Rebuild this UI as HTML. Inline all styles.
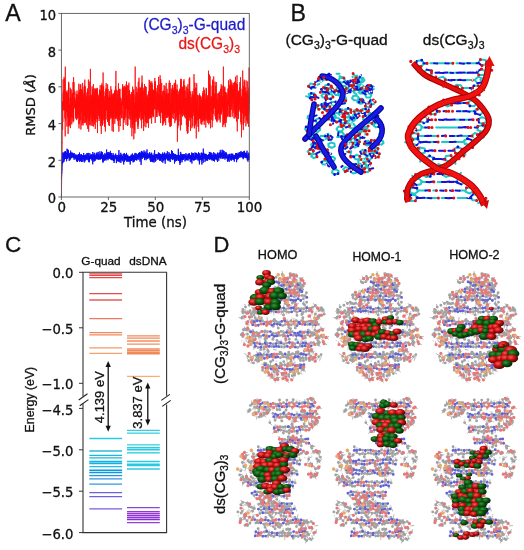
<!DOCTYPE html>
<html><head><meta charset="utf-8"><title>Figure</title>
<style>
html,body{margin:0;padding:0;background:#fff;}
body{width:524px;height:550px;overflow:hidden;position:relative;}
svg{position:absolute;left:0;top:0;display:block;filter:blur(0.3px);}
text[fill="#111"]{stroke:#111;stroke-width:0.3px;}
text[fill="#1c1cc8"]{stroke:#1c1cc8;stroke-width:0.25px;}
text[fill="#e61818"]{stroke:#e61818;stroke-width:0.25px;}
</style></head><body>
<svg width="524" height="550" viewBox="0 0 524 550">
<rect width="524" height="550" fill="#fff"/>
<text x="290.4" y="20.6" font-family="'Liberation Sans', Arial, Helvetica, sans-serif" font-size="23.2" fill="#111">B</text>
<text x="336.6" y="45" text-anchor="middle" font-family="'Liberation Sans', Arial, Helvetica, sans-serif" font-size="15.5" fill="#111">(CG<tspan font-size="10.5" dy="3.5">3</tspan><tspan dy="-3.5">)</tspan><tspan font-size="10.5" dy="3.5">3</tspan><tspan dy="-3.5">-G-quad</tspan></text>
<text x="453.7" y="45" text-anchor="middle" font-family="'Liberation Sans', Arial, Helvetica, sans-serif" font-size="15.5" fill="#111">ds(CG<tspan font-size="10.5" dy="3.5">3</tspan><tspan dy="-3.5">)</tspan><tspan font-size="10.5" dy="3.5">3</tspan></text>
<path fill="none" stroke="#1ec8c8" stroke-width="2.00" stroke-linecap="round" d="M424.4 63.6L421.0 66.5M421.0 66.5L416.2 65.0M416.7 61.1L421.7 60.2M421.7 60.2L424.4 63.6M486.6 63.7L482.0 65.6M478.3 62.9L480.4 59.4M480.4 59.4L485.6 59.9M485.6 59.9L486.6 63.7M430.3 63.3L434.1 63.3M437.2 63.3L441.1 63.3M441.1 63.3L445.3 63.3M448.6 63.3L452.9 63.3M456.5 63.3L459.8 63.3M464.0 63.3L467.3 63.3M469.9 63.3L473.8 63.3M473.8 63.3L476.6 63.3M431.6 74.7L426.6 75.9M426.6 75.9L423.6 72.7M423.6 72.7L426.7 69.6M431.6 70.8L431.6 74.7M484.0 75.1L478.8 75.0M478.8 75.0L477.3 71.3M481.5 69.1L485.6 71.4M485.6 71.4L484.0 75.1M447.1 72.7L450.5 72.7M453.0 72.7L457.0 72.7M464.6 72.7L467.6 72.7M477.4 72.7L477.9 72.7M445.1 82.3L440.9 83.4M440.9 83.4L437.7 81.2M437.7 81.2L438.6 77.9M438.6 77.9L442.8 76.9M442.8 76.9L446.0 79.1M446.0 79.1L445.1 82.3M477.4 83.2L474.6 79.9M474.6 79.9L477.9 76.9M477.9 76.9L482.7 78.4M482.7 78.4L482.4 82.2M454.7 80.1L458.2 80.1M465.2 80.1L468.6 80.1M468.6 80.1L472.5 80.1M462.5 88.3L459.8 90.9M459.8 90.9L455.4 90.5M455.4 90.5L453.8 87.4M453.8 87.4L456.4 84.8M456.4 84.8L460.8 85.3M460.8 85.3L462.5 88.3M480.4 88.7L478.2 91.6M478.2 91.6L473.8 91.5M473.8 91.5L471.6 88.6M471.6 88.6L473.9 85.8M473.9 85.8L478.3 85.8M478.3 85.8L480.4 88.7M461.6 87.9L465.6 87.9M465.6 87.9L469.8 87.9M451.6 104.9L447.6 106.4M447.6 106.4L443.9 104.6M443.9 104.6L444.1 101.3M444.1 101.3L448.1 99.8M448.1 99.8L451.8 101.6M451.8 101.6L451.6 104.9M476.7 103.3L474.3 106.1M474.3 106.1L469.9 106.0M469.9 106.0L467.9 103.0M467.9 103.0L470.2 100.3M470.2 100.3L474.6 100.4M474.6 100.4L476.7 103.3M460.5 103.1L463.3 103.1M437.6 111.6L435.1 114.3M435.1 114.3L430.7 114.1M430.7 114.1L428.8 111.1M428.8 111.1L431.4 108.4M431.4 108.4L435.7 108.6M483.2 111.9L480.0 114.9M475.1 113.4L475.5 109.6M475.5 109.6L480.5 108.6M480.5 108.6L483.2 111.9M460.1 111.3L463.3 111.3M469.6 111.3L474.1 111.3M427.6 121.4L423.8 122.9M423.8 122.9L420.0 121.2M420.1 117.9L424.0 116.4M424.0 116.4L427.8 118.1M427.8 118.1L427.6 121.4M486.5 121.6L483.1 123.7M483.1 123.7L479.0 122.6M478.3 119.3L481.7 117.2M481.7 117.2L485.8 118.4M485.8 118.4L486.5 121.6M454.7 119.7L457.5 119.7M457.5 119.7L460.1 119.7M464.3 119.7L468.8 119.7M420.7 129.9L416.4 130.5M413.5 128.0L415.0 124.9M415.0 124.9L419.3 124.3M419.3 124.3L422.1 126.8M422.1 126.8L420.7 129.9M485.6 128.6L482.3 131.6M482.3 131.6L477.5 130.2M477.5 130.2L477.8 126.3M477.8 126.3L482.7 125.3M482.7 125.3L485.6 128.6M421.3 127.4L425.1 127.4M436.2 127.4L440.5 127.4M440.5 127.4L443.9 127.4M443.9 127.4L448.1 127.4M448.1 127.4L452.2 127.4M452.2 127.4L455.2 127.4M455.2 127.4L458.9 127.4M418.0 137.9L413.1 139.0M413.1 139.0L410.1 135.8M410.1 135.8L413.2 132.7M413.2 132.7L418.1 134.0M479.2 138.3L474.2 139.2M474.2 139.2L471.4 136.0M471.4 136.0L474.7 133.0M474.7 133.0L479.5 134.4M479.5 134.4L479.2 138.3M418.0 135.9L422.5 135.9M422.5 135.9L425.1 135.9M431.1 135.9L434.3 135.9M434.3 135.9L437.9 135.9M454.0 135.9L457.6 135.9M461.7 135.9L465.4 135.9M465.4 135.9L468.9 135.9M416.5 145.2L411.9 143.4M411.9 143.4L412.8 139.6M412.8 139.6L417.9 139.0M417.9 139.0L420.2 142.5M472.2 143.2L468.8 145.2M468.8 145.2L464.7 144.0M464.7 144.0L464.0 140.7M464.0 140.7L467.5 138.7M471.6 139.9L472.2 143.2M429.9 141.9L434.0 141.9M441.9 141.9L446.2 141.9M446.2 141.9L449.8 141.9M455.7 141.9L458.7 141.9M458.7 141.9L463.1 141.9M463.1 141.9L464.6 141.9M425.0 152.5L420.2 153.9M420.2 153.9L417.0 150.8M417.0 150.8L419.8 147.6M419.8 147.6L424.8 148.6M424.8 148.6L425.0 152.5M460.6 152.9L455.4 153.0M455.4 153.0L453.7 149.3M453.7 149.3L457.9 147.0M457.9 147.0L462.1 149.2M462.1 149.2L460.6 152.9M432.3 161.8L427.1 161.8M427.1 161.8L425.4 158.2M425.4 158.2L429.6 155.8M429.6 155.8L433.8 158.1M433.8 158.1L432.3 161.8M453.2 159.1L449.3 161.7M449.3 161.7L444.8 159.8M444.8 159.8L445.9 156.0M445.9 156.0L451.0 155.6M451.0 155.6L453.2 159.1M441.4 167.3L439.0 168.6M439.0 168.6L436.3 167.6M436.3 167.6L436.0 165.4M436.0 165.4L438.5 164.1M438.5 164.1L441.2 165.1M441.2 165.1L441.4 167.3M430.3 176.4L426.0 177.1M426.0 177.1L423.1 174.7M423.1 174.7L424.4 171.5M428.7 170.9L431.7 173.3M431.7 173.3L430.3 176.4M450.1 175.8L445.9 176.9M445.9 176.9L442.6 174.7M447.6 170.4L450.9 172.5M450.9 172.5L450.1 175.8M420.8 184.2L416.5 185.1M413.4 182.8L414.4 179.6M414.4 179.6L418.7 178.7M418.7 178.7L421.8 181.0M421.8 181.0L420.8 184.2M465.1 181.8L461.4 184.4M456.8 182.5L457.8 178.7M457.8 178.7L463.0 178.3M463.0 178.3L465.1 181.8M421.1 181.9L424.0 181.9M424.0 181.9L426.6 181.9M437.7 181.9L441.9 181.9M418.0 191.4L415.0 193.7M415.0 193.7L410.7 192.9M410.7 192.9L409.5 189.7M409.5 189.7L412.6 187.4M416.9 188.2L418.0 191.4M473.6 190.9L469.8 193.5M469.8 193.5L465.3 191.6M465.3 191.6L466.4 187.8M466.4 187.8L471.5 187.4M471.5 187.4L473.6 190.9M417.3 190.6L421.0 190.6M421.0 190.6L425.4 190.6M433.2 190.6L436.4 190.6M443.4 190.6L446.0 190.6M459.7 190.6L462.2 190.6M462.2 190.6L465.8 190.6M415.4 200.7L411.0 200.9M411.0 200.9L408.6 198.1M410.6 195.1L415.0 194.9M415.0 194.9L417.4 197.7M417.4 197.7L415.4 200.7M479.2 197.7L476.7 200.4M476.7 200.4L472.3 200.1M472.3 200.1L470.5 197.1M473.0 194.4L477.4 194.7M477.4 194.7L479.2 197.7M424.5 197.9L427.9 197.9M431.4 197.9L434.1 197.9M434.1 197.9L438.4 197.9M441.6 197.9L445.4 197.9M457.7 197.9L460.4 197.9M460.4 197.9L464.0 197.9M464.0 197.9L467.5 197.9M418.3 68.3L421.6 69.2M435.7 79.8L431.8 79.9M453.0 87.4L459.1 89.5M471.0 98.5L468.4 96.6M481.2 106.8L478.1 109.2M487.0 117.9L487.0 115.0M489.1 127.1L489.8 124.4M483.8 137.5L480.2 138.1M467.6 145.7L466.7 143.6M463.3 152.5L465.5 154.5M454.2 159.4L455.5 163.9M440.5 165.6L437.3 165.7M427.7 172.9L430.9 173.8M415.2 177.7L412.2 175.8M412.9 185.3L414.9 183.9M404.8 193.1L410.8 195.1M408.5 200.7L408.3 197.0M488.4 67.4L486.1 67.8M482.1 81.2L480.4 79.7M476.6 93.7L472.0 90.9M458.7 97.1L460.4 98.9M447.9 104.3L447.4 102.3M433.3 110.7L431.1 108.5M418.2 116.0L421.3 118.7M413.3 126.3L416.6 125.0M411.2 135.0L406.2 136.0M411.0 141.5L405.1 142.2M413.7 149.0L419.6 149.6M422.3 157.3L420.1 161.6M435.9 164.2L430.6 164.0M444.7 172.3L441.9 172.9M458.2 176.6L460.9 172.9M466.2 180.2L462.2 180.0M477.9 192.5L477.0 190.4M481.9 202.3L478.1 203.0"/>
<path fill="none" stroke="#1212d8" stroke-width="2.00" stroke-linecap="round" d="M416.2 65.0L416.7 61.1M482.0 65.6L478.3 62.9M423.5 63.3L427.1 63.6M434.1 63.3L437.2 63.6M445.3 63.3L448.6 63.5M459.8 63.3L464.0 63.7M467.3 63.3L469.9 63.3M476.6 63.3L479.1 63.2M426.7 69.6L431.6 70.8M477.3 71.3L481.5 69.1M435.5 72.7L439.5 72.6M439.5 72.7L443.6 73.1M443.6 72.7L447.1 72.4M450.5 72.7L453.0 73.0M457.0 72.7L461.0 72.6M461.0 72.7L464.6 72.4M467.6 72.7L470.5 72.6M470.5 72.7L473.1 72.4M473.1 72.7L477.4 72.8M482.4 82.2L477.4 83.2M448.2 80.1L451.5 80.6M451.5 80.1L454.7 79.9M458.2 80.1L460.8 79.7M460.8 80.1L465.2 80.3M469.8 87.9L472.5 87.9M451.4 103.1L454.3 103.3M454.3 103.1L457.9 103.6M457.9 103.1L460.5 103.3M463.3 103.1L466.9 103.1M435.7 108.6L437.6 111.6M480.0 114.9L475.1 113.4M436.7 111.3L439.4 111.2M443.5 111.3L446.2 111.1M456.8 111.3L460.1 111.3M463.3 111.3L466.8 111.1M466.8 111.3L469.6 111.7M474.1 111.3L475.4 111.6M420.0 121.2L420.1 117.9M479.0 122.6L478.3 119.3M427.4 119.7L431.8 120.1M438.9 119.7L443.3 120.1M443.3 119.7L446.6 119.2M446.6 119.7L450.7 119.7M450.7 119.7L454.7 119.5M460.1 119.7L464.3 119.7M468.8 119.7L473.1 119.4M416.4 130.5L413.5 128.0M425.1 127.4L429.0 127.4M458.9 127.4L461.8 127.5M461.8 127.4L465.0 127.1M465.0 127.4L468.0 127.1M474.7 127.4L477.7 127.5M418.1 134.0L418.0 137.9M425.1 135.9L428.4 135.8M428.4 135.9L431.1 135.8M441.9 135.9L445.7 135.5M449.8 135.9L454.0 136.0M457.6 135.9L461.7 135.5M468.9 135.9L472.0 135.9M420.2 142.5L416.5 145.2M467.5 138.7L471.6 139.9M419.3 141.9L422.8 142.2M422.8 141.9L427.0 141.7M427.0 141.9L429.9 142.2M434.0 141.9L438.1 142.1M449.8 141.9L452.7 141.9M452.7 141.9L455.7 141.7M424.9 150.7L428.3 151.2M428.3 150.7L432.0 150.3M432.0 150.7L435.0 150.6M439.0 150.7L442.1 150.8M442.1 150.7L444.9 150.9M448.4 150.7L452.8 150.7M452.8 150.7L454.4 150.5M433.2 159.1L436.6 158.9M436.6 159.1L440.8 159.1M440.8 159.1L444.0 159.6M444.0 159.1L445.3 159.2M424.4 171.5L428.7 170.9M442.6 174.7L443.4 171.5M443.4 171.5L447.6 170.4M430.9 174.0L433.9 174.0M437.3 174.0L440.4 173.7M440.4 174.0L443.3 173.6M416.5 185.1L413.4 182.8M461.4 184.4L456.8 182.5M426.6 181.9L430.3 182.2M430.3 181.9L433.9 181.5M441.9 181.9L445.7 182.1M445.7 181.9L449.5 181.6M449.5 181.9L453.7 181.8M453.7 181.9L457.3 181.7M412.6 187.4L416.9 188.2M425.4 190.6L429.6 190.3M440.2 190.6L443.4 190.8M450.0 190.6L452.6 191.0M455.4 190.6L459.7 190.8M408.6 198.1L410.6 195.1M470.5 197.1L473.0 194.4M416.5 197.9L420.4 198.1M420.4 197.9L424.5 197.8M427.9 197.9L431.4 198.2M445.4 197.9L449.6 198.3M449.6 197.9L453.8 197.9M467.5 197.9L471.4 198.2"/>

<path fill="none" stroke="#1010d0" stroke-width="2.80" stroke-linecap="round" d="M421.7 60.2h0M471.6 88.6h0M473.9 85.8h0M469.9 106.0h0M475.1 113.4h0M427.6 121.4h0M423.8 122.9h0M478.3 119.3h0M413.5 128.0h0M482.7 125.3h0M479.5 134.4h0M417.9 139.0h0M467.5 138.7h0M420.2 153.9h0M417.0 150.8h0M457.9 147.0h0M425.4 158.2h0M429.6 155.8h0M433.8 158.1h0M453.2 159.1h0M430.3 176.4h0M465.1 181.8h0M416.9 188.2h0M410.6 195.1h0M417.4 197.7h0"/>
<path fill="none" stroke="#e01010" stroke-width="3.00" stroke-linecap="round" d="M421.0 66.5h0M486.6 63.7h0M482.0 65.6h0M480.4 59.4h0M427.1 63.3h0M452.9 63.3h0M431.6 70.8h0M478.8 75.0h0M481.5 69.1h0M431.5 72.7h0M440.9 83.4h0M445.3 80.1h0M472.5 80.1h0M462.5 88.3h0M480.4 88.7h0M478.2 91.6h0M478.3 85.8h0M472.5 87.9h0M451.6 104.9h0M443.9 104.6h0M448.1 99.8h0M467.9 103.0h0M474.6 100.4h0M466.9 103.1h0M435.1 114.3h0M430.7 114.1h0M428.8 111.1h0M439.4 111.3h0M446.2 111.3h0M448.7 111.3h0M452.5 111.3h0M420.0 121.2h0M424.0 116.4h0M427.8 118.1h0M483.1 123.7h0M431.8 119.7h0M435.6 119.7h0M473.1 119.7h0M477.3 119.7h0M415.0 124.9h0M477.8 126.3h0M429.0 127.4h0M432.0 127.4h0M468.0 127.4h0M470.7 127.4h0M413.2 132.7h0M418.1 134.0h0M437.9 135.9h0M445.7 135.9h0M472.0 135.9h0M412.8 139.6h0M438.1 141.9h0M455.4 153.0h0M453.7 149.3h0M462.1 149.2h0M435.0 150.7h0M444.9 150.7h0M444.8 159.8h0M451.0 155.6h0M441.4 167.3h0M423.1 174.7h0M443.4 171.5h0M450.9 172.5h0M433.9 174.0h0M433.9 181.9h0M466.4 187.8h0M429.6 190.6h0M436.4 190.6h0M446.0 190.6h0M452.6 190.6h0M415.4 200.7h0M476.7 200.4h0M438.4 197.9h0M453.8 197.9h0M418.8 71.2h0M418.6 67.4h0M436.9 80.3h0M435.9 77.1h0M456.3 86.7h0M457.5 86.8h0M469.0 94.5h0M472.8 99.2h0M477.3 109.2h0M478.8 106.8h0M486.0 115.7h0M486.7 118.9h0M485.3 125.6h0M490.0 124.9h0M480.5 133.0h0M477.3 134.8h0M473.6 142.9h0M472.6 147.5h0M463.8 156.0h0M463.7 150.5h0M454.2 161.2h0M450.9 162.2h0M438.2 168.3h0M441.3 166.6h0M430.3 170.9h0M427.5 174.9h0M419.4 176.8h0M415.6 174.5h0M411.8 181.2h0M413.3 185.2h0M407.9 192.3h0M404.3 191.1h0M410.9 198.2h0M405.6 198.7h0M486.6 67.4h0M491.8 70.3h0M484.5 79.4h0M486.4 79.6h0M477.6 94.0h0M479.3 94.9h0M460.0 96.0h0M461.3 100.1h0M443.6 99.9h0M443.2 102.7h0M431.9 107.6h0M428.9 107.1h0M420.0 120.4h0M418.3 118.8h0M415.5 128.8h0M408.9 126.8h0M410.9 132.0h0M407.3 133.7h0M411.6 140.6h0M411.4 142.7h0M417.9 153.2h0M418.3 147.9h0M425.0 160.2h0M425.0 160.0h0M429.9 165.6h0M435.1 166.1h0M444.9 168.9h0M441.5 170.0h0M459.4 177.7h0M453.0 174.1h0M467.9 183.5h0M466.0 182.1h0M478.2 193.4h0M473.7 192.5h0M485.2 200.4h0M485.9 198.3h0"/>
<path fill="none" stroke="#f4f4f4" stroke-width="1.80" stroke-linecap="round" d="M414.2 65.9h0M414.8 59.9h0M445.3 61.0h0M448.6 65.6h0M456.5 61.0h0M476.6 65.6h0M425.7 77.9h0M443.6 75.0h0M464.6 70.4h0M473.1 75.0h0M477.4 70.4h0M484.3 83.4h0M472.4 79.8h0M445.3 82.4h0M454.7 82.4h0M472.5 77.8h0M461.6 90.2h0M472.5 90.2h0M469.0 98.5h0M466.9 100.8h0M473.6 108.4h0M439.4 109.0h0M456.8 113.6h0M460.1 113.6h0M427.4 117.4h0M468.8 117.4h0M473.1 117.4h0M477.3 117.4h0M487.8 128.6h0M483.1 133.6h0M432.0 125.1h0M436.2 125.1h0M461.8 125.1h0M407.9 135.8h0M428.4 138.2h0M449.8 138.2h0M465.4 133.6h0M472.0 138.2h0M409.8 144.1h0M474.3 143.8h0M461.9 140.1h0M473.5 138.8h0M419.3 144.2h0M427.0 144.2h0M446.2 139.6h0M462.2 154.5h0M432.0 153.0h0M452.8 148.4h0M449.7 163.9h0M433.2 161.4h0M444.0 161.4h0M438.3 161.9h0M443.2 164.1h0M429.6 168.8h0M454.8 183.3h0M456.1 177.3h0M430.3 184.2h0M433.9 184.2h0M437.7 179.6h0M407.4 189.3h0M475.8 191.3h0M450.0 188.3h0M452.6 188.3h0M468.3 197.0h0M431.4 195.6h0M438.4 195.6h0M457.7 200.2h0M441.1 83.9h0M450.1 92.4h0M485.4 105.4h0M488.9 119.9h0M436.6 163.7h0M414.8 181.0h0M406.7 196.7h0M479.0 92.6h0M459.8 94.7h0M442.9 105.6h0M436.6 108.3h0M424.4 121.4h0M414.9 129.3h0M408.0 138.6h0M435.8 169.9h0M442.4 168.1h0M457.4 174.3h0M478.4 199.1h0"/>
<path d="M413.0 63.0 C415.0 65.0 419.5 71.3 425.0 75.0 C430.5 78.7 439.7 82.0 446.0 85.0 C452.3 88.0 458.0 90.3 463.0 93.0 C468.0 95.7 472.2 97.7 476.0 101.0 C479.8 104.3 483.8 109.7 486.0 113.0 C488.2 116.3 489.0 118.0 489.0 121.0 C489.0 124.0 488.2 127.7 486.0 131.0 C483.8 134.3 479.5 137.8 476.0 141.0 C472.5 144.2 468.2 147.3 465.0 150.0 C461.8 152.7 460.0 154.5 457.0 157.0 C454.0 159.5 450.8 162.8 447.0 165.0 C443.2 167.2 438.3 168.5 434.0 170.0 C429.7 171.5 424.5 172.3 421.0 174.0 C417.5 175.7 415.2 177.7 413.0 180.0 C410.8 182.3 409.0 185.0 408.0 188.0 C407.0 191.0 407.0 195.7 407.0 198.0 C407.0 200.3 407.8 201.3 408.0 202.0" fill="none" stroke="#a00000" stroke-width="5.8" stroke-linecap="butt" stroke-linejoin="round"/>
<path d="M413.0 63.0 C415.0 65.0 419.5 71.3 425.0 75.0 C430.5 78.7 439.7 82.0 446.0 85.0 C452.3 88.0 458.0 90.3 463.0 93.0 C468.0 95.7 472.2 97.7 476.0 101.0 C479.8 104.3 483.8 109.7 486.0 113.0 C488.2 116.3 489.0 118.0 489.0 121.0 C489.0 124.0 488.2 127.7 486.0 131.0 C483.8 134.3 479.5 137.8 476.0 141.0 C472.5 144.2 468.2 147.3 465.0 150.0 C461.8 152.7 460.0 154.5 457.0 157.0 C454.0 159.5 450.8 162.8 447.0 165.0 C443.2 167.2 438.3 168.5 434.0 170.0 C429.7 171.5 424.5 172.3 421.0 174.0 C417.5 175.7 415.2 177.7 413.0 180.0 C410.8 182.3 409.0 185.0 408.0 188.0 C407.0 191.0 407.0 195.7 407.0 198.0 C407.0 200.3 407.8 201.3 408.0 202.0" fill="none" stroke="#e80c0c" stroke-width="3.8" stroke-linecap="butt" stroke-linejoin="round"/>
<path d="M489.0 61.0 C488.7 63.3 488.2 70.5 487.0 75.0 C485.8 79.5 484.8 84.5 482.0 88.0 C479.2 91.5 474.8 94.0 470.0 96.0 C465.2 98.0 458.3 98.5 453.0 100.0 C447.7 101.5 442.7 102.8 438.0 105.0 C433.3 107.2 428.8 110.2 425.0 113.0 C421.2 115.8 417.5 119.2 415.0 122.0 C412.5 124.8 411.2 127.5 410.0 130.0 C408.8 132.5 407.8 134.3 408.0 137.0 C408.2 139.7 409.2 143.0 411.0 146.0 C412.8 149.0 416.0 152.2 419.0 155.0 C422.0 157.8 425.8 160.7 429.0 163.0 C432.2 165.3 434.3 167.3 438.0 169.0 C441.7 170.7 447.2 171.5 451.0 173.0 C454.8 174.5 457.5 175.8 461.0 178.0 C464.5 180.2 468.8 183.0 472.0 186.0 C475.2 189.0 478.0 192.8 480.0 196.0 C482.0 199.2 483.3 203.5 484.0 205.0" fill="none" stroke="#a80000" stroke-width="6.6" stroke-linecap="butt" stroke-linejoin="round"/>
<path d="M489.0 61.0 C488.7 63.3 488.2 70.5 487.0 75.0 C485.8 79.5 484.8 84.5 482.0 88.0 C479.2 91.5 474.8 94.0 470.0 96.0 C465.2 98.0 458.3 98.5 453.0 100.0 C447.7 101.5 442.7 102.8 438.0 105.0 C433.3 107.2 428.8 110.2 425.0 113.0 C421.2 115.8 417.5 119.2 415.0 122.0 C412.5 124.8 411.2 127.5 410.0 130.0 C408.8 132.5 407.8 134.3 408.0 137.0 C408.2 139.7 409.2 143.0 411.0 146.0 C412.8 149.0 416.0 152.2 419.0 155.0 C422.0 157.8 425.8 160.7 429.0 163.0 C432.2 165.3 434.3 167.3 438.0 169.0 C441.7 170.7 447.2 171.5 451.0 173.0 C454.8 174.5 457.5 175.8 461.0 178.0 C464.5 180.2 468.8 183.0 472.0 186.0 C475.2 189.0 478.0 192.8 480.0 196.0 C482.0 199.2 483.3 203.5 484.0 205.0" fill="none" stroke="#f21212" stroke-width="4.6" stroke-linecap="butt" stroke-linejoin="round"/>
<path d="M489.5 56 L494.5 66 L484.5 66 Z" fill="#e80c0c"/>
<path d="M481 202 L489 200 L487 209 Z" fill="#d00a0a"/>
<path fill="none" stroke="#e01010" stroke-width="3.20" stroke-linecap="round" d="M410.8 61.4h0M443.4 86.1h0M477.9 102.0h0M488.8 120.1h0M475.2 141.9h0M458.9 158.7h0M434.3 171.6h0M411.1 179.6h0M408.3 198.9h0M489.1 60.2h0M483.6 89.7h0M453.1 101.6h0M425.5 112.3h0M409.3 129.1h0M409.4 147.1h0M431.6 163.8h0M450.0 174.7h0M475.0 187.7h0M483.6 203.2h0"/>
<path fill="none" stroke="#1ec8c8" stroke-width="2.00" stroke-linecap="round" d="M366.5 120.2L363.1 119.3M363.1 119.3L363.1 116.6M363.1 116.6L366.6 115.8M366.6 115.8L368.6 118.0M375.8 127.3L373.7 125.7M373.7 125.7L374.5 123.6M374.5 123.6L377.4 123.0M377.4 123.0L379.5 124.6M379.5 124.6L378.7 126.8M378.7 126.8L375.8 127.3M370.3 159.4L367.4 159.2M367.4 159.2L366.1 157.2M366.1 157.2L367.8 155.4M367.8 155.4L370.8 155.6M372.0 157.6L370.3 159.4M326.6 79.4L322.6 79.5M322.6 79.5L321.2 76.7M321.2 76.7L324.3 74.8M324.3 74.8L327.7 76.4M327.7 76.4L326.6 79.4M350.2 139.1L346.1 139.7M346.1 139.7L344.1 137.0M347.0 134.7L350.7 136.1M350.7 136.1L350.2 139.1M317.1 148.0L316.5 145.9M316.5 145.9L318.7 144.4M321.5 145.1L322.1 147.3M322.1 147.3L319.8 148.7M319.8 148.7L317.1 148.0M362.6 82.2L359.3 82.0M358.0 79.8L359.9 77.8M359.9 77.8L363.1 78.0M363.1 78.0L364.5 80.2M364.5 80.2L362.6 82.2M343.4 129.2L341.4 131.4M341.4 131.4L337.9 131.1M337.9 131.1L336.5 128.8M336.5 128.8L338.5 126.6M338.5 126.6L342.0 126.9M342.0 126.9L343.4 129.2M367.8 122.7L367.1 119.6M367.1 119.6L370.9 118.1M370.9 118.1L373.8 120.4M373.8 120.4L371.9 123.2M371.9 123.2L367.8 122.7M365.7 91.9L361.8 91.8M361.8 91.8L360.6 89.0M360.6 89.0L363.8 87.3M363.8 87.3L367.0 89.1M325.4 79.1L322.0 79.1M322.0 79.1L320.3 76.8M320.3 76.8L322.1 74.7M322.1 74.7L325.5 74.7M325.5 74.7L327.2 76.9M327.2 76.9L325.4 79.1M369.4 165.4L366.2 165.6M366.2 165.6L364.4 163.6M364.4 163.6L365.8 161.5M365.8 161.5L369.0 161.3M369.0 161.3L370.7 163.3M370.7 163.3L369.4 165.4M324.0 79.9L321.0 81.6M321.0 81.6L318.0 79.9M322.8 77.2L324.0 79.9M345.3 111.9L345.4 109.6M345.4 109.6L348.1 108.4M348.1 108.4L350.8 109.7M350.8 109.7L350.7 112.1M350.7 112.1L347.9 113.2M347.9 113.2L345.3 111.9M343.5 125.4L345.2 122.9M345.2 122.9L348.9 123.3M348.9 123.3L349.5 126.1M346.1 127.4L343.5 125.4M362.2 169.8L359.0 168.7M359.0 168.7L359.5 166.1M359.5 166.1L362.9 165.6M362.9 165.6L364.6 167.9M364.6 167.9L362.2 169.8M327.5 163.1L325.5 164.8M325.5 164.8L322.6 164.3M322.6 164.3L321.7 162.2M321.7 162.2L323.7 160.5M323.7 160.5L326.6 161.0M326.6 161.0L327.5 163.1M375.4 117.7L372.2 117.1M372.2 117.1L371.2 114.7M371.2 114.7L373.5 112.8M373.5 112.8L376.7 113.4M376.7 113.4L377.7 115.8M377.7 115.8L375.4 117.7M338.0 173.7L334.6 174.5M334.6 174.5L332.0 172.7M332.0 172.7L332.7 170.1M332.7 170.1L336.1 169.3M336.1 169.3L338.7 171.1M338.7 171.1L338.0 173.7M353.3 82.7L352.8 80.3M352.8 80.3L355.4 78.7M355.4 78.7L358.5 79.7M358.5 79.7L358.9 82.1M358.9 82.1L356.3 83.6M356.3 83.6L353.3 82.7M357.7 168.1L354.5 168.8M354.5 168.8L352.1 167.0M352.1 167.0L352.9 164.6M356.1 163.9L358.5 165.7M358.5 165.7L357.7 168.1M358.6 163.6L358.1 160.7M358.1 160.7L361.5 159.5M361.5 159.5L364.1 161.6M364.1 161.6L362.3 164.1M362.3 164.1L358.6 163.6M375.4 116.6L372.2 117.9M372.2 117.9L369.6 116.0M369.6 116.0L371.2 113.5M371.2 113.5L374.8 113.9M374.8 113.9L375.4 116.6M325.9 138.7L322.7 140.5M319.4 138.7L320.6 135.9M320.6 135.9L324.7 135.9M324.7 135.9L325.9 138.7M327.8 90.3L325.7 92.1M322.5 91.7L321.4 89.4M321.4 89.4L323.5 87.6M323.5 87.6L326.7 88.0M316.1 146.2L317.3 143.9M317.3 143.9L320.5 143.4M320.5 143.4L322.6 145.3M322.6 145.3L321.5 147.6M321.5 147.6L318.2 148.1M318.2 148.1L316.1 146.2M364.4 130.9L361.1 131.2M361.1 131.2L359.7 128.9M359.7 128.9L362.2 127.2M362.2 127.2L365.2 128.4M365.2 128.4L364.4 130.9M338.4 81.0L339.7 78.0M339.7 78.0L343.9 78.0M343.9 78.0L345.2 81.0M345.2 81.0L341.8 82.8M341.8 82.8L338.4 81.0M333.0 97.0L330.6 99.0M330.6 99.0L327.2 98.4M326.2 95.8L328.6 93.9M328.6 93.9L332.0 94.5M332.0 94.5L333.0 97.0M340.7 93.0L338.8 95.1M338.8 95.1L335.5 94.9M335.5 94.9L334.1 92.6M336.0 90.5L339.3 90.8M339.3 90.8L340.7 93.0M308.5 86.3L310.5 83.5M310.5 83.5L314.6 84.2M314.6 84.2L315.1 87.3M315.1 87.3L311.3 88.6M325.9 120.0L323.1 118.4M323.1 118.4L324.2 116.0M324.2 116.0L327.7 116.0M327.7 116.0L328.7 118.5M328.7 118.5L325.9 120.0M322.7 97.5L321.4 95.6M321.4 95.6L323.0 93.7M323.0 93.7L325.9 93.8M325.9 93.8L327.2 95.8M327.2 95.8L325.6 97.6M325.6 97.6L322.7 97.5M356.9 89.1L354.2 89.9M354.2 89.9L351.9 88.6M351.9 88.6L352.3 86.5M352.3 86.5L355.0 85.6M344.7 91.2L345.4 88.8M345.4 88.8L348.5 88.1M348.5 88.1L350.9 89.7M350.9 89.7L350.2 92.1M350.2 92.1L347.1 92.8M371.1 104.2L369.2 102.4M370.3 100.3L373.4 100.0M375.2 101.8L374.1 103.9M374.1 103.9L371.1 104.2M343.7 95.9L339.6 96.1M339.6 96.1L338.1 93.2M338.1 93.2L341.3 91.2M341.3 91.2L344.8 92.9M344.8 92.9L343.7 95.9M381.5 144.6L378.4 144.2M378.4 144.2L377.5 141.9M377.5 141.9L379.6 140.2M379.6 140.2L382.6 140.7M382.6 140.7L383.6 142.9M383.6 142.9L381.5 144.6M368.4 87.9L370.5 85.8M370.5 85.8L373.8 86.7M373.8 86.7L373.7 89.3M373.7 89.3L370.3 90.1M312.4 138.0L311.8 135.9M311.8 135.9L313.9 134.4M313.9 134.4L316.7 135.1M316.7 135.1L317.3 137.2M364.9 115.4L364.8 113.0M364.8 113.0L367.5 111.8M367.5 111.8L370.2 112.9M370.2 112.9L370.3 115.2M370.3 115.2L367.7 116.5M369.9 169.9L368.1 172.0M368.1 172.0L364.7 171.9M364.7 171.9L363.2 169.7M363.2 169.7L365.0 167.6M365.0 167.6L368.3 167.7M368.3 167.7L369.9 169.9M307.5 118.0L308.0 115.9M308.0 115.9L310.8 115.2M310.8 115.2L312.9 116.6M312.9 116.6L312.4 118.8M309.6 119.5L307.5 118.0M308.9 138.6L309.7 136.0M309.7 136.0L313.3 135.7M313.3 135.7L314.7 138.2M314.7 138.2L312.0 140.0M334.1 120.7L334.4 118.5M334.4 118.5L337.2 117.5M337.2 117.5L339.7 118.9M339.7 118.9L339.4 121.1M344.2 100.9L341.5 100.3M341.5 100.3L341.0 98.2M341.0 98.2L343.1 96.8M343.1 96.8L345.8 97.5M345.8 97.5L346.3 99.6M346.3 99.6L344.2 100.9M317.0 156.8L313.9 158.1M313.9 158.1L311.2 156.3M311.2 156.3L312.7 153.9M312.7 153.9L316.3 154.1M322.0 149.7L317.9 149.1M317.9 149.1L317.4 146.0M317.4 146.0L321.1 144.6M321.1 144.6L324.0 146.9M324.0 146.9L322.0 149.7M341.6 136.6L338.0 135.5M338.4 132.6L342.2 132.0M342.2 132.0L344.2 134.5M344.2 134.5L341.6 136.6M312.9 153.2L309.3 153.7M309.3 153.7L307.6 151.4M307.6 151.4L310.0 149.4M310.0 149.4L313.3 150.5M313.3 150.5L312.9 153.2M356.0 116.1L353.4 114.4M353.4 114.4L354.1 111.9M354.1 111.9L357.4 111.1M357.4 111.1L360.0 112.8M360.0 112.8L359.3 115.4M341.4 103.9L339.0 102.1M340.0 99.6L343.3 99.0M343.3 99.0L345.7 100.8M345.7 100.8L344.8 103.3M330.9 109.5L327.5 111.0M327.5 111.0L324.5 109.0M324.5 109.0L326.2 106.3M326.2 106.3L330.1 106.6M330.1 106.6L330.9 109.5M332.2 92.3L328.1 91.6M328.1 91.6L327.7 88.4M327.7 88.4L331.6 87.2M331.6 87.2L334.3 89.6M334.3 89.6L332.2 92.3M315.5 148.0L313.0 146.5M313.6 144.2L316.5 143.3M316.5 143.3L319.0 144.9M319.0 144.9L318.4 147.2M318.4 147.2L315.5 148.0M331.0 88.7L327.7 89.9M327.7 89.9L324.8 88.3M324.8 88.3L325.1 85.6M325.1 85.6L328.4 84.5M328.4 84.5L331.3 86.0M331.3 86.0L331.0 88.7M355.7 145.1L353.2 143.4M353.2 143.4L353.8 141.0M353.8 141.0L357.0 140.2M357.0 140.2L359.5 141.8M359.5 141.8L358.8 144.3M348.9 89.6L349.6 86.5M349.6 86.5L353.7 86.1M353.7 86.1L355.5 88.9M355.5 88.9L352.5 91.0M352.5 91.0L348.9 89.6M367.6 129.1L366.0 130.9M366.0 130.9L363.1 130.8M363.1 130.8L361.8 128.9M361.8 128.9L363.4 127.0M363.4 127.0L366.3 127.1M366.3 127.1L367.6 129.1M342.3 148.2L341.6 146.0M341.6 146.0L343.8 144.4M343.8 144.4L346.7 145.0M346.7 145.0L347.4 147.2M345.2 148.8L342.3 148.2M360.3 151.7L362.3 150.0M362.3 150.0L365.3 150.4M365.3 150.4L366.4 152.6M366.4 152.6L364.4 154.3M364.4 154.3L361.3 153.9M362.2 90.5L362.0 88.0M362.0 88.0L365.0 87.1M365.0 87.1L367.2 89.0M367.2 89.0L365.4 91.2M365.4 91.2L362.2 90.5M356.7 94.2L353.8 92.6M353.8 92.6L355.0 90.1M355.0 90.1L358.6 90.1M358.6 90.1L359.6 92.7M359.6 92.7L356.7 94.2M341.6 90.0L339.0 91.7M336.1 90.4L336.8 87.8M336.8 87.8L340.3 87.6M340.3 87.6L341.6 90.0M359.2 159.0L355.4 159.3M355.4 159.3L353.8 156.8M353.8 156.8L356.5 154.8M356.5 154.8L359.9 156.2M359.9 156.2L359.2 159.0M316.6 122.7L315.7 119.7M315.7 119.7L319.3 118.1M322.4 120.1L320.7 123.0M320.7 123.0L316.6 122.7M352.0 90.7L348.4 90.4M348.4 90.4L347.7 87.7M347.7 87.7L350.9 86.3M350.9 86.3L353.6 88.2M353.6 88.2L352.0 90.7M329.0 116.8L329.7 113.8M329.7 113.8L333.7 113.4M333.7 113.4L335.6 116.1M335.6 116.1L332.6 118.3M332.6 118.3L329.0 116.8M345.6 143.1L345.0 140.2M345.0 140.2L348.5 138.9M348.5 138.9L351.2 141.0M351.2 141.0L349.4 143.5M349.4 143.5L345.6 143.1M362.0 112.9L360.6 110.7M360.6 110.7L362.4 108.7M362.4 108.7L365.6 108.9M365.6 108.9L367.0 111.0M367.0 111.0L365.2 113.0M353.1 173.5L350.8 171.9M354.6 168.8L356.9 170.5M356.9 170.5L356.2 172.8M356.2 172.8L353.1 173.5M369.5 117.9L368.0 115.7M368.0 115.7L369.9 113.6M369.9 113.6L373.2 113.7M373.2 113.7L374.7 116.0M372.8 118.1L369.5 117.9M323.8 109.0L324.1 106.5M327.2 105.4L330.0 106.9M330.0 106.9L329.7 109.4M326.6 110.5L323.8 109.0M337.3 113.3L334.5 112.2M334.5 112.2L334.4 109.8M334.4 109.8L337.1 108.5M337.1 108.5L340.0 109.6M340.0 109.6L340.1 112.0M340.1 112.0L337.3 113.3M328.6 139.9L326.6 138.2M326.6 138.2L327.6 136.1M327.6 136.1L330.5 135.7M332.5 137.4L331.5 139.5M374.4 151.9L371.7 150.3M371.7 150.3L372.2 147.8M372.2 147.8L375.3 146.8M375.3 146.8L378.0 148.4M378.0 148.4L377.6 150.9M377.6 150.9L374.4 151.9M310.8 97.1L309.6 95.1M309.6 95.1L311.3 93.3M311.3 93.3L314.2 93.6M314.2 93.6L315.4 95.6M315.4 95.6L313.7 97.3M310.2 98.2L307.8 96.4M307.8 96.4L308.6 94.0M308.6 94.0L311.9 93.2M311.9 93.2L314.3 95.0M314.3 95.0L313.5 97.5M313.5 97.5L310.2 98.2M372.0 152.4L369.0 151.0M369.0 151.0L369.1 148.3M369.1 148.3L372.2 147.1M372.2 147.1L375.2 148.5M375.2 148.5L375.1 151.1M375.1 151.1L372.0 152.4M350.4 117.4L352.7 115.5M352.7 115.5L355.8 116.6M355.8 116.6L355.4 119.1M355.4 119.1L352.0 119.6M358.5 88.0L357.8 85.5M357.8 85.5L360.8 84.2M360.8 84.2L363.4 86.0M363.4 86.0L362.0 88.3M362.0 88.3L358.5 88.0M354.8 120.3L352.0 121.9M352.0 121.9L349.1 120.4M349.1 120.4L350.1 117.9M350.1 117.9L353.6 117.8M353.6 117.8L354.8 120.3M367.9 107.2L365.4 106.1M365.4 106.1L365.5 103.9M365.5 103.9L368.0 102.9M368.0 102.9L370.4 104.0M370.4 104.0L370.4 106.2M370.4 106.2L367.9 107.2M354.1 100.3L352.0 98.3M352.0 98.3L353.2 95.9M353.2 95.9L356.7 95.5M356.7 95.5L358.8 97.6M358.8 97.6L357.5 100.0M357.5 100.0L354.1 100.3M345.2 171.5L343.1 169.3M343.1 169.3L345.3 167.1M345.3 167.1L348.6 168.0M348.6 168.0L348.6 170.6M359.1 102.2L358.2 99.6M358.2 99.6L361.2 98.1M361.2 98.1L364.0 99.8M364.0 99.8L362.7 102.3M362.7 102.3L359.1 102.2M347.3 84.2L347.5 81.7M347.5 81.7L350.5 80.5M353.3 81.9L353.1 84.5M353.1 84.5L350.1 85.6M310.1 130.5L307.1 130.9M307.1 130.9L305.1 129.2M305.1 129.2L306.1 127.0M306.1 127.0L309.1 126.6M309.1 126.6L311.1 128.3M311.1 128.3L310.1 130.5M355.0 80.2L356.2 77.7M356.2 77.7L359.7 77.1M359.7 77.1L362.1 79.2M362.1 79.2L360.9 81.7M360.9 81.7L357.4 82.2M357.4 82.2L355.0 80.2M352.9 128.7L349.3 127.4M349.3 127.4L349.9 124.4M349.9 124.4L353.8 124.0M353.8 124.0L355.7 126.6M355.7 126.6L352.9 128.7M364.3 143.8L365.1 141.4M365.1 141.4L368.3 140.7M368.3 140.7L370.6 142.5M370.6 142.5L369.8 144.9M369.8 144.9L366.6 145.5M366.6 145.5L364.3 143.8M318.8 109.3L316.8 107.6M316.8 107.6L317.8 105.5M317.8 105.5L320.8 105.1M320.8 105.1L322.8 106.8M322.8 106.8L321.8 108.9M321.8 108.9L318.8 109.3M375.4 142.9L372.6 144.2M372.6 144.2L370.0 142.6M370.0 142.6L371.3 140.3M371.3 140.3L374.6 140.5M374.6 140.5L375.4 142.9M347.8 117.4L344.7 117.4M344.7 117.4L343.1 115.4M347.7 113.3L349.3 115.3M349.3 115.3L347.8 117.4M366.5 87.6L368.0 85.5M368.0 85.5L371.1 85.4M372.7 87.4L371.3 89.5M371.3 89.5L368.2 89.6M353.3 134.6L353.9 132.5M353.9 132.5L356.6 131.8M356.6 131.8L358.8 133.2M358.8 133.2L358.3 135.4M358.3 135.4L355.5 136.1M355.5 136.1L353.3 134.6M330.4 104.4L331.8 101.7M331.8 101.7L335.7 101.9M335.7 101.9L336.7 104.7M336.7 104.7L333.4 106.2M333.4 106.2L330.4 104.4M364.7 168.4L361.6 167.0M362.3 164.4L365.9 164.1M365.9 164.1L367.4 166.6M367.4 166.6L364.7 168.4M370.2 89.5L367.0 89.5M367.0 89.5L365.6 87.4M365.6 87.4L367.2 85.4M367.2 85.4L370.3 85.5M370.3 85.5L371.8 87.5M371.8 87.5L370.2 89.5M360.1 139.1L356.8 140.1M356.8 140.1L354.4 138.1M354.4 138.1L356.3 135.7M356.3 135.7L359.8 136.3M359.8 136.3L360.1 139.1M321.4 104.1L325.1 102.6M328.1 104.7L326.3 107.5M326.3 107.5L322.2 107.1M312.0 146.8L311.1 144.4M311.1 144.4L313.4 142.6M313.4 142.6L316.6 143.2M316.6 143.2L317.6 145.6M315.3 147.4L312.0 146.8M363.7 130.4L360.7 132.5M360.7 132.5L357.1 130.9M357.1 130.9L357.9 127.9M357.9 127.9L362.1 127.6M362.1 127.6L363.7 130.4M358.6 114.2L355.3 114.7M355.3 114.7L353.0 112.8M353.0 112.8L354.1 110.4M354.1 110.4L357.5 109.9M357.5 109.9L359.7 111.8M359.7 111.8L358.6 114.2M346.1 113.0L342.1 113.9M342.1 113.9L339.8 111.4M339.8 111.4L342.3 108.9M342.3 108.9L346.2 110.0M346.2 110.0L346.1 113.0M314.1 131.6L313.0 129.1M313.0 129.1L315.4 127.0M315.4 127.0L318.9 127.6M318.9 127.6L320.1 130.1M320.1 130.1L317.7 132.1M317.7 132.1L314.1 131.6M322.2 153.3L321.5 150.7M321.5 150.7L324.2 149.0M324.2 149.0L327.5 149.8M327.5 149.8L328.2 152.4M325.6 154.2L322.2 153.3M355.1 88.9L352.7 86.9M352.7 86.9L353.8 84.4M353.8 84.4L357.3 83.8M357.3 83.8L359.7 85.7M359.7 85.7L358.6 88.3M358.6 88.3L355.1 88.9M340.7 120.3L343.9 119.5M343.9 119.5L345.9 121.5M345.9 121.5L344.0 123.6M344.0 123.6L340.7 122.9M360.1 93.5L358.9 90.9M358.9 90.9L361.9 89.3M361.9 89.3L364.8 90.8M364.8 90.8L363.7 93.4M363.7 93.4L360.1 93.5M334.8 146.3L331.9 147.8M331.9 147.8L328.7 146.7M328.7 146.7L328.3 144.1M328.3 144.1L331.2 142.5M331.2 142.5L334.4 143.6M334.4 143.6L334.8 146.3M357.3 102.4L358.1 99.9M358.1 99.9L361.4 99.8M362.7 102.1L360.1 103.7M360.1 103.7L357.3 102.4M368.1 118.0L367.2 115.9M367.2 115.9L369.3 114.3M369.3 114.3L372.1 114.8M372.1 114.8L373.0 116.9M373.0 116.9L370.9 118.5M370.9 118.5L368.1 118.0M340.7 88.1L342.2 85.8M342.2 85.8L345.6 86.1M345.6 86.1L346.2 88.6M346.2 88.6L343.2 89.9M378.4 156.9L375.2 157.4M373.0 155.7L374.0 153.3M374.0 153.3L377.1 152.8M377.1 152.8L379.3 154.6M379.3 154.6L378.4 156.9M331.0 161.0L329.1 159.2M329.1 159.2L330.2 157.1M330.2 157.1L333.2 156.8M333.2 156.8L335.1 158.5M335.1 158.5L334.0 160.7M334.0 160.7L331.0 161.0M370.1 97.6L366.3 97.5M366.3 97.5L365.2 94.7M365.2 94.7L368.4 93.1M368.4 93.1L371.4 94.9M371.4 94.9L370.1 97.6M340.8 115.8L338.7 114.1M338.7 114.1L339.5 111.9M342.4 111.3L344.6 113.0M344.6 113.0L343.8 115.2M343.8 115.2L340.8 115.8M358.3 146.1L354.8 147.7M354.8 147.7L351.6 145.7M353.2 142.8L357.3 143.0M358.4 102.0L359.9 99.6M363.4 99.9L364.1 102.5M364.1 102.5L361.0 103.8M361.0 103.8L358.4 102.0M363.6 159.4L367.6 156.8M320.2 128.5L317.3 127.1M309.4 131.8L311.7 130.8M376.0 116.0L373.3 115.8M328.8 133.7L324.9 135.3M371.0 123.7L374.3 125.6M332.0 121.2L329.7 119.5M358.6 87.2L355.9 87.4M336.6 73.8L339.5 73.7M349.2 151.9L346.7 151.7M350.6 154.0L351.2 151.1M354.6 78.3L357.1 75.6M307.6 96.4L306.0 96.2M312.1 125.0L314.1 127.8M340.2 131.2L342.9 133.1M351.3 139.1L355.1 137.4M365.3 134.5L365.6 133.4M343.2 77.5L339.4 76.3M317.3 84.8L319.4 84.0M321.0 80.0L319.8 77.6M352.5 76.6L352.7 76.9M320.7 122.7L321.4 125.3M370.8 102.4L370.8 99.7M344.6 122.4L348.5 120.7M353.7 74.5L356.0 76.9M337.1 136.9L340.7 136.9M379.2 133.7L383.1 131.3"/>
<path fill="none" stroke="#1212d8" stroke-width="2.00" stroke-linecap="round" d="M368.6 118.0L366.5 120.2M370.8 155.6L372.0 157.6M367.0 155.8L364.2 153.8M326.4 75.7L329.1 73.6M344.1 137.0L347.0 134.7M318.7 144.4L321.5 145.1M317.4 144.9L314.8 142.7M359.3 82.0L358.0 79.8M359.0 81.5L356.0 83.4M367.0 89.1L365.7 91.9M318.0 79.9L319.1 77.3M319.1 77.3L322.8 77.2M318.5 80.4L315.2 82.0M349.5 126.1L346.1 127.4M326.5 164.4L329.1 166.5M352.9 164.6L356.1 163.9M352.6 167.3L349.0 168.6M322.7 140.5L319.4 138.7M324.8 136.4L327.7 134.5M325.7 92.1L322.5 91.7M326.7 88.0L327.8 90.3M326.5 91.5L329.1 93.7M343.8 81.8L346.6 83.8M327.2 98.4L326.2 95.8M334.1 92.6L336.0 90.5M334.8 91.7L331.3 90.4M311.3 88.6L308.5 86.3M328.8 117.1L332.6 116.1M325.0 97.8L325.9 100.5M355.0 85.6L357.3 86.9M357.3 86.9L356.9 89.1M347.1 92.8L344.7 91.2M369.2 102.4L370.3 100.3M373.4 100.0L375.2 101.8M371.5 104.3L370.6 107.0M377.6 143.0L373.7 143.6M370.3 90.1L368.4 87.9M371.6 90.1L372.0 92.9M315.2 138.7L312.4 138.0M317.3 137.2L315.2 138.7M367.7 116.5L364.9 115.4M368.1 112.0L368.8 109.2M369.4 169.1L373.2 168.2M312.4 118.8L309.6 119.5M313.0 116.5L316.7 115.4M312.0 140.0L308.9 138.6M312.5 139.8L313.4 142.5M336.6 122.1L334.1 120.7M339.4 121.1L336.6 122.1M342.7 101.0L341.4 103.6M316.3 154.1L317.0 156.8M338.0 135.5L338.4 132.6M341.4 136.4L342.1 139.2M359.3 115.4L356.0 116.1M344.8 103.3L341.4 103.9M339.0 102.1L340.0 99.6M326.3 106.6L324.2 104.2M313.0 146.5L313.6 144.2M327.4 89.3L326.5 92.1M358.8 144.3L355.7 145.1M354.9 89.0L358.8 89.7M347.4 147.2L345.2 148.8M344.0 144.4L343.3 141.7M361.3 153.9L360.3 151.7M366.6 90.6L369.6 92.5M339.0 91.7L336.1 90.4M354.1 156.7L350.2 156.0M319.3 118.1L322.4 120.1M315.9 120.7L311.9 120.8M349.1 90.6L347.2 93.0M332.0 117.9L331.9 120.7M365.2 113.0L362.0 112.9M350.8 171.9L351.5 169.5M351.5 169.5L354.6 168.8M374.7 116.0L372.8 118.1M374.4 115.9L378.4 115.9M324.1 106.5L327.2 105.4M329.7 109.4L326.6 110.5M331.5 139.5L328.6 139.9M330.5 135.7L332.5 137.4M313.7 97.3L310.8 97.1M315.1 96.5L318.5 97.9M352.0 119.6L350.4 117.4M365.6 103.7L362.5 101.9M348.6 170.6L345.2 171.5M350.5 80.5L353.3 81.9M350.1 85.6L347.3 84.2M359.6 77.6L361.0 75.0M369.9 142.8L366.1 143.6M343.1 115.4L344.5 113.4M344.5 113.4L347.7 113.3M368.2 89.6L366.5 87.6M371.1 85.4L372.7 87.4M369.9 89.7L370.2 92.5M355.5 136.1L354.7 138.8M361.6 167.0L362.3 164.4M360.5 137.8L364.5 137.7M322.2 107.1L321.4 104.1M325.1 102.6L328.1 104.7M327.3 104.2L330.8 102.9M317.6 145.6L315.3 147.4M312.7 146.8L310.5 149.2M328.2 152.4L325.6 154.2M327.6 152.5L331.2 153.8M340.7 122.9L340.7 120.3M361.4 99.8L362.7 102.1M343.2 89.9L340.7 88.1M375.2 157.4L373.0 155.7M373.3 154.6L369.4 154.0M365.8 94.3L362.5 92.7M339.5 111.9L342.4 111.3M351.6 145.7L353.2 142.8M357.3 143.0L358.3 146.1M353.0 146.6L350.2 148.6M359.9 99.6L363.4 99.9M333.2 123.2L333.0 123.8M315.6 87.5L312.1 86.8M342.7 165.9L341.3 166.9M319.8 151.8L316.4 153.3M369.9 143.5L367.2 143.3M357.1 118.2L358.4 116.6M373.5 120.6L375.1 122.4M341.9 154.8L345.4 154.0M328.3 74.0L330.9 74.8M350.1 82.3L346.5 84.0M362.8 138.1L362.6 136.9"/>

<path fill="none" stroke="#1010d0" stroke-width="2.80" stroke-linecap="round" d="M378.7 126.8h0M321.2 76.7h0M318.7 144.4h0M321.5 145.1h0M322.1 147.3h0M358.0 79.8h0M360.6 89.0h0M322.0 79.1h0M369.4 165.4h0M369.0 161.3h0M348.1 108.4h0M345.2 122.9h0M359.0 168.7h0M321.7 162.2h0M372.2 117.1h0M338.0 173.7h0M334.6 174.5h0M357.7 168.1h0M325.7 92.1h0M321.4 89.4h0M318.2 148.1h0M359.7 128.9h0M330.6 99.0h0M339.3 90.8h0M327.7 116.0h0M350.9 89.7h0M350.2 92.1h0M370.5 85.8h0M364.9 115.4h0M312.9 116.6h0M334.1 120.7h0M341.0 98.2h0M317.4 146.0h0M341.6 136.6h0M324.5 109.0h0M315.5 148.0h0M313.0 146.5h0M324.8 88.3h0M328.4 84.5h0M357.0 140.2h0M349.6 86.5h0M355.5 88.9h0M361.8 128.9h0M342.3 148.2h0M365.3 150.4h0M339.0 91.7h0M353.8 156.8h0M333.7 113.4h0M332.6 118.3h0M365.6 108.9h0M373.2 113.7h0M340.0 109.6h0M327.6 136.1h0M311.3 93.3h0M310.2 98.2h0M314.3 95.0h0M372.2 147.1h0M353.6 117.8h0M359.1 102.2h0M347.5 81.7h0M306.1 127.0h0M357.4 82.2h0M365.1 141.4h0M370.6 142.5h0M371.3 89.5h0M353.9 132.5h0M358.3 135.4h0M335.7 101.9h0M367.2 85.4h0M313.4 142.6h0M358.6 114.2h0M355.3 114.7h0M318.9 127.6h0M325.6 154.2h0M340.7 120.3h0M364.8 90.8h0M368.1 118.0h0M373.0 155.7h0M377.1 152.8h0M329.1 159.2h0M330.2 157.1h0M344.6 113.0h0"/>
<path fill="none" stroke="#e01010" stroke-width="3.00" stroke-linecap="round" d="M368.6 118.0h0M363.1 116.6h0M379.5 124.6h0M367.4 159.2h0M326.6 79.4h0M350.2 139.1h0M347.0 134.7h0M350.7 136.1h0M317.1 148.0h0M319.8 148.7h0M371.9 123.2h0M367.0 89.1h0M370.7 163.3h0M319.1 77.3h0M345.3 111.9h0M350.8 109.7h0M343.5 125.4h0M349.5 126.1h0M362.2 169.8h0M376.7 113.4h0M352.8 80.3h0M354.5 168.8h0M358.5 165.7h0M361.5 159.5h0M323.5 87.6h0M317.3 143.9h0M320.5 143.4h0M364.4 130.9h0M343.9 78.0h0M333.0 97.0h0M327.2 98.4h0M326.2 95.8h0M308.5 86.3h0M314.6 84.2h0M323.1 118.4h0M324.2 116.0h0M325.6 97.6h0M352.3 86.5h0M373.4 100.0h0M375.2 101.8h0M378.4 144.2h0M317.3 137.2h0M367.5 111.8h0M369.9 169.9h0M364.7 171.9h0M336.6 122.1h0M343.1 96.8h0M317.0 156.8h0M309.3 153.7h0M310.0 149.4h0M313.3 150.5h0M354.1 111.9h0M359.3 115.4h0M343.3 99.0h0M345.7 100.8h0M330.9 109.5h0M330.1 106.6h0M327.7 88.4h0M331.6 87.2h0M334.3 89.6h0M327.7 89.9h0M331.3 86.0h0M359.5 141.8h0M366.0 130.9h0M343.8 144.4h0M362.0 88.0h0M367.2 89.0h0M341.6 90.0h0M336.1 90.4h0M340.3 87.6h0M359.9 156.2h0M329.0 116.8h0M345.0 140.2h0M360.6 110.7h0M351.5 169.5h0M324.1 106.5h0M326.6 110.5h0M337.1 108.5h0M371.7 150.3h0M378.0 148.4h0M315.4 95.6h0M369.0 151.0h0M369.1 148.3h0M375.1 151.1h0M365.4 106.1h0M368.0 102.9h0M370.4 106.2h0M345.2 171.5h0M307.1 130.9h0M355.0 80.2h0M356.2 77.7h0M364.3 143.8h0M318.8 109.3h0M317.8 105.5h0M372.6 144.2h0M371.3 140.3h0M374.6 140.5h0M344.7 117.4h0M347.7 113.3h0M356.6 131.8h0M355.5 136.1h0M364.7 168.4h0M365.6 87.4h0M356.3 135.7h0M317.6 145.6h0M357.9 127.9h0M362.1 127.6h0M357.5 109.9h0M315.4 127.0h0M327.5 149.8h0M353.8 84.4h0M345.9 121.5h0M361.4 99.8h0M370.9 118.5h0M343.2 89.9h0M340.7 88.1h0M346.2 88.6h0M378.4 156.9h0M375.2 157.4h0M342.4 111.3h0M351.6 145.7h0M353.1 73.6h0M368.1 126.0h0M344.9 116.0h0M374.9 156.2h0M343.1 115.1h0M354.2 89.2h0M318.5 78.8h0M359.7 133.9h0M327.1 110.9h0M350.8 157.1h0M364.0 152.4h0M320.4 92.3h0M328.4 119.0h0M365.2 130.6h0M367.2 134.3h0M344.7 119.3h0M328.8 137.7h0M362.0 110.7h0M352.4 143.0h0M342.2 116.6h0M315.1 99.0h0M351.4 112.6h0M345.3 146.0h0M363.5 163.2h0M330.4 124.8h0M369.1 130.7h0M345.7 91.4h0M355.4 137.5h0M313.4 150.9h0M356.8 109.6h0"/>
<path fill="none" stroke="#f4f4f4" stroke-width="1.80" stroke-linecap="round" d="M375.0 129.4h0M374.2 157.7h0M321.2 81.2h0M329.8 75.8h0M336.4 132.7h0M367.2 93.5h0M362.2 163.7h0M315.8 80.5h0M343.4 108.6h0M352.7 113.0h0M329.7 163.5h0M330.9 168.9h0M377.5 117.4h0M367.4 116.2h0M326.2 134.3h0M329.9 90.6h0M328.3 86.6h0M334.8 88.6h0M319.2 95.5h0M346.5 95.0h0M367.0 102.6h0M375.7 105.4h0M346.9 92.3h0M369.4 92.0h0M318.5 133.8h0M367.8 118.7h0M362.8 112.2h0M372.4 116.1h0M363.8 165.8h0M369.8 166.0h0M347.6 96.3h0M311.3 152.1h0M321.7 142.5h0M336.9 102.5h0M332.9 89.8h0M351.0 144.0h0M348.5 143.7h0M335.2 86.4h0M319.5 115.9h0M337.7 116.4h0M353.3 140.7h0M350.6 145.4h0M360.6 114.5h0M355.2 166.7h0M358.0 174.1h0M321.7 109.7h0M332.0 106.2h0M331.6 110.4h0M324.4 138.5h0M370.3 146.7h0M379.5 152.0h0M307.4 94.9h0M315.8 92.0h0M371.9 154.6h0M350.9 121.4h0M357.8 115.7h0M357.2 120.4h0M355.7 84.8h0M357.0 120.8h0M352.1 124.1h0M357.7 93.6h0M361.0 97.3h0M344.4 165.1h0M361.4 95.9h0M364.1 104.0h0M350.7 78.4h0M355.4 81.2h0M349.9 87.8h0M360.6 75.1h0M377.5 143.5h0M340.9 115.5h0M343.2 111.7h0M351.5 115.3h0M364.3 87.6h0M366.6 83.8h0M333.2 108.4h0M371.4 91.3h0M374.0 87.6h0M319.3 103.3h0M330.3 104.4h0M341.5 106.9h0M320.4 154.6h0M323.6 146.8h0M330.4 153.0h0M350.6 87.3h0M361.8 85.4h0M358.6 95.1h0M356.5 98.5h0M340.9 84.0h0M364.7 99.0h0M365.1 98.5h0M330.0 133.3h0M335.5 110.3h0M351.2 169.9h0M326.3 165.0h0M316.1 86.7h0M365.0 77.2h0M349.2 170.7h0M352.5 89.6h0M360.8 108.1h0M332.4 111.9h0M379.1 121.4h0M315.3 133.0h0M363.0 160.0h0M372.7 146.1h0M374.3 100.7h0M343.2 145.3h0M364.7 139.8h0"/>
<path d="M322 76 C332 77 342 85 343 94 C343 104 326 117 305 139" fill="none" stroke="#06069a" stroke-width="5.6" stroke-linecap="round"/>
<path d="M322 76 C332 77 342 85 343 94 C343 104 326 117 305 139" fill="none" stroke="#1a1ae6" stroke-width="3.4" stroke-linecap="round"/>
<path d="M314 104 C312 115 310 125 309 135" fill="none" stroke="#06069a" stroke-width="5.6" stroke-linecap="round"/>
<path d="M314 104 C312 115 310 125 309 135" fill="none" stroke="#1a1ae6" stroke-width="3.4" stroke-linecap="round"/>
<path d="M381 108 C370 120 352 130 342 145 C337 155 349 165 361 172" fill="none" stroke="#06069a" stroke-width="5.6" stroke-linecap="round"/>
<path d="M381 108 C370 120 352 130 342 145 C337 155 349 165 361 172" fill="none" stroke="#1a1ae6" stroke-width="3.4" stroke-linecap="round"/>
<path d="M377 119 C385 127 384 138 372 147" fill="none" stroke="#06069a" stroke-width="5.6" stroke-linecap="round"/>
<path d="M377 119 C385 127 384 138 372 147" fill="none" stroke="#1a1ae6" stroke-width="3.4" stroke-linecap="round"/>
<path d="M316 136 C321 146 327 156 334 167" fill="none" stroke="#06069a" stroke-width="5.6" stroke-linecap="round"/>
<path d="M316 136 C321 146 327 156 334 167" fill="none" stroke="#1a1ae6" stroke-width="3.4" stroke-linecap="round"/>
<path fill="none" stroke="#e01010" stroke-width="3.00" stroke-linecap="round" d="M355.5 81.6h0M369.1 85.2h0M322.5 112.5h0M323.7 77.4h0M311.8 99.7h0M348.9 151.7h0M313.2 141.0h0M346.9 170.5h0M341.5 126.5h0M340.9 124.5h0M368.4 111.0h0M345.8 144.2h0M379.4 153.8h0M351.0 85.5h0M324.9 158.9h0"/>
<text x="213.5" y="252" font-family="'Liberation Sans', Arial, Helvetica, sans-serif" font-size="22" fill="#111">D</text>
<text x="277.6" y="258.9" text-anchor="middle" font-family="'Liberation Sans', Arial, Helvetica, sans-serif" font-size="12.7" fill="#111">HOMO</text>
<text x="376.9" y="260.6" text-anchor="middle" font-family="'Liberation Sans', Arial, Helvetica, sans-serif" font-size="12.2" fill="#111">HOMO-1</text>
<text x="474.4" y="258.9" text-anchor="middle" font-family="'Liberation Sans', Arial, Helvetica, sans-serif" font-size="12.6" fill="#111">HOMO-2</text>
<text transform="translate(224.6,333.9) rotate(-90)" text-anchor="middle" font-family="'Liberation Sans', Arial, Helvetica, sans-serif" font-size="15.3" fill="#111">(CG<tspan font-size="10" dy="3.3">3</tspan><tspan dy="-3.3">)</tspan><tspan font-size="10" dy="3.3">3</tspan><tspan dy="-3.3">-G-quad</tspan></text>
<text transform="translate(225,484.3) rotate(-90)" text-anchor="middle" font-family="'Liberation Sans', Arial, Helvetica, sans-serif" font-size="15" fill="#111">ds(CG<tspan font-size="10" dy="3.3">3</tspan><tspan dy="-3.3">)</tspan><tspan font-size="10" dy="3.3">3</tspan></text>
<g transform="translate(240.6,0)"><path fill="none" stroke="#aaaaaa" stroke-width="0.90" stroke-linecap="round" d="M35.8 281.9L38.3 282.8M38.3 282.8L41.4 282.2M41.4 282.2L43.8 282.1M43.8 282.1L46.7 282.7M46.7 282.7L49.2 282.5M49.2 282.5L51.9 281.9M51.9 281.9L51.9 279.5M51.9 281.9L54.3 281.8M54.3 281.8L56.6 283.3M56.6 283.3L59.5 283.2M59.5 283.2L59.5 281.2M38.5 284.8L40.8 285.6M40.8 285.6L43.7 285.0M43.7 285.0L46.3 285.3M46.3 285.3L49.4 286.3M49.4 286.3L52.3 285.4M52.3 285.4L52.3 283.1M52.3 285.4L54.9 286.4M54.9 286.4L57.6 285.1M57.6 285.1L60.2 285.6M60.2 285.6L60.2 283.2M57.1 288.3L55.5 284.0M58.9 288.9L58.6 284.0M44.1 279.2L45.6 284.0M54.7 279.0L55.6 284.0M29.8 290.2L32.8 289.0M32.8 289.0L35.3 288.7M35.3 288.7L38.0 290.3M38.0 290.3L40.4 289.8M40.4 289.8L43.2 288.8M43.2 288.8L45.7 289.1M45.7 289.1L48.7 289.7M48.7 289.7L51.2 289.9M51.2 289.9L53.8 289.7M53.8 289.7L53.8 287.7M53.8 289.7L56.6 288.7M56.6 288.7L59.3 289.9M59.3 289.9L62.0 289.6M32.3 291.8L35.1 292.4M35.1 292.4L37.8 292.8M37.8 292.8L40.7 293.2M40.7 293.2L43.2 291.9M43.2 291.9L43.2 294.9M43.2 291.9L45.8 293.0M45.8 293.0L48.2 293.3M48.2 293.3L50.7 293.6M50.7 293.6L53.5 292.9M53.5 292.9L56.2 292.6M56.2 292.6L56.2 294.7M56.2 292.6L58.5 292.2M58.5 292.2L58.5 294.6M58.5 292.2L61.3 291.7M55.7 285.8L56.8 291.0M37.8 287.3L36.9 291.0M42.4 285.9L41.8 291.0M62.6 286.0L61.1 291.0M34.7 287.4L34.2 291.0M23.7 296.6L26.1 297.2M26.1 297.2L28.8 296.9M28.8 296.9L28.8 294.6M28.8 296.9L31.7 297.4M31.7 297.4L34.6 297.2M34.6 297.2L37.0 295.7M37.0 295.7L39.5 296.6M39.5 296.6L39.5 294.4M39.5 296.6L42.1 296.0M42.1 296.0L45.0 295.7M45.0 295.7L48.0 297.0M48.0 297.0L50.6 295.9M50.6 295.9L50.6 292.9M50.6 295.9L53.5 296.8M53.5 296.8L55.9 295.5M55.9 295.5L58.4 295.6M58.4 295.6L58.4 292.6M58.4 295.6L61.5 295.5M61.5 295.5L63.9 295.7M63.9 295.7L66.3 297.4M24.7 299.8L27.1 299.6M27.1 299.6L29.5 300.4M29.5 300.4L29.5 303.3M29.5 300.4L32.5 299.9M32.5 299.9L35.2 299.7M35.2 299.7L37.9 299.4M37.9 299.4L40.3 300.1M40.3 300.1L42.7 298.7M42.7 298.7L42.7 296.3M42.7 298.7L45.5 300.4M45.5 300.4L47.9 299.0M47.9 299.0L50.3 300.0M50.3 300.0L52.7 300.5M52.7 300.5L55.2 300.3M55.2 300.3L55.2 303.4M55.2 300.3L57.6 298.7M57.6 298.7L60.1 300.5M60.1 300.5L62.8 298.8M44.9 303.0L43.9 298.0M53.9 294.0L55.6 298.0M33.2 302.7L32.5 298.0M50.2 293.6L48.3 298.0M55.2 292.9L53.3 298.0M44.8 302.4L44.0 298.0M65.8 292.7L64.7 298.0M14.2 308.1L17.0 307.6M17.0 307.6L17.0 309.8M17.0 307.6L19.9 307.4M19.9 307.4L22.3 309.4M22.3 309.4L22.3 312.4M22.3 309.4L24.8 308.9M24.8 308.9L27.2 308.0M27.2 308.0L27.2 310.5M27.2 308.0L29.7 307.9M29.7 307.9L32.2 307.6M32.2 307.6L35.1 308.2M35.1 308.2L37.9 309.4M37.9 309.4L40.5 308.4M40.5 308.4L43.1 308.1M43.1 308.1L43.1 305.3M43.1 308.1L45.5 309.0M45.5 309.0L48.1 308.2M48.1 308.2L50.4 308.3M50.4 308.3L50.4 305.3M50.4 308.3L52.9 307.7M52.9 307.7L55.4 308.8M55.4 308.8L55.4 306.4M55.4 308.8L57.9 308.4M57.9 308.4L60.9 308.6M60.9 308.6L63.4 308.8M63.4 308.8L66.2 307.8M66.2 307.8L68.9 308.4M68.9 308.4L68.9 311.0M68.9 308.4L71.9 307.4M14.4 312.5L17.4 311.3M17.4 311.3L20.2 311.2M20.2 311.2L22.8 310.9M22.8 310.9L22.8 308.3M22.8 310.9L25.5 311.8M25.5 311.8L28.1 311.0M28.1 311.0L30.5 310.8M30.5 310.8L30.5 313.2M30.5 310.8L32.9 311.2M32.9 311.2L35.5 311.9M35.5 311.9L38.0 311.9M38.0 311.9L41.0 311.7M41.0 311.7L41.0 314.3M41.0 311.7L43.6 310.8M43.6 310.8L45.9 311.6M45.9 311.6L45.9 313.8M45.9 311.6L48.2 312.2M48.2 312.2L51.0 311.9M51.0 311.9L53.9 310.7M53.9 310.7L53.9 307.8M53.9 310.7L56.5 312.1M56.5 312.1L59.4 310.7M59.4 310.7L62.5 312.4M62.5 312.4L65.5 311.2M65.5 311.2L68.4 310.7M68.4 310.7L68.4 307.8M68.4 310.7L71.4 311.6M71.4 311.6L71.4 314.4M61.2 314.6L60.9 310.0M54.6 305.5L52.9 310.0M56.4 315.4L54.4 310.0M24.3 305.1L25.9 310.0M66.6 306.2L65.8 310.0M33.3 314.3L32.8 310.0M24.0 305.4L24.9 310.0M42.9 315.0L43.1 310.0M55.4 305.5L55.8 310.0M61.7 313.9L62.5 310.0M11.0 321.1L13.3 321.7M13.3 321.7L16.4 320.9M16.4 320.9L19.5 320.8M19.5 320.8L21.8 320.8M21.8 320.8L24.5 322.3M24.5 322.3L27.6 322.1M27.6 322.1L30.1 321.6M30.1 321.6L30.1 324.5M30.1 321.6L32.8 320.8M32.8 320.8L35.5 321.5M35.5 321.5L38.4 322.3M38.4 322.3L41.1 321.4M41.1 321.4L44.1 320.5M44.1 320.5L44.1 317.4M44.1 320.5L47.1 322.4M47.1 322.4L47.1 319.7M47.1 322.4L50.2 320.9M50.2 320.9L53.3 321.9M53.3 321.9L53.3 318.8M53.3 321.9L55.8 320.8M55.8 320.8L58.3 322.2M58.3 322.2L60.9 320.6M60.9 320.6L63.2 322.2M63.2 322.2L65.8 321.9M65.8 321.9L68.4 321.3M68.4 321.3L71.3 321.4M71.3 321.4L73.8 321.1M73.8 321.1L76.2 322.3M12.1 324.8L15.2 325.4M15.2 325.4L17.7 325.3M17.7 325.3L20.7 323.8M20.7 323.8L23.0 324.0M23.0 324.0L26.0 325.3M26.0 325.3L26.0 322.7M26.0 325.3L28.6 323.6M28.6 323.6L31.1 325.1M31.1 325.1L31.1 322.3M31.1 325.1L33.6 323.9M33.6 323.9L33.6 326.6M33.6 323.9L36.7 324.1M36.7 324.1L39.6 324.7M39.6 324.7L39.6 322.3M39.6 324.7L42.0 325.6M42.0 325.6L44.5 324.6M44.5 324.6L47.6 324.5M47.6 324.5L50.5 325.0M50.5 325.0L53.6 324.0M53.6 324.0L56.4 325.6M56.4 325.6L59.4 323.8M59.4 323.8L59.4 321.6M59.4 323.8L61.7 324.1M61.7 324.1L64.3 324.5M64.3 324.5L67.0 324.6M67.0 324.6L69.3 324.2M69.3 324.2L72.1 324.9M72.1 324.9L72.1 327.8M72.1 324.9L74.8 324.7M20.8 317.9L19.3 323.0M51.3 318.3L50.4 323.0M61.7 317.8L61.8 323.0M54.7 327.9L53.8 323.0M48.1 327.5L49.2 323.0M74.3 328.4L75.3 323.0M62.3 317.7L63.9 323.0M14.6 317.7L14.7 323.0M37.7 328.1L36.4 323.0M33.8 319.4L33.9 323.0M26.6 317.6L26.6 323.0M10.1 332.1L13.0 332.6M13.0 332.6L15.9 332.5M15.9 332.5L18.7 333.1M18.7 333.1L18.7 336.0M18.7 333.1L21.2 331.4M21.2 331.4L24.1 331.9M24.1 331.9L24.1 334.9M24.1 331.9L26.9 331.8M26.9 331.8L29.8 331.6M29.8 331.6L32.4 333.2M32.4 333.2L35.4 333.4M35.4 333.4L38.0 332.6M38.0 332.6L40.6 331.4M40.6 331.4L43.5 332.8M43.5 332.8L46.0 332.4M46.0 332.4L46.0 329.9M46.0 332.4L49.0 332.8M49.0 332.8L49.0 330.7M49.0 332.8L51.6 331.8M51.6 331.8L54.1 333.2M54.1 333.2L57.1 333.1M57.1 333.1L59.4 332.0M59.4 332.0L59.4 334.7M59.4 332.0L62.2 332.3M62.2 332.3L64.6 331.9M64.6 331.9L67.2 332.4M67.2 332.4L69.9 332.3M69.9 332.3L72.7 333.3M72.7 333.3L75.7 331.4M11.9 335.2L15.0 336.0M15.0 336.0L17.7 336.1M17.7 336.1L20.4 336.1M20.4 336.1L20.4 338.7M20.4 336.1L22.9 335.2M22.9 335.2L25.9 336.0M25.9 336.0L25.9 333.9M25.9 336.0L28.6 336.4M28.6 336.4L31.3 334.7M31.3 334.7L33.7 336.3M33.7 336.3L36.3 335.9M36.3 335.9L39.0 335.4M39.0 335.4L42.0 334.9M42.0 334.9L42.0 337.3M42.0 334.9L44.4 335.8M44.4 335.8L47.2 336.1M47.2 336.1L47.2 333.1M47.2 336.1L50.2 334.9M50.2 334.9L52.8 335.4M52.8 335.4L55.8 335.6M55.8 335.6L58.7 335.3M58.7 335.3L61.1 336.2M61.1 336.2L61.1 333.8M61.1 336.2L64.1 336.0M64.1 336.0L67.1 334.7M67.1 334.7L69.5 336.1M69.5 336.1L72.2 335.3M72.2 335.3L75.2 334.8M45.1 338.5L43.5 334.0M67.6 330.2L69.5 334.0M55.3 339.4L56.7 334.0M14.7 338.9L15.6 334.0M48.7 339.2L46.7 334.0M50.0 328.7L49.8 334.0M24.3 338.9L24.3 334.0M32.2 339.2L32.6 334.0M32.4 339.3L33.3 334.0M69.5 330.4L69.8 334.0M48.1 330.1L49.9 334.0M11.4 342.4L11.4 344.9M11.4 342.4L13.9 343.2M13.9 343.2L16.6 342.9M16.6 342.9L19.2 343.9M19.2 343.9L19.2 340.8M19.2 343.9L21.7 344.3M21.7 344.3L24.5 343.3M24.5 343.3L26.9 343.3M26.9 343.3L29.8 343.4M29.8 343.4L32.6 343.9M32.6 343.9L35.4 343.6M35.4 343.6L38.0 342.9M38.0 342.9L40.5 342.8M40.5 342.8L40.5 340.4M40.5 342.8L43.2 343.9M43.2 343.9L46.2 343.2M46.2 343.2L48.9 342.5M48.9 342.5L51.7 342.8M51.7 342.8L51.7 345.4M51.7 342.8L54.2 343.8M54.2 343.8L57.2 342.6M57.2 342.6L57.2 340.0M57.2 342.6L59.5 344.1M59.5 344.1L62.4 343.0M62.4 343.0L65.3 343.1M65.3 343.1L65.3 340.4M65.3 343.1L67.9 344.2M67.9 344.2L67.9 346.6M67.9 344.2L70.3 342.6M70.3 342.6L73.0 342.6M14.8 346.0L17.4 347.5M17.4 347.5L20.1 347.3M20.1 347.3L23.2 347.4M23.2 347.4L23.2 350.1M23.2 347.4L26.0 345.6M26.0 345.6L26.0 343.5M26.0 345.6L28.6 346.4M28.6 346.4L31.0 346.5M31.0 346.5L33.4 346.6M33.4 346.6L35.7 346.4M35.7 346.4L35.7 344.0M35.7 346.4L38.2 346.6M38.2 346.6L41.0 347.0M41.0 347.0L41.0 344.6M41.0 347.0L44.1 346.8M44.1 346.8L46.7 346.4M46.7 346.4L49.6 347.4M49.6 347.4L52.2 346.3M52.2 346.3L54.7 347.0M54.7 347.0L57.0 347.5M57.0 347.5L59.4 346.2M59.4 346.2L61.7 346.3M61.7 346.3L64.6 345.9M64.6 345.9L67.5 347.0M67.5 347.0L67.5 349.5M67.5 347.0L70.5 345.9M36.4 340.4L35.2 345.0M20.3 349.6L21.0 345.0M27.1 350.2L26.0 345.0M64.0 340.3L63.9 345.0M43.5 348.5L44.6 345.0M24.9 341.3L24.9 345.0M12.5 341.0L11.4 345.0M59.9 340.6L60.8 345.0M23.6 349.0L23.6 345.0M61.1 340.1L62.4 345.0M17.3 354.7L20.3 354.6M20.3 354.6L23.3 354.5M23.3 354.5L26.3 354.9M26.3 354.9L26.3 352.2M26.3 354.9L28.7 355.0M28.7 355.0L31.1 354.5M31.1 354.5L33.5 354.1M33.5 354.1L33.5 356.6M33.5 354.1L36.3 354.3M36.3 354.3L38.9 353.7M38.9 353.7L38.9 351.3M38.9 353.7L41.9 355.1M41.9 355.1L44.5 353.9M44.5 353.9L44.5 356.5M44.5 353.9L47.1 355.0M47.1 355.0L49.6 354.7M49.6 354.7L51.9 353.8M51.9 353.8L54.6 354.5M54.6 354.5L57.7 353.4M57.7 353.4L60.3 354.0M60.3 354.0L62.9 354.3M62.9 354.3L65.5 355.0M65.5 355.0L68.3 353.7M68.3 353.7L68.3 355.7M21.0 357.3L23.8 358.4M23.8 358.4L26.4 357.1M26.4 357.1L26.4 359.2M26.4 357.1L28.7 356.9M28.7 356.9L31.8 356.8M31.8 356.8L34.8 357.4M34.8 357.4L34.8 354.6M34.8 357.4L37.1 356.9M37.1 356.9L39.8 357.8M39.8 357.8L42.6 356.7M42.6 356.7L45.2 356.9M45.2 356.9L47.6 358.2M47.6 358.2L50.1 358.5M50.1 358.5L50.1 355.5M50.1 358.5L52.6 358.0M52.6 358.0L54.9 356.8M54.9 356.8L57.3 356.8M57.3 356.8L57.3 353.8M57.3 356.8L59.8 358.3M59.8 358.3L59.8 355.9M59.8 358.3L62.2 357.9M62.2 357.9L65.2 357.9M65.2 357.9L65.2 355.2M57.4 351.8L58.3 356.0M27.8 351.5L27.1 356.0M62.8 360.8L62.0 356.0M48.1 352.2L46.9 356.0M53.2 360.0L53.6 356.0M23.2 351.7L22.4 356.0M59.9 360.5L61.9 356.0M46.4 360.7L45.3 356.0M24.6 364.9L27.3 365.3M27.3 365.3L29.7 366.1M29.7 366.1L32.4 366.4M32.4 366.4L35.4 364.7M35.4 364.7L38.5 366.1M38.5 366.1L41.2 364.7M41.2 364.7L44.1 365.0M44.1 365.0L46.7 366.2M46.7 366.2L49.6 365.4M49.6 365.4L52.3 364.7M52.3 364.7L52.3 362.4M52.3 364.7L54.9 365.7M54.9 365.7L57.3 365.6M57.3 365.6L60.3 365.0M60.3 365.0L63.3 364.6M25.2 368.3L25.2 370.5M25.2 368.3L27.9 368.0M27.9 368.0L27.9 365.3M27.9 368.0L30.6 369.0M30.6 369.0L30.6 366.8M30.6 369.0L33.1 368.2M33.1 368.2L35.8 369.5M35.8 369.5L38.8 367.9M38.8 367.9L41.6 368.6M41.6 368.6L44.1 369.5M44.1 369.5L46.6 369.1M46.6 369.1L49.3 369.5M49.3 369.5L51.9 369.4M51.9 369.4L54.3 369.5M54.3 369.5L57.2 369.2M57.2 369.2L59.5 367.8M59.5 367.8L59.5 365.2M59.5 367.8L62.0 369.0M34.7 372.4L35.3 367.0M30.0 361.8L29.7 367.0M60.4 371.8L61.1 367.0M33.5 372.0L32.6 367.0M63.0 370.6L64.1 367.0M25.2 363.4L23.3 367.0M60.6 288.6L59.0 286.3M51.4 284.2L49.3 282.4M38.6 289.4L37.5 292.0M50.4 283.6L47.9 282.3M31.2 276.5L33.5 278.0M28.7 278.8L27.2 276.4M46.4 279.2L47.3 276.6M53.6 278.4L50.9 279.2M50.7 283.3L47.9 283.3M50.3 284.5L53.0 283.7M41.7 274.4L41.8 271.6M62.1 285.6L59.6 287.1M53.5 280.2L55.8 281.7M48.9 285.7L51.7 286.0M28.3 278.6L26.0 280.2M35.5 277.2L32.8 277.7M60.0 278.6L62.5 277.4M53.1 276.0L55.7 277.1M30.6 281.8L32.5 279.7M41.8 290.8L39.2 289.8M53.0 274.8L55.6 273.8M28.7 278.4L30.4 280.6M53.7 290.5L51.2 289.2M46.8 278.5L46.5 281.3M52.4 275.5L51.2 273.0M55.9 275.7L57.5 278.0M42.1 284.8L44.5 286.2M37.6 291.0L38.9 288.5M46.5 278.3L47.7 280.8M39.4 280.1L41.5 278.3M60.7 286.1L63.5 286.3M43.7 279.9L41.0 279.4M26.1 282.1L24.8 279.6M27.5 282.8L30.3 282.2M46.9 277.7L49.5 276.7M49.8 292.2L50.1 289.4M59.4 280.7L62.1 281.0M49.4 277.6L50.2 274.9M62.2 280.6L59.6 279.9M48.6 287.1L45.8 287.5M37.6 282.5L35.4 280.6M46.8 282.6L44.5 284.3M43.9 278.3L41.1 278.0M50.3 286.3L48.3 288.3M41.1 291.9L43.9 291.7M21.9 296.1L23.7 294.0M44.6 298.4L44.5 295.6M24.6 293.8L23.7 296.4M24.7 297.0L26.5 294.9M22.2 296.3L24.5 294.8M40.7 299.9L39.0 297.7M20.6 294.8L18.2 296.1M33.7 296.2L33.4 293.5M21.1 298.5L23.0 296.5M28.2 291.9L29.8 294.2M20.2 299.3L17.4 299.0M23.1 293.0L23.9 290.3M17.7 297.5L17.6 294.7M43.5 297.5L40.8 296.6M34.1 291.2L34.9 293.8M35.8 297.5L33.6 295.8M24.1 294.2L21.3 294.0M23.6 295.1L20.8 294.7M26.4 291.3L27.6 288.7M43.4 296.3L42.5 293.6M10.6 313.8L13.3 313.1M16.6 320.3L19.4 320.6M13.3 309.8L12.3 307.1M4.9 307.1L4.3 304.4M9.4 310.7L9.0 313.5M17.6 318.8L18.7 316.2M15.0 308.4L14.8 311.2M14.1 322.4L12.7 324.9M2.3 312.7L3.0 310.0M4.8 312.2L4.3 309.4M11.1 316.7L10.2 314.1M3.9 318.8L1.1 318.7M6.2 323.6L8.6 325.2M18.5 317.8L17.8 315.1M7.2 322.0L8.6 319.6M17.0 313.0L14.2 313.1M18.8 318.1L16.1 318.4M14.3 309.1L17.0 309.7M15.7 320.5L14.9 317.9M1.2 318.1L-1.6 317.6M8.9 317.0L9.0 319.8M7.1 313.1L9.8 312.4M7.6 312.5L6.2 310.1M7.3 321.6L4.5 322.0M1.8 317.3L3.0 314.8M11.3 320.6L14.0 319.9M2.3 309.5L0.5 311.6M13.1 308.9L10.8 307.3M75.8 318.9L73.5 320.5M83.5 314.1L83.5 311.3M74.4 306.1L73.0 303.6M68.9 315.8L70.3 318.2M80.6 309.1L80.4 306.3M74.1 318.2L76.8 317.7M75.2 319.1L77.0 317.0M80.7 308.3L80.5 311.1M74.8 314.0L73.6 316.6M72.5 322.5L69.9 323.5M78.3 317.0L78.0 319.8M76.9 307.9L74.5 306.5M70.8 321.2L70.2 323.9M78.2 310.5L81.0 311.1M80.9 309.8L82.1 312.3M81.9 315.4L84.5 314.4M77.5 317.0L79.4 319.1M68.4 316.2L70.8 314.8M77.4 316.3L80.2 316.0M77.9 324.4L75.4 325.8M70.0 310.8L72.6 309.6M75.7 319.6L75.6 316.8M82.6 310.2L80.3 308.6M82.3 309.8L81.7 307.1M6.6 329.7L9.3 329.1M14.2 339.7L11.4 339.2M7.2 328.5L7.3 325.7M3.4 329.7L4.0 327.0M5.1 329.2L6.5 326.7M10.9 338.8L13.7 338.1M6.3 331.6L4.0 330.1M13.1 342.1L14.6 344.5M12.8 333.4L12.4 330.7M0.6 334.7L2.1 332.4M2.0 333.6L4.6 334.8M1.5 333.7L2.8 336.2M5.2 339.8L6.7 342.1M2.7 329.6L2.4 332.4M7.2 337.9L4.4 338.2M2.6 335.0L5.1 333.8M3.8 344.6L3.3 341.8M10.0 343.4L11.4 345.8M11.1 340.5L10.6 337.7M8.7 342.0L8.5 339.2M10.5 340.0L13.1 340.9M9.4 338.5L9.0 335.7M9.5 344.6L7.8 346.9M85.4 337.6L87.8 339.0M72.9 333.9L72.0 331.2M77.0 343.1L78.4 340.6M75.5 344.8L78.2 344.1M79.5 330.0L80.9 327.6M76.5 334.6L73.8 334.0M82.0 336.9L79.7 335.4M82.0 330.0L83.9 328.0M82.8 335.4L80.1 336.2M83.4 343.6L86.1 344.5M81.3 329.1L79.9 326.7M77.9 331.0L76.1 333.2M76.3 344.4L73.8 343.1M77.3 340.5L78.5 343.0M71.9 342.6L71.4 345.4M78.7 337.8L78.2 335.1M85.3 337.4L88.0 336.5M76.0 334.5L77.8 332.3M82.2 336.6L82.3 339.4M75.9 333.1L77.4 335.5M78.2 338.6L80.1 336.5M76.6 337.9L78.3 335.7M82.7 341.7L81.1 339.4M78.4 332.1L76.2 330.4M71.5 334.4L73.7 332.6M77.8 344.8L79.7 346.9M20.5 355.9L18.9 358.2M16.8 354.9L14.1 355.5M18.0 356.8L20.8 357.0M18.3 361.0L16.6 363.3M15.1 359.9L15.6 357.1M8.3 360.8L6.9 358.4M6.4 355.3L4.1 353.7M19.3 353.2L19.0 355.9M11.1 359.6L11.2 362.4M11.6 357.7L13.0 355.2M11.0 357.6L9.8 355.1M16.8 357.4L18.5 359.6M11.5 357.5L13.0 355.1M8.7 356.3L9.6 359.0M15.3 355.5L12.6 356.0M16.9 360.9L14.1 360.6M16.1 352.0L18.5 353.5M12.9 362.9L10.1 363.0M79.9 357.7L79.1 360.4M74.3 357.4L75.3 354.8M70.4 356.5L68.9 354.1M72.5 358.2L74.9 356.8M68.6 358.5L68.2 361.3M65.4 359.4L67.6 357.6M70.7 349.6L68.7 351.6M71.5 351.4L72.2 348.7M71.7 359.6L68.9 359.5M63.7 350.9L63.3 353.7M65.9 350.2L67.9 352.2M72.5 353.8L73.5 351.2M70.3 354.7L68.3 356.6M80.5 354.6L80.4 357.4M73.3 357.3L76.1 357.4M75.3 361.3L74.4 358.6M75.5 360.0L77.8 358.4M69.0 360.5L69.7 357.8M69.3 358.1L68.8 355.4M68.8 351.1L68.6 353.9M54.7 367.6L57.3 368.7M26.6 367.5L28.1 369.9M50.0 363.2L50.1 360.4M56.7 365.3L56.1 368.0M43.9 373.2L46.2 374.7M40.3 366.7L39.1 364.2M27.6 372.3L26.5 369.7M24.0 363.3L23.2 366.0M23.9 364.6L21.1 364.1M63.1 365.8L60.6 367.2M53.0 365.6L51.6 363.1M34.6 369.7L34.0 372.4M47.2 363.8L49.1 365.8M53.6 372.3L51.8 370.2M54.0 364.5L54.4 361.7M50.5 361.2L48.0 362.3M55.0 368.2L52.3 367.4M30.8 375.0L31.2 372.2M34.5 373.9L37.2 373.1M29.2 375.2L26.5 376.1M62.2 365.5L59.9 367.1M60.8 366.4L58.0 366.7M36.0 366.0L33.3 365.1M31.9 369.0L33.4 371.3M41.8 375.0L44.6 375.0M61.6 369.2L63.2 366.8M31.9 371.6L32.6 368.9M52.4 372.3L54.0 374.6M34.2 366.3L35.7 368.6M31.1 375.2L30.7 377.9M46.3 366.8L45.5 364.1M62.8 369.9L65.0 371.7M59.5 366.1L59.0 363.3M48.1 374.5L45.4 375.3M59.1 372.6L61.5 374.0M28.3 366.9L26.2 365.1M37.4 370.9L39.8 372.3M63.2 367.1L60.4 366.9M48.1 376.2L49.6 378.6M45.1 377.8L44.5 380.5M32.7 375.1L30.6 373.2M51.6 375.8L53.0 378.3M36.9 374.3L35.0 372.3M34.4 374.4L34.1 377.2M54.0 375.2L55.1 372.6M34.5 379.5L34.7 382.3M41.6 373.4L44.4 373.5M31.9 377.5L29.2 378.0M42.3 378.6L44.1 376.4M36.8 377.9L39.6 377.2M46.6 380.0L47.9 382.4M16.2 303.4L14.1 305.2M27.1 306.0L25.5 308.3M48.0 305.1L48.3 307.9M44.5 303.4L46.2 305.7M24.4 305.5L21.8 304.5M24.5 302.7L21.9 303.8M35.4 306.9L32.9 305.7M25.9 301.8L25.9 304.6M18.4 303.9L20.7 302.3M31.4 304.9L32.3 307.6M62.8 303.6L63.4 300.9M26.1 304.1L28.9 303.7M15.0 302.4L17.8 302.4M28.3 306.6L30.7 305.1M55.1 304.6L57.8 303.6M41.3 300.1L39.1 301.7M64.0 304.9L65.2 307.5M12.2 303.5L10.3 301.5M46.7 302.4L46.8 299.6M54.2 301.9L54.9 299.1M54.0 324.5L51.5 323.2M26.8 357.5L24.0 357.2M52.5 354.4L49.8 355.1M35.5 350.1L32.8 349.3M64.6 349.6L67.3 350.3M58.4 358.2L60.2 356.0M32.5 326.2L33.7 323.7M29.4 355.3L31.3 353.3M17.6 334.5L19.3 332.3M32.6 356.8L33.6 354.2M40.1 345.2L38.8 347.7M23.1 353.3L24.9 351.2M51.1 357.5L48.3 358.0M24.6 331.0L21.8 330.8M25.2 337.6L27.4 335.8M45.3 339.6L44.5 342.2M13.9 347.2L16.5 346.2M68.2 346.9L70.8 348.0M55.8 352.2L57.8 354.2M47.0 330.6L49.8 330.5M48.9 343.5L46.4 342.3M41.3 354.0L38.5 353.8M39.0 343.0L37.5 345.4M60.8 353.4L58.4 354.8M40.4 331.2L43.2 330.7M18.6 336.5L18.4 339.3M62.4 338.3L65.2 338.0M26.2 338.3L24.3 340.4M51.7 345.2L49.0 344.8M47.5 356.2L49.1 353.9M63.1 332.5L61.5 334.8M44.8 321.8L42.3 320.5M60.7 332.2L58.2 333.5M43.1 361.6L44.4 364.1M43.7 318.6L46.0 320.3M64.9 343.4L67.2 344.9"/>
<path fill="none" stroke="#dcdcdc" stroke-width="1.80" stroke-linecap="round" d="M52.8 279.5h0M58.6 281.2h0M53.2 283.1h0M59.9 283.2h0M54.7 279.0h0M53.4 287.7h0M43.5 294.9h0M56.5 294.7h0M57.8 294.6h0M29.6 294.6h0M38.6 294.4h0M51.5 292.9h0M57.7 292.6h0M29.0 303.3h0M43.6 296.3h0M54.6 303.4h0M44.9 303.0h0M44.8 302.4h0M17.8 309.8h0M23.1 312.4h0M26.4 310.5h0M43.3 305.3h0M49.5 305.3h0M56.3 306.4h0M69.4 311.0h0M22.6 308.3h0M30.0 313.2h0M40.3 314.3h0M45.9 313.8h0M54.7 307.8h0M68.6 307.8h0M70.7 314.4h0M66.6 306.2h0M33.3 314.3h0M29.4 324.5h0M44.2 317.4h0M46.5 319.7h0M54.3 318.8h0M26.6 322.7h0M30.4 322.3h0M33.1 326.6h0M39.4 322.3h0M58.5 321.6h0M71.6 327.8h0M51.3 318.3h0M61.7 317.8h0M74.3 328.4h0M26.6 317.6h0M18.7 336.0h0M24.8 334.9h0M46.3 329.9h0M48.3 330.7h0M60.2 334.7h0M19.7 338.7h0M26.8 333.9h0M42.0 337.3h0M46.7 333.1h0M61.0 333.8h0M69.5 330.4h0M48.1 330.1h0M11.8 344.9h0M19.5 340.8h0M40.1 340.4h0M51.1 345.4h0M57.5 340.0h0M65.5 340.4h0M68.7 346.6h0M22.5 350.1h0M25.8 343.5h0M36.1 344.0h0M41.2 344.6h0M67.9 349.5h0M64.0 340.3h0M43.5 348.5h0M59.9 340.6h0M61.1 340.1h0M25.5 352.2h0M33.0 356.6h0M38.5 351.3h0M45.3 356.5h0M68.2 355.7h0M25.9 359.2h0M35.7 354.6h0M50.2 355.5h0M57.2 353.8h0M59.2 355.9h0M64.9 355.2h0M53.2 360.0h0M23.2 351.7h0M46.4 360.7h0M51.8 362.4h0M24.8 370.5h0M27.2 365.3h0M30.6 366.8h0M58.9 365.2h0M34.7 372.4h0M60.4 371.8h0M63.0 370.6h0M62.1 285.6h0M50.8 281.8h0M52.4 275.5h0M46.9 277.7h0M43.1 284.5h0M59.4 280.7h0M25.8 296.4h0M21.3 292.0h0M29.6 289.3h0M23.1 293.0h0M34.1 291.2h0M43.4 296.3h0M17.6 318.8h0M15.0 308.4h0M3.9 318.8h0M5.6 322.8h0M9.9 316.5h0M9.8 318.8h0M71.9 314.4h0M75.5 311.4h0M79.9 315.9h0M81.9 315.4h0M1.1 340.6h0M6.3 331.6h0M13.1 342.1h0M5.2 339.8h0M75.5 344.8h0M76.5 334.6h0M76.3 344.4h0M71.9 342.6h0M75.9 333.1h0M78.2 338.6h0M75.2 338.2h0M78.4 332.1h0M71.5 334.4h0M20.5 355.9h0M19.2 350.4h0M6.4 355.3h0M11.5 357.5h0M8.7 356.3h0M12.7 349.2h0M16.1 352.0h0M79.9 357.7h0M72.5 353.8h0M70.3 354.7h0M75.3 361.3h0M75.5 360.0h0M52.8 375.4h0M46.5 361.2h0M53.0 365.6h0M54.0 364.5h0M34.5 373.9h0M31.9 371.6h0M36.0 361.2h0M46.3 366.8h0M59.5 366.1h0M59.1 372.6h0M29.5 378.7h0M35.7 378.1h0M32.7 375.1h0M34.4 374.4h0M27.1 306.0h0M41.9 299.5h0M41.3 300.1h0M52.5 354.4h0M35.5 350.1h0M60.9 330.3h0M40.1 345.2h0M23.1 353.3h0M62.8 342.7h0M48.9 343.5h0M40.4 331.2h0"/>
<path fill="none" stroke="#a2a2a2" stroke-width="2.90" stroke-linecap="round" d="M41.4 282.2h0M51.9 281.9h0M54.3 281.8h0M59.5 283.2h0M38.5 284.8h0M46.3 285.3h0M52.3 285.4h0M60.2 285.6h0M57.1 288.3h0M58.9 288.9h0M44.1 279.2h0M35.3 288.7h0M43.2 288.8h0M51.2 289.9h0M56.6 288.7h0M62.0 289.6h0M43.2 291.9h0M45.8 293.0h0M48.2 293.3h0M58.5 292.2h0M55.7 285.8h0M37.8 287.3h0M42.4 285.9h0M62.6 286.0h0M34.7 287.4h0M26.1 297.2h0M31.7 297.4h0M34.6 297.2h0M39.5 296.6h0M42.1 296.0h0M48.0 297.0h0M53.5 296.8h0M55.9 295.5h0M61.5 295.5h0M63.9 295.7h0M24.7 299.8h0M27.1 299.6h0M29.5 300.4h0M37.9 299.4h0M42.7 298.7h0M47.9 299.0h0M62.8 298.8h0M53.9 294.0h0M33.2 302.7h0M50.2 293.6h0M55.2 292.9h0M65.8 292.7h0M14.2 308.1h0M19.9 307.4h0M22.3 309.4h0M27.2 308.0h0M29.7 307.9h0M40.5 308.4h0M45.5 309.0h0M48.1 308.2h0M57.9 308.4h0M60.9 308.6h0M63.4 308.8h0M68.9 308.4h0M71.9 307.4h0M14.4 312.5h0M20.2 311.2h0M32.9 311.2h0M41.0 311.7h0M43.6 310.8h0M45.9 311.6h0M48.2 312.2h0M53.9 310.7h0M56.5 312.1h0M62.5 312.4h0M65.5 311.2h0M68.4 310.7h0M61.2 314.6h0M54.6 305.5h0M56.4 315.4h0M24.3 305.1h0M24.0 305.4h0M42.9 315.0h0M55.4 305.5h0M61.7 313.9h0M11.0 321.1h0M21.8 320.8h0M24.5 322.3h0M27.6 322.1h0M32.8 320.8h0M35.5 321.5h0M38.4 322.3h0M50.2 320.9h0M55.8 320.8h0M60.9 320.6h0M65.8 321.9h0M68.4 321.3h0M71.3 321.4h0M73.8 321.1h0M76.2 322.3h0M42.0 325.6h0M44.5 324.6h0M50.5 325.0h0M53.6 324.0h0M67.0 324.6h0M72.1 324.9h0M20.8 317.9h0M54.7 327.9h0M48.1 327.5h0M62.3 317.7h0M14.6 317.7h0M37.7 328.1h0M33.8 319.4h0M15.9 332.5h0M18.7 333.1h0M24.1 331.9h0M26.9 331.8h0M32.4 333.2h0M35.4 333.4h0M40.6 331.4h0M43.5 332.8h0M51.6 331.8h0M62.2 332.3h0M64.6 331.9h0M69.9 332.3h0M72.7 333.3h0M75.7 331.4h0M11.9 335.2h0M15.0 336.0h0M17.7 336.1h0M20.4 336.1h0M39.0 335.4h0M42.0 334.9h0M52.8 335.4h0M64.1 336.0h0M67.1 334.7h0M72.2 335.3h0M45.1 338.5h0M67.6 330.2h0M55.3 339.4h0M14.7 338.9h0M48.7 339.2h0M50.0 328.7h0M24.3 338.9h0M32.2 339.2h0M32.4 339.3h0M11.4 342.4h0M21.7 344.3h0M26.9 343.3h0M32.6 343.9h0M38.0 342.9h0M43.2 343.9h0M46.2 343.2h0M54.2 343.8h0M59.5 344.1h0M70.3 342.6h0M73.0 342.6h0M17.4 347.5h0M23.2 347.4h0M31.0 346.5h0M41.0 347.0h0M44.1 346.8h0M57.0 347.5h0M59.4 346.2h0M36.4 340.4h0M20.3 349.6h0M27.1 350.2h0M24.9 341.3h0M12.5 341.0h0M23.6 349.0h0M23.3 354.5h0M28.7 355.0h0M38.9 353.7h0M41.9 355.1h0M47.1 355.0h0M49.6 354.7h0M51.9 353.8h0M54.6 354.5h0M57.7 353.4h0M68.3 353.7h0M21.0 357.3h0M39.8 357.8h0M42.6 356.7h0M45.2 356.9h0M47.6 358.2h0M59.8 358.3h0M62.2 357.9h0M65.2 357.9h0M57.4 351.8h0M27.8 351.5h0M62.8 360.8h0M48.1 352.2h0M59.9 360.5h0M27.3 365.3h0M29.7 366.1h0M32.4 366.4h0M38.5 366.1h0M41.2 364.7h0M44.1 365.0h0M49.6 365.4h0M27.9 368.0h0M54.3 369.5h0M57.2 369.2h0M62.0 369.0h0M30.0 361.8h0M33.5 372.0h0M25.2 363.4h0M60.6 288.6h0M51.4 284.2h0M38.7 280.3h0M31.2 276.5h0M28.7 278.8h0M46.4 279.2h0M49.5 273.6h0M53.0 291.4h0M41.7 274.4h0M60.7 288.1h0M48.9 285.7h0M35.5 277.2h0M60.0 278.6h0M53.1 276.0h0M30.6 281.8h0M41.8 290.8h0M53.0 274.8h0M28.7 278.4h0M46.8 278.5h0M42.1 284.8h0M37.6 291.0h0M46.1 289.9h0M60.7 286.1h0M26.1 282.1h0M27.5 282.8h0M47.0 283.8h0M55.6 280.2h0M49.4 277.6h0M48.6 287.1h0M37.6 282.5h0M60.4 280.0h0M46.8 282.6h0M62.0 285.3h0M53.1 274.4h0M50.3 286.3h0M41.1 291.9h0M17.1 295.1h0M44.6 298.4h0M24.6 293.8h0M24.7 297.0h0M32.7 297.7h0M22.2 296.3h0M40.7 299.9h0M20.6 294.8h0M33.7 296.2h0M21.1 298.5h0M17.7 294.8h0M42.6 290.8h0M43.3 299.1h0M20.2 299.3h0M17.7 297.5h0M43.5 297.5h0M35.8 297.5h0M23.6 295.1h0M26.4 291.3h0M10.6 313.8h0M16.6 320.3h0M13.3 309.8h0M4.9 307.1h0M9.4 310.7h0M5.8 313.3h0M14.1 322.4h0M2.3 312.7h0M4.8 312.2h0M11.1 316.7h0M8.6 305.2h0M18.5 317.8h0M2.5 311.5h0M15.2 312.0h0M12.3 311.7h0M15.7 320.5h0M1.2 318.1h0M11.4 321.1h0M13.4 315.0h0M7.6 312.5h0M7.3 321.6h0M1.8 317.3h0M11.3 320.6h0M2.3 309.5h0M13.1 308.9h0M71.3 322.2h0M83.5 314.1h0M74.4 306.1h0M74.9 305.5h0M80.6 309.1h0M75.2 319.1h0M80.7 308.3h0M74.8 314.0h0M72.5 322.5h0M78.3 317.0h0M68.5 310.5h0M78.2 310.5h0M80.9 309.8h0M77.5 317.0h0M77.4 316.3h0M77.4 308.8h0M77.9 324.4h0M70.0 310.8h0M75.7 319.6h0M82.6 310.2h0M82.3 309.8h0M9.0 341.2h0M6.6 329.7h0M6.9 334.3h0M3.4 329.7h0M2.2 336.5h0M5.1 329.2h0M9.2 331.1h0M12.4 336.4h0M0.6 334.7h0M2.0 333.6h0M1.5 333.7h0M2.7 329.6h0M12.1 330.6h0M11.1 340.5h0M10.5 340.0h0M9.4 338.5h0M9.5 344.6h0M10.3 338.8h0M85.4 337.6h0M72.9 333.9h0M77.0 343.1h0M79.5 330.0h0M82.0 336.9h0M81.3 329.1h0M77.3 335.9h0M77.3 340.5h0M70.8 333.3h0M78.7 337.8h0M78.8 342.5h0M74.2 330.3h0M82.2 336.6h0M76.6 337.9h0M77.8 344.8h0M16.8 354.9h0M18.0 356.8h0M18.3 361.0h0M15.1 359.9h0M22.4 355.6h0M8.3 360.8h0M11.5 357.9h0M19.3 353.2h0M17.8 359.2h0M11.0 357.6h0M16.8 357.4h0M15.3 355.5h0M7.3 356.4h0M16.9 360.9h0M12.9 362.9h0M70.4 356.5h0M65.4 359.4h0M71.5 351.4h0M71.7 359.6h0M63.7 350.9h0M78.1 356.6h0M80.5 354.6h0M73.3 357.3h0M69.3 359.3h0M69.0 360.5h0M69.6 351.1h0M69.3 358.1h0M68.8 351.1h0M54.7 367.6h0M36.5 372.4h0M40.0 363.2h0M37.2 371.5h0M24.0 363.3h0M23.9 364.6h0M50.0 364.2h0M63.1 365.8h0M34.6 369.7h0M47.2 363.8h0M53.6 372.3h0M50.5 361.2h0M28.5 374.2h0M30.8 375.0h0M58.0 373.5h0M62.2 365.5h0M36.2 366.4h0M53.9 373.1h0M53.7 374.8h0M60.8 366.4h0M36.0 366.0h0M31.9 369.0h0M41.8 375.0h0M61.6 369.2h0M50.3 371.1h0M22.0 370.3h0M62.8 369.9h0M59.9 365.5h0M48.1 374.5h0M49.5 371.7h0M32.3 360.2h0M28.3 366.9h0M37.4 370.9h0M48.1 376.2h0M42.7 375.3h0M51.6 375.8h0M54.0 375.2h0M34.2 379.6h0M31.9 377.5h0M36.8 377.9h0M16.2 303.4h0M44.5 303.4h0M35.4 306.9h0M25.9 301.8h0M48.2 299.8h0M18.4 303.9h0M14.8 302.3h0M62.8 303.6h0M26.1 304.1h0M66.1 302.3h0M15.0 302.4h0M64.0 304.9h0M12.2 303.5h0M51.8 303.0h0M20.3 303.3h0M46.7 305.5h0M54.2 301.9h0M54.0 324.5h0M37.0 335.3h0M58.4 358.2h0M32.5 326.2h0M57.8 323.3h0M29.4 355.3h0M64.8 337.7h0M58.1 356.9h0M24.6 331.0h0M42.4 335.7h0M25.2 337.6h0M13.9 347.2h0M55.8 352.2h0M60.8 334.9h0M47.0 330.6h0M41.3 354.0h0M39.0 343.0h0M60.8 353.4h0M18.6 336.5h0M26.2 338.3h0M39.9 352.1h0M51.7 345.2h0M47.5 356.2h0M38.4 342.2h0M44.8 321.8h0M60.7 332.2h0M43.1 361.6h0M64.9 343.4h0"/>
<path fill="none" stroke="#6464d6" stroke-width="2.90" stroke-linecap="round" d="M35.8 281.9h0M38.3 282.8h0M46.7 282.7h0M56.6 283.3h0M40.8 285.6h0M43.7 285.0h0M49.4 286.3h0M57.6 285.1h0M32.8 289.0h0M38.0 290.3h0M40.4 289.8h0M45.7 289.1h0M59.3 289.9h0M32.3 291.8h0M61.3 291.7h0M23.7 296.6h0M28.8 296.9h0M45.0 295.7h0M50.6 295.9h0M66.3 297.4h0M32.5 299.9h0M40.3 300.1h0M45.5 300.4h0M50.3 300.0h0M52.7 300.5h0M55.2 300.3h0M57.6 298.7h0M60.1 300.5h0M17.0 307.6h0M24.8 308.9h0M32.2 307.6h0M35.1 308.2h0M37.9 309.4h0M43.1 308.1h0M50.4 308.3h0M52.9 307.7h0M66.2 307.8h0M17.4 311.3h0M22.8 310.9h0M25.5 311.8h0M28.1 311.0h0M30.5 310.8h0M35.5 311.9h0M51.0 311.9h0M59.4 310.7h0M13.3 321.7h0M16.4 320.9h0M19.5 320.8h0M41.1 321.4h0M44.1 320.5h0M58.3 322.2h0M12.1 324.8h0M17.7 325.3h0M23.0 324.0h0M31.1 325.1h0M33.6 323.9h0M36.7 324.1h0M39.6 324.7h0M56.4 325.6h0M59.4 323.8h0M64.3 324.5h0M69.3 324.2h0M74.8 324.7h0M10.1 332.1h0M13.0 332.6h0M29.8 331.6h0M46.0 332.4h0M54.1 333.2h0M57.1 333.1h0M59.4 332.0h0M67.2 332.4h0M22.9 335.2h0M28.6 336.4h0M31.3 334.7h0M33.7 336.3h0M36.3 335.9h0M47.2 336.1h0M50.2 334.9h0M55.8 335.6h0M58.7 335.3h0M61.1 336.2h0M75.2 334.8h0M13.9 343.2h0M19.2 343.9h0M24.5 343.3h0M29.8 343.4h0M35.4 343.6h0M40.5 342.8h0M48.9 342.5h0M57.2 342.6h0M62.4 343.0h0M65.3 343.1h0M14.8 346.0h0M20.1 347.3h0M26.0 345.6h0M28.6 346.4h0M33.4 346.6h0M35.7 346.4h0M38.2 346.6h0M46.7 346.4h0M54.7 347.0h0M61.7 346.3h0M64.6 345.9h0M70.5 345.9h0M17.3 354.7h0M20.3 354.6h0M26.3 354.9h0M31.1 354.5h0M44.5 353.9h0M60.3 354.0h0M62.9 354.3h0M65.5 355.0h0M23.8 358.4h0M28.7 356.9h0M31.8 356.8h0M34.8 357.4h0M37.1 356.9h0M52.6 358.0h0M54.9 356.8h0M57.3 356.8h0M24.6 364.9h0M35.4 364.7h0M54.9 365.7h0M57.3 365.6h0M60.3 365.0h0M63.3 364.6h0M25.2 368.3h0M30.6 369.0h0M38.8 367.9h0M41.6 368.6h0M46.6 369.1h0M49.3 369.5h0M51.9 369.4h0M59.5 367.8h0"/>
<path fill="none" stroke="#e67a7a" stroke-width="3.30" stroke-linecap="round" d="M43.8 282.1h0M49.2 282.5h0M54.9 286.4h0M29.8 290.2h0M48.7 289.7h0M53.8 289.7h0M35.1 292.4h0M37.8 292.8h0M40.7 293.2h0M50.7 293.6h0M53.5 292.9h0M56.2 292.6h0M37.0 295.7h0M58.4 295.6h0M35.2 299.7h0M55.4 308.8h0M38.0 311.9h0M71.4 311.6h0M30.1 321.6h0M47.1 322.4h0M53.3 321.9h0M63.2 322.2h0M15.2 325.4h0M20.7 323.8h0M26.0 325.3h0M28.6 323.6h0M47.6 324.5h0M61.7 324.1h0M21.2 331.4h0M38.0 332.6h0M49.0 332.8h0M25.9 336.0h0M44.4 335.8h0M69.5 336.1h0M16.6 342.9h0M51.7 342.8h0M67.9 344.2h0M49.6 347.4h0M52.2 346.3h0M67.5 347.0h0M33.5 354.1h0M36.3 354.3h0M26.4 357.1h0M50.1 358.5h0M46.7 366.2h0M52.3 364.7h0M33.1 368.2h0M35.8 369.5h0M44.1 369.5h0M42.4 292.2h0M38.6 289.4h0M50.4 283.6h0M61.3 279.6h0M32.2 279.0h0M53.6 278.4h0M43.1 279.5h0M50.7 283.3h0M49.9 275.1h0M50.3 284.5h0M53.5 280.2h0M28.3 278.6h0M51.7 275.2h0M46.8 279.0h0M53.7 290.5h0M55.9 275.7h0M46.5 278.3h0M43.7 279.9h0M39.1 278.6h0M49.8 292.2h0M63.7 283.4h0M62.2 280.6h0M43.9 278.3h0M21.9 296.1h0M20.1 292.3h0M36.0 297.4h0M24.1 294.2h0M6.2 323.6h0M11.1 322.5h0M7.2 322.0h0M17.0 313.0h0M14.3 309.1h0M4.4 316.6h0M8.9 317.0h0M7.1 313.1h0M75.8 318.9h0M75.3 323.4h0M68.9 315.8h0M77.5 308.1h0M69.9 308.9h0M76.9 307.9h0M70.8 321.2h0M68.4 316.2h0M79.0 315.3h0M80.9 315.1h0M13.2 333.5h0M14.2 339.7h0M7.2 328.5h0M12.8 333.4h0M2.6 335.0h0M9.4 337.5h0M3.8 344.6h0M8.7 342.0h0M7.3 346.0h0M82.0 330.0h0M83.4 343.6h0M77.9 331.0h0M85.3 337.4h0M75.6 337.9h0M74.1 344.4h0M81.1 335.4h0M82.7 341.7h0M11.1 359.6h0M8.6 353.4h0M67.3 349.9h0M74.5 361.2h0M74.3 357.4h0M72.5 358.2h0M68.6 358.5h0M70.7 349.6h0M65.9 350.2h0M75.3 354.3h0M26.6 367.5h0M56.7 365.3h0M43.9 373.2h0M40.3 366.7h0M27.6 372.3h0M22.1 367.5h0M45.3 372.9h0M29.2 375.2h0M31.1 375.2h0M63.2 367.1h0M45.1 377.8h0M45.2 377.0h0M51.1 379.8h0M36.9 374.3h0M37.2 379.6h0M34.5 379.5h0M41.6 373.4h0M42.3 378.6h0M46.6 380.0h0M48.0 305.1h0M24.4 305.5h0M24.5 302.7h0M25.1 300.7h0M31.4 304.9h0M28.3 306.6h0M44.3 300.9h0M55.1 304.6h0M45.4 300.7h0M26.8 357.5h0M27.7 323.2h0M17.6 334.5h0M32.6 356.8h0M45.3 339.6h0M68.2 346.9h0M26.4 322.2h0M25.7 346.5h0M62.4 338.3h0M63.1 332.5h0M43.7 318.6h0"/>
<path fill="none" stroke="#e8aa6a" stroke-width="3.60" stroke-linecap="round" d="M37.6 274.7h0M42.6 275.7h0M45.8 284.4h0M55.5 282.0h0M39.4 280.1h0M28.2 291.9h0M18.8 318.1h0M74.1 318.2h0M10.9 338.8h0M7.2 337.9h0M10.0 343.4h0M82.8 335.4h0M76.0 334.5h0M11.6 357.7h0M20.6 359.4h0M50.0 363.2h0M26.2 370.3h0M24.6 372.1h0M55.0 368.2h0M52.4 372.3h0M34.2 366.3h0M56.8 371.2h0M46.7 302.4h0M64.6 349.6h0M51.1 357.5h0M54.7 324.0h0"/></g>
<g transform="translate(335.3,0)"><path fill="none" stroke="#aaaaaa" stroke-width="0.90" stroke-linecap="round" d="M35.8 281.9L38.3 282.8M38.3 282.8L41.4 282.2M41.4 282.2L43.8 282.1M43.8 282.1L46.7 282.7M46.7 282.7L49.2 282.5M49.2 282.5L51.9 281.9M51.9 281.9L51.9 279.5M51.9 281.9L54.3 281.8M54.3 281.8L56.6 283.3M56.6 283.3L59.5 283.2M59.5 283.2L59.5 281.2M38.5 284.8L40.8 285.6M40.8 285.6L43.7 285.0M43.7 285.0L46.3 285.3M46.3 285.3L49.4 286.3M49.4 286.3L52.3 285.4M52.3 285.4L52.3 283.1M52.3 285.4L54.9 286.4M54.9 286.4L57.6 285.1M57.6 285.1L60.2 285.6M60.2 285.6L60.2 283.2M57.1 288.3L55.5 284.0M58.9 288.9L58.6 284.0M44.1 279.2L45.6 284.0M54.7 279.0L55.6 284.0M29.8 290.2L32.8 289.0M32.8 289.0L35.3 288.7M35.3 288.7L38.0 290.3M38.0 290.3L40.4 289.8M40.4 289.8L43.2 288.8M43.2 288.8L45.7 289.1M45.7 289.1L48.7 289.7M48.7 289.7L51.2 289.9M51.2 289.9L53.8 289.7M53.8 289.7L53.8 287.7M53.8 289.7L56.6 288.7M56.6 288.7L59.3 289.9M59.3 289.9L62.0 289.6M32.3 291.8L35.1 292.4M35.1 292.4L37.8 292.8M37.8 292.8L40.7 293.2M40.7 293.2L43.2 291.9M43.2 291.9L43.2 294.9M43.2 291.9L45.8 293.0M45.8 293.0L48.2 293.3M48.2 293.3L50.7 293.6M50.7 293.6L53.5 292.9M53.5 292.9L56.2 292.6M56.2 292.6L56.2 294.7M56.2 292.6L58.5 292.2M58.5 292.2L58.5 294.6M58.5 292.2L61.3 291.7M55.7 285.8L56.8 291.0M37.8 287.3L36.9 291.0M42.4 285.9L41.8 291.0M62.6 286.0L61.1 291.0M34.7 287.4L34.2 291.0M23.7 296.6L26.1 297.2M26.1 297.2L28.8 296.9M28.8 296.9L28.8 294.6M28.8 296.9L31.7 297.4M31.7 297.4L34.6 297.2M34.6 297.2L37.0 295.7M37.0 295.7L39.5 296.6M39.5 296.6L39.5 294.4M39.5 296.6L42.1 296.0M42.1 296.0L45.0 295.7M45.0 295.7L48.0 297.0M48.0 297.0L50.6 295.9M50.6 295.9L50.6 292.9M50.6 295.9L53.5 296.8M53.5 296.8L55.9 295.5M55.9 295.5L58.4 295.6M58.4 295.6L58.4 292.6M58.4 295.6L61.5 295.5M61.5 295.5L63.9 295.7M63.9 295.7L66.3 297.4M24.7 299.8L27.1 299.6M27.1 299.6L29.5 300.4M29.5 300.4L29.5 303.3M29.5 300.4L32.5 299.9M32.5 299.9L35.2 299.7M35.2 299.7L37.9 299.4M37.9 299.4L40.3 300.1M40.3 300.1L42.7 298.7M42.7 298.7L42.7 296.3M42.7 298.7L45.5 300.4M45.5 300.4L47.9 299.0M47.9 299.0L50.3 300.0M50.3 300.0L52.7 300.5M52.7 300.5L55.2 300.3M55.2 300.3L55.2 303.4M55.2 300.3L57.6 298.7M57.6 298.7L60.1 300.5M60.1 300.5L62.8 298.8M44.9 303.0L43.9 298.0M53.9 294.0L55.6 298.0M33.2 302.7L32.5 298.0M50.2 293.6L48.3 298.0M55.2 292.9L53.3 298.0M44.8 302.4L44.0 298.0M65.8 292.7L64.7 298.0M14.2 308.1L17.0 307.6M17.0 307.6L17.0 309.8M17.0 307.6L19.9 307.4M19.9 307.4L22.3 309.4M22.3 309.4L22.3 312.4M22.3 309.4L24.8 308.9M24.8 308.9L27.2 308.0M27.2 308.0L27.2 310.5M27.2 308.0L29.7 307.9M29.7 307.9L32.2 307.6M32.2 307.6L35.1 308.2M35.1 308.2L37.9 309.4M37.9 309.4L40.5 308.4M40.5 308.4L43.1 308.1M43.1 308.1L43.1 305.3M43.1 308.1L45.5 309.0M45.5 309.0L48.1 308.2M48.1 308.2L50.4 308.3M50.4 308.3L50.4 305.3M50.4 308.3L52.9 307.7M52.9 307.7L55.4 308.8M55.4 308.8L55.4 306.4M55.4 308.8L57.9 308.4M57.9 308.4L60.9 308.6M60.9 308.6L63.4 308.8M63.4 308.8L66.2 307.8M66.2 307.8L68.9 308.4M68.9 308.4L68.9 311.0M68.9 308.4L71.9 307.4M14.4 312.5L17.4 311.3M17.4 311.3L20.2 311.2M20.2 311.2L22.8 310.9M22.8 310.9L22.8 308.3M22.8 310.9L25.5 311.8M25.5 311.8L28.1 311.0M28.1 311.0L30.5 310.8M30.5 310.8L30.5 313.2M30.5 310.8L32.9 311.2M32.9 311.2L35.5 311.9M35.5 311.9L38.0 311.9M38.0 311.9L41.0 311.7M41.0 311.7L41.0 314.3M41.0 311.7L43.6 310.8M43.6 310.8L45.9 311.6M45.9 311.6L45.9 313.8M45.9 311.6L48.2 312.2M48.2 312.2L51.0 311.9M51.0 311.9L53.9 310.7M53.9 310.7L53.9 307.8M53.9 310.7L56.5 312.1M56.5 312.1L59.4 310.7M59.4 310.7L62.5 312.4M62.5 312.4L65.5 311.2M65.5 311.2L68.4 310.7M68.4 310.7L68.4 307.8M68.4 310.7L71.4 311.6M71.4 311.6L71.4 314.4M61.2 314.6L60.9 310.0M54.6 305.5L52.9 310.0M56.4 315.4L54.4 310.0M24.3 305.1L25.9 310.0M66.6 306.2L65.8 310.0M33.3 314.3L32.8 310.0M24.0 305.4L24.9 310.0M42.9 315.0L43.1 310.0M55.4 305.5L55.8 310.0M61.7 313.9L62.5 310.0M11.0 321.1L13.3 321.7M13.3 321.7L16.4 320.9M16.4 320.9L19.5 320.8M19.5 320.8L21.8 320.8M21.8 320.8L24.5 322.3M24.5 322.3L27.6 322.1M27.6 322.1L30.1 321.6M30.1 321.6L30.1 324.5M30.1 321.6L32.8 320.8M32.8 320.8L35.5 321.5M35.5 321.5L38.4 322.3M38.4 322.3L41.1 321.4M41.1 321.4L44.1 320.5M44.1 320.5L44.1 317.4M44.1 320.5L47.1 322.4M47.1 322.4L47.1 319.7M47.1 322.4L50.2 320.9M50.2 320.9L53.3 321.9M53.3 321.9L53.3 318.8M53.3 321.9L55.8 320.8M55.8 320.8L58.3 322.2M58.3 322.2L60.9 320.6M60.9 320.6L63.2 322.2M63.2 322.2L65.8 321.9M65.8 321.9L68.4 321.3M68.4 321.3L71.3 321.4M71.3 321.4L73.8 321.1M73.8 321.1L76.2 322.3M12.1 324.8L15.2 325.4M15.2 325.4L17.7 325.3M17.7 325.3L20.7 323.8M20.7 323.8L23.0 324.0M23.0 324.0L26.0 325.3M26.0 325.3L26.0 322.7M26.0 325.3L28.6 323.6M28.6 323.6L31.1 325.1M31.1 325.1L31.1 322.3M31.1 325.1L33.6 323.9M33.6 323.9L33.6 326.6M33.6 323.9L36.7 324.1M36.7 324.1L39.6 324.7M39.6 324.7L39.6 322.3M39.6 324.7L42.0 325.6M42.0 325.6L44.5 324.6M44.5 324.6L47.6 324.5M47.6 324.5L50.5 325.0M50.5 325.0L53.6 324.0M53.6 324.0L56.4 325.6M56.4 325.6L59.4 323.8M59.4 323.8L59.4 321.6M59.4 323.8L61.7 324.1M61.7 324.1L64.3 324.5M64.3 324.5L67.0 324.6M67.0 324.6L69.3 324.2M69.3 324.2L72.1 324.9M72.1 324.9L72.1 327.8M72.1 324.9L74.8 324.7M20.8 317.9L19.3 323.0M51.3 318.3L50.4 323.0M61.7 317.8L61.8 323.0M54.7 327.9L53.8 323.0M48.1 327.5L49.2 323.0M74.3 328.4L75.3 323.0M62.3 317.7L63.9 323.0M14.6 317.7L14.7 323.0M37.7 328.1L36.4 323.0M33.8 319.4L33.9 323.0M26.6 317.6L26.6 323.0M10.1 332.1L13.0 332.6M13.0 332.6L15.9 332.5M15.9 332.5L18.7 333.1M18.7 333.1L18.7 336.0M18.7 333.1L21.2 331.4M21.2 331.4L24.1 331.9M24.1 331.9L24.1 334.9M24.1 331.9L26.9 331.8M26.9 331.8L29.8 331.6M29.8 331.6L32.4 333.2M32.4 333.2L35.4 333.4M35.4 333.4L38.0 332.6M38.0 332.6L40.6 331.4M40.6 331.4L43.5 332.8M43.5 332.8L46.0 332.4M46.0 332.4L46.0 329.9M46.0 332.4L49.0 332.8M49.0 332.8L49.0 330.7M49.0 332.8L51.6 331.8M51.6 331.8L54.1 333.2M54.1 333.2L57.1 333.1M57.1 333.1L59.4 332.0M59.4 332.0L59.4 334.7M59.4 332.0L62.2 332.3M62.2 332.3L64.6 331.9M64.6 331.9L67.2 332.4M67.2 332.4L69.9 332.3M69.9 332.3L72.7 333.3M72.7 333.3L75.7 331.4M11.9 335.2L15.0 336.0M15.0 336.0L17.7 336.1M17.7 336.1L20.4 336.1M20.4 336.1L20.4 338.7M20.4 336.1L22.9 335.2M22.9 335.2L25.9 336.0M25.9 336.0L25.9 333.9M25.9 336.0L28.6 336.4M28.6 336.4L31.3 334.7M31.3 334.7L33.7 336.3M33.7 336.3L36.3 335.9M36.3 335.9L39.0 335.4M39.0 335.4L42.0 334.9M42.0 334.9L42.0 337.3M42.0 334.9L44.4 335.8M44.4 335.8L47.2 336.1M47.2 336.1L47.2 333.1M47.2 336.1L50.2 334.9M50.2 334.9L52.8 335.4M52.8 335.4L55.8 335.6M55.8 335.6L58.7 335.3M58.7 335.3L61.1 336.2M61.1 336.2L61.1 333.8M61.1 336.2L64.1 336.0M64.1 336.0L67.1 334.7M67.1 334.7L69.5 336.1M69.5 336.1L72.2 335.3M72.2 335.3L75.2 334.8M45.1 338.5L43.5 334.0M67.6 330.2L69.5 334.0M55.3 339.4L56.7 334.0M14.7 338.9L15.6 334.0M48.7 339.2L46.7 334.0M50.0 328.7L49.8 334.0M24.3 338.9L24.3 334.0M32.2 339.2L32.6 334.0M32.4 339.3L33.3 334.0M69.5 330.4L69.8 334.0M48.1 330.1L49.9 334.0M11.4 342.4L11.4 344.9M11.4 342.4L13.9 343.2M13.9 343.2L16.6 342.9M16.6 342.9L19.2 343.9M19.2 343.9L19.2 340.8M19.2 343.9L21.7 344.3M21.7 344.3L24.5 343.3M24.5 343.3L26.9 343.3M26.9 343.3L29.8 343.4M29.8 343.4L32.6 343.9M32.6 343.9L35.4 343.6M35.4 343.6L38.0 342.9M38.0 342.9L40.5 342.8M40.5 342.8L40.5 340.4M40.5 342.8L43.2 343.9M43.2 343.9L46.2 343.2M46.2 343.2L48.9 342.5M48.9 342.5L51.7 342.8M51.7 342.8L51.7 345.4M51.7 342.8L54.2 343.8M54.2 343.8L57.2 342.6M57.2 342.6L57.2 340.0M57.2 342.6L59.5 344.1M59.5 344.1L62.4 343.0M62.4 343.0L65.3 343.1M65.3 343.1L65.3 340.4M65.3 343.1L67.9 344.2M67.9 344.2L67.9 346.6M67.9 344.2L70.3 342.6M70.3 342.6L73.0 342.6M14.8 346.0L17.4 347.5M17.4 347.5L20.1 347.3M20.1 347.3L23.2 347.4M23.2 347.4L23.2 350.1M23.2 347.4L26.0 345.6M26.0 345.6L26.0 343.5M26.0 345.6L28.6 346.4M28.6 346.4L31.0 346.5M31.0 346.5L33.4 346.6M33.4 346.6L35.7 346.4M35.7 346.4L35.7 344.0M35.7 346.4L38.2 346.6M38.2 346.6L41.0 347.0M41.0 347.0L41.0 344.6M41.0 347.0L44.1 346.8M44.1 346.8L46.7 346.4M46.7 346.4L49.6 347.4M49.6 347.4L52.2 346.3M52.2 346.3L54.7 347.0M54.7 347.0L57.0 347.5M57.0 347.5L59.4 346.2M59.4 346.2L61.7 346.3M61.7 346.3L64.6 345.9M64.6 345.9L67.5 347.0M67.5 347.0L67.5 349.5M67.5 347.0L70.5 345.9M36.4 340.4L35.2 345.0M20.3 349.6L21.0 345.0M27.1 350.2L26.0 345.0M64.0 340.3L63.9 345.0M43.5 348.5L44.6 345.0M24.9 341.3L24.9 345.0M12.5 341.0L11.4 345.0M59.9 340.6L60.8 345.0M23.6 349.0L23.6 345.0M61.1 340.1L62.4 345.0M17.3 354.7L20.3 354.6M20.3 354.6L23.3 354.5M23.3 354.5L26.3 354.9M26.3 354.9L26.3 352.2M26.3 354.9L28.7 355.0M28.7 355.0L31.1 354.5M31.1 354.5L33.5 354.1M33.5 354.1L33.5 356.6M33.5 354.1L36.3 354.3M36.3 354.3L38.9 353.7M38.9 353.7L38.9 351.3M38.9 353.7L41.9 355.1M41.9 355.1L44.5 353.9M44.5 353.9L44.5 356.5M44.5 353.9L47.1 355.0M47.1 355.0L49.6 354.7M49.6 354.7L51.9 353.8M51.9 353.8L54.6 354.5M54.6 354.5L57.7 353.4M57.7 353.4L60.3 354.0M60.3 354.0L62.9 354.3M62.9 354.3L65.5 355.0M65.5 355.0L68.3 353.7M68.3 353.7L68.3 355.7M21.0 357.3L23.8 358.4M23.8 358.4L26.4 357.1M26.4 357.1L26.4 359.2M26.4 357.1L28.7 356.9M28.7 356.9L31.8 356.8M31.8 356.8L34.8 357.4M34.8 357.4L34.8 354.6M34.8 357.4L37.1 356.9M37.1 356.9L39.8 357.8M39.8 357.8L42.6 356.7M42.6 356.7L45.2 356.9M45.2 356.9L47.6 358.2M47.6 358.2L50.1 358.5M50.1 358.5L50.1 355.5M50.1 358.5L52.6 358.0M52.6 358.0L54.9 356.8M54.9 356.8L57.3 356.8M57.3 356.8L57.3 353.8M57.3 356.8L59.8 358.3M59.8 358.3L59.8 355.9M59.8 358.3L62.2 357.9M62.2 357.9L65.2 357.9M65.2 357.9L65.2 355.2M57.4 351.8L58.3 356.0M27.8 351.5L27.1 356.0M62.8 360.8L62.0 356.0M48.1 352.2L46.9 356.0M53.2 360.0L53.6 356.0M23.2 351.7L22.4 356.0M59.9 360.5L61.9 356.0M46.4 360.7L45.3 356.0M24.6 364.9L27.3 365.3M27.3 365.3L29.7 366.1M29.7 366.1L32.4 366.4M32.4 366.4L35.4 364.7M35.4 364.7L38.5 366.1M38.5 366.1L41.2 364.7M41.2 364.7L44.1 365.0M44.1 365.0L46.7 366.2M46.7 366.2L49.6 365.4M49.6 365.4L52.3 364.7M52.3 364.7L52.3 362.4M52.3 364.7L54.9 365.7M54.9 365.7L57.3 365.6M57.3 365.6L60.3 365.0M60.3 365.0L63.3 364.6M25.2 368.3L25.2 370.5M25.2 368.3L27.9 368.0M27.9 368.0L27.9 365.3M27.9 368.0L30.6 369.0M30.6 369.0L30.6 366.8M30.6 369.0L33.1 368.2M33.1 368.2L35.8 369.5M35.8 369.5L38.8 367.9M38.8 367.9L41.6 368.6M41.6 368.6L44.1 369.5M44.1 369.5L46.6 369.1M46.6 369.1L49.3 369.5M49.3 369.5L51.9 369.4M51.9 369.4L54.3 369.5M54.3 369.5L57.2 369.2M57.2 369.2L59.5 367.8M59.5 367.8L59.5 365.2M59.5 367.8L62.0 369.0M34.7 372.4L35.3 367.0M30.0 361.8L29.7 367.0M60.4 371.8L61.1 367.0M33.5 372.0L32.6 367.0M63.0 370.6L64.1 367.0M25.2 363.4L23.3 367.0M60.6 288.6L59.0 286.3M51.4 284.2L49.3 282.4M38.6 289.4L37.5 292.0M50.4 283.6L47.9 282.3M31.2 276.5L33.5 278.0M28.7 278.8L27.2 276.4M46.4 279.2L47.3 276.6M53.6 278.4L50.9 279.2M50.7 283.3L47.9 283.3M50.3 284.5L53.0 283.7M41.7 274.4L41.8 271.6M62.1 285.6L59.6 287.1M53.5 280.2L55.8 281.7M48.9 285.7L51.7 286.0M28.3 278.6L26.0 280.2M35.5 277.2L32.8 277.7M60.0 278.6L62.5 277.4M53.1 276.0L55.7 277.1M30.6 281.8L32.5 279.7M41.8 290.8L39.2 289.8M53.0 274.8L55.6 273.8M28.7 278.4L30.4 280.6M53.7 290.5L51.2 289.2M46.8 278.5L46.5 281.3M52.4 275.5L51.2 273.0M55.9 275.7L57.5 278.0M42.1 284.8L44.5 286.2M37.6 291.0L38.9 288.5M46.5 278.3L47.7 280.8M39.4 280.1L41.5 278.3M60.7 286.1L63.5 286.3M43.7 279.9L41.0 279.4M26.1 282.1L24.8 279.6M27.5 282.8L30.3 282.2M46.9 277.7L49.5 276.7M49.8 292.2L50.1 289.4M59.4 280.7L62.1 281.0M49.4 277.6L50.2 274.9M62.2 280.6L59.6 279.9M48.6 287.1L45.8 287.5M37.6 282.5L35.4 280.6M46.8 282.6L44.5 284.3M43.9 278.3L41.1 278.0M50.3 286.3L48.3 288.3M41.1 291.9L43.9 291.7M21.9 296.1L23.7 294.0M44.6 298.4L44.5 295.6M24.6 293.8L23.7 296.4M24.7 297.0L26.5 294.9M22.2 296.3L24.5 294.8M40.7 299.9L39.0 297.7M20.6 294.8L18.2 296.1M33.7 296.2L33.4 293.5M21.1 298.5L23.0 296.5M28.2 291.9L29.8 294.2M20.2 299.3L17.4 299.0M23.1 293.0L23.9 290.3M17.7 297.5L17.6 294.7M43.5 297.5L40.8 296.6M34.1 291.2L34.9 293.8M35.8 297.5L33.6 295.8M24.1 294.2L21.3 294.0M23.6 295.1L20.8 294.7M26.4 291.3L27.6 288.7M43.4 296.3L42.5 293.6M10.6 313.8L13.3 313.1M16.6 320.3L19.4 320.6M13.3 309.8L12.3 307.1M4.9 307.1L4.3 304.4M9.4 310.7L9.0 313.5M17.6 318.8L18.7 316.2M15.0 308.4L14.8 311.2M14.1 322.4L12.7 324.9M2.3 312.7L3.0 310.0M4.8 312.2L4.3 309.4M11.1 316.7L10.2 314.1M3.9 318.8L1.1 318.7M6.2 323.6L8.6 325.2M18.5 317.8L17.8 315.1M7.2 322.0L8.6 319.6M17.0 313.0L14.2 313.1M18.8 318.1L16.1 318.4M14.3 309.1L17.0 309.7M15.7 320.5L14.9 317.9M1.2 318.1L-1.6 317.6M8.9 317.0L9.0 319.8M7.1 313.1L9.8 312.4M7.6 312.5L6.2 310.1M7.3 321.6L4.5 322.0M1.8 317.3L3.0 314.8M11.3 320.6L14.0 319.9M2.3 309.5L0.5 311.6M13.1 308.9L10.8 307.3M75.8 318.9L73.5 320.5M83.5 314.1L83.5 311.3M74.4 306.1L73.0 303.6M68.9 315.8L70.3 318.2M80.6 309.1L80.4 306.3M74.1 318.2L76.8 317.7M75.2 319.1L77.0 317.0M80.7 308.3L80.5 311.1M74.8 314.0L73.6 316.6M72.5 322.5L69.9 323.5M78.3 317.0L78.0 319.8M76.9 307.9L74.5 306.5M70.8 321.2L70.2 323.9M78.2 310.5L81.0 311.1M80.9 309.8L82.1 312.3M81.9 315.4L84.5 314.4M77.5 317.0L79.4 319.1M68.4 316.2L70.8 314.8M77.4 316.3L80.2 316.0M77.9 324.4L75.4 325.8M70.0 310.8L72.6 309.6M75.7 319.6L75.6 316.8M82.6 310.2L80.3 308.6M82.3 309.8L81.7 307.1M6.6 329.7L9.3 329.1M14.2 339.7L11.4 339.2M7.2 328.5L7.3 325.7M3.4 329.7L4.0 327.0M5.1 329.2L6.5 326.7M10.9 338.8L13.7 338.1M6.3 331.6L4.0 330.1M13.1 342.1L14.6 344.5M12.8 333.4L12.4 330.7M0.6 334.7L2.1 332.4M2.0 333.6L4.6 334.8M1.5 333.7L2.8 336.2M5.2 339.8L6.7 342.1M2.7 329.6L2.4 332.4M7.2 337.9L4.4 338.2M2.6 335.0L5.1 333.8M3.8 344.6L3.3 341.8M10.0 343.4L11.4 345.8M11.1 340.5L10.6 337.7M8.7 342.0L8.5 339.2M10.5 340.0L13.1 340.9M9.4 338.5L9.0 335.7M9.5 344.6L7.8 346.9M85.4 337.6L87.8 339.0M72.9 333.9L72.0 331.2M77.0 343.1L78.4 340.6M75.5 344.8L78.2 344.1M79.5 330.0L80.9 327.6M76.5 334.6L73.8 334.0M82.0 336.9L79.7 335.4M82.0 330.0L83.9 328.0M82.8 335.4L80.1 336.2M83.4 343.6L86.1 344.5M81.3 329.1L79.9 326.7M77.9 331.0L76.1 333.2M76.3 344.4L73.8 343.1M77.3 340.5L78.5 343.0M71.9 342.6L71.4 345.4M78.7 337.8L78.2 335.1M85.3 337.4L88.0 336.5M76.0 334.5L77.8 332.3M82.2 336.6L82.3 339.4M75.9 333.1L77.4 335.5M78.2 338.6L80.1 336.5M76.6 337.9L78.3 335.7M82.7 341.7L81.1 339.4M78.4 332.1L76.2 330.4M71.5 334.4L73.7 332.6M77.8 344.8L79.7 346.9M20.5 355.9L18.9 358.2M16.8 354.9L14.1 355.5M18.0 356.8L20.8 357.0M18.3 361.0L16.6 363.3M15.1 359.9L15.6 357.1M8.3 360.8L6.9 358.4M6.4 355.3L4.1 353.7M19.3 353.2L19.0 355.9M11.1 359.6L11.2 362.4M11.6 357.7L13.0 355.2M11.0 357.6L9.8 355.1M16.8 357.4L18.5 359.6M11.5 357.5L13.0 355.1M8.7 356.3L9.6 359.0M15.3 355.5L12.6 356.0M16.9 360.9L14.1 360.6M16.1 352.0L18.5 353.5M12.9 362.9L10.1 363.0M79.9 357.7L79.1 360.4M74.3 357.4L75.3 354.8M70.4 356.5L68.9 354.1M72.5 358.2L74.9 356.8M68.6 358.5L68.2 361.3M65.4 359.4L67.6 357.6M70.7 349.6L68.7 351.6M71.5 351.4L72.2 348.7M71.7 359.6L68.9 359.5M63.7 350.9L63.3 353.7M65.9 350.2L67.9 352.2M72.5 353.8L73.5 351.2M70.3 354.7L68.3 356.6M80.5 354.6L80.4 357.4M73.3 357.3L76.1 357.4M75.3 361.3L74.4 358.6M75.5 360.0L77.8 358.4M69.0 360.5L69.7 357.8M69.3 358.1L68.8 355.4M68.8 351.1L68.6 353.9M54.7 367.6L57.3 368.7M26.6 367.5L28.1 369.9M50.0 363.2L50.1 360.4M56.7 365.3L56.1 368.0M43.9 373.2L46.2 374.7M40.3 366.7L39.1 364.2M27.6 372.3L26.5 369.7M24.0 363.3L23.2 366.0M23.9 364.6L21.1 364.1M63.1 365.8L60.6 367.2M53.0 365.6L51.6 363.1M34.6 369.7L34.0 372.4M47.2 363.8L49.1 365.8M53.6 372.3L51.8 370.2M54.0 364.5L54.4 361.7M50.5 361.2L48.0 362.3M55.0 368.2L52.3 367.4M30.8 375.0L31.2 372.2M34.5 373.9L37.2 373.1M29.2 375.2L26.5 376.1M62.2 365.5L59.9 367.1M60.8 366.4L58.0 366.7M36.0 366.0L33.3 365.1M31.9 369.0L33.4 371.3M41.8 375.0L44.6 375.0M61.6 369.2L63.2 366.8M31.9 371.6L32.6 368.9M52.4 372.3L54.0 374.6M34.2 366.3L35.7 368.6M31.1 375.2L30.7 377.9M46.3 366.8L45.5 364.1M62.8 369.9L65.0 371.7M59.5 366.1L59.0 363.3M48.1 374.5L45.4 375.3M59.1 372.6L61.5 374.0M28.3 366.9L26.2 365.1M37.4 370.9L39.8 372.3M63.2 367.1L60.4 366.9M48.1 376.2L49.6 378.6M45.1 377.8L44.5 380.5M32.7 375.1L30.6 373.2M51.6 375.8L53.0 378.3M36.9 374.3L35.0 372.3M34.4 374.4L34.1 377.2M54.0 375.2L55.1 372.6M34.5 379.5L34.7 382.3M41.6 373.4L44.4 373.5M31.9 377.5L29.2 378.0M42.3 378.6L44.1 376.4M36.8 377.9L39.6 377.2M46.6 380.0L47.9 382.4M16.2 303.4L14.1 305.2M27.1 306.0L25.5 308.3M48.0 305.1L48.3 307.9M44.5 303.4L46.2 305.7M24.4 305.5L21.8 304.5M24.5 302.7L21.9 303.8M35.4 306.9L32.9 305.7M25.9 301.8L25.9 304.6M18.4 303.9L20.7 302.3M31.4 304.9L32.3 307.6M62.8 303.6L63.4 300.9M26.1 304.1L28.9 303.7M15.0 302.4L17.8 302.4M28.3 306.6L30.7 305.1M55.1 304.6L57.8 303.6M41.3 300.1L39.1 301.7M64.0 304.9L65.2 307.5M12.2 303.5L10.3 301.5M46.7 302.4L46.8 299.6M54.2 301.9L54.9 299.1M54.0 324.5L51.5 323.2M26.8 357.5L24.0 357.2M52.5 354.4L49.8 355.1M35.5 350.1L32.8 349.3M64.6 349.6L67.3 350.3M58.4 358.2L60.2 356.0M32.5 326.2L33.7 323.7M29.4 355.3L31.3 353.3M17.6 334.5L19.3 332.3M32.6 356.8L33.6 354.2M40.1 345.2L38.8 347.7M23.1 353.3L24.9 351.2M51.1 357.5L48.3 358.0M24.6 331.0L21.8 330.8M25.2 337.6L27.4 335.8M45.3 339.6L44.5 342.2M13.9 347.2L16.5 346.2M68.2 346.9L70.8 348.0M55.8 352.2L57.8 354.2M47.0 330.6L49.8 330.5M48.9 343.5L46.4 342.3M41.3 354.0L38.5 353.8M39.0 343.0L37.5 345.4M60.8 353.4L58.4 354.8M40.4 331.2L43.2 330.7M18.6 336.5L18.4 339.3M62.4 338.3L65.2 338.0M26.2 338.3L24.3 340.4M51.7 345.2L49.0 344.8M47.5 356.2L49.1 353.9M63.1 332.5L61.5 334.8M44.8 321.8L42.3 320.5M60.7 332.2L58.2 333.5M43.1 361.6L44.4 364.1M43.7 318.6L46.0 320.3M64.9 343.4L67.2 344.9"/>
<path fill="none" stroke="#dcdcdc" stroke-width="1.80" stroke-linecap="round" d="M52.8 279.5h0M58.6 281.2h0M53.2 283.1h0M59.9 283.2h0M54.7 279.0h0M53.4 287.7h0M43.5 294.9h0M56.5 294.7h0M57.8 294.6h0M29.6 294.6h0M38.6 294.4h0M51.5 292.9h0M57.7 292.6h0M29.0 303.3h0M43.6 296.3h0M54.6 303.4h0M44.9 303.0h0M44.8 302.4h0M17.8 309.8h0M23.1 312.4h0M26.4 310.5h0M43.3 305.3h0M49.5 305.3h0M56.3 306.4h0M69.4 311.0h0M22.6 308.3h0M30.0 313.2h0M40.3 314.3h0M45.9 313.8h0M54.7 307.8h0M68.6 307.8h0M70.7 314.4h0M66.6 306.2h0M33.3 314.3h0M29.4 324.5h0M44.2 317.4h0M46.5 319.7h0M54.3 318.8h0M26.6 322.7h0M30.4 322.3h0M33.1 326.6h0M39.4 322.3h0M58.5 321.6h0M71.6 327.8h0M51.3 318.3h0M61.7 317.8h0M74.3 328.4h0M26.6 317.6h0M18.7 336.0h0M24.8 334.9h0M46.3 329.9h0M48.3 330.7h0M60.2 334.7h0M19.7 338.7h0M26.8 333.9h0M42.0 337.3h0M46.7 333.1h0M61.0 333.8h0M69.5 330.4h0M48.1 330.1h0M11.8 344.9h0M19.5 340.8h0M40.1 340.4h0M51.1 345.4h0M57.5 340.0h0M65.5 340.4h0M68.7 346.6h0M22.5 350.1h0M25.8 343.5h0M36.1 344.0h0M41.2 344.6h0M67.9 349.5h0M64.0 340.3h0M43.5 348.5h0M59.9 340.6h0M61.1 340.1h0M25.5 352.2h0M33.0 356.6h0M38.5 351.3h0M45.3 356.5h0M68.2 355.7h0M25.9 359.2h0M35.7 354.6h0M50.2 355.5h0M57.2 353.8h0M59.2 355.9h0M64.9 355.2h0M53.2 360.0h0M23.2 351.7h0M46.4 360.7h0M51.8 362.4h0M24.8 370.5h0M27.2 365.3h0M30.6 366.8h0M58.9 365.2h0M34.7 372.4h0M60.4 371.8h0M63.0 370.6h0M62.1 285.6h0M50.8 281.8h0M52.4 275.5h0M46.9 277.7h0M43.1 284.5h0M59.4 280.7h0M25.8 296.4h0M21.3 292.0h0M29.6 289.3h0M23.1 293.0h0M34.1 291.2h0M43.4 296.3h0M17.6 318.8h0M15.0 308.4h0M3.9 318.8h0M5.6 322.8h0M9.9 316.5h0M9.8 318.8h0M71.9 314.4h0M75.5 311.4h0M79.9 315.9h0M81.9 315.4h0M1.1 340.6h0M6.3 331.6h0M13.1 342.1h0M5.2 339.8h0M75.5 344.8h0M76.5 334.6h0M76.3 344.4h0M71.9 342.6h0M75.9 333.1h0M78.2 338.6h0M75.2 338.2h0M78.4 332.1h0M71.5 334.4h0M20.5 355.9h0M19.2 350.4h0M6.4 355.3h0M11.5 357.5h0M8.7 356.3h0M12.7 349.2h0M16.1 352.0h0M79.9 357.7h0M72.5 353.8h0M70.3 354.7h0M75.3 361.3h0M75.5 360.0h0M52.8 375.4h0M46.5 361.2h0M53.0 365.6h0M54.0 364.5h0M34.5 373.9h0M31.9 371.6h0M36.0 361.2h0M46.3 366.8h0M59.5 366.1h0M59.1 372.6h0M29.5 378.7h0M35.7 378.1h0M32.7 375.1h0M34.4 374.4h0M27.1 306.0h0M41.9 299.5h0M41.3 300.1h0M52.5 354.4h0M35.5 350.1h0M60.9 330.3h0M40.1 345.2h0M23.1 353.3h0M62.8 342.7h0M48.9 343.5h0M40.4 331.2h0"/>
<path fill="none" stroke="#a2a2a2" stroke-width="2.90" stroke-linecap="round" d="M41.4 282.2h0M51.9 281.9h0M54.3 281.8h0M59.5 283.2h0M38.5 284.8h0M46.3 285.3h0M52.3 285.4h0M60.2 285.6h0M57.1 288.3h0M58.9 288.9h0M44.1 279.2h0M35.3 288.7h0M43.2 288.8h0M51.2 289.9h0M56.6 288.7h0M62.0 289.6h0M43.2 291.9h0M45.8 293.0h0M48.2 293.3h0M58.5 292.2h0M55.7 285.8h0M37.8 287.3h0M42.4 285.9h0M62.6 286.0h0M34.7 287.4h0M26.1 297.2h0M31.7 297.4h0M34.6 297.2h0M39.5 296.6h0M42.1 296.0h0M48.0 297.0h0M53.5 296.8h0M55.9 295.5h0M61.5 295.5h0M63.9 295.7h0M24.7 299.8h0M27.1 299.6h0M29.5 300.4h0M37.9 299.4h0M42.7 298.7h0M47.9 299.0h0M62.8 298.8h0M53.9 294.0h0M33.2 302.7h0M50.2 293.6h0M55.2 292.9h0M65.8 292.7h0M14.2 308.1h0M19.9 307.4h0M22.3 309.4h0M27.2 308.0h0M29.7 307.9h0M40.5 308.4h0M45.5 309.0h0M48.1 308.2h0M57.9 308.4h0M60.9 308.6h0M63.4 308.8h0M68.9 308.4h0M71.9 307.4h0M14.4 312.5h0M20.2 311.2h0M32.9 311.2h0M41.0 311.7h0M43.6 310.8h0M45.9 311.6h0M48.2 312.2h0M53.9 310.7h0M56.5 312.1h0M62.5 312.4h0M65.5 311.2h0M68.4 310.7h0M61.2 314.6h0M54.6 305.5h0M56.4 315.4h0M24.3 305.1h0M24.0 305.4h0M42.9 315.0h0M55.4 305.5h0M61.7 313.9h0M11.0 321.1h0M21.8 320.8h0M24.5 322.3h0M27.6 322.1h0M32.8 320.8h0M35.5 321.5h0M38.4 322.3h0M50.2 320.9h0M55.8 320.8h0M60.9 320.6h0M65.8 321.9h0M68.4 321.3h0M71.3 321.4h0M73.8 321.1h0M76.2 322.3h0M42.0 325.6h0M44.5 324.6h0M50.5 325.0h0M53.6 324.0h0M67.0 324.6h0M72.1 324.9h0M20.8 317.9h0M54.7 327.9h0M48.1 327.5h0M62.3 317.7h0M14.6 317.7h0M37.7 328.1h0M33.8 319.4h0M15.9 332.5h0M18.7 333.1h0M24.1 331.9h0M26.9 331.8h0M32.4 333.2h0M35.4 333.4h0M40.6 331.4h0M43.5 332.8h0M51.6 331.8h0M62.2 332.3h0M64.6 331.9h0M69.9 332.3h0M72.7 333.3h0M75.7 331.4h0M11.9 335.2h0M15.0 336.0h0M17.7 336.1h0M20.4 336.1h0M39.0 335.4h0M42.0 334.9h0M52.8 335.4h0M64.1 336.0h0M67.1 334.7h0M72.2 335.3h0M45.1 338.5h0M67.6 330.2h0M55.3 339.4h0M14.7 338.9h0M48.7 339.2h0M50.0 328.7h0M24.3 338.9h0M32.2 339.2h0M32.4 339.3h0M11.4 342.4h0M21.7 344.3h0M26.9 343.3h0M32.6 343.9h0M38.0 342.9h0M43.2 343.9h0M46.2 343.2h0M54.2 343.8h0M59.5 344.1h0M70.3 342.6h0M73.0 342.6h0M17.4 347.5h0M23.2 347.4h0M31.0 346.5h0M41.0 347.0h0M44.1 346.8h0M57.0 347.5h0M59.4 346.2h0M36.4 340.4h0M20.3 349.6h0M27.1 350.2h0M24.9 341.3h0M12.5 341.0h0M23.6 349.0h0M23.3 354.5h0M28.7 355.0h0M38.9 353.7h0M41.9 355.1h0M47.1 355.0h0M49.6 354.7h0M51.9 353.8h0M54.6 354.5h0M57.7 353.4h0M68.3 353.7h0M21.0 357.3h0M39.8 357.8h0M42.6 356.7h0M45.2 356.9h0M47.6 358.2h0M59.8 358.3h0M62.2 357.9h0M65.2 357.9h0M57.4 351.8h0M27.8 351.5h0M62.8 360.8h0M48.1 352.2h0M59.9 360.5h0M27.3 365.3h0M29.7 366.1h0M32.4 366.4h0M38.5 366.1h0M41.2 364.7h0M44.1 365.0h0M49.6 365.4h0M27.9 368.0h0M54.3 369.5h0M57.2 369.2h0M62.0 369.0h0M30.0 361.8h0M33.5 372.0h0M25.2 363.4h0M60.6 288.6h0M51.4 284.2h0M38.7 280.3h0M31.2 276.5h0M28.7 278.8h0M46.4 279.2h0M49.5 273.6h0M53.0 291.4h0M41.7 274.4h0M60.7 288.1h0M48.9 285.7h0M35.5 277.2h0M60.0 278.6h0M53.1 276.0h0M30.6 281.8h0M41.8 290.8h0M53.0 274.8h0M28.7 278.4h0M46.8 278.5h0M42.1 284.8h0M37.6 291.0h0M46.1 289.9h0M60.7 286.1h0M26.1 282.1h0M27.5 282.8h0M47.0 283.8h0M55.6 280.2h0M49.4 277.6h0M48.6 287.1h0M37.6 282.5h0M60.4 280.0h0M46.8 282.6h0M62.0 285.3h0M53.1 274.4h0M50.3 286.3h0M41.1 291.9h0M17.1 295.1h0M44.6 298.4h0M24.6 293.8h0M24.7 297.0h0M32.7 297.7h0M22.2 296.3h0M40.7 299.9h0M20.6 294.8h0M33.7 296.2h0M21.1 298.5h0M17.7 294.8h0M42.6 290.8h0M43.3 299.1h0M20.2 299.3h0M17.7 297.5h0M43.5 297.5h0M35.8 297.5h0M23.6 295.1h0M26.4 291.3h0M10.6 313.8h0M16.6 320.3h0M13.3 309.8h0M4.9 307.1h0M9.4 310.7h0M5.8 313.3h0M14.1 322.4h0M2.3 312.7h0M4.8 312.2h0M11.1 316.7h0M8.6 305.2h0M18.5 317.8h0M2.5 311.5h0M15.2 312.0h0M12.3 311.7h0M15.7 320.5h0M1.2 318.1h0M11.4 321.1h0M13.4 315.0h0M7.6 312.5h0M7.3 321.6h0M1.8 317.3h0M11.3 320.6h0M2.3 309.5h0M13.1 308.9h0M71.3 322.2h0M83.5 314.1h0M74.4 306.1h0M74.9 305.5h0M80.6 309.1h0M75.2 319.1h0M80.7 308.3h0M74.8 314.0h0M72.5 322.5h0M78.3 317.0h0M68.5 310.5h0M78.2 310.5h0M80.9 309.8h0M77.5 317.0h0M77.4 316.3h0M77.4 308.8h0M77.9 324.4h0M70.0 310.8h0M75.7 319.6h0M82.6 310.2h0M82.3 309.8h0M9.0 341.2h0M6.6 329.7h0M6.9 334.3h0M3.4 329.7h0M2.2 336.5h0M5.1 329.2h0M9.2 331.1h0M12.4 336.4h0M0.6 334.7h0M2.0 333.6h0M1.5 333.7h0M2.7 329.6h0M12.1 330.6h0M11.1 340.5h0M10.5 340.0h0M9.4 338.5h0M9.5 344.6h0M10.3 338.8h0M85.4 337.6h0M72.9 333.9h0M77.0 343.1h0M79.5 330.0h0M82.0 336.9h0M81.3 329.1h0M77.3 335.9h0M77.3 340.5h0M70.8 333.3h0M78.7 337.8h0M78.8 342.5h0M74.2 330.3h0M82.2 336.6h0M76.6 337.9h0M77.8 344.8h0M16.8 354.9h0M18.0 356.8h0M18.3 361.0h0M15.1 359.9h0M22.4 355.6h0M8.3 360.8h0M11.5 357.9h0M19.3 353.2h0M17.8 359.2h0M11.0 357.6h0M16.8 357.4h0M15.3 355.5h0M7.3 356.4h0M16.9 360.9h0M12.9 362.9h0M70.4 356.5h0M65.4 359.4h0M71.5 351.4h0M71.7 359.6h0M63.7 350.9h0M78.1 356.6h0M80.5 354.6h0M73.3 357.3h0M69.3 359.3h0M69.0 360.5h0M69.6 351.1h0M69.3 358.1h0M68.8 351.1h0M54.7 367.6h0M36.5 372.4h0M40.0 363.2h0M37.2 371.5h0M24.0 363.3h0M23.9 364.6h0M50.0 364.2h0M63.1 365.8h0M34.6 369.7h0M47.2 363.8h0M53.6 372.3h0M50.5 361.2h0M28.5 374.2h0M30.8 375.0h0M58.0 373.5h0M62.2 365.5h0M36.2 366.4h0M53.9 373.1h0M53.7 374.8h0M60.8 366.4h0M36.0 366.0h0M31.9 369.0h0M41.8 375.0h0M61.6 369.2h0M50.3 371.1h0M22.0 370.3h0M62.8 369.9h0M59.9 365.5h0M48.1 374.5h0M49.5 371.7h0M32.3 360.2h0M28.3 366.9h0M37.4 370.9h0M48.1 376.2h0M42.7 375.3h0M51.6 375.8h0M54.0 375.2h0M34.2 379.6h0M31.9 377.5h0M36.8 377.9h0M16.2 303.4h0M44.5 303.4h0M35.4 306.9h0M25.9 301.8h0M48.2 299.8h0M18.4 303.9h0M14.8 302.3h0M62.8 303.6h0M26.1 304.1h0M66.1 302.3h0M15.0 302.4h0M64.0 304.9h0M12.2 303.5h0M51.8 303.0h0M20.3 303.3h0M46.7 305.5h0M54.2 301.9h0M54.0 324.5h0M37.0 335.3h0M58.4 358.2h0M32.5 326.2h0M57.8 323.3h0M29.4 355.3h0M64.8 337.7h0M58.1 356.9h0M24.6 331.0h0M42.4 335.7h0M25.2 337.6h0M13.9 347.2h0M55.8 352.2h0M60.8 334.9h0M47.0 330.6h0M41.3 354.0h0M39.0 343.0h0M60.8 353.4h0M18.6 336.5h0M26.2 338.3h0M39.9 352.1h0M51.7 345.2h0M47.5 356.2h0M38.4 342.2h0M44.8 321.8h0M60.7 332.2h0M43.1 361.6h0M64.9 343.4h0"/>
<path fill="none" stroke="#6464d6" stroke-width="2.90" stroke-linecap="round" d="M35.8 281.9h0M38.3 282.8h0M46.7 282.7h0M56.6 283.3h0M40.8 285.6h0M43.7 285.0h0M49.4 286.3h0M57.6 285.1h0M32.8 289.0h0M38.0 290.3h0M40.4 289.8h0M45.7 289.1h0M59.3 289.9h0M32.3 291.8h0M61.3 291.7h0M23.7 296.6h0M28.8 296.9h0M45.0 295.7h0M50.6 295.9h0M66.3 297.4h0M32.5 299.9h0M40.3 300.1h0M45.5 300.4h0M50.3 300.0h0M52.7 300.5h0M55.2 300.3h0M57.6 298.7h0M60.1 300.5h0M17.0 307.6h0M24.8 308.9h0M32.2 307.6h0M35.1 308.2h0M37.9 309.4h0M43.1 308.1h0M50.4 308.3h0M52.9 307.7h0M66.2 307.8h0M17.4 311.3h0M22.8 310.9h0M25.5 311.8h0M28.1 311.0h0M30.5 310.8h0M35.5 311.9h0M51.0 311.9h0M59.4 310.7h0M13.3 321.7h0M16.4 320.9h0M19.5 320.8h0M41.1 321.4h0M44.1 320.5h0M58.3 322.2h0M12.1 324.8h0M17.7 325.3h0M23.0 324.0h0M31.1 325.1h0M33.6 323.9h0M36.7 324.1h0M39.6 324.7h0M56.4 325.6h0M59.4 323.8h0M64.3 324.5h0M69.3 324.2h0M74.8 324.7h0M10.1 332.1h0M13.0 332.6h0M29.8 331.6h0M46.0 332.4h0M54.1 333.2h0M57.1 333.1h0M59.4 332.0h0M67.2 332.4h0M22.9 335.2h0M28.6 336.4h0M31.3 334.7h0M33.7 336.3h0M36.3 335.9h0M47.2 336.1h0M50.2 334.9h0M55.8 335.6h0M58.7 335.3h0M61.1 336.2h0M75.2 334.8h0M13.9 343.2h0M19.2 343.9h0M24.5 343.3h0M29.8 343.4h0M35.4 343.6h0M40.5 342.8h0M48.9 342.5h0M57.2 342.6h0M62.4 343.0h0M65.3 343.1h0M14.8 346.0h0M20.1 347.3h0M26.0 345.6h0M28.6 346.4h0M33.4 346.6h0M35.7 346.4h0M38.2 346.6h0M46.7 346.4h0M54.7 347.0h0M61.7 346.3h0M64.6 345.9h0M70.5 345.9h0M17.3 354.7h0M20.3 354.6h0M26.3 354.9h0M31.1 354.5h0M44.5 353.9h0M60.3 354.0h0M62.9 354.3h0M65.5 355.0h0M23.8 358.4h0M28.7 356.9h0M31.8 356.8h0M34.8 357.4h0M37.1 356.9h0M52.6 358.0h0M54.9 356.8h0M57.3 356.8h0M24.6 364.9h0M35.4 364.7h0M54.9 365.7h0M57.3 365.6h0M60.3 365.0h0M63.3 364.6h0M25.2 368.3h0M30.6 369.0h0M38.8 367.9h0M41.6 368.6h0M46.6 369.1h0M49.3 369.5h0M51.9 369.4h0M59.5 367.8h0"/>
<path fill="none" stroke="#e67a7a" stroke-width="3.30" stroke-linecap="round" d="M43.8 282.1h0M49.2 282.5h0M54.9 286.4h0M29.8 290.2h0M48.7 289.7h0M53.8 289.7h0M35.1 292.4h0M37.8 292.8h0M40.7 293.2h0M50.7 293.6h0M53.5 292.9h0M56.2 292.6h0M37.0 295.7h0M58.4 295.6h0M35.2 299.7h0M55.4 308.8h0M38.0 311.9h0M71.4 311.6h0M30.1 321.6h0M47.1 322.4h0M53.3 321.9h0M63.2 322.2h0M15.2 325.4h0M20.7 323.8h0M26.0 325.3h0M28.6 323.6h0M47.6 324.5h0M61.7 324.1h0M21.2 331.4h0M38.0 332.6h0M49.0 332.8h0M25.9 336.0h0M44.4 335.8h0M69.5 336.1h0M16.6 342.9h0M51.7 342.8h0M67.9 344.2h0M49.6 347.4h0M52.2 346.3h0M67.5 347.0h0M33.5 354.1h0M36.3 354.3h0M26.4 357.1h0M50.1 358.5h0M46.7 366.2h0M52.3 364.7h0M33.1 368.2h0M35.8 369.5h0M44.1 369.5h0M42.4 292.2h0M38.6 289.4h0M50.4 283.6h0M61.3 279.6h0M32.2 279.0h0M53.6 278.4h0M43.1 279.5h0M50.7 283.3h0M49.9 275.1h0M50.3 284.5h0M53.5 280.2h0M28.3 278.6h0M51.7 275.2h0M46.8 279.0h0M53.7 290.5h0M55.9 275.7h0M46.5 278.3h0M43.7 279.9h0M39.1 278.6h0M49.8 292.2h0M63.7 283.4h0M62.2 280.6h0M43.9 278.3h0M21.9 296.1h0M20.1 292.3h0M36.0 297.4h0M24.1 294.2h0M6.2 323.6h0M11.1 322.5h0M7.2 322.0h0M17.0 313.0h0M14.3 309.1h0M4.4 316.6h0M8.9 317.0h0M7.1 313.1h0M75.8 318.9h0M75.3 323.4h0M68.9 315.8h0M77.5 308.1h0M69.9 308.9h0M76.9 307.9h0M70.8 321.2h0M68.4 316.2h0M79.0 315.3h0M80.9 315.1h0M13.2 333.5h0M14.2 339.7h0M7.2 328.5h0M12.8 333.4h0M2.6 335.0h0M9.4 337.5h0M3.8 344.6h0M8.7 342.0h0M7.3 346.0h0M82.0 330.0h0M83.4 343.6h0M77.9 331.0h0M85.3 337.4h0M75.6 337.9h0M74.1 344.4h0M81.1 335.4h0M82.7 341.7h0M11.1 359.6h0M8.6 353.4h0M67.3 349.9h0M74.5 361.2h0M74.3 357.4h0M72.5 358.2h0M68.6 358.5h0M70.7 349.6h0M65.9 350.2h0M75.3 354.3h0M26.6 367.5h0M56.7 365.3h0M43.9 373.2h0M40.3 366.7h0M27.6 372.3h0M22.1 367.5h0M45.3 372.9h0M29.2 375.2h0M31.1 375.2h0M63.2 367.1h0M45.1 377.8h0M45.2 377.0h0M51.1 379.8h0M36.9 374.3h0M37.2 379.6h0M34.5 379.5h0M41.6 373.4h0M42.3 378.6h0M46.6 380.0h0M48.0 305.1h0M24.4 305.5h0M24.5 302.7h0M25.1 300.7h0M31.4 304.9h0M28.3 306.6h0M44.3 300.9h0M55.1 304.6h0M45.4 300.7h0M26.8 357.5h0M27.7 323.2h0M17.6 334.5h0M32.6 356.8h0M45.3 339.6h0M68.2 346.9h0M26.4 322.2h0M25.7 346.5h0M62.4 338.3h0M63.1 332.5h0M43.7 318.6h0"/>
<path fill="none" stroke="#e8aa6a" stroke-width="3.60" stroke-linecap="round" d="M37.6 274.7h0M42.6 275.7h0M45.8 284.4h0M55.5 282.0h0M39.4 280.1h0M28.2 291.9h0M18.8 318.1h0M74.1 318.2h0M10.9 338.8h0M7.2 337.9h0M10.0 343.4h0M82.8 335.4h0M76.0 334.5h0M11.6 357.7h0M20.6 359.4h0M50.0 363.2h0M26.2 370.3h0M24.6 372.1h0M55.0 368.2h0M52.4 372.3h0M34.2 366.3h0M56.8 371.2h0M46.7 302.4h0M64.6 349.6h0M51.1 357.5h0M54.7 324.0h0"/></g>
<g transform="translate(432.3,0)"><path fill="none" stroke="#aaaaaa" stroke-width="0.90" stroke-linecap="round" d="M35.8 281.9L38.3 282.8M38.3 282.8L41.4 282.2M41.4 282.2L43.8 282.1M43.8 282.1L46.7 282.7M46.7 282.7L49.2 282.5M49.2 282.5L51.9 281.9M51.9 281.9L51.9 279.5M51.9 281.9L54.3 281.8M54.3 281.8L56.6 283.3M56.6 283.3L59.5 283.2M59.5 283.2L59.5 281.2M38.5 284.8L40.8 285.6M40.8 285.6L43.7 285.0M43.7 285.0L46.3 285.3M46.3 285.3L49.4 286.3M49.4 286.3L52.3 285.4M52.3 285.4L52.3 283.1M52.3 285.4L54.9 286.4M54.9 286.4L57.6 285.1M57.6 285.1L60.2 285.6M60.2 285.6L60.2 283.2M57.1 288.3L55.5 284.0M58.9 288.9L58.6 284.0M44.1 279.2L45.6 284.0M54.7 279.0L55.6 284.0M29.8 290.2L32.8 289.0M32.8 289.0L35.3 288.7M35.3 288.7L38.0 290.3M38.0 290.3L40.4 289.8M40.4 289.8L43.2 288.8M43.2 288.8L45.7 289.1M45.7 289.1L48.7 289.7M48.7 289.7L51.2 289.9M51.2 289.9L53.8 289.7M53.8 289.7L53.8 287.7M53.8 289.7L56.6 288.7M56.6 288.7L59.3 289.9M59.3 289.9L62.0 289.6M32.3 291.8L35.1 292.4M35.1 292.4L37.8 292.8M37.8 292.8L40.7 293.2M40.7 293.2L43.2 291.9M43.2 291.9L43.2 294.9M43.2 291.9L45.8 293.0M45.8 293.0L48.2 293.3M48.2 293.3L50.7 293.6M50.7 293.6L53.5 292.9M53.5 292.9L56.2 292.6M56.2 292.6L56.2 294.7M56.2 292.6L58.5 292.2M58.5 292.2L58.5 294.6M58.5 292.2L61.3 291.7M55.7 285.8L56.8 291.0M37.8 287.3L36.9 291.0M42.4 285.9L41.8 291.0M62.6 286.0L61.1 291.0M34.7 287.4L34.2 291.0M23.7 296.6L26.1 297.2M26.1 297.2L28.8 296.9M28.8 296.9L28.8 294.6M28.8 296.9L31.7 297.4M31.7 297.4L34.6 297.2M34.6 297.2L37.0 295.7M37.0 295.7L39.5 296.6M39.5 296.6L39.5 294.4M39.5 296.6L42.1 296.0M42.1 296.0L45.0 295.7M45.0 295.7L48.0 297.0M48.0 297.0L50.6 295.9M50.6 295.9L50.6 292.9M50.6 295.9L53.5 296.8M53.5 296.8L55.9 295.5M55.9 295.5L58.4 295.6M58.4 295.6L58.4 292.6M58.4 295.6L61.5 295.5M61.5 295.5L63.9 295.7M63.9 295.7L66.3 297.4M24.7 299.8L27.1 299.6M27.1 299.6L29.5 300.4M29.5 300.4L29.5 303.3M29.5 300.4L32.5 299.9M32.5 299.9L35.2 299.7M35.2 299.7L37.9 299.4M37.9 299.4L40.3 300.1M40.3 300.1L42.7 298.7M42.7 298.7L42.7 296.3M42.7 298.7L45.5 300.4M45.5 300.4L47.9 299.0M47.9 299.0L50.3 300.0M50.3 300.0L52.7 300.5M52.7 300.5L55.2 300.3M55.2 300.3L55.2 303.4M55.2 300.3L57.6 298.7M57.6 298.7L60.1 300.5M60.1 300.5L62.8 298.8M44.9 303.0L43.9 298.0M53.9 294.0L55.6 298.0M33.2 302.7L32.5 298.0M50.2 293.6L48.3 298.0M55.2 292.9L53.3 298.0M44.8 302.4L44.0 298.0M65.8 292.7L64.7 298.0M14.2 308.1L17.0 307.6M17.0 307.6L17.0 309.8M17.0 307.6L19.9 307.4M19.9 307.4L22.3 309.4M22.3 309.4L22.3 312.4M22.3 309.4L24.8 308.9M24.8 308.9L27.2 308.0M27.2 308.0L27.2 310.5M27.2 308.0L29.7 307.9M29.7 307.9L32.2 307.6M32.2 307.6L35.1 308.2M35.1 308.2L37.9 309.4M37.9 309.4L40.5 308.4M40.5 308.4L43.1 308.1M43.1 308.1L43.1 305.3M43.1 308.1L45.5 309.0M45.5 309.0L48.1 308.2M48.1 308.2L50.4 308.3M50.4 308.3L50.4 305.3M50.4 308.3L52.9 307.7M52.9 307.7L55.4 308.8M55.4 308.8L55.4 306.4M55.4 308.8L57.9 308.4M57.9 308.4L60.9 308.6M60.9 308.6L63.4 308.8M63.4 308.8L66.2 307.8M66.2 307.8L68.9 308.4M68.9 308.4L68.9 311.0M68.9 308.4L71.9 307.4M14.4 312.5L17.4 311.3M17.4 311.3L20.2 311.2M20.2 311.2L22.8 310.9M22.8 310.9L22.8 308.3M22.8 310.9L25.5 311.8M25.5 311.8L28.1 311.0M28.1 311.0L30.5 310.8M30.5 310.8L30.5 313.2M30.5 310.8L32.9 311.2M32.9 311.2L35.5 311.9M35.5 311.9L38.0 311.9M38.0 311.9L41.0 311.7M41.0 311.7L41.0 314.3M41.0 311.7L43.6 310.8M43.6 310.8L45.9 311.6M45.9 311.6L45.9 313.8M45.9 311.6L48.2 312.2M48.2 312.2L51.0 311.9M51.0 311.9L53.9 310.7M53.9 310.7L53.9 307.8M53.9 310.7L56.5 312.1M56.5 312.1L59.4 310.7M59.4 310.7L62.5 312.4M62.5 312.4L65.5 311.2M65.5 311.2L68.4 310.7M68.4 310.7L68.4 307.8M68.4 310.7L71.4 311.6M71.4 311.6L71.4 314.4M61.2 314.6L60.9 310.0M54.6 305.5L52.9 310.0M56.4 315.4L54.4 310.0M24.3 305.1L25.9 310.0M66.6 306.2L65.8 310.0M33.3 314.3L32.8 310.0M24.0 305.4L24.9 310.0M42.9 315.0L43.1 310.0M55.4 305.5L55.8 310.0M61.7 313.9L62.5 310.0M11.0 321.1L13.3 321.7M13.3 321.7L16.4 320.9M16.4 320.9L19.5 320.8M19.5 320.8L21.8 320.8M21.8 320.8L24.5 322.3M24.5 322.3L27.6 322.1M27.6 322.1L30.1 321.6M30.1 321.6L30.1 324.5M30.1 321.6L32.8 320.8M32.8 320.8L35.5 321.5M35.5 321.5L38.4 322.3M38.4 322.3L41.1 321.4M41.1 321.4L44.1 320.5M44.1 320.5L44.1 317.4M44.1 320.5L47.1 322.4M47.1 322.4L47.1 319.7M47.1 322.4L50.2 320.9M50.2 320.9L53.3 321.9M53.3 321.9L53.3 318.8M53.3 321.9L55.8 320.8M55.8 320.8L58.3 322.2M58.3 322.2L60.9 320.6M60.9 320.6L63.2 322.2M63.2 322.2L65.8 321.9M65.8 321.9L68.4 321.3M68.4 321.3L71.3 321.4M71.3 321.4L73.8 321.1M73.8 321.1L76.2 322.3M12.1 324.8L15.2 325.4M15.2 325.4L17.7 325.3M17.7 325.3L20.7 323.8M20.7 323.8L23.0 324.0M23.0 324.0L26.0 325.3M26.0 325.3L26.0 322.7M26.0 325.3L28.6 323.6M28.6 323.6L31.1 325.1M31.1 325.1L31.1 322.3M31.1 325.1L33.6 323.9M33.6 323.9L33.6 326.6M33.6 323.9L36.7 324.1M36.7 324.1L39.6 324.7M39.6 324.7L39.6 322.3M39.6 324.7L42.0 325.6M42.0 325.6L44.5 324.6M44.5 324.6L47.6 324.5M47.6 324.5L50.5 325.0M50.5 325.0L53.6 324.0M53.6 324.0L56.4 325.6M56.4 325.6L59.4 323.8M59.4 323.8L59.4 321.6M59.4 323.8L61.7 324.1M61.7 324.1L64.3 324.5M64.3 324.5L67.0 324.6M67.0 324.6L69.3 324.2M69.3 324.2L72.1 324.9M72.1 324.9L72.1 327.8M72.1 324.9L74.8 324.7M20.8 317.9L19.3 323.0M51.3 318.3L50.4 323.0M61.7 317.8L61.8 323.0M54.7 327.9L53.8 323.0M48.1 327.5L49.2 323.0M74.3 328.4L75.3 323.0M62.3 317.7L63.9 323.0M14.6 317.7L14.7 323.0M37.7 328.1L36.4 323.0M33.8 319.4L33.9 323.0M26.6 317.6L26.6 323.0M10.1 332.1L13.0 332.6M13.0 332.6L15.9 332.5M15.9 332.5L18.7 333.1M18.7 333.1L18.7 336.0M18.7 333.1L21.2 331.4M21.2 331.4L24.1 331.9M24.1 331.9L24.1 334.9M24.1 331.9L26.9 331.8M26.9 331.8L29.8 331.6M29.8 331.6L32.4 333.2M32.4 333.2L35.4 333.4M35.4 333.4L38.0 332.6M38.0 332.6L40.6 331.4M40.6 331.4L43.5 332.8M43.5 332.8L46.0 332.4M46.0 332.4L46.0 329.9M46.0 332.4L49.0 332.8M49.0 332.8L49.0 330.7M49.0 332.8L51.6 331.8M51.6 331.8L54.1 333.2M54.1 333.2L57.1 333.1M57.1 333.1L59.4 332.0M59.4 332.0L59.4 334.7M59.4 332.0L62.2 332.3M62.2 332.3L64.6 331.9M64.6 331.9L67.2 332.4M67.2 332.4L69.9 332.3M69.9 332.3L72.7 333.3M72.7 333.3L75.7 331.4M11.9 335.2L15.0 336.0M15.0 336.0L17.7 336.1M17.7 336.1L20.4 336.1M20.4 336.1L20.4 338.7M20.4 336.1L22.9 335.2M22.9 335.2L25.9 336.0M25.9 336.0L25.9 333.9M25.9 336.0L28.6 336.4M28.6 336.4L31.3 334.7M31.3 334.7L33.7 336.3M33.7 336.3L36.3 335.9M36.3 335.9L39.0 335.4M39.0 335.4L42.0 334.9M42.0 334.9L42.0 337.3M42.0 334.9L44.4 335.8M44.4 335.8L47.2 336.1M47.2 336.1L47.2 333.1M47.2 336.1L50.2 334.9M50.2 334.9L52.8 335.4M52.8 335.4L55.8 335.6M55.8 335.6L58.7 335.3M58.7 335.3L61.1 336.2M61.1 336.2L61.1 333.8M61.1 336.2L64.1 336.0M64.1 336.0L67.1 334.7M67.1 334.7L69.5 336.1M69.5 336.1L72.2 335.3M72.2 335.3L75.2 334.8M45.1 338.5L43.5 334.0M67.6 330.2L69.5 334.0M55.3 339.4L56.7 334.0M14.7 338.9L15.6 334.0M48.7 339.2L46.7 334.0M50.0 328.7L49.8 334.0M24.3 338.9L24.3 334.0M32.2 339.2L32.6 334.0M32.4 339.3L33.3 334.0M69.5 330.4L69.8 334.0M48.1 330.1L49.9 334.0M11.4 342.4L11.4 344.9M11.4 342.4L13.9 343.2M13.9 343.2L16.6 342.9M16.6 342.9L19.2 343.9M19.2 343.9L19.2 340.8M19.2 343.9L21.7 344.3M21.7 344.3L24.5 343.3M24.5 343.3L26.9 343.3M26.9 343.3L29.8 343.4M29.8 343.4L32.6 343.9M32.6 343.9L35.4 343.6M35.4 343.6L38.0 342.9M38.0 342.9L40.5 342.8M40.5 342.8L40.5 340.4M40.5 342.8L43.2 343.9M43.2 343.9L46.2 343.2M46.2 343.2L48.9 342.5M48.9 342.5L51.7 342.8M51.7 342.8L51.7 345.4M51.7 342.8L54.2 343.8M54.2 343.8L57.2 342.6M57.2 342.6L57.2 340.0M57.2 342.6L59.5 344.1M59.5 344.1L62.4 343.0M62.4 343.0L65.3 343.1M65.3 343.1L65.3 340.4M65.3 343.1L67.9 344.2M67.9 344.2L67.9 346.6M67.9 344.2L70.3 342.6M70.3 342.6L73.0 342.6M14.8 346.0L17.4 347.5M17.4 347.5L20.1 347.3M20.1 347.3L23.2 347.4M23.2 347.4L23.2 350.1M23.2 347.4L26.0 345.6M26.0 345.6L26.0 343.5M26.0 345.6L28.6 346.4M28.6 346.4L31.0 346.5M31.0 346.5L33.4 346.6M33.4 346.6L35.7 346.4M35.7 346.4L35.7 344.0M35.7 346.4L38.2 346.6M38.2 346.6L41.0 347.0M41.0 347.0L41.0 344.6M41.0 347.0L44.1 346.8M44.1 346.8L46.7 346.4M46.7 346.4L49.6 347.4M49.6 347.4L52.2 346.3M52.2 346.3L54.7 347.0M54.7 347.0L57.0 347.5M57.0 347.5L59.4 346.2M59.4 346.2L61.7 346.3M61.7 346.3L64.6 345.9M64.6 345.9L67.5 347.0M67.5 347.0L67.5 349.5M67.5 347.0L70.5 345.9M36.4 340.4L35.2 345.0M20.3 349.6L21.0 345.0M27.1 350.2L26.0 345.0M64.0 340.3L63.9 345.0M43.5 348.5L44.6 345.0M24.9 341.3L24.9 345.0M12.5 341.0L11.4 345.0M59.9 340.6L60.8 345.0M23.6 349.0L23.6 345.0M61.1 340.1L62.4 345.0M17.3 354.7L20.3 354.6M20.3 354.6L23.3 354.5M23.3 354.5L26.3 354.9M26.3 354.9L26.3 352.2M26.3 354.9L28.7 355.0M28.7 355.0L31.1 354.5M31.1 354.5L33.5 354.1M33.5 354.1L33.5 356.6M33.5 354.1L36.3 354.3M36.3 354.3L38.9 353.7M38.9 353.7L38.9 351.3M38.9 353.7L41.9 355.1M41.9 355.1L44.5 353.9M44.5 353.9L44.5 356.5M44.5 353.9L47.1 355.0M47.1 355.0L49.6 354.7M49.6 354.7L51.9 353.8M51.9 353.8L54.6 354.5M54.6 354.5L57.7 353.4M57.7 353.4L60.3 354.0M60.3 354.0L62.9 354.3M62.9 354.3L65.5 355.0M65.5 355.0L68.3 353.7M68.3 353.7L68.3 355.7M21.0 357.3L23.8 358.4M23.8 358.4L26.4 357.1M26.4 357.1L26.4 359.2M26.4 357.1L28.7 356.9M28.7 356.9L31.8 356.8M31.8 356.8L34.8 357.4M34.8 357.4L34.8 354.6M34.8 357.4L37.1 356.9M37.1 356.9L39.8 357.8M39.8 357.8L42.6 356.7M42.6 356.7L45.2 356.9M45.2 356.9L47.6 358.2M47.6 358.2L50.1 358.5M50.1 358.5L50.1 355.5M50.1 358.5L52.6 358.0M52.6 358.0L54.9 356.8M54.9 356.8L57.3 356.8M57.3 356.8L57.3 353.8M57.3 356.8L59.8 358.3M59.8 358.3L59.8 355.9M59.8 358.3L62.2 357.9M62.2 357.9L65.2 357.9M65.2 357.9L65.2 355.2M57.4 351.8L58.3 356.0M27.8 351.5L27.1 356.0M62.8 360.8L62.0 356.0M48.1 352.2L46.9 356.0M53.2 360.0L53.6 356.0M23.2 351.7L22.4 356.0M59.9 360.5L61.9 356.0M46.4 360.7L45.3 356.0M24.6 364.9L27.3 365.3M27.3 365.3L29.7 366.1M29.7 366.1L32.4 366.4M32.4 366.4L35.4 364.7M35.4 364.7L38.5 366.1M38.5 366.1L41.2 364.7M41.2 364.7L44.1 365.0M44.1 365.0L46.7 366.2M46.7 366.2L49.6 365.4M49.6 365.4L52.3 364.7M52.3 364.7L52.3 362.4M52.3 364.7L54.9 365.7M54.9 365.7L57.3 365.6M57.3 365.6L60.3 365.0M60.3 365.0L63.3 364.6M25.2 368.3L25.2 370.5M25.2 368.3L27.9 368.0M27.9 368.0L27.9 365.3M27.9 368.0L30.6 369.0M30.6 369.0L30.6 366.8M30.6 369.0L33.1 368.2M33.1 368.2L35.8 369.5M35.8 369.5L38.8 367.9M38.8 367.9L41.6 368.6M41.6 368.6L44.1 369.5M44.1 369.5L46.6 369.1M46.6 369.1L49.3 369.5M49.3 369.5L51.9 369.4M51.9 369.4L54.3 369.5M54.3 369.5L57.2 369.2M57.2 369.2L59.5 367.8M59.5 367.8L59.5 365.2M59.5 367.8L62.0 369.0M34.7 372.4L35.3 367.0M30.0 361.8L29.7 367.0M60.4 371.8L61.1 367.0M33.5 372.0L32.6 367.0M63.0 370.6L64.1 367.0M25.2 363.4L23.3 367.0M60.6 288.6L59.0 286.3M51.4 284.2L49.3 282.4M38.6 289.4L37.5 292.0M50.4 283.6L47.9 282.3M31.2 276.5L33.5 278.0M28.7 278.8L27.2 276.4M46.4 279.2L47.3 276.6M53.6 278.4L50.9 279.2M50.7 283.3L47.9 283.3M50.3 284.5L53.0 283.7M41.7 274.4L41.8 271.6M62.1 285.6L59.6 287.1M53.5 280.2L55.8 281.7M48.9 285.7L51.7 286.0M28.3 278.6L26.0 280.2M35.5 277.2L32.8 277.7M60.0 278.6L62.5 277.4M53.1 276.0L55.7 277.1M30.6 281.8L32.5 279.7M41.8 290.8L39.2 289.8M53.0 274.8L55.6 273.8M28.7 278.4L30.4 280.6M53.7 290.5L51.2 289.2M46.8 278.5L46.5 281.3M52.4 275.5L51.2 273.0M55.9 275.7L57.5 278.0M42.1 284.8L44.5 286.2M37.6 291.0L38.9 288.5M46.5 278.3L47.7 280.8M39.4 280.1L41.5 278.3M60.7 286.1L63.5 286.3M43.7 279.9L41.0 279.4M26.1 282.1L24.8 279.6M27.5 282.8L30.3 282.2M46.9 277.7L49.5 276.7M49.8 292.2L50.1 289.4M59.4 280.7L62.1 281.0M49.4 277.6L50.2 274.9M62.2 280.6L59.6 279.9M48.6 287.1L45.8 287.5M37.6 282.5L35.4 280.6M46.8 282.6L44.5 284.3M43.9 278.3L41.1 278.0M50.3 286.3L48.3 288.3M41.1 291.9L43.9 291.7M21.9 296.1L23.7 294.0M44.6 298.4L44.5 295.6M24.6 293.8L23.7 296.4M24.7 297.0L26.5 294.9M22.2 296.3L24.5 294.8M40.7 299.9L39.0 297.7M20.6 294.8L18.2 296.1M33.7 296.2L33.4 293.5M21.1 298.5L23.0 296.5M28.2 291.9L29.8 294.2M20.2 299.3L17.4 299.0M23.1 293.0L23.9 290.3M17.7 297.5L17.6 294.7M43.5 297.5L40.8 296.6M34.1 291.2L34.9 293.8M35.8 297.5L33.6 295.8M24.1 294.2L21.3 294.0M23.6 295.1L20.8 294.7M26.4 291.3L27.6 288.7M43.4 296.3L42.5 293.6M10.6 313.8L13.3 313.1M16.6 320.3L19.4 320.6M13.3 309.8L12.3 307.1M4.9 307.1L4.3 304.4M9.4 310.7L9.0 313.5M17.6 318.8L18.7 316.2M15.0 308.4L14.8 311.2M14.1 322.4L12.7 324.9M2.3 312.7L3.0 310.0M4.8 312.2L4.3 309.4M11.1 316.7L10.2 314.1M3.9 318.8L1.1 318.7M6.2 323.6L8.6 325.2M18.5 317.8L17.8 315.1M7.2 322.0L8.6 319.6M17.0 313.0L14.2 313.1M18.8 318.1L16.1 318.4M14.3 309.1L17.0 309.7M15.7 320.5L14.9 317.9M1.2 318.1L-1.6 317.6M8.9 317.0L9.0 319.8M7.1 313.1L9.8 312.4M7.6 312.5L6.2 310.1M7.3 321.6L4.5 322.0M1.8 317.3L3.0 314.8M11.3 320.6L14.0 319.9M2.3 309.5L0.5 311.6M13.1 308.9L10.8 307.3M75.8 318.9L73.5 320.5M83.5 314.1L83.5 311.3M74.4 306.1L73.0 303.6M68.9 315.8L70.3 318.2M80.6 309.1L80.4 306.3M74.1 318.2L76.8 317.7M75.2 319.1L77.0 317.0M80.7 308.3L80.5 311.1M74.8 314.0L73.6 316.6M72.5 322.5L69.9 323.5M78.3 317.0L78.0 319.8M76.9 307.9L74.5 306.5M70.8 321.2L70.2 323.9M78.2 310.5L81.0 311.1M80.9 309.8L82.1 312.3M81.9 315.4L84.5 314.4M77.5 317.0L79.4 319.1M68.4 316.2L70.8 314.8M77.4 316.3L80.2 316.0M77.9 324.4L75.4 325.8M70.0 310.8L72.6 309.6M75.7 319.6L75.6 316.8M82.6 310.2L80.3 308.6M82.3 309.8L81.7 307.1M6.6 329.7L9.3 329.1M14.2 339.7L11.4 339.2M7.2 328.5L7.3 325.7M3.4 329.7L4.0 327.0M5.1 329.2L6.5 326.7M10.9 338.8L13.7 338.1M6.3 331.6L4.0 330.1M13.1 342.1L14.6 344.5M12.8 333.4L12.4 330.7M0.6 334.7L2.1 332.4M2.0 333.6L4.6 334.8M1.5 333.7L2.8 336.2M5.2 339.8L6.7 342.1M2.7 329.6L2.4 332.4M7.2 337.9L4.4 338.2M2.6 335.0L5.1 333.8M3.8 344.6L3.3 341.8M10.0 343.4L11.4 345.8M11.1 340.5L10.6 337.7M8.7 342.0L8.5 339.2M10.5 340.0L13.1 340.9M9.4 338.5L9.0 335.7M9.5 344.6L7.8 346.9M85.4 337.6L87.8 339.0M72.9 333.9L72.0 331.2M77.0 343.1L78.4 340.6M75.5 344.8L78.2 344.1M79.5 330.0L80.9 327.6M76.5 334.6L73.8 334.0M82.0 336.9L79.7 335.4M82.0 330.0L83.9 328.0M82.8 335.4L80.1 336.2M83.4 343.6L86.1 344.5M81.3 329.1L79.9 326.7M77.9 331.0L76.1 333.2M76.3 344.4L73.8 343.1M77.3 340.5L78.5 343.0M71.9 342.6L71.4 345.4M78.7 337.8L78.2 335.1M85.3 337.4L88.0 336.5M76.0 334.5L77.8 332.3M82.2 336.6L82.3 339.4M75.9 333.1L77.4 335.5M78.2 338.6L80.1 336.5M76.6 337.9L78.3 335.7M82.7 341.7L81.1 339.4M78.4 332.1L76.2 330.4M71.5 334.4L73.7 332.6M77.8 344.8L79.7 346.9M20.5 355.9L18.9 358.2M16.8 354.9L14.1 355.5M18.0 356.8L20.8 357.0M18.3 361.0L16.6 363.3M15.1 359.9L15.6 357.1M8.3 360.8L6.9 358.4M6.4 355.3L4.1 353.7M19.3 353.2L19.0 355.9M11.1 359.6L11.2 362.4M11.6 357.7L13.0 355.2M11.0 357.6L9.8 355.1M16.8 357.4L18.5 359.6M11.5 357.5L13.0 355.1M8.7 356.3L9.6 359.0M15.3 355.5L12.6 356.0M16.9 360.9L14.1 360.6M16.1 352.0L18.5 353.5M12.9 362.9L10.1 363.0M79.9 357.7L79.1 360.4M74.3 357.4L75.3 354.8M70.4 356.5L68.9 354.1M72.5 358.2L74.9 356.8M68.6 358.5L68.2 361.3M65.4 359.4L67.6 357.6M70.7 349.6L68.7 351.6M71.5 351.4L72.2 348.7M71.7 359.6L68.9 359.5M63.7 350.9L63.3 353.7M65.9 350.2L67.9 352.2M72.5 353.8L73.5 351.2M70.3 354.7L68.3 356.6M80.5 354.6L80.4 357.4M73.3 357.3L76.1 357.4M75.3 361.3L74.4 358.6M75.5 360.0L77.8 358.4M69.0 360.5L69.7 357.8M69.3 358.1L68.8 355.4M68.8 351.1L68.6 353.9M54.7 367.6L57.3 368.7M26.6 367.5L28.1 369.9M50.0 363.2L50.1 360.4M56.7 365.3L56.1 368.0M43.9 373.2L46.2 374.7M40.3 366.7L39.1 364.2M27.6 372.3L26.5 369.7M24.0 363.3L23.2 366.0M23.9 364.6L21.1 364.1M63.1 365.8L60.6 367.2M53.0 365.6L51.6 363.1M34.6 369.7L34.0 372.4M47.2 363.8L49.1 365.8M53.6 372.3L51.8 370.2M54.0 364.5L54.4 361.7M50.5 361.2L48.0 362.3M55.0 368.2L52.3 367.4M30.8 375.0L31.2 372.2M34.5 373.9L37.2 373.1M29.2 375.2L26.5 376.1M62.2 365.5L59.9 367.1M60.8 366.4L58.0 366.7M36.0 366.0L33.3 365.1M31.9 369.0L33.4 371.3M41.8 375.0L44.6 375.0M61.6 369.2L63.2 366.8M31.9 371.6L32.6 368.9M52.4 372.3L54.0 374.6M34.2 366.3L35.7 368.6M31.1 375.2L30.7 377.9M46.3 366.8L45.5 364.1M62.8 369.9L65.0 371.7M59.5 366.1L59.0 363.3M48.1 374.5L45.4 375.3M59.1 372.6L61.5 374.0M28.3 366.9L26.2 365.1M37.4 370.9L39.8 372.3M63.2 367.1L60.4 366.9M48.1 376.2L49.6 378.6M45.1 377.8L44.5 380.5M32.7 375.1L30.6 373.2M51.6 375.8L53.0 378.3M36.9 374.3L35.0 372.3M34.4 374.4L34.1 377.2M54.0 375.2L55.1 372.6M34.5 379.5L34.7 382.3M41.6 373.4L44.4 373.5M31.9 377.5L29.2 378.0M42.3 378.6L44.1 376.4M36.8 377.9L39.6 377.2M46.6 380.0L47.9 382.4M16.2 303.4L14.1 305.2M27.1 306.0L25.5 308.3M48.0 305.1L48.3 307.9M44.5 303.4L46.2 305.7M24.4 305.5L21.8 304.5M24.5 302.7L21.9 303.8M35.4 306.9L32.9 305.7M25.9 301.8L25.9 304.6M18.4 303.9L20.7 302.3M31.4 304.9L32.3 307.6M62.8 303.6L63.4 300.9M26.1 304.1L28.9 303.7M15.0 302.4L17.8 302.4M28.3 306.6L30.7 305.1M55.1 304.6L57.8 303.6M41.3 300.1L39.1 301.7M64.0 304.9L65.2 307.5M12.2 303.5L10.3 301.5M46.7 302.4L46.8 299.6M54.2 301.9L54.9 299.1M54.0 324.5L51.5 323.2M26.8 357.5L24.0 357.2M52.5 354.4L49.8 355.1M35.5 350.1L32.8 349.3M64.6 349.6L67.3 350.3M58.4 358.2L60.2 356.0M32.5 326.2L33.7 323.7M29.4 355.3L31.3 353.3M17.6 334.5L19.3 332.3M32.6 356.8L33.6 354.2M40.1 345.2L38.8 347.7M23.1 353.3L24.9 351.2M51.1 357.5L48.3 358.0M24.6 331.0L21.8 330.8M25.2 337.6L27.4 335.8M45.3 339.6L44.5 342.2M13.9 347.2L16.5 346.2M68.2 346.9L70.8 348.0M55.8 352.2L57.8 354.2M47.0 330.6L49.8 330.5M48.9 343.5L46.4 342.3M41.3 354.0L38.5 353.8M39.0 343.0L37.5 345.4M60.8 353.4L58.4 354.8M40.4 331.2L43.2 330.7M18.6 336.5L18.4 339.3M62.4 338.3L65.2 338.0M26.2 338.3L24.3 340.4M51.7 345.2L49.0 344.8M47.5 356.2L49.1 353.9M63.1 332.5L61.5 334.8M44.8 321.8L42.3 320.5M60.7 332.2L58.2 333.5M43.1 361.6L44.4 364.1M43.7 318.6L46.0 320.3M64.9 343.4L67.2 344.9"/>
<path fill="none" stroke="#dcdcdc" stroke-width="1.80" stroke-linecap="round" d="M52.8 279.5h0M58.6 281.2h0M53.2 283.1h0M59.9 283.2h0M54.7 279.0h0M53.4 287.7h0M43.5 294.9h0M56.5 294.7h0M57.8 294.6h0M29.6 294.6h0M38.6 294.4h0M51.5 292.9h0M57.7 292.6h0M29.0 303.3h0M43.6 296.3h0M54.6 303.4h0M44.9 303.0h0M44.8 302.4h0M17.8 309.8h0M23.1 312.4h0M26.4 310.5h0M43.3 305.3h0M49.5 305.3h0M56.3 306.4h0M69.4 311.0h0M22.6 308.3h0M30.0 313.2h0M40.3 314.3h0M45.9 313.8h0M54.7 307.8h0M68.6 307.8h0M70.7 314.4h0M66.6 306.2h0M33.3 314.3h0M29.4 324.5h0M44.2 317.4h0M46.5 319.7h0M54.3 318.8h0M26.6 322.7h0M30.4 322.3h0M33.1 326.6h0M39.4 322.3h0M58.5 321.6h0M71.6 327.8h0M51.3 318.3h0M61.7 317.8h0M74.3 328.4h0M26.6 317.6h0M18.7 336.0h0M24.8 334.9h0M46.3 329.9h0M48.3 330.7h0M60.2 334.7h0M19.7 338.7h0M26.8 333.9h0M42.0 337.3h0M46.7 333.1h0M61.0 333.8h0M69.5 330.4h0M48.1 330.1h0M11.8 344.9h0M19.5 340.8h0M40.1 340.4h0M51.1 345.4h0M57.5 340.0h0M65.5 340.4h0M68.7 346.6h0M22.5 350.1h0M25.8 343.5h0M36.1 344.0h0M41.2 344.6h0M67.9 349.5h0M64.0 340.3h0M43.5 348.5h0M59.9 340.6h0M61.1 340.1h0M25.5 352.2h0M33.0 356.6h0M38.5 351.3h0M45.3 356.5h0M68.2 355.7h0M25.9 359.2h0M35.7 354.6h0M50.2 355.5h0M57.2 353.8h0M59.2 355.9h0M64.9 355.2h0M53.2 360.0h0M23.2 351.7h0M46.4 360.7h0M51.8 362.4h0M24.8 370.5h0M27.2 365.3h0M30.6 366.8h0M58.9 365.2h0M34.7 372.4h0M60.4 371.8h0M63.0 370.6h0M62.1 285.6h0M50.8 281.8h0M52.4 275.5h0M46.9 277.7h0M43.1 284.5h0M59.4 280.7h0M25.8 296.4h0M21.3 292.0h0M29.6 289.3h0M23.1 293.0h0M34.1 291.2h0M43.4 296.3h0M17.6 318.8h0M15.0 308.4h0M3.9 318.8h0M5.6 322.8h0M9.9 316.5h0M9.8 318.8h0M71.9 314.4h0M75.5 311.4h0M79.9 315.9h0M81.9 315.4h0M1.1 340.6h0M6.3 331.6h0M13.1 342.1h0M5.2 339.8h0M75.5 344.8h0M76.5 334.6h0M76.3 344.4h0M71.9 342.6h0M75.9 333.1h0M78.2 338.6h0M75.2 338.2h0M78.4 332.1h0M71.5 334.4h0M20.5 355.9h0M19.2 350.4h0M6.4 355.3h0M11.5 357.5h0M8.7 356.3h0M12.7 349.2h0M16.1 352.0h0M79.9 357.7h0M72.5 353.8h0M70.3 354.7h0M75.3 361.3h0M75.5 360.0h0M52.8 375.4h0M46.5 361.2h0M53.0 365.6h0M54.0 364.5h0M34.5 373.9h0M31.9 371.6h0M36.0 361.2h0M46.3 366.8h0M59.5 366.1h0M59.1 372.6h0M29.5 378.7h0M35.7 378.1h0M32.7 375.1h0M34.4 374.4h0M27.1 306.0h0M41.9 299.5h0M41.3 300.1h0M52.5 354.4h0M35.5 350.1h0M60.9 330.3h0M40.1 345.2h0M23.1 353.3h0M62.8 342.7h0M48.9 343.5h0M40.4 331.2h0"/>
<path fill="none" stroke="#a2a2a2" stroke-width="2.90" stroke-linecap="round" d="M41.4 282.2h0M51.9 281.9h0M54.3 281.8h0M59.5 283.2h0M38.5 284.8h0M46.3 285.3h0M52.3 285.4h0M60.2 285.6h0M57.1 288.3h0M58.9 288.9h0M44.1 279.2h0M35.3 288.7h0M43.2 288.8h0M51.2 289.9h0M56.6 288.7h0M62.0 289.6h0M43.2 291.9h0M45.8 293.0h0M48.2 293.3h0M58.5 292.2h0M55.7 285.8h0M37.8 287.3h0M42.4 285.9h0M62.6 286.0h0M34.7 287.4h0M26.1 297.2h0M31.7 297.4h0M34.6 297.2h0M39.5 296.6h0M42.1 296.0h0M48.0 297.0h0M53.5 296.8h0M55.9 295.5h0M61.5 295.5h0M63.9 295.7h0M24.7 299.8h0M27.1 299.6h0M29.5 300.4h0M37.9 299.4h0M42.7 298.7h0M47.9 299.0h0M62.8 298.8h0M53.9 294.0h0M33.2 302.7h0M50.2 293.6h0M55.2 292.9h0M65.8 292.7h0M14.2 308.1h0M19.9 307.4h0M22.3 309.4h0M27.2 308.0h0M29.7 307.9h0M40.5 308.4h0M45.5 309.0h0M48.1 308.2h0M57.9 308.4h0M60.9 308.6h0M63.4 308.8h0M68.9 308.4h0M71.9 307.4h0M14.4 312.5h0M20.2 311.2h0M32.9 311.2h0M41.0 311.7h0M43.6 310.8h0M45.9 311.6h0M48.2 312.2h0M53.9 310.7h0M56.5 312.1h0M62.5 312.4h0M65.5 311.2h0M68.4 310.7h0M61.2 314.6h0M54.6 305.5h0M56.4 315.4h0M24.3 305.1h0M24.0 305.4h0M42.9 315.0h0M55.4 305.5h0M61.7 313.9h0M11.0 321.1h0M21.8 320.8h0M24.5 322.3h0M27.6 322.1h0M32.8 320.8h0M35.5 321.5h0M38.4 322.3h0M50.2 320.9h0M55.8 320.8h0M60.9 320.6h0M65.8 321.9h0M68.4 321.3h0M71.3 321.4h0M73.8 321.1h0M76.2 322.3h0M42.0 325.6h0M44.5 324.6h0M50.5 325.0h0M53.6 324.0h0M67.0 324.6h0M72.1 324.9h0M20.8 317.9h0M54.7 327.9h0M48.1 327.5h0M62.3 317.7h0M14.6 317.7h0M37.7 328.1h0M33.8 319.4h0M15.9 332.5h0M18.7 333.1h0M24.1 331.9h0M26.9 331.8h0M32.4 333.2h0M35.4 333.4h0M40.6 331.4h0M43.5 332.8h0M51.6 331.8h0M62.2 332.3h0M64.6 331.9h0M69.9 332.3h0M72.7 333.3h0M75.7 331.4h0M11.9 335.2h0M15.0 336.0h0M17.7 336.1h0M20.4 336.1h0M39.0 335.4h0M42.0 334.9h0M52.8 335.4h0M64.1 336.0h0M67.1 334.7h0M72.2 335.3h0M45.1 338.5h0M67.6 330.2h0M55.3 339.4h0M14.7 338.9h0M48.7 339.2h0M50.0 328.7h0M24.3 338.9h0M32.2 339.2h0M32.4 339.3h0M11.4 342.4h0M21.7 344.3h0M26.9 343.3h0M32.6 343.9h0M38.0 342.9h0M43.2 343.9h0M46.2 343.2h0M54.2 343.8h0M59.5 344.1h0M70.3 342.6h0M73.0 342.6h0M17.4 347.5h0M23.2 347.4h0M31.0 346.5h0M41.0 347.0h0M44.1 346.8h0M57.0 347.5h0M59.4 346.2h0M36.4 340.4h0M20.3 349.6h0M27.1 350.2h0M24.9 341.3h0M12.5 341.0h0M23.6 349.0h0M23.3 354.5h0M28.7 355.0h0M38.9 353.7h0M41.9 355.1h0M47.1 355.0h0M49.6 354.7h0M51.9 353.8h0M54.6 354.5h0M57.7 353.4h0M68.3 353.7h0M21.0 357.3h0M39.8 357.8h0M42.6 356.7h0M45.2 356.9h0M47.6 358.2h0M59.8 358.3h0M62.2 357.9h0M65.2 357.9h0M57.4 351.8h0M27.8 351.5h0M62.8 360.8h0M48.1 352.2h0M59.9 360.5h0M27.3 365.3h0M29.7 366.1h0M32.4 366.4h0M38.5 366.1h0M41.2 364.7h0M44.1 365.0h0M49.6 365.4h0M27.9 368.0h0M54.3 369.5h0M57.2 369.2h0M62.0 369.0h0M30.0 361.8h0M33.5 372.0h0M25.2 363.4h0M60.6 288.6h0M51.4 284.2h0M38.7 280.3h0M31.2 276.5h0M28.7 278.8h0M46.4 279.2h0M49.5 273.6h0M53.0 291.4h0M41.7 274.4h0M60.7 288.1h0M48.9 285.7h0M35.5 277.2h0M60.0 278.6h0M53.1 276.0h0M30.6 281.8h0M41.8 290.8h0M53.0 274.8h0M28.7 278.4h0M46.8 278.5h0M42.1 284.8h0M37.6 291.0h0M46.1 289.9h0M60.7 286.1h0M26.1 282.1h0M27.5 282.8h0M47.0 283.8h0M55.6 280.2h0M49.4 277.6h0M48.6 287.1h0M37.6 282.5h0M60.4 280.0h0M46.8 282.6h0M62.0 285.3h0M53.1 274.4h0M50.3 286.3h0M41.1 291.9h0M17.1 295.1h0M44.6 298.4h0M24.6 293.8h0M24.7 297.0h0M32.7 297.7h0M22.2 296.3h0M40.7 299.9h0M20.6 294.8h0M33.7 296.2h0M21.1 298.5h0M17.7 294.8h0M42.6 290.8h0M43.3 299.1h0M20.2 299.3h0M17.7 297.5h0M43.5 297.5h0M35.8 297.5h0M23.6 295.1h0M26.4 291.3h0M10.6 313.8h0M16.6 320.3h0M13.3 309.8h0M4.9 307.1h0M9.4 310.7h0M5.8 313.3h0M14.1 322.4h0M2.3 312.7h0M4.8 312.2h0M11.1 316.7h0M8.6 305.2h0M18.5 317.8h0M2.5 311.5h0M15.2 312.0h0M12.3 311.7h0M15.7 320.5h0M1.2 318.1h0M11.4 321.1h0M13.4 315.0h0M7.6 312.5h0M7.3 321.6h0M1.8 317.3h0M11.3 320.6h0M2.3 309.5h0M13.1 308.9h0M71.3 322.2h0M83.5 314.1h0M74.4 306.1h0M74.9 305.5h0M80.6 309.1h0M75.2 319.1h0M80.7 308.3h0M74.8 314.0h0M72.5 322.5h0M78.3 317.0h0M68.5 310.5h0M78.2 310.5h0M80.9 309.8h0M77.5 317.0h0M77.4 316.3h0M77.4 308.8h0M77.9 324.4h0M70.0 310.8h0M75.7 319.6h0M82.6 310.2h0M82.3 309.8h0M9.0 341.2h0M6.6 329.7h0M6.9 334.3h0M3.4 329.7h0M2.2 336.5h0M5.1 329.2h0M9.2 331.1h0M12.4 336.4h0M0.6 334.7h0M2.0 333.6h0M1.5 333.7h0M2.7 329.6h0M12.1 330.6h0M11.1 340.5h0M10.5 340.0h0M9.4 338.5h0M9.5 344.6h0M10.3 338.8h0M85.4 337.6h0M72.9 333.9h0M77.0 343.1h0M79.5 330.0h0M82.0 336.9h0M81.3 329.1h0M77.3 335.9h0M77.3 340.5h0M70.8 333.3h0M78.7 337.8h0M78.8 342.5h0M74.2 330.3h0M82.2 336.6h0M76.6 337.9h0M77.8 344.8h0M16.8 354.9h0M18.0 356.8h0M18.3 361.0h0M15.1 359.9h0M22.4 355.6h0M8.3 360.8h0M11.5 357.9h0M19.3 353.2h0M17.8 359.2h0M11.0 357.6h0M16.8 357.4h0M15.3 355.5h0M7.3 356.4h0M16.9 360.9h0M12.9 362.9h0M70.4 356.5h0M65.4 359.4h0M71.5 351.4h0M71.7 359.6h0M63.7 350.9h0M78.1 356.6h0M80.5 354.6h0M73.3 357.3h0M69.3 359.3h0M69.0 360.5h0M69.6 351.1h0M69.3 358.1h0M68.8 351.1h0M54.7 367.6h0M36.5 372.4h0M40.0 363.2h0M37.2 371.5h0M24.0 363.3h0M23.9 364.6h0M50.0 364.2h0M63.1 365.8h0M34.6 369.7h0M47.2 363.8h0M53.6 372.3h0M50.5 361.2h0M28.5 374.2h0M30.8 375.0h0M58.0 373.5h0M62.2 365.5h0M36.2 366.4h0M53.9 373.1h0M53.7 374.8h0M60.8 366.4h0M36.0 366.0h0M31.9 369.0h0M41.8 375.0h0M61.6 369.2h0M50.3 371.1h0M22.0 370.3h0M62.8 369.9h0M59.9 365.5h0M48.1 374.5h0M49.5 371.7h0M32.3 360.2h0M28.3 366.9h0M37.4 370.9h0M48.1 376.2h0M42.7 375.3h0M51.6 375.8h0M54.0 375.2h0M34.2 379.6h0M31.9 377.5h0M36.8 377.9h0M16.2 303.4h0M44.5 303.4h0M35.4 306.9h0M25.9 301.8h0M48.2 299.8h0M18.4 303.9h0M14.8 302.3h0M62.8 303.6h0M26.1 304.1h0M66.1 302.3h0M15.0 302.4h0M64.0 304.9h0M12.2 303.5h0M51.8 303.0h0M20.3 303.3h0M46.7 305.5h0M54.2 301.9h0M54.0 324.5h0M37.0 335.3h0M58.4 358.2h0M32.5 326.2h0M57.8 323.3h0M29.4 355.3h0M64.8 337.7h0M58.1 356.9h0M24.6 331.0h0M42.4 335.7h0M25.2 337.6h0M13.9 347.2h0M55.8 352.2h0M60.8 334.9h0M47.0 330.6h0M41.3 354.0h0M39.0 343.0h0M60.8 353.4h0M18.6 336.5h0M26.2 338.3h0M39.9 352.1h0M51.7 345.2h0M47.5 356.2h0M38.4 342.2h0M44.8 321.8h0M60.7 332.2h0M43.1 361.6h0M64.9 343.4h0"/>
<path fill="none" stroke="#6464d6" stroke-width="2.90" stroke-linecap="round" d="M35.8 281.9h0M38.3 282.8h0M46.7 282.7h0M56.6 283.3h0M40.8 285.6h0M43.7 285.0h0M49.4 286.3h0M57.6 285.1h0M32.8 289.0h0M38.0 290.3h0M40.4 289.8h0M45.7 289.1h0M59.3 289.9h0M32.3 291.8h0M61.3 291.7h0M23.7 296.6h0M28.8 296.9h0M45.0 295.7h0M50.6 295.9h0M66.3 297.4h0M32.5 299.9h0M40.3 300.1h0M45.5 300.4h0M50.3 300.0h0M52.7 300.5h0M55.2 300.3h0M57.6 298.7h0M60.1 300.5h0M17.0 307.6h0M24.8 308.9h0M32.2 307.6h0M35.1 308.2h0M37.9 309.4h0M43.1 308.1h0M50.4 308.3h0M52.9 307.7h0M66.2 307.8h0M17.4 311.3h0M22.8 310.9h0M25.5 311.8h0M28.1 311.0h0M30.5 310.8h0M35.5 311.9h0M51.0 311.9h0M59.4 310.7h0M13.3 321.7h0M16.4 320.9h0M19.5 320.8h0M41.1 321.4h0M44.1 320.5h0M58.3 322.2h0M12.1 324.8h0M17.7 325.3h0M23.0 324.0h0M31.1 325.1h0M33.6 323.9h0M36.7 324.1h0M39.6 324.7h0M56.4 325.6h0M59.4 323.8h0M64.3 324.5h0M69.3 324.2h0M74.8 324.7h0M10.1 332.1h0M13.0 332.6h0M29.8 331.6h0M46.0 332.4h0M54.1 333.2h0M57.1 333.1h0M59.4 332.0h0M67.2 332.4h0M22.9 335.2h0M28.6 336.4h0M31.3 334.7h0M33.7 336.3h0M36.3 335.9h0M47.2 336.1h0M50.2 334.9h0M55.8 335.6h0M58.7 335.3h0M61.1 336.2h0M75.2 334.8h0M13.9 343.2h0M19.2 343.9h0M24.5 343.3h0M29.8 343.4h0M35.4 343.6h0M40.5 342.8h0M48.9 342.5h0M57.2 342.6h0M62.4 343.0h0M65.3 343.1h0M14.8 346.0h0M20.1 347.3h0M26.0 345.6h0M28.6 346.4h0M33.4 346.6h0M35.7 346.4h0M38.2 346.6h0M46.7 346.4h0M54.7 347.0h0M61.7 346.3h0M64.6 345.9h0M70.5 345.9h0M17.3 354.7h0M20.3 354.6h0M26.3 354.9h0M31.1 354.5h0M44.5 353.9h0M60.3 354.0h0M62.9 354.3h0M65.5 355.0h0M23.8 358.4h0M28.7 356.9h0M31.8 356.8h0M34.8 357.4h0M37.1 356.9h0M52.6 358.0h0M54.9 356.8h0M57.3 356.8h0M24.6 364.9h0M35.4 364.7h0M54.9 365.7h0M57.3 365.6h0M60.3 365.0h0M63.3 364.6h0M25.2 368.3h0M30.6 369.0h0M38.8 367.9h0M41.6 368.6h0M46.6 369.1h0M49.3 369.5h0M51.9 369.4h0M59.5 367.8h0"/>
<path fill="none" stroke="#e67a7a" stroke-width="3.30" stroke-linecap="round" d="M43.8 282.1h0M49.2 282.5h0M54.9 286.4h0M29.8 290.2h0M48.7 289.7h0M53.8 289.7h0M35.1 292.4h0M37.8 292.8h0M40.7 293.2h0M50.7 293.6h0M53.5 292.9h0M56.2 292.6h0M37.0 295.7h0M58.4 295.6h0M35.2 299.7h0M55.4 308.8h0M38.0 311.9h0M71.4 311.6h0M30.1 321.6h0M47.1 322.4h0M53.3 321.9h0M63.2 322.2h0M15.2 325.4h0M20.7 323.8h0M26.0 325.3h0M28.6 323.6h0M47.6 324.5h0M61.7 324.1h0M21.2 331.4h0M38.0 332.6h0M49.0 332.8h0M25.9 336.0h0M44.4 335.8h0M69.5 336.1h0M16.6 342.9h0M51.7 342.8h0M67.9 344.2h0M49.6 347.4h0M52.2 346.3h0M67.5 347.0h0M33.5 354.1h0M36.3 354.3h0M26.4 357.1h0M50.1 358.5h0M46.7 366.2h0M52.3 364.7h0M33.1 368.2h0M35.8 369.5h0M44.1 369.5h0M42.4 292.2h0M38.6 289.4h0M50.4 283.6h0M61.3 279.6h0M32.2 279.0h0M53.6 278.4h0M43.1 279.5h0M50.7 283.3h0M49.9 275.1h0M50.3 284.5h0M53.5 280.2h0M28.3 278.6h0M51.7 275.2h0M46.8 279.0h0M53.7 290.5h0M55.9 275.7h0M46.5 278.3h0M43.7 279.9h0M39.1 278.6h0M49.8 292.2h0M63.7 283.4h0M62.2 280.6h0M43.9 278.3h0M21.9 296.1h0M20.1 292.3h0M36.0 297.4h0M24.1 294.2h0M6.2 323.6h0M11.1 322.5h0M7.2 322.0h0M17.0 313.0h0M14.3 309.1h0M4.4 316.6h0M8.9 317.0h0M7.1 313.1h0M75.8 318.9h0M75.3 323.4h0M68.9 315.8h0M77.5 308.1h0M69.9 308.9h0M76.9 307.9h0M70.8 321.2h0M68.4 316.2h0M79.0 315.3h0M80.9 315.1h0M13.2 333.5h0M14.2 339.7h0M7.2 328.5h0M12.8 333.4h0M2.6 335.0h0M9.4 337.5h0M3.8 344.6h0M8.7 342.0h0M7.3 346.0h0M82.0 330.0h0M83.4 343.6h0M77.9 331.0h0M85.3 337.4h0M75.6 337.9h0M74.1 344.4h0M81.1 335.4h0M82.7 341.7h0M11.1 359.6h0M8.6 353.4h0M67.3 349.9h0M74.5 361.2h0M74.3 357.4h0M72.5 358.2h0M68.6 358.5h0M70.7 349.6h0M65.9 350.2h0M75.3 354.3h0M26.6 367.5h0M56.7 365.3h0M43.9 373.2h0M40.3 366.7h0M27.6 372.3h0M22.1 367.5h0M45.3 372.9h0M29.2 375.2h0M31.1 375.2h0M63.2 367.1h0M45.1 377.8h0M45.2 377.0h0M51.1 379.8h0M36.9 374.3h0M37.2 379.6h0M34.5 379.5h0M41.6 373.4h0M42.3 378.6h0M46.6 380.0h0M48.0 305.1h0M24.4 305.5h0M24.5 302.7h0M25.1 300.7h0M31.4 304.9h0M28.3 306.6h0M44.3 300.9h0M55.1 304.6h0M45.4 300.7h0M26.8 357.5h0M27.7 323.2h0M17.6 334.5h0M32.6 356.8h0M45.3 339.6h0M68.2 346.9h0M26.4 322.2h0M25.7 346.5h0M62.4 338.3h0M63.1 332.5h0M43.7 318.6h0"/>
<path fill="none" stroke="#e8aa6a" stroke-width="3.60" stroke-linecap="round" d="M37.6 274.7h0M42.6 275.7h0M45.8 284.4h0M55.5 282.0h0M39.4 280.1h0M28.2 291.9h0M18.8 318.1h0M74.1 318.2h0M10.9 338.8h0M7.2 337.9h0M10.0 343.4h0M82.8 335.4h0M76.0 334.5h0M11.6 357.7h0M20.6 359.4h0M50.0 363.2h0M26.2 370.3h0M24.6 372.1h0M55.0 368.2h0M52.4 372.3h0M34.2 366.3h0M56.8 371.2h0M46.7 302.4h0M64.6 349.6h0M51.1 357.5h0M54.7 324.0h0"/></g>
<g transform="translate(237.2,0)"><path fill="none" stroke="#aaaaaa" stroke-width="0.90" stroke-linecap="round" d="M17.9 403.7L20.8 402.8M20.8 402.8L20.8 399.9M20.8 402.8L23.2 404.1M23.2 404.1L23.2 406.4M23.2 404.1L25.5 403.0M25.5 403.0L27.9 402.8M27.9 402.8L30.6 402.8M30.6 402.8L33.2 404.2M33.2 404.2L35.9 403.4M35.9 403.4L38.4 404.2M38.4 404.2L41.0 404.2M41.0 404.2L41.0 407.0M41.0 404.2L43.4 403.8M43.4 403.8L46.4 402.8M46.4 402.8L49.3 404.1M49.3 404.1L52.0 403.2M52.0 403.2L54.5 402.4M54.5 402.4L56.8 403.8M56.8 403.8L59.4 402.7M59.4 402.7L59.4 400.3M59.4 402.7L62.1 403.7M62.1 403.7L62.1 400.7M62.1 403.7L64.7 403.2M64.7 403.2L67.5 403.0M67.5 403.0L67.5 399.9M67.5 403.0L70.0 402.7M70.0 402.7L72.4 404.2M72.4 404.2L74.7 404.1M74.7 404.1L77.6 402.5M20.2 406.5L23.1 407.0M23.1 407.0L23.1 404.6M23.1 407.0L25.6 407.5M25.6 407.5L28.2 407.1M28.2 407.1L31.0 406.6M31.0 406.6L33.5 406.1M33.5 406.1L36.5 407.5M36.5 407.5L39.3 405.9M39.3 405.9L41.6 405.9M41.6 405.9L44.7 406.8M44.7 406.8L47.1 406.5M47.1 406.5L49.7 406.6M49.7 406.6L52.2 406.0M52.2 406.0L55.2 407.1M55.2 407.1L55.2 409.5M55.2 407.1L57.6 405.7M57.6 405.7L60.1 406.1M60.1 406.1L62.4 407.1M62.4 407.1L64.9 407.0M64.9 407.0L67.4 406.0M67.4 406.0L70.5 406.1M70.5 406.1L72.9 407.3M72.9 407.3L75.6 405.6M42.3 400.0L43.1 405.0M56.0 399.8L56.1 405.0M41.8 409.7L41.8 405.0M42.6 409.8L41.9 405.0M39.9 409.8L38.5 405.0M48.9 410.0L50.6 405.0M31.5 410.0L30.6 405.0M49.7 400.1L49.0 405.0M32.4 409.8L31.3 405.0M35.2 409.7L34.1 405.0M35.7 413.4L38.2 414.2M38.2 414.2L40.6 415.2M40.6 415.2L43.4 414.2M43.4 414.2L43.4 416.8M43.4 414.2L46.3 413.4M46.3 413.4L48.9 414.9M48.9 414.9L51.6 413.6M51.6 413.6L54.4 414.3M54.4 414.3L56.9 415.1M56.9 415.1L59.8 414.3M59.8 414.3L59.8 411.9M59.8 414.3L62.1 415.0M62.1 415.0L62.1 417.5M62.1 415.0L64.5 415.4M64.5 415.4L67.5 414.2M67.5 414.2L67.5 411.7M67.5 414.2L70.3 413.8M70.3 413.8L72.8 413.6M72.8 413.6L75.2 413.5M36.5 416.8L39.5 417.2M39.5 417.2L42.2 417.3M42.2 417.3L45.1 417.2M45.1 417.2L47.9 416.6M47.9 416.6L50.3 417.3M50.3 417.3L53.1 417.0M53.1 417.0L56.0 418.1M56.0 418.1L56.0 421.3M56.0 418.1L58.4 417.9M58.4 417.9L60.9 417.0M60.9 417.0L63.7 418.4M63.7 418.4L66.6 417.0M66.6 417.0L69.6 417.1M69.6 417.1L69.6 419.9M69.6 417.1L72.1 416.7M72.1 416.7L74.8 417.0M58.5 420.8L59.8 416.0M74.9 421.4L73.5 416.0M37.9 420.3L36.9 416.0M47.0 412.1L46.1 416.0M56.4 421.0L55.9 416.0M64.2 411.2L63.1 416.0M64.4 419.9L63.6 416.0M37.1 427.9L37.1 425.7M37.1 427.9L40.0 426.9M40.0 426.9L43.0 426.8M43.0 426.8L45.8 427.3M45.8 427.3L48.2 426.8M48.2 426.8L48.2 429.2M48.2 426.8L51.0 426.8M51.0 426.8L53.8 427.9M53.8 427.9L56.2 428.3M56.2 428.3L59.1 427.1M59.1 427.1L61.8 427.3M61.8 427.3L64.4 426.6M64.4 426.6L67.2 426.5M67.2 426.5L69.6 426.4M69.6 426.4L72.2 428.4M72.2 428.4L75.0 426.8M38.7 431.4L41.2 429.8M41.2 429.8L41.2 432.3M41.2 429.8L43.8 430.0M43.8 430.0L46.7 430.9M46.7 430.9L49.4 431.6M49.4 431.6L52.0 430.5M52.0 430.5L54.6 431.4M54.6 431.4L57.3 431.3M57.3 431.3L60.1 430.9M60.1 430.9L62.8 429.6M62.8 429.6L65.6 429.6M65.6 429.6L65.6 427.0M65.6 429.6L68.7 430.2M68.7 430.2L71.7 429.8M66.9 423.9L68.2 429.0M54.6 424.4L53.6 429.0M63.3 432.6L63.3 429.0M51.9 433.2L52.8 429.0M38.3 424.7L37.4 429.0M74.4 425.0L75.2 429.0M42.2 439.0L42.2 436.6M42.2 439.0L45.0 439.5M45.0 439.5L47.5 439.5M47.5 439.5L50.5 440.1M50.5 440.1L53.1 439.9M53.1 439.9L55.5 440.2M55.5 440.2L58.3 439.6M58.3 439.6L61.0 439.9M61.0 439.9L63.3 439.2M63.3 439.2L65.8 439.8M65.8 439.8L68.4 439.1M68.4 439.1L70.7 439.0M43.0 443.0L45.4 442.2M45.4 442.2L45.4 444.3M45.4 442.2L47.9 443.0M47.9 443.0L50.5 442.2M50.5 442.2L53.0 441.9M53.0 441.9L55.7 442.5M55.7 442.5L55.7 440.3M55.7 442.5L58.1 442.9M58.1 442.9L60.7 443.0M60.7 443.0L63.6 441.7M63.6 441.7L66.3 441.6M66.3 441.6L69.1 443.0M69.1 443.0L71.6 443.2M51.5 436.0L53.1 441.0M64.0 445.7L64.2 441.0M51.2 436.8L52.0 441.0M63.9 436.1L65.2 441.0M60.9 444.6L62.0 441.0M21.0 450.4L23.6 450.4M23.6 450.4L23.6 447.8M23.6 450.4L26.6 449.7M26.6 449.7L29.3 450.1M29.3 450.1L32.2 450.5M32.2 450.5L32.2 453.5M32.2 450.5L34.8 450.1M34.8 450.1L37.4 450.3M37.4 450.3L40.0 450.8M40.0 450.8L42.8 451.2M42.8 451.2L45.9 451.4M45.9 451.4L48.5 449.6M48.5 449.6L51.6 451.3M51.6 451.3L51.6 449.0M51.6 451.3L54.6 450.8M54.6 450.8L57.7 450.2M57.7 450.2L60.1 451.4M60.1 451.4L63.2 449.7M63.2 449.7L66.1 451.1M23.6 452.7L26.5 454.3M26.5 454.3L29.1 453.6M29.1 453.6L32.0 454.1M32.0 454.1L35.1 453.1M35.1 453.1L37.9 453.4M37.9 453.4L40.8 454.2M40.8 454.2L43.2 453.8M43.2 453.8L43.2 451.4M43.2 453.8L45.6 454.3M45.6 454.3L48.4 453.0M48.4 453.0L51.2 454.5M51.2 454.5L51.2 457.6M51.2 454.5L54.2 453.2M54.2 453.2L54.2 455.3M54.2 453.2L56.5 453.8M56.5 453.8L59.2 453.3M59.2 453.3L61.9 454.4M61.9 454.4L64.3 453.3M59.0 455.8L57.4 452.0M43.0 456.8L41.2 452.0M59.4 456.2L60.5 452.0M57.6 447.1L56.6 452.0M31.1 456.9L30.4 452.0M21.1 446.7L22.7 452.0M55.6 446.8L55.0 452.0M14.5 461.3L17.2 460.5M17.2 460.5L20.2 461.2M20.2 461.2L22.7 461.3M22.7 461.3L25.6 460.0M25.6 460.0L28.6 460.9M28.6 460.9L28.6 463.4M28.6 460.9L31.1 461.1M31.1 461.1L33.9 460.6M33.9 460.6L36.7 460.3M36.7 460.3L39.4 460.1M39.4 460.1L41.8 461.1M41.8 461.1L44.6 460.7M44.6 460.7L44.6 458.2M44.6 460.7L47.3 459.7M47.3 459.7L47.3 461.9M47.3 459.7L49.9 459.8M49.9 459.8L52.7 459.6M52.7 459.6L55.1 460.0M55.1 460.0L57.5 459.5M57.5 459.5L59.9 461.0M59.9 461.0L63.0 460.1M17.0 462.8L20.0 463.0M20.0 463.0L22.9 463.4M22.9 463.4L26.0 463.8M26.0 463.8L28.7 464.1M28.7 464.1L31.1 464.5M31.1 464.5L33.9 464.1M33.9 464.1L36.5 463.4M36.5 463.4L39.2 462.7M39.2 462.7L41.8 463.5M41.8 463.5L44.1 464.5M44.1 464.5L46.9 464.3M46.9 464.3L49.5 463.0M49.5 463.0L51.9 463.7M51.9 463.7L54.2 463.4M54.2 463.4L54.2 466.3M54.2 463.4L56.7 463.0M56.7 463.0L59.8 463.5M59.8 463.5L62.2 464.2M51.1 457.9L49.3 462.0M32.4 458.4L31.3 462.0M15.1 456.8L16.9 462.0M54.1 457.5L56.1 462.0M56.5 457.5L55.6 462.0M44.0 458.2L44.3 462.0M42.0 466.3L42.3 462.0M62.1 457.9L63.3 462.0M12.9 469.7L12.9 471.7M12.9 469.7L15.3 470.5M15.3 470.5L18.2 469.6M18.2 469.6L20.6 469.8M20.6 469.8L23.3 470.2M23.3 470.2L26.3 470.4M26.3 470.4L29.1 471.4M29.1 471.4L31.8 469.6M31.8 469.6L31.8 466.9M31.8 469.6L34.5 471.3M34.5 471.3L37.2 470.4M37.2 470.4L39.8 470.7M39.8 470.7L42.8 469.9M42.8 469.9L42.8 466.9M42.8 469.9L45.9 470.9M45.9 470.9L48.9 470.2M48.9 470.2L52.0 470.0M52.0 470.0L54.4 471.1M54.4 471.1L56.7 469.5M56.7 469.5L59.2 471.0M14.0 472.7L16.5 473.0M16.5 473.0L19.6 474.4M19.6 474.4L22.6 473.4M22.6 473.4L25.4 474.2M25.4 474.2L28.5 473.6M28.5 473.6L31.6 473.4M31.6 473.4L34.3 474.1M34.3 474.1L34.3 471.1M34.3 474.1L36.7 473.9M36.7 473.9L39.0 473.2M39.0 473.2L41.5 472.8M41.5 472.8L44.5 473.8M44.5 473.8L47.4 473.7M47.4 473.7L49.7 473.1M49.7 473.1L52.5 472.9M52.5 472.9L52.5 470.4M52.5 472.9L54.8 473.4M54.8 473.4L54.8 475.9M54.8 473.4L57.3 473.2M57.3 473.2L60.0 474.4M60.0 474.4L60.0 471.7M53.5 467.8L52.0 472.0M28.3 467.9L26.6 472.0M30.0 467.4L30.8 472.0M31.5 468.4L33.1 472.0M13.1 467.0L12.7 472.0M16.7 468.3L18.3 472.0M29.7 477.1L31.7 472.0M55.4 467.9L53.9 472.0M8.5 481.4L11.0 482.5M11.0 482.5L11.0 485.1M11.0 482.5L13.8 483.0M13.8 483.0L13.8 480.2M13.8 483.0L16.7 481.5M16.7 481.5L19.2 483.0M19.2 483.0L19.2 480.9M19.2 483.0L22.2 482.0M22.2 482.0L25.0 482.3M25.0 482.3L25.0 480.0M25.0 482.3L27.7 482.3M27.7 482.3L27.7 485.3M27.7 482.3L30.5 482.3M30.5 482.3L33.1 481.6M33.1 481.6L35.7 482.1M35.7 482.1L38.6 481.7M38.6 481.7L41.4 482.9M41.4 482.9L41.4 480.7M41.4 482.9L43.8 481.5M43.8 481.5L43.8 484.5M43.8 481.5L46.5 482.7M46.5 482.7L49.1 481.7M49.1 481.7L52.1 481.6M52.1 481.6L52.1 478.6M52.1 481.6L55.1 482.1M55.1 482.1L57.9 482.9M57.9 482.9L57.9 480.0M10.8 485.7L13.4 484.8M13.4 484.8L16.2 485.1M16.2 485.1L19.1 486.3M19.1 486.3L21.6 486.2M21.6 486.2L24.7 484.7M24.7 484.7L27.7 485.8M27.7 485.8L30.6 485.7M30.6 485.7L30.6 482.9M30.6 485.7L33.2 485.3M33.2 485.3L35.6 485.7M35.6 485.7L38.6 486.3M38.6 486.3L41.6 485.3M41.6 485.3L44.5 485.5M44.5 485.5L47.6 486.5M47.6 486.5L47.6 484.4M47.6 486.5L50.3 485.6M50.3 485.6L52.9 484.9M52.9 484.9L55.5 486.0M55.5 486.0L55.5 488.0M26.8 480.0L24.8 484.0M35.6 488.7L33.8 484.0M55.4 480.5L54.8 484.0M25.5 479.6L25.2 484.0M52.5 480.0L51.2 484.0M28.7 478.5L28.1 484.0M40.1 488.2L38.4 484.0M28.3 478.9L27.9 484.0M14.8 493.2L17.7 491.7M17.7 491.7L20.2 492.0M20.2 492.0L22.7 492.3M22.7 492.3L25.5 493.2M25.5 493.2L28.6 492.6M28.6 492.6L31.1 491.7M31.1 491.7L34.0 493.0M34.0 493.0L36.9 492.3M36.9 492.3L39.4 493.3M39.4 493.3L41.9 492.3M41.9 492.3L44.9 492.2M44.9 492.2L47.2 492.8M47.2 492.8L47.2 495.3M47.2 492.8L49.7 491.6M49.7 491.6L49.7 493.7M49.7 491.6L52.4 492.3M16.9 495.5L19.4 494.7M19.4 494.7L22.4 496.0M22.4 496.0L22.4 498.4M22.4 496.0L25.4 495.0M25.4 495.0L28.0 496.6M28.0 496.6L30.6 495.6M30.6 495.6L33.0 494.9M33.0 494.9L35.7 496.1M35.7 496.1L38.8 495.5M38.8 495.5L41.6 495.0M41.6 495.0L44.5 496.3M44.5 496.3L46.8 496.2M46.8 496.2L46.8 498.2M46.8 496.2L49.5 495.7M49.5 495.7L52.0 495.5M24.2 490.2L23.0 494.0M35.3 489.2L37.2 494.0M33.7 497.9L33.9 494.0M27.1 498.5L26.1 494.0M49.8 498.6L48.4 494.0M39.5 499.4L41.4 494.0M21.4 504.2L24.2 503.4M24.2 503.4L24.2 500.7M24.2 503.4L26.8 502.4M26.8 502.4L26.8 505.4M26.8 502.4L29.4 503.9M29.4 503.9L31.8 503.9M31.8 503.9L34.6 502.8M34.6 502.8L37.5 502.6M37.5 502.6L39.9 504.1M39.9 504.1L42.3 503.7M42.3 503.7L42.3 501.3M42.3 503.7L44.6 503.4M44.6 503.4L47.0 503.5M47.0 503.5L49.7 504.0M49.7 504.0L52.1 503.6M52.1 503.6L54.5 503.6M23.5 506.9L25.9 505.8M25.9 505.8L28.7 507.4M28.7 507.4L31.7 506.7M31.7 506.7L34.6 506.2M34.6 506.2L37.2 506.0M37.2 506.0L39.8 505.8M39.8 505.8L42.2 505.9M42.2 505.9L45.0 506.5M45.0 506.5L47.5 506.5M47.5 506.5L50.1 506.6M50.1 506.6L52.5 506.1M44.8 510.2L46.8 505.0M47.8 508.8L47.4 505.0M31.7 499.7L31.8 505.0M45.0 508.9L43.6 505.0M54.8 509.4L53.4 505.0M21.2 509.1L24.0 510.3M24.0 510.3L26.8 508.7M26.8 508.7L29.2 509.0M29.2 509.0L32.1 508.7M32.1 508.7L34.7 509.6M34.7 509.6L34.7 512.0M34.7 509.6L37.5 509.0M37.5 509.0L40.0 508.7M40.0 508.7L42.9 510.4M42.9 510.4L42.9 507.3M42.9 510.4L46.0 510.3M46.0 510.3L49.1 509.9M49.1 509.9L51.7 509.0M51.7 509.0L54.4 509.7M54.4 509.7L56.9 508.9M22.7 513.5L22.7 511.4M22.7 513.5L25.6 512.7M25.6 512.7L28.2 512.8M28.2 512.8L30.7 512.9M30.7 512.9L30.7 510.7M30.7 512.9L33.2 511.9M33.2 511.9L35.8 511.7M35.8 511.7L38.9 513.2M38.9 513.2L41.9 513.1M41.9 513.1L44.5 512.2M44.5 512.2L47.6 512.7M47.6 512.7L50.0 511.7M50.0 511.7L50.0 508.5M50.0 511.7L52.4 513.0M52.4 513.0L55.4 513.2M26.7 506.0L28.3 511.0M37.2 507.3L37.8 511.0M43.7 505.6L43.6 511.0M57.4 506.0L59.4 511.0M43.7 515.5L44.8 511.0M46.5 516.3L47.2 511.0M17.5 519.6L20.1 520.5M20.1 520.5L22.9 520.5M22.9 520.5L25.3 520.0M25.3 520.0L28.2 519.9M28.2 519.9L28.2 516.8M28.2 519.9L31.1 520.5M31.1 520.5L33.8 521.1M33.8 521.1L36.4 520.5M36.4 520.5L38.8 519.6M38.8 519.6L41.8 519.6M41.8 519.6L44.5 519.6M44.5 519.6L44.5 517.2M44.5 519.6L47.4 519.7M47.4 519.7L50.2 521.1M50.2 521.1L50.2 518.3M50.2 521.1L53.2 520.7M53.2 520.7L55.7 519.9M55.7 519.9L58.7 519.5M58.7 519.5L61.6 521.3M61.6 521.3L64.0 520.0M64.0 520.0L66.6 520.8M18.7 522.9L21.1 522.7M21.1 522.7L23.5 522.7M23.5 522.7L26.5 524.1M26.5 524.1L29.6 523.6M29.6 523.6L32.7 523.7M32.7 523.7L35.7 523.1M35.7 523.1L38.4 522.7M38.4 522.7L40.9 523.3M40.9 523.3L43.5 524.4M43.5 524.4L46.1 523.1M46.1 523.1L49.1 524.0M49.1 524.0L52.2 523.1M52.2 523.1L54.7 522.9M54.7 522.9L57.6 522.6M57.6 522.6L60.0 522.7M60.0 522.7L60.0 519.9M60.0 522.7L63.0 522.9M63.0 522.9L65.9 524.0M59.3 526.6L60.5 522.0M34.0 516.7L35.3 522.0M42.5 527.4L41.8 522.0M41.1 526.7L41.2 522.0M34.5 517.0L35.5 522.0M27.8 527.3L27.9 522.0M57.7 517.5L59.2 522.0M48.9 516.7L47.2 522.0M18.7 531.8L21.3 533.3M21.3 533.3L21.3 530.2M21.3 533.3L24.0 532.6M24.0 532.6L27.0 532.0M27.0 532.0L29.4 531.5M29.4 531.5L31.9 532.6M31.9 532.6L31.9 530.5M31.9 532.6L34.8 532.7M34.8 532.7L34.8 535.0M34.8 532.7L37.4 533.2M37.4 533.2L40.0 533.1M40.0 533.1L42.4 532.9M42.4 532.9L45.0 533.0M45.0 533.0L45.0 535.8M45.0 533.0L47.7 533.1M47.7 533.1L50.8 533.2M50.8 533.2L53.4 532.9M53.4 532.9L56.5 531.6M56.5 531.6L59.5 532.6M59.5 532.6L62.4 531.8M62.4 531.8L62.4 534.2M62.4 531.8L64.9 531.5M64.9 531.5L64.9 529.0M64.9 531.5L67.5 531.5M67.5 531.5L70.1 532.5M18.1 535.9L18.1 532.8M18.1 535.9L20.6 535.4M20.6 535.4L23.1 534.9M23.1 534.9L25.6 536.3M25.6 536.3L28.4 536.1M28.4 536.1L31.3 534.9M31.3 534.9L31.3 537.6M31.3 534.9L33.9 535.5M33.9 535.5L36.7 536.5M36.7 536.5L39.7 534.8M39.7 534.8L42.5 536.0M42.5 536.0L45.0 535.9M45.0 535.9L47.7 535.4M47.7 535.4L50.0 535.9M50.0 535.9L52.4 535.0M52.4 535.0L55.1 536.2M55.1 536.2L58.1 536.0M58.1 536.0L60.8 536.6M60.8 536.6L60.8 533.8M60.8 536.6L63.5 535.4M63.5 535.4L65.8 535.1M65.8 535.1L68.1 536.3M47.5 539.3L47.7 534.0M20.9 528.6L22.4 534.0M50.6 528.9L52.3 534.0M70.9 539.2L69.1 534.0M52.8 529.3L50.9 534.0M56.0 538.3L56.1 534.0M62.3 530.3L62.0 534.0M29.6 537.5L31.4 534.0M46.3 528.7L44.4 534.0M21.3 411.6L20.6 414.3M30.8 412.8L28.7 414.7M20.2 402.5L22.9 403.5M12.0 410.9L10.1 413.0M22.1 400.7L21.3 403.4M26.7 414.8L28.5 417.0M19.9 416.3L19.4 419.0M17.5 415.6L20.0 416.9M24.2 416.3L27.0 416.0M22.1 408.8L19.4 408.2M21.8 408.7L19.7 406.8M15.1 403.8L14.4 401.1M22.1 417.1L19.4 416.3M17.3 407.0L20.0 406.2M17.9 403.2L20.4 401.8M26.7 413.0L24.6 411.3M21.7 409.1L22.7 411.7M20.1 407.5L18.0 409.4M29.4 413.8L29.0 411.0M12.6 409.7L9.9 410.5M30.6 404.4L28.0 403.2M15.5 409.1L18.2 408.3M16.2 413.7L17.3 411.1M20.1 402.7L22.2 404.6M18.3 400.6L20.0 398.5M31.2 404.8L28.4 404.4M24.4 407.9L26.9 409.1M18.8 413.5L16.1 412.7M30.9 407.9L28.5 409.3M27.7 407.7L26.6 405.1M30.0 412.8L32.6 411.6M11.6 411.4L14.1 410.2M29.2 410.0L28.2 407.4M27.6 403.2L29.8 401.5M17.2 403.0L15.4 405.1M67.7 401.6L64.9 401.8M73.4 398.4L75.8 397.0M71.4 403.5L71.4 400.7M74.3 400.0L73.1 397.5M80.4 421.0L80.2 418.2M68.3 414.2L70.3 412.3M77.2 417.3L79.1 419.3M78.0 423.8L80.5 425.1M75.7 413.0L76.2 415.8M71.5 405.0L73.1 407.4M81.8 407.2L84.3 408.5M79.6 413.9L78.0 416.2M65.1 410.3L65.0 413.1M78.8 420.5L78.8 417.7M67.6 416.9L69.8 415.1M81.8 417.4L79.0 417.5M73.6 415.8L72.3 418.3M74.6 411.5L72.2 410.1M76.0 399.2L77.9 401.2M76.5 422.5L73.9 423.4M75.9 402.2L74.4 399.8M71.4 420.5L71.7 423.3M69.3 418.9L71.4 417.1M68.2 420.4L66.9 422.8M76.9 406.4L74.6 404.8M78.7 418.4L80.4 420.6M74.9 408.4L74.0 405.7M67.1 410.7L67.2 413.5M78.5 411.1L75.9 410.2M67.8 411.4L66.8 414.0M65.4 411.7L68.2 411.6M69.7 417.4L68.7 420.0M72.4 424.0L74.7 425.6M73.1 410.7L72.6 407.9M74.7 416.3L73.5 413.8M77.4 423.8L76.5 421.1M78.9 451.8L76.7 453.5M74.9 446.3L77.7 446.3M74.6 465.7L76.7 467.4M72.5 464.4L70.1 463.0M78.8 450.7L81.4 451.8M81.7 456.4L82.6 453.7M74.2 446.8L73.1 444.2M81.2 468.3L78.7 469.7M75.1 464.0L72.4 463.2M76.3 451.4L74.3 453.4M74.7 448.2L76.1 445.7M80.8 467.7L82.9 465.9M79.6 458.8L82.2 459.8M80.7 461.2L82.9 463.0M77.7 476.3L78.9 478.8M72.5 464.7L73.4 462.1M81.8 467.0L79.6 468.7M74.8 472.9L73.3 475.2M78.2 468.8L77.2 466.2M74.5 464.0L75.9 466.4M73.8 477.1L76.4 476.1M68.5 453.3L67.0 450.9M80.4 453.1L82.1 455.3M75.2 475.5L76.7 477.8M75.5 453.2L78.3 452.8M71.5 459.3L70.6 462.0M73.8 473.7L73.7 470.9M71.2 457.0L73.9 457.6M68.5 464.4L70.6 466.3M80.1 473.3L78.3 471.2M82.1 461.0L84.5 459.5M80.4 451.4L82.8 450.1M72.5 465.6L74.7 467.3M6.3 456.5L6.1 453.7M9.4 477.1L11.9 478.4M16.2 453.7L18.1 455.7M14.5 481.7L17.3 481.4M19.4 471.3L21.4 469.3M3.5 468.8L5.8 470.4M13.9 476.7L16.2 478.3M16.6 457.0L19.3 456.4M5.2 462.5L7.9 463.2M17.5 483.9L15.3 482.1M12.7 468.3L12.3 471.1M7.8 470.7L8.6 468.0M15.7 478.2L18.0 479.8M14.2 468.7L16.9 469.4M4.3 477.7L7.1 477.9M14.4 467.3L16.5 465.4M18.1 472.9L19.2 475.4M16.8 481.9L18.2 484.3M7.3 452.4L10.1 452.6M6.5 479.5L6.2 476.7M18.4 454.6L21.0 453.7M13.7 466.0L11.8 468.1M19.9 482.1L18.0 480.0M2.5 474.9L5.2 474.3M9.0 455.5L11.8 454.8M6.1 482.7L5.3 485.4M6.6 466.5L5.5 463.9M5.9 457.7L6.9 460.3M17.6 468.7L15.3 467.2M20.1 477.6L17.5 478.6M7.1 466.7L9.4 468.2M8.5 462.6L5.8 462.1M9.2 476.5L9.2 473.7M18.9 468.5L18.1 465.8M11.9 462.0L11.5 459.2M17.3 466.1L14.8 464.8M5.2 479.6L7.9 479.1M10.4 478.9L10.0 481.7M16.1 457.1L18.2 459.0M5.5 476.7L3.4 478.6M5.2 454.3L7.4 452.6M8.3 457.7L6.8 460.1M35.2 504.1L33.9 506.5M36.1 502.4L35.2 505.0M23.3 499.7L23.1 502.5M32.6 505.3L30.3 503.8M31.5 496.4L33.8 494.9M31.9 497.9L31.2 500.6M30.9 504.0L33.5 505.2M35.8 504.9L33.4 503.5M25.9 501.0L23.9 503.0M34.6 495.8L36.3 493.6M33.0 505.9L31.8 503.4M38.6 502.9L39.5 505.6M38.1 496.6L35.5 497.7M32.7 499.6L35.3 498.6M31.6 497.3L29.4 495.6M30.4 494.9L31.7 497.4M30.0 504.7L27.7 503.1M19.9 498.6L17.4 497.5M31.1 497.5L32.5 499.9M32.8 497.5L31.8 500.2M33.4 504.0L30.7 503.3M24.0 502.5L24.8 505.2M28.6 497.4L26.0 498.4M25.1 500.0L22.3 500.2M40.4 502.1L42.4 500.2M22.3 498.5L19.5 498.2M30.3 505.1L29.7 507.8M23.5 495.9L25.3 493.8M9.7 511.3L12.3 510.2M2.9 522.6L2.1 519.9M12.4 517.1L11.0 519.5M16.0 517.4L15.9 514.6M3.7 504.7L6.2 505.9M8.0 505.1L10.8 505.2M8.1 514.6L6.6 516.9M5.5 502.4L3.8 500.1M9.7 503.9L7.0 504.4M11.6 505.7L10.7 503.1M3.2 521.1L4.3 518.6M13.8 506.9L11.2 507.9M15.4 511.2L16.7 508.8M10.4 525.5L10.6 522.7M14.9 519.7L14.9 516.9M9.9 520.8L7.5 519.3M3.7 520.0L6.4 519.4M8.6 514.0L5.9 514.8M7.4 518.2L7.2 515.4M4.9 511.5L6.7 509.5M7.4 516.1L5.1 517.5M17.2 508.5L17.0 505.7M12.6 512.5L13.9 510.1M3.8 508.1L6.4 509.1M8.6 525.7L11.3 524.7M9.9 503.2L7.2 502.3M12.4 503.9L10.4 502.0M12.8 523.2L13.8 520.5M8.2 515.8L10.9 516.7M64.5 525.2L67.2 524.8M69.4 520.8L70.5 523.3M68.7 522.2L67.0 519.9M66.8 522.9L64.0 522.7M69.5 540.5L68.3 543.0M64.1 528.8L66.5 527.3M67.5 523.7L70.3 523.7M74.0 539.6L76.5 538.4M68.2 529.5L68.9 532.2M78.2 532.3L79.3 529.7M63.8 529.7L61.3 528.5M74.0 521.6L76.2 523.3M62.3 524.8L65.1 525.2M77.7 525.7L80.5 525.6M67.8 539.0L66.6 536.5M65.5 536.0L64.4 538.6M64.0 531.4L66.2 533.1M74.1 531.0L75.8 528.8M71.5 534.8L73.6 533.0M74.8 535.8L75.4 538.5M63.0 530.4L64.1 527.8M71.2 522.4L70.1 519.8M71.3 525.9L70.2 523.3M67.4 528.8L66.7 531.5M76.7 532.8L76.7 535.6M68.7 528.7L68.3 526.0M66.7 533.8L68.2 536.1M66.0 534.3L67.0 536.9M70.8 534.1L69.3 536.5M72.4 527.6L70.1 525.9M64.3 530.1L65.7 532.5M43.4 469.3L40.8 470.2M47.5 467.4L45.0 468.5M53.5 464.6L51.0 465.6M46.4 472.8L43.6 472.3M51.6 469.5L52.9 472.0M49.0 471.8L51.4 470.4M49.1 475.5L51.4 477.1M45.4 468.7L45.0 465.9M46.9 472.9L45.0 470.9M43.5 469.2L42.4 466.6M51.7 474.8L53.3 477.1M52.7 441.8L50.0 441.1M63.9 441.6L64.4 444.3M51.1 436.9L49.9 439.4M54.0 446.9L53.5 444.2M62.8 440.8L65.5 441.6M52.7 437.7L55.5 437.4M60.6 440.5L59.0 438.2M57.6 438.9L57.6 441.7M54.7 438.1L52.2 436.7M60.4 447.1L62.4 445.1M57.7 439.6L56.1 441.9M59.2 438.0L56.5 438.5M60.1 433.2L59.5 430.5M55.2 445.3L52.7 446.5M30.4 509.4L28.7 511.7M39.4 524.1L37.7 526.3M29.3 530.8L29.1 528.0M30.6 524.7L33.1 526.0M39.7 523.7L37.7 521.7M20.2 515.3L17.5 514.7M37.9 528.7L35.8 526.9M54.8 517.0L52.3 515.8M47.4 520.8L47.7 518.0M36.1 526.6L33.4 525.8M48.9 512.5L46.3 513.5M35.5 512.6L32.7 512.8M37.1 516.8L38.4 514.4M58.4 522.1L60.4 520.1M35.1 517.4L32.5 516.4M49.4 509.2L47.4 511.2M23.9 519.4L23.6 516.6M32.6 515.0L35.4 514.5M38.9 524.9L39.6 522.2M45.8 531.4L43.0 531.2M60.7 519.7L63.4 519.1M44.1 525.4L42.5 523.0M60.6 514.8L60.0 517.5M54.1 510.5L51.4 509.5M51.2 524.0L48.7 525.3M44.6 420.9L43.5 418.3M55.7 426.7L57.2 429.0M57.5 420.9L54.7 420.8M55.0 423.9L54.1 421.3M36.9 429.0L36.7 426.2M32.6 422.6L34.4 424.8M37.6 431.7L35.4 433.3M54.5 421.6L57.3 422.1M61.2 421.6L58.5 421.2"/>
<path fill="none" stroke="#dcdcdc" stroke-width="1.80" stroke-linecap="round" d="M20.0 399.9h0M23.5 406.4h0M40.8 407.0h0M59.2 400.3h0M62.5 400.7h0M67.8 399.9h0M23.6 404.6h0M54.6 409.5h0M41.8 409.7h0M35.2 409.7h0M42.4 416.8h0M59.1 411.9h0M61.8 417.5h0M67.8 411.7h0M56.7 421.3h0M69.4 419.9h0M56.4 421.0h0M37.1 425.7h0M47.6 429.2h0M40.7 432.3h0M65.4 427.0h0M63.3 432.6h0M38.3 424.7h0M41.3 436.6h0M44.7 444.3h0M56.5 440.3h0M51.5 436.0h0M51.2 436.8h0M23.8 447.8h0M31.3 453.5h0M52.2 449.0h0M42.4 451.4h0M52.0 457.6h0M53.6 455.3h0M59.0 455.8h0M57.6 447.1h0M55.6 446.8h0M28.0 463.4h0M45.6 458.2h0M47.0 461.9h0M54.9 466.3h0M51.1 457.9h0M32.4 458.4h0M62.1 457.9h0M12.1 471.7h0M31.2 466.9h0M42.0 466.9h0M34.4 471.1h0M52.6 470.4h0M54.3 475.9h0M60.4 471.7h0M10.5 485.1h0M14.0 480.2h0M19.1 480.9h0M25.0 480.0h0M27.2 485.3h0M41.4 480.7h0M43.5 484.5h0M51.5 478.6h0M58.1 480.0h0M29.7 482.9h0M47.6 484.4h0M56.2 488.0h0M26.8 480.0h0M55.4 480.5h0M28.3 478.9h0M47.6 495.3h0M50.5 493.7h0M21.9 498.4h0M47.3 498.2h0M24.2 490.2h0M23.9 500.7h0M27.3 505.4h0M42.9 501.3h0M34.1 512.0h0M43.3 507.3h0M21.9 511.4h0M31.6 510.7h0M49.5 508.5h0M57.4 506.0h0M28.2 516.8h0M43.6 517.2h0M50.8 518.3h0M60.2 519.9h0M34.5 517.0h0M22.0 530.2h0M31.9 530.5h0M34.2 535.0h0M44.3 535.8h0M62.8 534.2h0M64.7 529.0h0M18.9 532.8h0M31.1 537.6h0M61.0 533.8h0M47.5 539.3h0M70.9 539.2h0M29.6 537.5h0M46.3 528.7h0M19.9 416.3h0M26.6 401.8h0M17.5 415.6h0M22.1 408.8h0M30.6 404.4h0M15.5 409.1h0M20.1 402.7h0M30.9 407.9h0M27.7 407.7h0M67.7 401.6h0M76.2 418.5h0M75.9 402.2h0M71.4 420.5h0M74.9 408.4h0M81.3 413.8h0M74.4 456.5h0M79.9 463.4h0M81.7 456.4h0M80.5 453.1h0M75.1 464.0h0M67.6 457.6h0M82.3 452.4h0M74.8 472.9h0M75.5 453.2h0M71.2 457.0h0M9.4 477.1h0M3.5 468.8h0M7.8 470.7h0M14.2 468.7h0M16.8 481.9h0M18.4 454.6h0M18.3 464.1h0M19.9 482.1h0M8.5 462.6h0M5.2 479.6h0M9.7 467.9h0M10.8 481.5h0M32.6 505.3h0M33.0 505.9h0M33.4 504.0h0M40.4 502.1h0M9.7 511.3h0M8.0 505.1h0M9.7 503.9h0M15.3 511.5h0M1.2 515.7h0M12.6 512.5h0M8.6 525.7h0M11.5 509.9h0M67.5 523.7h0M63.8 529.7h0M77.7 525.7h0M74.1 531.0h0M74.8 535.8h0M71.3 525.9h0M68.7 528.7h0M49.0 471.8h0M57.7 439.6h0M55.2 445.3h0M54.8 517.0h0M37.1 516.8h0M60.6 514.8h0M32.6 420.2h0M54.5 421.6h0M61.2 421.6h0"/>
<path fill="none" stroke="#a2a2a2" stroke-width="2.90" stroke-linecap="round" d="M17.9 403.7h0M27.9 402.8h0M30.6 402.8h0M38.4 404.2h0M41.0 404.2h0M46.4 402.8h0M54.5 402.4h0M59.4 402.7h0M64.7 403.2h0M70.0 402.7h0M20.2 406.5h0M25.6 407.5h0M31.0 406.6h0M39.3 405.9h0M52.2 406.0h0M62.4 407.1h0M42.3 400.0h0M56.0 399.8h0M42.6 409.8h0M39.9 409.8h0M48.9 410.0h0M31.5 410.0h0M49.7 400.1h0M32.4 409.8h0M35.7 413.4h0M43.4 414.2h0M48.9 414.9h0M59.8 414.3h0M64.5 415.4h0M67.5 414.2h0M39.5 417.2h0M45.1 417.2h0M47.9 416.6h0M56.0 418.1h0M60.9 417.0h0M72.1 416.7h0M58.5 420.8h0M74.9 421.4h0M37.9 420.3h0M47.0 412.1h0M64.2 411.2h0M64.4 419.9h0M43.0 426.8h0M45.8 427.3h0M48.2 426.8h0M53.8 427.9h0M59.1 427.1h0M67.2 426.5h0M69.6 426.4h0M72.2 428.4h0M43.8 430.0h0M46.7 430.9h0M49.4 431.6h0M52.0 430.5h0M57.3 431.3h0M65.6 429.6h0M66.9 423.9h0M54.6 424.4h0M51.9 433.2h0M74.4 425.0h0M47.5 439.5h0M50.5 440.1h0M63.3 439.2h0M65.8 439.8h0M45.4 442.2h0M53.0 441.9h0M55.7 442.5h0M63.6 441.7h0M66.3 441.6h0M64.0 445.7h0M63.9 436.1h0M60.9 444.6h0M29.3 450.1h0M34.8 450.1h0M42.8 451.2h0M48.5 449.6h0M57.7 450.2h0M60.1 451.4h0M23.6 452.7h0M26.5 454.3h0M29.1 453.6h0M32.0 454.1h0M35.1 453.1h0M37.9 453.4h0M40.8 454.2h0M45.6 454.3h0M48.4 453.0h0M56.5 453.8h0M59.2 453.3h0M61.9 454.4h0M64.3 453.3h0M43.0 456.8h0M59.4 456.2h0M31.1 456.9h0M21.1 446.7h0M14.5 461.3h0M17.2 460.5h0M28.6 460.9h0M33.9 460.6h0M41.8 461.1h0M47.3 459.7h0M55.1 460.0h0M59.9 461.0h0M63.0 460.1h0M17.0 462.8h0M20.0 463.0h0M26.0 463.8h0M39.2 462.7h0M44.1 464.5h0M51.9 463.7h0M54.2 463.4h0M59.8 463.5h0M15.1 456.8h0M54.1 457.5h0M56.5 457.5h0M44.0 458.2h0M42.0 466.3h0M31.8 469.6h0M42.8 469.9h0M45.9 470.9h0M48.9 470.2h0M54.4 471.1h0M56.7 469.5h0M59.2 471.0h0M14.0 472.7h0M16.5 473.0h0M28.5 473.6h0M31.6 473.4h0M34.3 474.1h0M36.7 473.9h0M39.0 473.2h0M52.5 472.9h0M57.3 473.2h0M53.5 467.8h0M28.3 467.9h0M30.0 467.4h0M31.5 468.4h0M13.1 467.0h0M16.7 468.3h0M29.7 477.1h0M55.4 467.9h0M8.5 481.4h0M13.8 483.0h0M16.7 481.5h0M35.7 482.1h0M38.6 481.7h0M43.8 481.5h0M46.5 482.7h0M52.1 481.6h0M57.9 482.9h0M16.2 485.1h0M19.1 486.3h0M21.6 486.2h0M27.7 485.8h0M33.2 485.3h0M38.6 486.3h0M44.5 485.5h0M35.6 488.7h0M25.5 479.6h0M52.5 480.0h0M28.7 478.5h0M40.1 488.2h0M20.2 492.0h0M22.7 492.3h0M28.6 492.6h0M36.9 492.3h0M41.9 492.3h0M47.2 492.8h0M49.7 491.6h0M16.9 495.5h0M22.4 496.0h0M25.4 495.0h0M28.0 496.6h0M33.0 494.9h0M38.8 495.5h0M44.5 496.3h0M35.3 489.2h0M33.7 497.9h0M27.1 498.5h0M49.8 498.6h0M39.5 499.4h0M21.4 504.2h0M31.8 503.9h0M34.6 502.8h0M42.3 503.7h0M47.0 503.5h0M52.1 503.6h0M23.5 506.9h0M25.9 505.8h0M28.7 507.4h0M34.6 506.2h0M37.2 506.0h0M47.5 506.5h0M50.1 506.6h0M52.5 506.1h0M44.8 510.2h0M47.8 508.8h0M31.7 499.7h0M45.0 508.9h0M54.8 509.4h0M24.0 510.3h0M29.2 509.0h0M46.0 510.3h0M54.4 509.7h0M22.7 513.5h0M28.2 512.8h0M30.7 512.9h0M35.8 511.7h0M38.9 513.2h0M41.9 513.1h0M44.5 512.2h0M26.7 506.0h0M37.2 507.3h0M43.7 505.6h0M43.7 515.5h0M46.5 516.3h0M20.1 520.5h0M33.8 521.1h0M53.2 520.7h0M66.6 520.8h0M18.7 522.9h0M21.1 522.7h0M26.5 524.1h0M29.6 523.6h0M38.4 522.7h0M40.9 523.3h0M43.5 524.4h0M49.1 524.0h0M52.2 523.1h0M54.7 522.9h0M60.0 522.7h0M59.3 526.6h0M34.0 516.7h0M42.5 527.4h0M41.1 526.7h0M27.8 527.3h0M57.7 517.5h0M48.9 516.7h0M27.0 532.0h0M31.9 532.6h0M37.4 533.2h0M42.4 532.9h0M45.0 533.0h0M47.7 533.1h0M50.8 533.2h0M53.4 532.9h0M70.1 532.5h0M31.3 534.9h0M33.9 535.5h0M36.7 536.5h0M42.5 536.0h0M45.0 535.9h0M47.7 535.4h0M52.4 535.0h0M58.1 536.0h0M60.8 536.6h0M68.1 536.3h0M20.9 528.6h0M50.6 528.9h0M52.8 529.3h0M56.0 538.3h0M62.3 530.3h0M30.9 411.5h0M21.3 411.6h0M30.8 412.8h0M28.8 413.0h0M20.2 402.5h0M12.0 410.9h0M20.6 401.0h0M26.7 414.8h0M24.2 416.3h0M21.8 408.7h0M15.1 403.8h0M23.1 415.2h0M22.1 417.1h0M23.2 400.1h0M17.3 407.0h0M28.7 413.2h0M16.2 414.7h0M26.7 413.0h0M21.7 409.1h0M20.1 407.5h0M29.4 413.8h0M12.6 409.7h0M18.3 400.6h0M13.3 405.4h0M11.6 411.4h0M29.2 410.0h0M17.2 403.0h0M18.5 412.6h0M71.4 403.5h0M74.3 400.0h0M80.4 421.0h0M68.3 414.2h0M77.2 417.3h0M75.7 413.0h0M80.3 422.6h0M79.6 413.9h0M67.6 416.9h0M76.0 399.2h0M76.5 422.5h0M70.9 407.0h0M67.1 419.6h0M67.8 402.8h0M76.9 406.4h0M77.4 424.8h0M79.2 420.0h0M70.6 399.5h0M67.8 411.4h0M65.4 411.7h0M77.8 411.9h0M69.7 417.4h0M72.4 424.0h0M74.7 416.3h0M69.6 415.7h0M77.4 423.8h0M78.9 451.8h0M74.9 446.3h0M72.5 464.4h0M74.2 446.8h0M81.2 468.3h0M82.4 452.0h0M83.2 457.3h0M76.3 451.4h0M74.7 448.2h0M80.8 467.7h0M79.6 458.8h0M80.7 461.2h0M77.7 476.3h0M72.5 464.7h0M78.2 468.8h0M74.5 464.0h0M68.5 453.3h0M80.4 453.1h0M75.2 475.5h0M69.6 452.1h0M71.5 459.3h0M68.9 453.8h0M80.1 473.3h0M82.1 461.0h0M16.2 453.7h0M14.5 481.7h0M13.8 463.2h0M19.4 471.3h0M13.9 476.7h0M16.6 457.0h0M5.2 462.5h0M17.5 483.9h0M3.5 470.9h0M20.6 469.0h0M15.7 478.2h0M4.3 477.7h0M6.5 479.5h0M9.0 478.5h0M2.5 474.9h0M9.0 455.5h0M6.1 482.7h0M10.8 460.8h0M6.6 466.5h0M20.0 455.0h0M20.1 477.6h0M7.1 466.7h0M18.9 468.5h0M11.9 462.0h0M17.3 466.1h0M10.4 478.9h0M5.5 476.7h0M8.3 457.7h0M35.2 504.1h0M36.1 502.4h0M23.3 499.7h0M31.5 496.4h0M31.9 497.9h0M35.8 504.9h0M34.6 495.8h0M36.5 501.4h0M38.6 502.9h0M38.1 496.6h0M33.6 500.6h0M31.1 497.5h0M32.8 497.5h0M24.0 502.5h0M31.3 501.6h0M25.1 500.0h0M3.3 518.6h0M16.0 517.4h0M3.7 504.7h0M8.1 514.6h0M5.5 502.4h0M11.6 505.7h0M13.8 506.9h0M15.4 511.2h0M10.4 525.5h0M7.8 525.3h0M9.9 520.8h0M3.7 520.0h0M7.4 518.2h0M15.6 507.9h0M4.9 511.5h0M7.4 516.1h0M17.2 508.5h0M3.9 513.1h0M0.7 511.9h0M9.9 503.2h0M12.8 523.2h0M74.9 528.2h0M64.5 525.2h0M69.4 520.8h0M68.7 522.2h0M66.8 522.9h0M69.5 540.5h0M74.0 539.6h0M68.2 529.5h0M68.6 528.4h0M64.4 527.1h0M65.0 537.3h0M78.2 532.3h0M72.6 538.8h0M74.0 521.6h0M62.3 524.8h0M67.8 539.0h0M64.0 531.4h0M71.5 534.8h0M71.2 522.4h0M66.1 532.0h0M74.8 528.4h0M70.8 534.1h0M64.3 530.1h0M43.4 469.3h0M47.5 467.4h0M51.6 469.5h0M49.1 475.5h0M45.4 468.7h0M53.6 472.6h0M51.1 436.9h0M62.0 443.1h0M62.8 440.8h0M52.7 437.7h0M60.6 440.5h0M60.4 447.1h0M60.1 433.2h0M56.0 437.5h0M54.0 440.6h0M30.4 509.4h0M27.0 524.5h0M39.4 524.1h0M29.3 530.8h0M39.7 523.7h0M37.9 528.7h0M47.4 520.8h0M50.4 521.4h0M36.1 526.6h0M35.5 512.6h0M35.1 517.4h0M49.4 509.2h0M23.9 519.4h0M28.7 517.4h0M32.6 515.0h0M49.4 529.5h0M45.8 531.4h0M60.7 519.7h0M44.1 525.4h0M54.1 510.5h0M51.2 524.0h0M44.6 420.9h0M55.7 426.7h0M43.1 430.0h0M46.2 433.0h0M55.0 423.9h0M36.9 429.0h0M32.6 422.6h0M37.6 431.7h0M51.6 426.6h0"/>
<path fill="none" stroke="#6464d6" stroke-width="2.90" stroke-linecap="round" d="M23.2 404.1h0M25.5 403.0h0M33.2 404.2h0M49.3 404.1h0M62.1 403.7h0M67.5 403.0h0M72.4 404.2h0M74.7 404.1h0M23.1 407.0h0M28.2 407.1h0M41.6 405.9h0M44.7 406.8h0M49.7 406.6h0M60.1 406.1h0M72.9 407.3h0M75.6 405.6h0M38.2 414.2h0M40.6 415.2h0M46.3 413.4h0M54.4 414.3h0M56.9 415.1h0M62.1 415.0h0M70.3 413.8h0M72.8 413.6h0M75.2 413.5h0M36.5 416.8h0M50.3 417.3h0M63.7 418.4h0M66.6 417.0h0M37.1 427.9h0M51.0 426.8h0M61.8 427.3h0M41.2 429.8h0M60.1 430.9h0M62.8 429.6h0M53.1 439.9h0M55.5 440.2h0M61.0 439.9h0M68.4 439.1h0M70.7 439.0h0M43.0 443.0h0M47.9 443.0h0M50.5 442.2h0M58.1 442.9h0M71.6 443.2h0M21.0 450.4h0M23.6 450.4h0M26.6 449.7h0M32.2 450.5h0M37.4 450.3h0M45.9 451.4h0M54.6 450.8h0M63.2 449.7h0M43.2 453.8h0M54.2 453.2h0M20.2 461.2h0M22.7 461.3h0M25.6 460.0h0M31.1 461.1h0M39.4 460.1h0M49.9 459.8h0M52.7 459.6h0M57.5 459.5h0M22.9 463.4h0M28.7 464.1h0M31.1 464.5h0M36.5 463.4h0M46.9 464.3h0M49.5 463.0h0M56.7 463.0h0M62.2 464.2h0M12.9 469.7h0M20.6 469.8h0M23.3 470.2h0M26.3 470.4h0M29.1 471.4h0M34.5 471.3h0M39.8 470.7h0M19.6 474.4h0M22.6 473.4h0M25.4 474.2h0M41.5 472.8h0M44.5 473.8h0M47.4 473.7h0M49.7 473.1h0M54.8 473.4h0M60.0 474.4h0M11.0 482.5h0M19.2 483.0h0M22.2 482.0h0M25.0 482.3h0M33.1 481.6h0M41.4 482.9h0M49.1 481.7h0M55.1 482.1h0M13.4 484.8h0M30.6 485.7h0M47.6 486.5h0M50.3 485.6h0M52.9 484.9h0M55.5 486.0h0M14.8 493.2h0M17.7 491.7h0M31.1 491.7h0M52.4 492.3h0M19.4 494.7h0M30.6 495.6h0M35.7 496.1h0M41.6 495.0h0M46.8 496.2h0M26.8 502.4h0M44.6 503.4h0M49.7 504.0h0M54.5 503.6h0M31.7 506.7h0M42.2 505.9h0M21.2 509.1h0M26.8 508.7h0M32.1 508.7h0M34.7 509.6h0M49.1 509.9h0M51.7 509.0h0M56.9 508.9h0M25.6 512.7h0M47.6 512.7h0M55.4 513.2h0M17.5 519.6h0M28.2 519.9h0M31.1 520.5h0M41.8 519.6h0M47.4 519.7h0M55.7 519.9h0M58.7 519.5h0M64.0 520.0h0M23.5 522.7h0M32.7 523.7h0M35.7 523.1h0M46.1 523.1h0M63.0 522.9h0M18.7 531.8h0M21.3 533.3h0M29.4 531.5h0M34.8 532.7h0M40.0 533.1h0M56.5 531.6h0M62.4 531.8h0M64.9 531.5h0M67.5 531.5h0M18.1 535.9h0M25.6 536.3h0M28.4 536.1h0M39.7 534.8h0M55.1 536.2h0M63.5 535.4h0"/>
<path fill="none" stroke="#e67a7a" stroke-width="3.30" stroke-linecap="round" d="M20.8 402.8h0M35.9 403.4h0M43.4 403.8h0M52.0 403.2h0M56.8 403.8h0M77.6 402.5h0M33.5 406.1h0M36.5 407.5h0M47.1 406.5h0M55.2 407.1h0M57.6 405.7h0M64.9 407.0h0M67.4 406.0h0M70.5 406.1h0M51.6 413.6h0M42.2 417.3h0M53.1 417.0h0M58.4 417.9h0M69.6 417.1h0M74.8 417.0h0M40.0 426.9h0M56.2 428.3h0M64.4 426.6h0M75.0 426.8h0M38.7 431.4h0M54.6 431.4h0M68.7 430.2h0M71.7 429.8h0M42.2 439.0h0M45.0 439.5h0M58.3 439.6h0M60.7 443.0h0M69.1 443.0h0M40.0 450.8h0M51.6 451.3h0M66.1 451.1h0M51.2 454.5h0M36.7 460.3h0M44.6 460.7h0M33.9 464.1h0M41.8 463.5h0M15.3 470.5h0M18.2 469.6h0M37.2 470.4h0M52.0 470.0h0M27.7 482.3h0M30.5 482.3h0M10.8 485.7h0M24.7 484.7h0M35.6 485.7h0M41.6 485.3h0M25.5 493.2h0M34.0 493.0h0M39.4 493.3h0M44.9 492.2h0M49.5 495.7h0M52.0 495.5h0M24.2 503.4h0M29.4 503.9h0M37.5 502.6h0M39.9 504.1h0M39.8 505.8h0M45.0 506.5h0M37.5 509.0h0M40.0 508.7h0M42.9 510.4h0M33.2 511.9h0M50.0 511.7h0M52.4 513.0h0M22.9 520.5h0M25.3 520.0h0M36.4 520.5h0M38.8 519.6h0M44.5 519.6h0M50.2 521.1h0M61.6 521.3h0M57.6 522.6h0M65.9 524.0h0M24.0 532.6h0M59.5 532.6h0M20.6 535.4h0M23.1 534.9h0M50.0 535.9h0M65.8 535.1h0M26.5 409.2h0M25.3 407.9h0M20.8 403.3h0M22.1 400.7h0M17.6 401.0h0M23.7 414.0h0M18.8 413.5h0M30.0 412.8h0M73.4 398.4h0M78.0 423.8h0M81.8 407.2h0M65.1 410.3h0M78.8 420.5h0M80.5 407.9h0M81.8 417.4h0M73.6 415.8h0M69.3 418.9h0M66.6 416.9h0M78.7 418.4h0M67.1 410.7h0M78.5 411.1h0M73.5 424.4h0M73.1 410.7h0M74.6 465.7h0M78.8 450.7h0M71.3 474.2h0M70.3 452.8h0M81.8 467.0h0M73.8 477.1h0M73.8 473.7h0M79.3 475.1h0M68.5 464.4h0M77.7 474.1h0M80.4 451.4h0M6.3 456.5h0M3.8 479.7h0M14.4 467.3h0M18.1 472.9h0M7.5 458.3h0M7.3 452.4h0M23.1 464.6h0M5.9 457.7h0M17.6 468.7h0M9.2 476.5h0M12.4 479.8h0M17.0 460.4h0M16.1 457.1h0M5.2 454.3h0M30.9 504.0h0M25.9 501.0h0M32.7 499.6h0M31.6 497.3h0M30.4 494.9h0M25.5 503.8h0M30.0 504.7h0M19.9 498.6h0M38.8 494.5h0M28.6 497.4h0M22.3 498.5h0M33.2 498.5h0M23.5 495.9h0M2.9 522.6h0M12.4 517.1h0M3.2 521.1h0M7.5 514.7h0M14.9 519.7h0M8.6 514.0h0M3.8 508.1h0M9.3 524.6h0M12.4 503.9h0M8.2 515.8h0M64.1 528.8h0M74.1 527.5h0M65.5 536.0h0M63.0 530.4h0M67.4 528.8h0M76.7 532.8h0M76.1 523.4h0M66.0 534.3h0M72.4 527.6h0M53.5 464.6h0M52.9 467.6h0M46.9 472.9h0M43.5 469.2h0M51.7 474.8h0M52.7 441.8h0M55.8 436.2h0M63.9 441.6h0M54.0 446.9h0M57.6 438.9h0M54.7 438.1h0M59.2 438.0h0M20.2 515.3h0M52.7 515.9h0M48.9 512.5h0M58.4 522.1h0M38.9 524.9h0M57.5 420.9h0M40.7 427.7h0M52.3 418.8h0M50.7 417.4h0"/>
<path fill="none" stroke="#e8aa6a" stroke-width="3.60" stroke-linecap="round" d="M17.9 403.2h0M16.2 413.7h0M31.2 404.8h0M24.4 407.9h0M27.6 403.2h0M71.5 405.0h0M74.6 411.5h0M68.2 420.4h0M72.5 465.6h0M12.7 468.3h0M13.7 466.0h0M14.2 450.4h0M3.8 456.3h0M0.5 469.1h0M8.3 465.6h0M30.3 505.1h0M10.8 513.0h0M66.7 533.8h0M46.9 475.2h0M46.4 472.8h0M30.6 524.7h0"/></g>
<g transform="translate(333.2,0)"><path fill="none" stroke="#aaaaaa" stroke-width="0.90" stroke-linecap="round" d="M17.9 403.7L20.8 402.8M20.8 402.8L20.8 399.9M20.8 402.8L23.2 404.1M23.2 404.1L23.2 406.4M23.2 404.1L25.5 403.0M25.5 403.0L27.9 402.8M27.9 402.8L30.6 402.8M30.6 402.8L33.2 404.2M33.2 404.2L35.9 403.4M35.9 403.4L38.4 404.2M38.4 404.2L41.0 404.2M41.0 404.2L41.0 407.0M41.0 404.2L43.4 403.8M43.4 403.8L46.4 402.8M46.4 402.8L49.3 404.1M49.3 404.1L52.0 403.2M52.0 403.2L54.5 402.4M54.5 402.4L56.8 403.8M56.8 403.8L59.4 402.7M59.4 402.7L59.4 400.3M59.4 402.7L62.1 403.7M62.1 403.7L62.1 400.7M62.1 403.7L64.7 403.2M64.7 403.2L67.5 403.0M67.5 403.0L67.5 399.9M67.5 403.0L70.0 402.7M70.0 402.7L72.4 404.2M72.4 404.2L74.7 404.1M74.7 404.1L77.6 402.5M20.2 406.5L23.1 407.0M23.1 407.0L23.1 404.6M23.1 407.0L25.6 407.5M25.6 407.5L28.2 407.1M28.2 407.1L31.0 406.6M31.0 406.6L33.5 406.1M33.5 406.1L36.5 407.5M36.5 407.5L39.3 405.9M39.3 405.9L41.6 405.9M41.6 405.9L44.7 406.8M44.7 406.8L47.1 406.5M47.1 406.5L49.7 406.6M49.7 406.6L52.2 406.0M52.2 406.0L55.2 407.1M55.2 407.1L55.2 409.5M55.2 407.1L57.6 405.7M57.6 405.7L60.1 406.1M60.1 406.1L62.4 407.1M62.4 407.1L64.9 407.0M64.9 407.0L67.4 406.0M67.4 406.0L70.5 406.1M70.5 406.1L72.9 407.3M72.9 407.3L75.6 405.6M42.3 400.0L43.1 405.0M56.0 399.8L56.1 405.0M41.8 409.7L41.8 405.0M42.6 409.8L41.9 405.0M39.9 409.8L38.5 405.0M48.9 410.0L50.6 405.0M31.5 410.0L30.6 405.0M49.7 400.1L49.0 405.0M32.4 409.8L31.3 405.0M35.2 409.7L34.1 405.0M35.7 413.4L38.2 414.2M38.2 414.2L40.6 415.2M40.6 415.2L43.4 414.2M43.4 414.2L43.4 416.8M43.4 414.2L46.3 413.4M46.3 413.4L48.9 414.9M48.9 414.9L51.6 413.6M51.6 413.6L54.4 414.3M54.4 414.3L56.9 415.1M56.9 415.1L59.8 414.3M59.8 414.3L59.8 411.9M59.8 414.3L62.1 415.0M62.1 415.0L62.1 417.5M62.1 415.0L64.5 415.4M64.5 415.4L67.5 414.2M67.5 414.2L67.5 411.7M67.5 414.2L70.3 413.8M70.3 413.8L72.8 413.6M72.8 413.6L75.2 413.5M36.5 416.8L39.5 417.2M39.5 417.2L42.2 417.3M42.2 417.3L45.1 417.2M45.1 417.2L47.9 416.6M47.9 416.6L50.3 417.3M50.3 417.3L53.1 417.0M53.1 417.0L56.0 418.1M56.0 418.1L56.0 421.3M56.0 418.1L58.4 417.9M58.4 417.9L60.9 417.0M60.9 417.0L63.7 418.4M63.7 418.4L66.6 417.0M66.6 417.0L69.6 417.1M69.6 417.1L69.6 419.9M69.6 417.1L72.1 416.7M72.1 416.7L74.8 417.0M58.5 420.8L59.8 416.0M74.9 421.4L73.5 416.0M37.9 420.3L36.9 416.0M47.0 412.1L46.1 416.0M56.4 421.0L55.9 416.0M64.2 411.2L63.1 416.0M64.4 419.9L63.6 416.0M37.1 427.9L37.1 425.7M37.1 427.9L40.0 426.9M40.0 426.9L43.0 426.8M43.0 426.8L45.8 427.3M45.8 427.3L48.2 426.8M48.2 426.8L48.2 429.2M48.2 426.8L51.0 426.8M51.0 426.8L53.8 427.9M53.8 427.9L56.2 428.3M56.2 428.3L59.1 427.1M59.1 427.1L61.8 427.3M61.8 427.3L64.4 426.6M64.4 426.6L67.2 426.5M67.2 426.5L69.6 426.4M69.6 426.4L72.2 428.4M72.2 428.4L75.0 426.8M38.7 431.4L41.2 429.8M41.2 429.8L41.2 432.3M41.2 429.8L43.8 430.0M43.8 430.0L46.7 430.9M46.7 430.9L49.4 431.6M49.4 431.6L52.0 430.5M52.0 430.5L54.6 431.4M54.6 431.4L57.3 431.3M57.3 431.3L60.1 430.9M60.1 430.9L62.8 429.6M62.8 429.6L65.6 429.6M65.6 429.6L65.6 427.0M65.6 429.6L68.7 430.2M68.7 430.2L71.7 429.8M66.9 423.9L68.2 429.0M54.6 424.4L53.6 429.0M63.3 432.6L63.3 429.0M51.9 433.2L52.8 429.0M38.3 424.7L37.4 429.0M74.4 425.0L75.2 429.0M42.2 439.0L42.2 436.6M42.2 439.0L45.0 439.5M45.0 439.5L47.5 439.5M47.5 439.5L50.5 440.1M50.5 440.1L53.1 439.9M53.1 439.9L55.5 440.2M55.5 440.2L58.3 439.6M58.3 439.6L61.0 439.9M61.0 439.9L63.3 439.2M63.3 439.2L65.8 439.8M65.8 439.8L68.4 439.1M68.4 439.1L70.7 439.0M43.0 443.0L45.4 442.2M45.4 442.2L45.4 444.3M45.4 442.2L47.9 443.0M47.9 443.0L50.5 442.2M50.5 442.2L53.0 441.9M53.0 441.9L55.7 442.5M55.7 442.5L55.7 440.3M55.7 442.5L58.1 442.9M58.1 442.9L60.7 443.0M60.7 443.0L63.6 441.7M63.6 441.7L66.3 441.6M66.3 441.6L69.1 443.0M69.1 443.0L71.6 443.2M51.5 436.0L53.1 441.0M64.0 445.7L64.2 441.0M51.2 436.8L52.0 441.0M63.9 436.1L65.2 441.0M60.9 444.6L62.0 441.0M21.0 450.4L23.6 450.4M23.6 450.4L23.6 447.8M23.6 450.4L26.6 449.7M26.6 449.7L29.3 450.1M29.3 450.1L32.2 450.5M32.2 450.5L32.2 453.5M32.2 450.5L34.8 450.1M34.8 450.1L37.4 450.3M37.4 450.3L40.0 450.8M40.0 450.8L42.8 451.2M42.8 451.2L45.9 451.4M45.9 451.4L48.5 449.6M48.5 449.6L51.6 451.3M51.6 451.3L51.6 449.0M51.6 451.3L54.6 450.8M54.6 450.8L57.7 450.2M57.7 450.2L60.1 451.4M60.1 451.4L63.2 449.7M63.2 449.7L66.1 451.1M23.6 452.7L26.5 454.3M26.5 454.3L29.1 453.6M29.1 453.6L32.0 454.1M32.0 454.1L35.1 453.1M35.1 453.1L37.9 453.4M37.9 453.4L40.8 454.2M40.8 454.2L43.2 453.8M43.2 453.8L43.2 451.4M43.2 453.8L45.6 454.3M45.6 454.3L48.4 453.0M48.4 453.0L51.2 454.5M51.2 454.5L51.2 457.6M51.2 454.5L54.2 453.2M54.2 453.2L54.2 455.3M54.2 453.2L56.5 453.8M56.5 453.8L59.2 453.3M59.2 453.3L61.9 454.4M61.9 454.4L64.3 453.3M59.0 455.8L57.4 452.0M43.0 456.8L41.2 452.0M59.4 456.2L60.5 452.0M57.6 447.1L56.6 452.0M31.1 456.9L30.4 452.0M21.1 446.7L22.7 452.0M55.6 446.8L55.0 452.0M14.5 461.3L17.2 460.5M17.2 460.5L20.2 461.2M20.2 461.2L22.7 461.3M22.7 461.3L25.6 460.0M25.6 460.0L28.6 460.9M28.6 460.9L28.6 463.4M28.6 460.9L31.1 461.1M31.1 461.1L33.9 460.6M33.9 460.6L36.7 460.3M36.7 460.3L39.4 460.1M39.4 460.1L41.8 461.1M41.8 461.1L44.6 460.7M44.6 460.7L44.6 458.2M44.6 460.7L47.3 459.7M47.3 459.7L47.3 461.9M47.3 459.7L49.9 459.8M49.9 459.8L52.7 459.6M52.7 459.6L55.1 460.0M55.1 460.0L57.5 459.5M57.5 459.5L59.9 461.0M59.9 461.0L63.0 460.1M17.0 462.8L20.0 463.0M20.0 463.0L22.9 463.4M22.9 463.4L26.0 463.8M26.0 463.8L28.7 464.1M28.7 464.1L31.1 464.5M31.1 464.5L33.9 464.1M33.9 464.1L36.5 463.4M36.5 463.4L39.2 462.7M39.2 462.7L41.8 463.5M41.8 463.5L44.1 464.5M44.1 464.5L46.9 464.3M46.9 464.3L49.5 463.0M49.5 463.0L51.9 463.7M51.9 463.7L54.2 463.4M54.2 463.4L54.2 466.3M54.2 463.4L56.7 463.0M56.7 463.0L59.8 463.5M59.8 463.5L62.2 464.2M51.1 457.9L49.3 462.0M32.4 458.4L31.3 462.0M15.1 456.8L16.9 462.0M54.1 457.5L56.1 462.0M56.5 457.5L55.6 462.0M44.0 458.2L44.3 462.0M42.0 466.3L42.3 462.0M62.1 457.9L63.3 462.0M12.9 469.7L12.9 471.7M12.9 469.7L15.3 470.5M15.3 470.5L18.2 469.6M18.2 469.6L20.6 469.8M20.6 469.8L23.3 470.2M23.3 470.2L26.3 470.4M26.3 470.4L29.1 471.4M29.1 471.4L31.8 469.6M31.8 469.6L31.8 466.9M31.8 469.6L34.5 471.3M34.5 471.3L37.2 470.4M37.2 470.4L39.8 470.7M39.8 470.7L42.8 469.9M42.8 469.9L42.8 466.9M42.8 469.9L45.9 470.9M45.9 470.9L48.9 470.2M48.9 470.2L52.0 470.0M52.0 470.0L54.4 471.1M54.4 471.1L56.7 469.5M56.7 469.5L59.2 471.0M14.0 472.7L16.5 473.0M16.5 473.0L19.6 474.4M19.6 474.4L22.6 473.4M22.6 473.4L25.4 474.2M25.4 474.2L28.5 473.6M28.5 473.6L31.6 473.4M31.6 473.4L34.3 474.1M34.3 474.1L34.3 471.1M34.3 474.1L36.7 473.9M36.7 473.9L39.0 473.2M39.0 473.2L41.5 472.8M41.5 472.8L44.5 473.8M44.5 473.8L47.4 473.7M47.4 473.7L49.7 473.1M49.7 473.1L52.5 472.9M52.5 472.9L52.5 470.4M52.5 472.9L54.8 473.4M54.8 473.4L54.8 475.9M54.8 473.4L57.3 473.2M57.3 473.2L60.0 474.4M60.0 474.4L60.0 471.7M53.5 467.8L52.0 472.0M28.3 467.9L26.6 472.0M30.0 467.4L30.8 472.0M31.5 468.4L33.1 472.0M13.1 467.0L12.7 472.0M16.7 468.3L18.3 472.0M29.7 477.1L31.7 472.0M55.4 467.9L53.9 472.0M8.5 481.4L11.0 482.5M11.0 482.5L11.0 485.1M11.0 482.5L13.8 483.0M13.8 483.0L13.8 480.2M13.8 483.0L16.7 481.5M16.7 481.5L19.2 483.0M19.2 483.0L19.2 480.9M19.2 483.0L22.2 482.0M22.2 482.0L25.0 482.3M25.0 482.3L25.0 480.0M25.0 482.3L27.7 482.3M27.7 482.3L27.7 485.3M27.7 482.3L30.5 482.3M30.5 482.3L33.1 481.6M33.1 481.6L35.7 482.1M35.7 482.1L38.6 481.7M38.6 481.7L41.4 482.9M41.4 482.9L41.4 480.7M41.4 482.9L43.8 481.5M43.8 481.5L43.8 484.5M43.8 481.5L46.5 482.7M46.5 482.7L49.1 481.7M49.1 481.7L52.1 481.6M52.1 481.6L52.1 478.6M52.1 481.6L55.1 482.1M55.1 482.1L57.9 482.9M57.9 482.9L57.9 480.0M10.8 485.7L13.4 484.8M13.4 484.8L16.2 485.1M16.2 485.1L19.1 486.3M19.1 486.3L21.6 486.2M21.6 486.2L24.7 484.7M24.7 484.7L27.7 485.8M27.7 485.8L30.6 485.7M30.6 485.7L30.6 482.9M30.6 485.7L33.2 485.3M33.2 485.3L35.6 485.7M35.6 485.7L38.6 486.3M38.6 486.3L41.6 485.3M41.6 485.3L44.5 485.5M44.5 485.5L47.6 486.5M47.6 486.5L47.6 484.4M47.6 486.5L50.3 485.6M50.3 485.6L52.9 484.9M52.9 484.9L55.5 486.0M55.5 486.0L55.5 488.0M26.8 480.0L24.8 484.0M35.6 488.7L33.8 484.0M55.4 480.5L54.8 484.0M25.5 479.6L25.2 484.0M52.5 480.0L51.2 484.0M28.7 478.5L28.1 484.0M40.1 488.2L38.4 484.0M28.3 478.9L27.9 484.0M14.8 493.2L17.7 491.7M17.7 491.7L20.2 492.0M20.2 492.0L22.7 492.3M22.7 492.3L25.5 493.2M25.5 493.2L28.6 492.6M28.6 492.6L31.1 491.7M31.1 491.7L34.0 493.0M34.0 493.0L36.9 492.3M36.9 492.3L39.4 493.3M39.4 493.3L41.9 492.3M41.9 492.3L44.9 492.2M44.9 492.2L47.2 492.8M47.2 492.8L47.2 495.3M47.2 492.8L49.7 491.6M49.7 491.6L49.7 493.7M49.7 491.6L52.4 492.3M16.9 495.5L19.4 494.7M19.4 494.7L22.4 496.0M22.4 496.0L22.4 498.4M22.4 496.0L25.4 495.0M25.4 495.0L28.0 496.6M28.0 496.6L30.6 495.6M30.6 495.6L33.0 494.9M33.0 494.9L35.7 496.1M35.7 496.1L38.8 495.5M38.8 495.5L41.6 495.0M41.6 495.0L44.5 496.3M44.5 496.3L46.8 496.2M46.8 496.2L46.8 498.2M46.8 496.2L49.5 495.7M49.5 495.7L52.0 495.5M24.2 490.2L23.0 494.0M35.3 489.2L37.2 494.0M33.7 497.9L33.9 494.0M27.1 498.5L26.1 494.0M49.8 498.6L48.4 494.0M39.5 499.4L41.4 494.0M21.4 504.2L24.2 503.4M24.2 503.4L24.2 500.7M24.2 503.4L26.8 502.4M26.8 502.4L26.8 505.4M26.8 502.4L29.4 503.9M29.4 503.9L31.8 503.9M31.8 503.9L34.6 502.8M34.6 502.8L37.5 502.6M37.5 502.6L39.9 504.1M39.9 504.1L42.3 503.7M42.3 503.7L42.3 501.3M42.3 503.7L44.6 503.4M44.6 503.4L47.0 503.5M47.0 503.5L49.7 504.0M49.7 504.0L52.1 503.6M52.1 503.6L54.5 503.6M23.5 506.9L25.9 505.8M25.9 505.8L28.7 507.4M28.7 507.4L31.7 506.7M31.7 506.7L34.6 506.2M34.6 506.2L37.2 506.0M37.2 506.0L39.8 505.8M39.8 505.8L42.2 505.9M42.2 505.9L45.0 506.5M45.0 506.5L47.5 506.5M47.5 506.5L50.1 506.6M50.1 506.6L52.5 506.1M44.8 510.2L46.8 505.0M47.8 508.8L47.4 505.0M31.7 499.7L31.8 505.0M45.0 508.9L43.6 505.0M54.8 509.4L53.4 505.0M21.2 509.1L24.0 510.3M24.0 510.3L26.8 508.7M26.8 508.7L29.2 509.0M29.2 509.0L32.1 508.7M32.1 508.7L34.7 509.6M34.7 509.6L34.7 512.0M34.7 509.6L37.5 509.0M37.5 509.0L40.0 508.7M40.0 508.7L42.9 510.4M42.9 510.4L42.9 507.3M42.9 510.4L46.0 510.3M46.0 510.3L49.1 509.9M49.1 509.9L51.7 509.0M51.7 509.0L54.4 509.7M54.4 509.7L56.9 508.9M22.7 513.5L22.7 511.4M22.7 513.5L25.6 512.7M25.6 512.7L28.2 512.8M28.2 512.8L30.7 512.9M30.7 512.9L30.7 510.7M30.7 512.9L33.2 511.9M33.2 511.9L35.8 511.7M35.8 511.7L38.9 513.2M38.9 513.2L41.9 513.1M41.9 513.1L44.5 512.2M44.5 512.2L47.6 512.7M47.6 512.7L50.0 511.7M50.0 511.7L50.0 508.5M50.0 511.7L52.4 513.0M52.4 513.0L55.4 513.2M26.7 506.0L28.3 511.0M37.2 507.3L37.8 511.0M43.7 505.6L43.6 511.0M57.4 506.0L59.4 511.0M43.7 515.5L44.8 511.0M46.5 516.3L47.2 511.0M17.5 519.6L20.1 520.5M20.1 520.5L22.9 520.5M22.9 520.5L25.3 520.0M25.3 520.0L28.2 519.9M28.2 519.9L28.2 516.8M28.2 519.9L31.1 520.5M31.1 520.5L33.8 521.1M33.8 521.1L36.4 520.5M36.4 520.5L38.8 519.6M38.8 519.6L41.8 519.6M41.8 519.6L44.5 519.6M44.5 519.6L44.5 517.2M44.5 519.6L47.4 519.7M47.4 519.7L50.2 521.1M50.2 521.1L50.2 518.3M50.2 521.1L53.2 520.7M53.2 520.7L55.7 519.9M55.7 519.9L58.7 519.5M58.7 519.5L61.6 521.3M61.6 521.3L64.0 520.0M64.0 520.0L66.6 520.8M18.7 522.9L21.1 522.7M21.1 522.7L23.5 522.7M23.5 522.7L26.5 524.1M26.5 524.1L29.6 523.6M29.6 523.6L32.7 523.7M32.7 523.7L35.7 523.1M35.7 523.1L38.4 522.7M38.4 522.7L40.9 523.3M40.9 523.3L43.5 524.4M43.5 524.4L46.1 523.1M46.1 523.1L49.1 524.0M49.1 524.0L52.2 523.1M52.2 523.1L54.7 522.9M54.7 522.9L57.6 522.6M57.6 522.6L60.0 522.7M60.0 522.7L60.0 519.9M60.0 522.7L63.0 522.9M63.0 522.9L65.9 524.0M59.3 526.6L60.5 522.0M34.0 516.7L35.3 522.0M42.5 527.4L41.8 522.0M41.1 526.7L41.2 522.0M34.5 517.0L35.5 522.0M27.8 527.3L27.9 522.0M57.7 517.5L59.2 522.0M48.9 516.7L47.2 522.0M18.7 531.8L21.3 533.3M21.3 533.3L21.3 530.2M21.3 533.3L24.0 532.6M24.0 532.6L27.0 532.0M27.0 532.0L29.4 531.5M29.4 531.5L31.9 532.6M31.9 532.6L31.9 530.5M31.9 532.6L34.8 532.7M34.8 532.7L34.8 535.0M34.8 532.7L37.4 533.2M37.4 533.2L40.0 533.1M40.0 533.1L42.4 532.9M42.4 532.9L45.0 533.0M45.0 533.0L45.0 535.8M45.0 533.0L47.7 533.1M47.7 533.1L50.8 533.2M50.8 533.2L53.4 532.9M53.4 532.9L56.5 531.6M56.5 531.6L59.5 532.6M59.5 532.6L62.4 531.8M62.4 531.8L62.4 534.2M62.4 531.8L64.9 531.5M64.9 531.5L64.9 529.0M64.9 531.5L67.5 531.5M67.5 531.5L70.1 532.5M18.1 535.9L18.1 532.8M18.1 535.9L20.6 535.4M20.6 535.4L23.1 534.9M23.1 534.9L25.6 536.3M25.6 536.3L28.4 536.1M28.4 536.1L31.3 534.9M31.3 534.9L31.3 537.6M31.3 534.9L33.9 535.5M33.9 535.5L36.7 536.5M36.7 536.5L39.7 534.8M39.7 534.8L42.5 536.0M42.5 536.0L45.0 535.9M45.0 535.9L47.7 535.4M47.7 535.4L50.0 535.9M50.0 535.9L52.4 535.0M52.4 535.0L55.1 536.2M55.1 536.2L58.1 536.0M58.1 536.0L60.8 536.6M60.8 536.6L60.8 533.8M60.8 536.6L63.5 535.4M63.5 535.4L65.8 535.1M65.8 535.1L68.1 536.3M47.5 539.3L47.7 534.0M20.9 528.6L22.4 534.0M50.6 528.9L52.3 534.0M70.9 539.2L69.1 534.0M52.8 529.3L50.9 534.0M56.0 538.3L56.1 534.0M62.3 530.3L62.0 534.0M29.6 537.5L31.4 534.0M46.3 528.7L44.4 534.0M21.3 411.6L20.6 414.3M30.8 412.8L28.7 414.7M20.2 402.5L22.9 403.5M12.0 410.9L10.1 413.0M22.1 400.7L21.3 403.4M26.7 414.8L28.5 417.0M19.9 416.3L19.4 419.0M17.5 415.6L20.0 416.9M24.2 416.3L27.0 416.0M22.1 408.8L19.4 408.2M21.8 408.7L19.7 406.8M15.1 403.8L14.4 401.1M22.1 417.1L19.4 416.3M17.3 407.0L20.0 406.2M17.9 403.2L20.4 401.8M26.7 413.0L24.6 411.3M21.7 409.1L22.7 411.7M20.1 407.5L18.0 409.4M29.4 413.8L29.0 411.0M12.6 409.7L9.9 410.5M30.6 404.4L28.0 403.2M15.5 409.1L18.2 408.3M16.2 413.7L17.3 411.1M20.1 402.7L22.2 404.6M18.3 400.6L20.0 398.5M31.2 404.8L28.4 404.4M24.4 407.9L26.9 409.1M18.8 413.5L16.1 412.7M30.9 407.9L28.5 409.3M27.7 407.7L26.6 405.1M30.0 412.8L32.6 411.6M11.6 411.4L14.1 410.2M29.2 410.0L28.2 407.4M27.6 403.2L29.8 401.5M17.2 403.0L15.4 405.1M67.7 401.6L64.9 401.8M73.4 398.4L75.8 397.0M71.4 403.5L71.4 400.7M74.3 400.0L73.1 397.5M80.4 421.0L80.2 418.2M68.3 414.2L70.3 412.3M77.2 417.3L79.1 419.3M78.0 423.8L80.5 425.1M75.7 413.0L76.2 415.8M71.5 405.0L73.1 407.4M81.8 407.2L84.3 408.5M79.6 413.9L78.0 416.2M65.1 410.3L65.0 413.1M78.8 420.5L78.8 417.7M67.6 416.9L69.8 415.1M81.8 417.4L79.0 417.5M73.6 415.8L72.3 418.3M74.6 411.5L72.2 410.1M76.0 399.2L77.9 401.2M76.5 422.5L73.9 423.4M75.9 402.2L74.4 399.8M71.4 420.5L71.7 423.3M69.3 418.9L71.4 417.1M68.2 420.4L66.9 422.8M76.9 406.4L74.6 404.8M78.7 418.4L80.4 420.6M74.9 408.4L74.0 405.7M67.1 410.7L67.2 413.5M78.5 411.1L75.9 410.2M67.8 411.4L66.8 414.0M65.4 411.7L68.2 411.6M69.7 417.4L68.7 420.0M72.4 424.0L74.7 425.6M73.1 410.7L72.6 407.9M74.7 416.3L73.5 413.8M77.4 423.8L76.5 421.1M78.9 451.8L76.7 453.5M74.9 446.3L77.7 446.3M74.6 465.7L76.7 467.4M72.5 464.4L70.1 463.0M78.8 450.7L81.4 451.8M81.7 456.4L82.6 453.7M74.2 446.8L73.1 444.2M81.2 468.3L78.7 469.7M75.1 464.0L72.4 463.2M76.3 451.4L74.3 453.4M74.7 448.2L76.1 445.7M80.8 467.7L82.9 465.9M79.6 458.8L82.2 459.8M80.7 461.2L82.9 463.0M77.7 476.3L78.9 478.8M72.5 464.7L73.4 462.1M81.8 467.0L79.6 468.7M74.8 472.9L73.3 475.2M78.2 468.8L77.2 466.2M74.5 464.0L75.9 466.4M73.8 477.1L76.4 476.1M68.5 453.3L67.0 450.9M80.4 453.1L82.1 455.3M75.2 475.5L76.7 477.8M75.5 453.2L78.3 452.8M71.5 459.3L70.6 462.0M73.8 473.7L73.7 470.9M71.2 457.0L73.9 457.6M68.5 464.4L70.6 466.3M80.1 473.3L78.3 471.2M82.1 461.0L84.5 459.5M80.4 451.4L82.8 450.1M72.5 465.6L74.7 467.3M6.3 456.5L6.1 453.7M9.4 477.1L11.9 478.4M16.2 453.7L18.1 455.7M14.5 481.7L17.3 481.4M19.4 471.3L21.4 469.3M3.5 468.8L5.8 470.4M13.9 476.7L16.2 478.3M16.6 457.0L19.3 456.4M5.2 462.5L7.9 463.2M17.5 483.9L15.3 482.1M12.7 468.3L12.3 471.1M7.8 470.7L8.6 468.0M15.7 478.2L18.0 479.8M14.2 468.7L16.9 469.4M4.3 477.7L7.1 477.9M14.4 467.3L16.5 465.4M18.1 472.9L19.2 475.4M16.8 481.9L18.2 484.3M7.3 452.4L10.1 452.6M6.5 479.5L6.2 476.7M18.4 454.6L21.0 453.7M13.7 466.0L11.8 468.1M19.9 482.1L18.0 480.0M2.5 474.9L5.2 474.3M9.0 455.5L11.8 454.8M6.1 482.7L5.3 485.4M6.6 466.5L5.5 463.9M5.9 457.7L6.9 460.3M17.6 468.7L15.3 467.2M20.1 477.6L17.5 478.6M7.1 466.7L9.4 468.2M8.5 462.6L5.8 462.1M9.2 476.5L9.2 473.7M18.9 468.5L18.1 465.8M11.9 462.0L11.5 459.2M17.3 466.1L14.8 464.8M5.2 479.6L7.9 479.1M10.4 478.9L10.0 481.7M16.1 457.1L18.2 459.0M5.5 476.7L3.4 478.6M5.2 454.3L7.4 452.6M8.3 457.7L6.8 460.1M35.2 504.1L33.9 506.5M36.1 502.4L35.2 505.0M23.3 499.7L23.1 502.5M32.6 505.3L30.3 503.8M31.5 496.4L33.8 494.9M31.9 497.9L31.2 500.6M30.9 504.0L33.5 505.2M35.8 504.9L33.4 503.5M25.9 501.0L23.9 503.0M34.6 495.8L36.3 493.6M33.0 505.9L31.8 503.4M38.6 502.9L39.5 505.6M38.1 496.6L35.5 497.7M32.7 499.6L35.3 498.6M31.6 497.3L29.4 495.6M30.4 494.9L31.7 497.4M30.0 504.7L27.7 503.1M19.9 498.6L17.4 497.5M31.1 497.5L32.5 499.9M32.8 497.5L31.8 500.2M33.4 504.0L30.7 503.3M24.0 502.5L24.8 505.2M28.6 497.4L26.0 498.4M25.1 500.0L22.3 500.2M40.4 502.1L42.4 500.2M22.3 498.5L19.5 498.2M30.3 505.1L29.7 507.8M23.5 495.9L25.3 493.8M9.7 511.3L12.3 510.2M2.9 522.6L2.1 519.9M12.4 517.1L11.0 519.5M16.0 517.4L15.9 514.6M3.7 504.7L6.2 505.9M8.0 505.1L10.8 505.2M8.1 514.6L6.6 516.9M5.5 502.4L3.8 500.1M9.7 503.9L7.0 504.4M11.6 505.7L10.7 503.1M3.2 521.1L4.3 518.6M13.8 506.9L11.2 507.9M15.4 511.2L16.7 508.8M10.4 525.5L10.6 522.7M14.9 519.7L14.9 516.9M9.9 520.8L7.5 519.3M3.7 520.0L6.4 519.4M8.6 514.0L5.9 514.8M7.4 518.2L7.2 515.4M4.9 511.5L6.7 509.5M7.4 516.1L5.1 517.5M17.2 508.5L17.0 505.7M12.6 512.5L13.9 510.1M3.8 508.1L6.4 509.1M8.6 525.7L11.3 524.7M9.9 503.2L7.2 502.3M12.4 503.9L10.4 502.0M12.8 523.2L13.8 520.5M8.2 515.8L10.9 516.7M64.5 525.2L67.2 524.8M69.4 520.8L70.5 523.3M68.7 522.2L67.0 519.9M66.8 522.9L64.0 522.7M69.5 540.5L68.3 543.0M64.1 528.8L66.5 527.3M67.5 523.7L70.3 523.7M74.0 539.6L76.5 538.4M68.2 529.5L68.9 532.2M78.2 532.3L79.3 529.7M63.8 529.7L61.3 528.5M74.0 521.6L76.2 523.3M62.3 524.8L65.1 525.2M77.7 525.7L80.5 525.6M67.8 539.0L66.6 536.5M65.5 536.0L64.4 538.6M64.0 531.4L66.2 533.1M74.1 531.0L75.8 528.8M71.5 534.8L73.6 533.0M74.8 535.8L75.4 538.5M63.0 530.4L64.1 527.8M71.2 522.4L70.1 519.8M71.3 525.9L70.2 523.3M67.4 528.8L66.7 531.5M76.7 532.8L76.7 535.6M68.7 528.7L68.3 526.0M66.7 533.8L68.2 536.1M66.0 534.3L67.0 536.9M70.8 534.1L69.3 536.5M72.4 527.6L70.1 525.9M64.3 530.1L65.7 532.5M43.4 469.3L40.8 470.2M47.5 467.4L45.0 468.5M53.5 464.6L51.0 465.6M46.4 472.8L43.6 472.3M51.6 469.5L52.9 472.0M49.0 471.8L51.4 470.4M49.1 475.5L51.4 477.1M45.4 468.7L45.0 465.9M46.9 472.9L45.0 470.9M43.5 469.2L42.4 466.6M51.7 474.8L53.3 477.1M52.7 441.8L50.0 441.1M63.9 441.6L64.4 444.3M51.1 436.9L49.9 439.4M54.0 446.9L53.5 444.2M62.8 440.8L65.5 441.6M52.7 437.7L55.5 437.4M60.6 440.5L59.0 438.2M57.6 438.9L57.6 441.7M54.7 438.1L52.2 436.7M60.4 447.1L62.4 445.1M57.7 439.6L56.1 441.9M59.2 438.0L56.5 438.5M60.1 433.2L59.5 430.5M55.2 445.3L52.7 446.5M30.4 509.4L28.7 511.7M39.4 524.1L37.7 526.3M29.3 530.8L29.1 528.0M30.6 524.7L33.1 526.0M39.7 523.7L37.7 521.7M20.2 515.3L17.5 514.7M37.9 528.7L35.8 526.9M54.8 517.0L52.3 515.8M47.4 520.8L47.7 518.0M36.1 526.6L33.4 525.8M48.9 512.5L46.3 513.5M35.5 512.6L32.7 512.8M37.1 516.8L38.4 514.4M58.4 522.1L60.4 520.1M35.1 517.4L32.5 516.4M49.4 509.2L47.4 511.2M23.9 519.4L23.6 516.6M32.6 515.0L35.4 514.5M38.9 524.9L39.6 522.2M45.8 531.4L43.0 531.2M60.7 519.7L63.4 519.1M44.1 525.4L42.5 523.0M60.6 514.8L60.0 517.5M54.1 510.5L51.4 509.5M51.2 524.0L48.7 525.3M44.6 420.9L43.5 418.3M55.7 426.7L57.2 429.0M57.5 420.9L54.7 420.8M55.0 423.9L54.1 421.3M36.9 429.0L36.7 426.2M32.6 422.6L34.4 424.8M37.6 431.7L35.4 433.3M54.5 421.6L57.3 422.1M61.2 421.6L58.5 421.2"/>
<path fill="none" stroke="#dcdcdc" stroke-width="1.80" stroke-linecap="round" d="M20.0 399.9h0M23.5 406.4h0M40.8 407.0h0M59.2 400.3h0M62.5 400.7h0M67.8 399.9h0M23.6 404.6h0M54.6 409.5h0M41.8 409.7h0M35.2 409.7h0M42.4 416.8h0M59.1 411.9h0M61.8 417.5h0M67.8 411.7h0M56.7 421.3h0M69.4 419.9h0M56.4 421.0h0M37.1 425.7h0M47.6 429.2h0M40.7 432.3h0M65.4 427.0h0M63.3 432.6h0M38.3 424.7h0M41.3 436.6h0M44.7 444.3h0M56.5 440.3h0M51.5 436.0h0M51.2 436.8h0M23.8 447.8h0M31.3 453.5h0M52.2 449.0h0M42.4 451.4h0M52.0 457.6h0M53.6 455.3h0M59.0 455.8h0M57.6 447.1h0M55.6 446.8h0M28.0 463.4h0M45.6 458.2h0M47.0 461.9h0M54.9 466.3h0M51.1 457.9h0M32.4 458.4h0M62.1 457.9h0M12.1 471.7h0M31.2 466.9h0M42.0 466.9h0M34.4 471.1h0M52.6 470.4h0M54.3 475.9h0M60.4 471.7h0M10.5 485.1h0M14.0 480.2h0M19.1 480.9h0M25.0 480.0h0M27.2 485.3h0M41.4 480.7h0M43.5 484.5h0M51.5 478.6h0M58.1 480.0h0M29.7 482.9h0M47.6 484.4h0M56.2 488.0h0M26.8 480.0h0M55.4 480.5h0M28.3 478.9h0M47.6 495.3h0M50.5 493.7h0M21.9 498.4h0M47.3 498.2h0M24.2 490.2h0M23.9 500.7h0M27.3 505.4h0M42.9 501.3h0M34.1 512.0h0M43.3 507.3h0M21.9 511.4h0M31.6 510.7h0M49.5 508.5h0M57.4 506.0h0M28.2 516.8h0M43.6 517.2h0M50.8 518.3h0M60.2 519.9h0M34.5 517.0h0M22.0 530.2h0M31.9 530.5h0M34.2 535.0h0M44.3 535.8h0M62.8 534.2h0M64.7 529.0h0M18.9 532.8h0M31.1 537.6h0M61.0 533.8h0M47.5 539.3h0M70.9 539.2h0M29.6 537.5h0M46.3 528.7h0M19.9 416.3h0M26.6 401.8h0M17.5 415.6h0M22.1 408.8h0M30.6 404.4h0M15.5 409.1h0M20.1 402.7h0M30.9 407.9h0M27.7 407.7h0M67.7 401.6h0M76.2 418.5h0M75.9 402.2h0M71.4 420.5h0M74.9 408.4h0M81.3 413.8h0M74.4 456.5h0M79.9 463.4h0M81.7 456.4h0M80.5 453.1h0M75.1 464.0h0M67.6 457.6h0M82.3 452.4h0M74.8 472.9h0M75.5 453.2h0M71.2 457.0h0M9.4 477.1h0M3.5 468.8h0M7.8 470.7h0M14.2 468.7h0M16.8 481.9h0M18.4 454.6h0M18.3 464.1h0M19.9 482.1h0M8.5 462.6h0M5.2 479.6h0M9.7 467.9h0M10.8 481.5h0M32.6 505.3h0M33.0 505.9h0M33.4 504.0h0M40.4 502.1h0M9.7 511.3h0M8.0 505.1h0M9.7 503.9h0M15.3 511.5h0M1.2 515.7h0M12.6 512.5h0M8.6 525.7h0M11.5 509.9h0M67.5 523.7h0M63.8 529.7h0M77.7 525.7h0M74.1 531.0h0M74.8 535.8h0M71.3 525.9h0M68.7 528.7h0M49.0 471.8h0M57.7 439.6h0M55.2 445.3h0M54.8 517.0h0M37.1 516.8h0M60.6 514.8h0M32.6 420.2h0M54.5 421.6h0M61.2 421.6h0"/>
<path fill="none" stroke="#a2a2a2" stroke-width="2.90" stroke-linecap="round" d="M17.9 403.7h0M27.9 402.8h0M30.6 402.8h0M38.4 404.2h0M41.0 404.2h0M46.4 402.8h0M54.5 402.4h0M59.4 402.7h0M64.7 403.2h0M70.0 402.7h0M20.2 406.5h0M25.6 407.5h0M31.0 406.6h0M39.3 405.9h0M52.2 406.0h0M62.4 407.1h0M42.3 400.0h0M56.0 399.8h0M42.6 409.8h0M39.9 409.8h0M48.9 410.0h0M31.5 410.0h0M49.7 400.1h0M32.4 409.8h0M35.7 413.4h0M43.4 414.2h0M48.9 414.9h0M59.8 414.3h0M64.5 415.4h0M67.5 414.2h0M39.5 417.2h0M45.1 417.2h0M47.9 416.6h0M56.0 418.1h0M60.9 417.0h0M72.1 416.7h0M58.5 420.8h0M74.9 421.4h0M37.9 420.3h0M47.0 412.1h0M64.2 411.2h0M64.4 419.9h0M43.0 426.8h0M45.8 427.3h0M48.2 426.8h0M53.8 427.9h0M59.1 427.1h0M67.2 426.5h0M69.6 426.4h0M72.2 428.4h0M43.8 430.0h0M46.7 430.9h0M49.4 431.6h0M52.0 430.5h0M57.3 431.3h0M65.6 429.6h0M66.9 423.9h0M54.6 424.4h0M51.9 433.2h0M74.4 425.0h0M47.5 439.5h0M50.5 440.1h0M63.3 439.2h0M65.8 439.8h0M45.4 442.2h0M53.0 441.9h0M55.7 442.5h0M63.6 441.7h0M66.3 441.6h0M64.0 445.7h0M63.9 436.1h0M60.9 444.6h0M29.3 450.1h0M34.8 450.1h0M42.8 451.2h0M48.5 449.6h0M57.7 450.2h0M60.1 451.4h0M23.6 452.7h0M26.5 454.3h0M29.1 453.6h0M32.0 454.1h0M35.1 453.1h0M37.9 453.4h0M40.8 454.2h0M45.6 454.3h0M48.4 453.0h0M56.5 453.8h0M59.2 453.3h0M61.9 454.4h0M64.3 453.3h0M43.0 456.8h0M59.4 456.2h0M31.1 456.9h0M21.1 446.7h0M14.5 461.3h0M17.2 460.5h0M28.6 460.9h0M33.9 460.6h0M41.8 461.1h0M47.3 459.7h0M55.1 460.0h0M59.9 461.0h0M63.0 460.1h0M17.0 462.8h0M20.0 463.0h0M26.0 463.8h0M39.2 462.7h0M44.1 464.5h0M51.9 463.7h0M54.2 463.4h0M59.8 463.5h0M15.1 456.8h0M54.1 457.5h0M56.5 457.5h0M44.0 458.2h0M42.0 466.3h0M31.8 469.6h0M42.8 469.9h0M45.9 470.9h0M48.9 470.2h0M54.4 471.1h0M56.7 469.5h0M59.2 471.0h0M14.0 472.7h0M16.5 473.0h0M28.5 473.6h0M31.6 473.4h0M34.3 474.1h0M36.7 473.9h0M39.0 473.2h0M52.5 472.9h0M57.3 473.2h0M53.5 467.8h0M28.3 467.9h0M30.0 467.4h0M31.5 468.4h0M13.1 467.0h0M16.7 468.3h0M29.7 477.1h0M55.4 467.9h0M8.5 481.4h0M13.8 483.0h0M16.7 481.5h0M35.7 482.1h0M38.6 481.7h0M43.8 481.5h0M46.5 482.7h0M52.1 481.6h0M57.9 482.9h0M16.2 485.1h0M19.1 486.3h0M21.6 486.2h0M27.7 485.8h0M33.2 485.3h0M38.6 486.3h0M44.5 485.5h0M35.6 488.7h0M25.5 479.6h0M52.5 480.0h0M28.7 478.5h0M40.1 488.2h0M20.2 492.0h0M22.7 492.3h0M28.6 492.6h0M36.9 492.3h0M41.9 492.3h0M47.2 492.8h0M49.7 491.6h0M16.9 495.5h0M22.4 496.0h0M25.4 495.0h0M28.0 496.6h0M33.0 494.9h0M38.8 495.5h0M44.5 496.3h0M35.3 489.2h0M33.7 497.9h0M27.1 498.5h0M49.8 498.6h0M39.5 499.4h0M21.4 504.2h0M31.8 503.9h0M34.6 502.8h0M42.3 503.7h0M47.0 503.5h0M52.1 503.6h0M23.5 506.9h0M25.9 505.8h0M28.7 507.4h0M34.6 506.2h0M37.2 506.0h0M47.5 506.5h0M50.1 506.6h0M52.5 506.1h0M44.8 510.2h0M47.8 508.8h0M31.7 499.7h0M45.0 508.9h0M54.8 509.4h0M24.0 510.3h0M29.2 509.0h0M46.0 510.3h0M54.4 509.7h0M22.7 513.5h0M28.2 512.8h0M30.7 512.9h0M35.8 511.7h0M38.9 513.2h0M41.9 513.1h0M44.5 512.2h0M26.7 506.0h0M37.2 507.3h0M43.7 505.6h0M43.7 515.5h0M46.5 516.3h0M20.1 520.5h0M33.8 521.1h0M53.2 520.7h0M66.6 520.8h0M18.7 522.9h0M21.1 522.7h0M26.5 524.1h0M29.6 523.6h0M38.4 522.7h0M40.9 523.3h0M43.5 524.4h0M49.1 524.0h0M52.2 523.1h0M54.7 522.9h0M60.0 522.7h0M59.3 526.6h0M34.0 516.7h0M42.5 527.4h0M41.1 526.7h0M27.8 527.3h0M57.7 517.5h0M48.9 516.7h0M27.0 532.0h0M31.9 532.6h0M37.4 533.2h0M42.4 532.9h0M45.0 533.0h0M47.7 533.1h0M50.8 533.2h0M53.4 532.9h0M70.1 532.5h0M31.3 534.9h0M33.9 535.5h0M36.7 536.5h0M42.5 536.0h0M45.0 535.9h0M47.7 535.4h0M52.4 535.0h0M58.1 536.0h0M60.8 536.6h0M68.1 536.3h0M20.9 528.6h0M50.6 528.9h0M52.8 529.3h0M56.0 538.3h0M62.3 530.3h0M30.9 411.5h0M21.3 411.6h0M30.8 412.8h0M28.8 413.0h0M20.2 402.5h0M12.0 410.9h0M20.6 401.0h0M26.7 414.8h0M24.2 416.3h0M21.8 408.7h0M15.1 403.8h0M23.1 415.2h0M22.1 417.1h0M23.2 400.1h0M17.3 407.0h0M28.7 413.2h0M16.2 414.7h0M26.7 413.0h0M21.7 409.1h0M20.1 407.5h0M29.4 413.8h0M12.6 409.7h0M18.3 400.6h0M13.3 405.4h0M11.6 411.4h0M29.2 410.0h0M17.2 403.0h0M18.5 412.6h0M71.4 403.5h0M74.3 400.0h0M80.4 421.0h0M68.3 414.2h0M77.2 417.3h0M75.7 413.0h0M80.3 422.6h0M79.6 413.9h0M67.6 416.9h0M76.0 399.2h0M76.5 422.5h0M70.9 407.0h0M67.1 419.6h0M67.8 402.8h0M76.9 406.4h0M77.4 424.8h0M79.2 420.0h0M70.6 399.5h0M67.8 411.4h0M65.4 411.7h0M77.8 411.9h0M69.7 417.4h0M72.4 424.0h0M74.7 416.3h0M69.6 415.7h0M77.4 423.8h0M78.9 451.8h0M74.9 446.3h0M72.5 464.4h0M74.2 446.8h0M81.2 468.3h0M82.4 452.0h0M83.2 457.3h0M76.3 451.4h0M74.7 448.2h0M80.8 467.7h0M79.6 458.8h0M80.7 461.2h0M77.7 476.3h0M72.5 464.7h0M78.2 468.8h0M74.5 464.0h0M68.5 453.3h0M80.4 453.1h0M75.2 475.5h0M69.6 452.1h0M71.5 459.3h0M68.9 453.8h0M80.1 473.3h0M82.1 461.0h0M16.2 453.7h0M14.5 481.7h0M13.8 463.2h0M19.4 471.3h0M13.9 476.7h0M16.6 457.0h0M5.2 462.5h0M17.5 483.9h0M3.5 470.9h0M20.6 469.0h0M15.7 478.2h0M4.3 477.7h0M6.5 479.5h0M9.0 478.5h0M2.5 474.9h0M9.0 455.5h0M6.1 482.7h0M10.8 460.8h0M6.6 466.5h0M20.0 455.0h0M20.1 477.6h0M7.1 466.7h0M18.9 468.5h0M11.9 462.0h0M17.3 466.1h0M10.4 478.9h0M5.5 476.7h0M8.3 457.7h0M35.2 504.1h0M36.1 502.4h0M23.3 499.7h0M31.5 496.4h0M31.9 497.9h0M35.8 504.9h0M34.6 495.8h0M36.5 501.4h0M38.6 502.9h0M38.1 496.6h0M33.6 500.6h0M31.1 497.5h0M32.8 497.5h0M24.0 502.5h0M31.3 501.6h0M25.1 500.0h0M3.3 518.6h0M16.0 517.4h0M3.7 504.7h0M8.1 514.6h0M5.5 502.4h0M11.6 505.7h0M13.8 506.9h0M15.4 511.2h0M10.4 525.5h0M7.8 525.3h0M9.9 520.8h0M3.7 520.0h0M7.4 518.2h0M15.6 507.9h0M4.9 511.5h0M7.4 516.1h0M17.2 508.5h0M3.9 513.1h0M0.7 511.9h0M9.9 503.2h0M12.8 523.2h0M74.9 528.2h0M64.5 525.2h0M69.4 520.8h0M68.7 522.2h0M66.8 522.9h0M69.5 540.5h0M74.0 539.6h0M68.2 529.5h0M68.6 528.4h0M64.4 527.1h0M65.0 537.3h0M78.2 532.3h0M72.6 538.8h0M74.0 521.6h0M62.3 524.8h0M67.8 539.0h0M64.0 531.4h0M71.5 534.8h0M71.2 522.4h0M66.1 532.0h0M74.8 528.4h0M70.8 534.1h0M64.3 530.1h0M43.4 469.3h0M47.5 467.4h0M51.6 469.5h0M49.1 475.5h0M45.4 468.7h0M53.6 472.6h0M51.1 436.9h0M62.0 443.1h0M62.8 440.8h0M52.7 437.7h0M60.6 440.5h0M60.4 447.1h0M60.1 433.2h0M56.0 437.5h0M54.0 440.6h0M30.4 509.4h0M27.0 524.5h0M39.4 524.1h0M29.3 530.8h0M39.7 523.7h0M37.9 528.7h0M47.4 520.8h0M50.4 521.4h0M36.1 526.6h0M35.5 512.6h0M35.1 517.4h0M49.4 509.2h0M23.9 519.4h0M28.7 517.4h0M32.6 515.0h0M49.4 529.5h0M45.8 531.4h0M60.7 519.7h0M44.1 525.4h0M54.1 510.5h0M51.2 524.0h0M44.6 420.9h0M55.7 426.7h0M43.1 430.0h0M46.2 433.0h0M55.0 423.9h0M36.9 429.0h0M32.6 422.6h0M37.6 431.7h0M51.6 426.6h0"/>
<path fill="none" stroke="#6464d6" stroke-width="2.90" stroke-linecap="round" d="M23.2 404.1h0M25.5 403.0h0M33.2 404.2h0M49.3 404.1h0M62.1 403.7h0M67.5 403.0h0M72.4 404.2h0M74.7 404.1h0M23.1 407.0h0M28.2 407.1h0M41.6 405.9h0M44.7 406.8h0M49.7 406.6h0M60.1 406.1h0M72.9 407.3h0M75.6 405.6h0M38.2 414.2h0M40.6 415.2h0M46.3 413.4h0M54.4 414.3h0M56.9 415.1h0M62.1 415.0h0M70.3 413.8h0M72.8 413.6h0M75.2 413.5h0M36.5 416.8h0M50.3 417.3h0M63.7 418.4h0M66.6 417.0h0M37.1 427.9h0M51.0 426.8h0M61.8 427.3h0M41.2 429.8h0M60.1 430.9h0M62.8 429.6h0M53.1 439.9h0M55.5 440.2h0M61.0 439.9h0M68.4 439.1h0M70.7 439.0h0M43.0 443.0h0M47.9 443.0h0M50.5 442.2h0M58.1 442.9h0M71.6 443.2h0M21.0 450.4h0M23.6 450.4h0M26.6 449.7h0M32.2 450.5h0M37.4 450.3h0M45.9 451.4h0M54.6 450.8h0M63.2 449.7h0M43.2 453.8h0M54.2 453.2h0M20.2 461.2h0M22.7 461.3h0M25.6 460.0h0M31.1 461.1h0M39.4 460.1h0M49.9 459.8h0M52.7 459.6h0M57.5 459.5h0M22.9 463.4h0M28.7 464.1h0M31.1 464.5h0M36.5 463.4h0M46.9 464.3h0M49.5 463.0h0M56.7 463.0h0M62.2 464.2h0M12.9 469.7h0M20.6 469.8h0M23.3 470.2h0M26.3 470.4h0M29.1 471.4h0M34.5 471.3h0M39.8 470.7h0M19.6 474.4h0M22.6 473.4h0M25.4 474.2h0M41.5 472.8h0M44.5 473.8h0M47.4 473.7h0M49.7 473.1h0M54.8 473.4h0M60.0 474.4h0M11.0 482.5h0M19.2 483.0h0M22.2 482.0h0M25.0 482.3h0M33.1 481.6h0M41.4 482.9h0M49.1 481.7h0M55.1 482.1h0M13.4 484.8h0M30.6 485.7h0M47.6 486.5h0M50.3 485.6h0M52.9 484.9h0M55.5 486.0h0M14.8 493.2h0M17.7 491.7h0M31.1 491.7h0M52.4 492.3h0M19.4 494.7h0M30.6 495.6h0M35.7 496.1h0M41.6 495.0h0M46.8 496.2h0M26.8 502.4h0M44.6 503.4h0M49.7 504.0h0M54.5 503.6h0M31.7 506.7h0M42.2 505.9h0M21.2 509.1h0M26.8 508.7h0M32.1 508.7h0M34.7 509.6h0M49.1 509.9h0M51.7 509.0h0M56.9 508.9h0M25.6 512.7h0M47.6 512.7h0M55.4 513.2h0M17.5 519.6h0M28.2 519.9h0M31.1 520.5h0M41.8 519.6h0M47.4 519.7h0M55.7 519.9h0M58.7 519.5h0M64.0 520.0h0M23.5 522.7h0M32.7 523.7h0M35.7 523.1h0M46.1 523.1h0M63.0 522.9h0M18.7 531.8h0M21.3 533.3h0M29.4 531.5h0M34.8 532.7h0M40.0 533.1h0M56.5 531.6h0M62.4 531.8h0M64.9 531.5h0M67.5 531.5h0M18.1 535.9h0M25.6 536.3h0M28.4 536.1h0M39.7 534.8h0M55.1 536.2h0M63.5 535.4h0"/>
<path fill="none" stroke="#e67a7a" stroke-width="3.30" stroke-linecap="round" d="M20.8 402.8h0M35.9 403.4h0M43.4 403.8h0M52.0 403.2h0M56.8 403.8h0M77.6 402.5h0M33.5 406.1h0M36.5 407.5h0M47.1 406.5h0M55.2 407.1h0M57.6 405.7h0M64.9 407.0h0M67.4 406.0h0M70.5 406.1h0M51.6 413.6h0M42.2 417.3h0M53.1 417.0h0M58.4 417.9h0M69.6 417.1h0M74.8 417.0h0M40.0 426.9h0M56.2 428.3h0M64.4 426.6h0M75.0 426.8h0M38.7 431.4h0M54.6 431.4h0M68.7 430.2h0M71.7 429.8h0M42.2 439.0h0M45.0 439.5h0M58.3 439.6h0M60.7 443.0h0M69.1 443.0h0M40.0 450.8h0M51.6 451.3h0M66.1 451.1h0M51.2 454.5h0M36.7 460.3h0M44.6 460.7h0M33.9 464.1h0M41.8 463.5h0M15.3 470.5h0M18.2 469.6h0M37.2 470.4h0M52.0 470.0h0M27.7 482.3h0M30.5 482.3h0M10.8 485.7h0M24.7 484.7h0M35.6 485.7h0M41.6 485.3h0M25.5 493.2h0M34.0 493.0h0M39.4 493.3h0M44.9 492.2h0M49.5 495.7h0M52.0 495.5h0M24.2 503.4h0M29.4 503.9h0M37.5 502.6h0M39.9 504.1h0M39.8 505.8h0M45.0 506.5h0M37.5 509.0h0M40.0 508.7h0M42.9 510.4h0M33.2 511.9h0M50.0 511.7h0M52.4 513.0h0M22.9 520.5h0M25.3 520.0h0M36.4 520.5h0M38.8 519.6h0M44.5 519.6h0M50.2 521.1h0M61.6 521.3h0M57.6 522.6h0M65.9 524.0h0M24.0 532.6h0M59.5 532.6h0M20.6 535.4h0M23.1 534.9h0M50.0 535.9h0M65.8 535.1h0M26.5 409.2h0M25.3 407.9h0M20.8 403.3h0M22.1 400.7h0M17.6 401.0h0M23.7 414.0h0M18.8 413.5h0M30.0 412.8h0M73.4 398.4h0M78.0 423.8h0M81.8 407.2h0M65.1 410.3h0M78.8 420.5h0M80.5 407.9h0M81.8 417.4h0M73.6 415.8h0M69.3 418.9h0M66.6 416.9h0M78.7 418.4h0M67.1 410.7h0M78.5 411.1h0M73.5 424.4h0M73.1 410.7h0M74.6 465.7h0M78.8 450.7h0M71.3 474.2h0M70.3 452.8h0M81.8 467.0h0M73.8 477.1h0M73.8 473.7h0M79.3 475.1h0M68.5 464.4h0M77.7 474.1h0M80.4 451.4h0M6.3 456.5h0M3.8 479.7h0M14.4 467.3h0M18.1 472.9h0M7.5 458.3h0M7.3 452.4h0M23.1 464.6h0M5.9 457.7h0M17.6 468.7h0M9.2 476.5h0M12.4 479.8h0M17.0 460.4h0M16.1 457.1h0M5.2 454.3h0M30.9 504.0h0M25.9 501.0h0M32.7 499.6h0M31.6 497.3h0M30.4 494.9h0M25.5 503.8h0M30.0 504.7h0M19.9 498.6h0M38.8 494.5h0M28.6 497.4h0M22.3 498.5h0M33.2 498.5h0M23.5 495.9h0M2.9 522.6h0M12.4 517.1h0M3.2 521.1h0M7.5 514.7h0M14.9 519.7h0M8.6 514.0h0M3.8 508.1h0M9.3 524.6h0M12.4 503.9h0M8.2 515.8h0M64.1 528.8h0M74.1 527.5h0M65.5 536.0h0M63.0 530.4h0M67.4 528.8h0M76.7 532.8h0M76.1 523.4h0M66.0 534.3h0M72.4 527.6h0M53.5 464.6h0M52.9 467.6h0M46.9 472.9h0M43.5 469.2h0M51.7 474.8h0M52.7 441.8h0M55.8 436.2h0M63.9 441.6h0M54.0 446.9h0M57.6 438.9h0M54.7 438.1h0M59.2 438.0h0M20.2 515.3h0M52.7 515.9h0M48.9 512.5h0M58.4 522.1h0M38.9 524.9h0M57.5 420.9h0M40.7 427.7h0M52.3 418.8h0M50.7 417.4h0"/>
<path fill="none" stroke="#e8aa6a" stroke-width="3.60" stroke-linecap="round" d="M17.9 403.2h0M16.2 413.7h0M31.2 404.8h0M24.4 407.9h0M27.6 403.2h0M71.5 405.0h0M74.6 411.5h0M68.2 420.4h0M72.5 465.6h0M12.7 468.3h0M13.7 466.0h0M14.2 450.4h0M3.8 456.3h0M0.5 469.1h0M8.3 465.6h0M30.3 505.1h0M10.8 513.0h0M66.7 533.8h0M46.9 475.2h0M46.4 472.8h0M30.6 524.7h0"/></g>
<g transform="translate(432.0,0)"><path fill="none" stroke="#aaaaaa" stroke-width="0.90" stroke-linecap="round" d="M17.9 403.7L20.8 402.8M20.8 402.8L20.8 399.9M20.8 402.8L23.2 404.1M23.2 404.1L23.2 406.4M23.2 404.1L25.5 403.0M25.5 403.0L27.9 402.8M27.9 402.8L30.6 402.8M30.6 402.8L33.2 404.2M33.2 404.2L35.9 403.4M35.9 403.4L38.4 404.2M38.4 404.2L41.0 404.2M41.0 404.2L41.0 407.0M41.0 404.2L43.4 403.8M43.4 403.8L46.4 402.8M46.4 402.8L49.3 404.1M49.3 404.1L52.0 403.2M52.0 403.2L54.5 402.4M54.5 402.4L56.8 403.8M56.8 403.8L59.4 402.7M59.4 402.7L59.4 400.3M59.4 402.7L62.1 403.7M62.1 403.7L62.1 400.7M62.1 403.7L64.7 403.2M64.7 403.2L67.5 403.0M67.5 403.0L67.5 399.9M67.5 403.0L70.0 402.7M70.0 402.7L72.4 404.2M72.4 404.2L74.7 404.1M74.7 404.1L77.6 402.5M20.2 406.5L23.1 407.0M23.1 407.0L23.1 404.6M23.1 407.0L25.6 407.5M25.6 407.5L28.2 407.1M28.2 407.1L31.0 406.6M31.0 406.6L33.5 406.1M33.5 406.1L36.5 407.5M36.5 407.5L39.3 405.9M39.3 405.9L41.6 405.9M41.6 405.9L44.7 406.8M44.7 406.8L47.1 406.5M47.1 406.5L49.7 406.6M49.7 406.6L52.2 406.0M52.2 406.0L55.2 407.1M55.2 407.1L55.2 409.5M55.2 407.1L57.6 405.7M57.6 405.7L60.1 406.1M60.1 406.1L62.4 407.1M62.4 407.1L64.9 407.0M64.9 407.0L67.4 406.0M67.4 406.0L70.5 406.1M70.5 406.1L72.9 407.3M72.9 407.3L75.6 405.6M42.3 400.0L43.1 405.0M56.0 399.8L56.1 405.0M41.8 409.7L41.8 405.0M42.6 409.8L41.9 405.0M39.9 409.8L38.5 405.0M48.9 410.0L50.6 405.0M31.5 410.0L30.6 405.0M49.7 400.1L49.0 405.0M32.4 409.8L31.3 405.0M35.2 409.7L34.1 405.0M35.7 413.4L38.2 414.2M38.2 414.2L40.6 415.2M40.6 415.2L43.4 414.2M43.4 414.2L43.4 416.8M43.4 414.2L46.3 413.4M46.3 413.4L48.9 414.9M48.9 414.9L51.6 413.6M51.6 413.6L54.4 414.3M54.4 414.3L56.9 415.1M56.9 415.1L59.8 414.3M59.8 414.3L59.8 411.9M59.8 414.3L62.1 415.0M62.1 415.0L62.1 417.5M62.1 415.0L64.5 415.4M64.5 415.4L67.5 414.2M67.5 414.2L67.5 411.7M67.5 414.2L70.3 413.8M70.3 413.8L72.8 413.6M72.8 413.6L75.2 413.5M36.5 416.8L39.5 417.2M39.5 417.2L42.2 417.3M42.2 417.3L45.1 417.2M45.1 417.2L47.9 416.6M47.9 416.6L50.3 417.3M50.3 417.3L53.1 417.0M53.1 417.0L56.0 418.1M56.0 418.1L56.0 421.3M56.0 418.1L58.4 417.9M58.4 417.9L60.9 417.0M60.9 417.0L63.7 418.4M63.7 418.4L66.6 417.0M66.6 417.0L69.6 417.1M69.6 417.1L69.6 419.9M69.6 417.1L72.1 416.7M72.1 416.7L74.8 417.0M58.5 420.8L59.8 416.0M74.9 421.4L73.5 416.0M37.9 420.3L36.9 416.0M47.0 412.1L46.1 416.0M56.4 421.0L55.9 416.0M64.2 411.2L63.1 416.0M64.4 419.9L63.6 416.0M37.1 427.9L37.1 425.7M37.1 427.9L40.0 426.9M40.0 426.9L43.0 426.8M43.0 426.8L45.8 427.3M45.8 427.3L48.2 426.8M48.2 426.8L48.2 429.2M48.2 426.8L51.0 426.8M51.0 426.8L53.8 427.9M53.8 427.9L56.2 428.3M56.2 428.3L59.1 427.1M59.1 427.1L61.8 427.3M61.8 427.3L64.4 426.6M64.4 426.6L67.2 426.5M67.2 426.5L69.6 426.4M69.6 426.4L72.2 428.4M72.2 428.4L75.0 426.8M38.7 431.4L41.2 429.8M41.2 429.8L41.2 432.3M41.2 429.8L43.8 430.0M43.8 430.0L46.7 430.9M46.7 430.9L49.4 431.6M49.4 431.6L52.0 430.5M52.0 430.5L54.6 431.4M54.6 431.4L57.3 431.3M57.3 431.3L60.1 430.9M60.1 430.9L62.8 429.6M62.8 429.6L65.6 429.6M65.6 429.6L65.6 427.0M65.6 429.6L68.7 430.2M68.7 430.2L71.7 429.8M66.9 423.9L68.2 429.0M54.6 424.4L53.6 429.0M63.3 432.6L63.3 429.0M51.9 433.2L52.8 429.0M38.3 424.7L37.4 429.0M74.4 425.0L75.2 429.0M42.2 439.0L42.2 436.6M42.2 439.0L45.0 439.5M45.0 439.5L47.5 439.5M47.5 439.5L50.5 440.1M50.5 440.1L53.1 439.9M53.1 439.9L55.5 440.2M55.5 440.2L58.3 439.6M58.3 439.6L61.0 439.9M61.0 439.9L63.3 439.2M63.3 439.2L65.8 439.8M65.8 439.8L68.4 439.1M68.4 439.1L70.7 439.0M43.0 443.0L45.4 442.2M45.4 442.2L45.4 444.3M45.4 442.2L47.9 443.0M47.9 443.0L50.5 442.2M50.5 442.2L53.0 441.9M53.0 441.9L55.7 442.5M55.7 442.5L55.7 440.3M55.7 442.5L58.1 442.9M58.1 442.9L60.7 443.0M60.7 443.0L63.6 441.7M63.6 441.7L66.3 441.6M66.3 441.6L69.1 443.0M69.1 443.0L71.6 443.2M51.5 436.0L53.1 441.0M64.0 445.7L64.2 441.0M51.2 436.8L52.0 441.0M63.9 436.1L65.2 441.0M60.9 444.6L62.0 441.0M21.0 450.4L23.6 450.4M23.6 450.4L23.6 447.8M23.6 450.4L26.6 449.7M26.6 449.7L29.3 450.1M29.3 450.1L32.2 450.5M32.2 450.5L32.2 453.5M32.2 450.5L34.8 450.1M34.8 450.1L37.4 450.3M37.4 450.3L40.0 450.8M40.0 450.8L42.8 451.2M42.8 451.2L45.9 451.4M45.9 451.4L48.5 449.6M48.5 449.6L51.6 451.3M51.6 451.3L51.6 449.0M51.6 451.3L54.6 450.8M54.6 450.8L57.7 450.2M57.7 450.2L60.1 451.4M60.1 451.4L63.2 449.7M63.2 449.7L66.1 451.1M23.6 452.7L26.5 454.3M26.5 454.3L29.1 453.6M29.1 453.6L32.0 454.1M32.0 454.1L35.1 453.1M35.1 453.1L37.9 453.4M37.9 453.4L40.8 454.2M40.8 454.2L43.2 453.8M43.2 453.8L43.2 451.4M43.2 453.8L45.6 454.3M45.6 454.3L48.4 453.0M48.4 453.0L51.2 454.5M51.2 454.5L51.2 457.6M51.2 454.5L54.2 453.2M54.2 453.2L54.2 455.3M54.2 453.2L56.5 453.8M56.5 453.8L59.2 453.3M59.2 453.3L61.9 454.4M61.9 454.4L64.3 453.3M59.0 455.8L57.4 452.0M43.0 456.8L41.2 452.0M59.4 456.2L60.5 452.0M57.6 447.1L56.6 452.0M31.1 456.9L30.4 452.0M21.1 446.7L22.7 452.0M55.6 446.8L55.0 452.0M14.5 461.3L17.2 460.5M17.2 460.5L20.2 461.2M20.2 461.2L22.7 461.3M22.7 461.3L25.6 460.0M25.6 460.0L28.6 460.9M28.6 460.9L28.6 463.4M28.6 460.9L31.1 461.1M31.1 461.1L33.9 460.6M33.9 460.6L36.7 460.3M36.7 460.3L39.4 460.1M39.4 460.1L41.8 461.1M41.8 461.1L44.6 460.7M44.6 460.7L44.6 458.2M44.6 460.7L47.3 459.7M47.3 459.7L47.3 461.9M47.3 459.7L49.9 459.8M49.9 459.8L52.7 459.6M52.7 459.6L55.1 460.0M55.1 460.0L57.5 459.5M57.5 459.5L59.9 461.0M59.9 461.0L63.0 460.1M17.0 462.8L20.0 463.0M20.0 463.0L22.9 463.4M22.9 463.4L26.0 463.8M26.0 463.8L28.7 464.1M28.7 464.1L31.1 464.5M31.1 464.5L33.9 464.1M33.9 464.1L36.5 463.4M36.5 463.4L39.2 462.7M39.2 462.7L41.8 463.5M41.8 463.5L44.1 464.5M44.1 464.5L46.9 464.3M46.9 464.3L49.5 463.0M49.5 463.0L51.9 463.7M51.9 463.7L54.2 463.4M54.2 463.4L54.2 466.3M54.2 463.4L56.7 463.0M56.7 463.0L59.8 463.5M59.8 463.5L62.2 464.2M51.1 457.9L49.3 462.0M32.4 458.4L31.3 462.0M15.1 456.8L16.9 462.0M54.1 457.5L56.1 462.0M56.5 457.5L55.6 462.0M44.0 458.2L44.3 462.0M42.0 466.3L42.3 462.0M62.1 457.9L63.3 462.0M12.9 469.7L12.9 471.7M12.9 469.7L15.3 470.5M15.3 470.5L18.2 469.6M18.2 469.6L20.6 469.8M20.6 469.8L23.3 470.2M23.3 470.2L26.3 470.4M26.3 470.4L29.1 471.4M29.1 471.4L31.8 469.6M31.8 469.6L31.8 466.9M31.8 469.6L34.5 471.3M34.5 471.3L37.2 470.4M37.2 470.4L39.8 470.7M39.8 470.7L42.8 469.9M42.8 469.9L42.8 466.9M42.8 469.9L45.9 470.9M45.9 470.9L48.9 470.2M48.9 470.2L52.0 470.0M52.0 470.0L54.4 471.1M54.4 471.1L56.7 469.5M56.7 469.5L59.2 471.0M14.0 472.7L16.5 473.0M16.5 473.0L19.6 474.4M19.6 474.4L22.6 473.4M22.6 473.4L25.4 474.2M25.4 474.2L28.5 473.6M28.5 473.6L31.6 473.4M31.6 473.4L34.3 474.1M34.3 474.1L34.3 471.1M34.3 474.1L36.7 473.9M36.7 473.9L39.0 473.2M39.0 473.2L41.5 472.8M41.5 472.8L44.5 473.8M44.5 473.8L47.4 473.7M47.4 473.7L49.7 473.1M49.7 473.1L52.5 472.9M52.5 472.9L52.5 470.4M52.5 472.9L54.8 473.4M54.8 473.4L54.8 475.9M54.8 473.4L57.3 473.2M57.3 473.2L60.0 474.4M60.0 474.4L60.0 471.7M53.5 467.8L52.0 472.0M28.3 467.9L26.6 472.0M30.0 467.4L30.8 472.0M31.5 468.4L33.1 472.0M13.1 467.0L12.7 472.0M16.7 468.3L18.3 472.0M29.7 477.1L31.7 472.0M55.4 467.9L53.9 472.0M8.5 481.4L11.0 482.5M11.0 482.5L11.0 485.1M11.0 482.5L13.8 483.0M13.8 483.0L13.8 480.2M13.8 483.0L16.7 481.5M16.7 481.5L19.2 483.0M19.2 483.0L19.2 480.9M19.2 483.0L22.2 482.0M22.2 482.0L25.0 482.3M25.0 482.3L25.0 480.0M25.0 482.3L27.7 482.3M27.7 482.3L27.7 485.3M27.7 482.3L30.5 482.3M30.5 482.3L33.1 481.6M33.1 481.6L35.7 482.1M35.7 482.1L38.6 481.7M38.6 481.7L41.4 482.9M41.4 482.9L41.4 480.7M41.4 482.9L43.8 481.5M43.8 481.5L43.8 484.5M43.8 481.5L46.5 482.7M46.5 482.7L49.1 481.7M49.1 481.7L52.1 481.6M52.1 481.6L52.1 478.6M52.1 481.6L55.1 482.1M55.1 482.1L57.9 482.9M57.9 482.9L57.9 480.0M10.8 485.7L13.4 484.8M13.4 484.8L16.2 485.1M16.2 485.1L19.1 486.3M19.1 486.3L21.6 486.2M21.6 486.2L24.7 484.7M24.7 484.7L27.7 485.8M27.7 485.8L30.6 485.7M30.6 485.7L30.6 482.9M30.6 485.7L33.2 485.3M33.2 485.3L35.6 485.7M35.6 485.7L38.6 486.3M38.6 486.3L41.6 485.3M41.6 485.3L44.5 485.5M44.5 485.5L47.6 486.5M47.6 486.5L47.6 484.4M47.6 486.5L50.3 485.6M50.3 485.6L52.9 484.9M52.9 484.9L55.5 486.0M55.5 486.0L55.5 488.0M26.8 480.0L24.8 484.0M35.6 488.7L33.8 484.0M55.4 480.5L54.8 484.0M25.5 479.6L25.2 484.0M52.5 480.0L51.2 484.0M28.7 478.5L28.1 484.0M40.1 488.2L38.4 484.0M28.3 478.9L27.9 484.0M14.8 493.2L17.7 491.7M17.7 491.7L20.2 492.0M20.2 492.0L22.7 492.3M22.7 492.3L25.5 493.2M25.5 493.2L28.6 492.6M28.6 492.6L31.1 491.7M31.1 491.7L34.0 493.0M34.0 493.0L36.9 492.3M36.9 492.3L39.4 493.3M39.4 493.3L41.9 492.3M41.9 492.3L44.9 492.2M44.9 492.2L47.2 492.8M47.2 492.8L47.2 495.3M47.2 492.8L49.7 491.6M49.7 491.6L49.7 493.7M49.7 491.6L52.4 492.3M16.9 495.5L19.4 494.7M19.4 494.7L22.4 496.0M22.4 496.0L22.4 498.4M22.4 496.0L25.4 495.0M25.4 495.0L28.0 496.6M28.0 496.6L30.6 495.6M30.6 495.6L33.0 494.9M33.0 494.9L35.7 496.1M35.7 496.1L38.8 495.5M38.8 495.5L41.6 495.0M41.6 495.0L44.5 496.3M44.5 496.3L46.8 496.2M46.8 496.2L46.8 498.2M46.8 496.2L49.5 495.7M49.5 495.7L52.0 495.5M24.2 490.2L23.0 494.0M35.3 489.2L37.2 494.0M33.7 497.9L33.9 494.0M27.1 498.5L26.1 494.0M49.8 498.6L48.4 494.0M39.5 499.4L41.4 494.0M21.4 504.2L24.2 503.4M24.2 503.4L24.2 500.7M24.2 503.4L26.8 502.4M26.8 502.4L26.8 505.4M26.8 502.4L29.4 503.9M29.4 503.9L31.8 503.9M31.8 503.9L34.6 502.8M34.6 502.8L37.5 502.6M37.5 502.6L39.9 504.1M39.9 504.1L42.3 503.7M42.3 503.7L42.3 501.3M42.3 503.7L44.6 503.4M44.6 503.4L47.0 503.5M47.0 503.5L49.7 504.0M49.7 504.0L52.1 503.6M52.1 503.6L54.5 503.6M23.5 506.9L25.9 505.8M25.9 505.8L28.7 507.4M28.7 507.4L31.7 506.7M31.7 506.7L34.6 506.2M34.6 506.2L37.2 506.0M37.2 506.0L39.8 505.8M39.8 505.8L42.2 505.9M42.2 505.9L45.0 506.5M45.0 506.5L47.5 506.5M47.5 506.5L50.1 506.6M50.1 506.6L52.5 506.1M44.8 510.2L46.8 505.0M47.8 508.8L47.4 505.0M31.7 499.7L31.8 505.0M45.0 508.9L43.6 505.0M54.8 509.4L53.4 505.0M21.2 509.1L24.0 510.3M24.0 510.3L26.8 508.7M26.8 508.7L29.2 509.0M29.2 509.0L32.1 508.7M32.1 508.7L34.7 509.6M34.7 509.6L34.7 512.0M34.7 509.6L37.5 509.0M37.5 509.0L40.0 508.7M40.0 508.7L42.9 510.4M42.9 510.4L42.9 507.3M42.9 510.4L46.0 510.3M46.0 510.3L49.1 509.9M49.1 509.9L51.7 509.0M51.7 509.0L54.4 509.7M54.4 509.7L56.9 508.9M22.7 513.5L22.7 511.4M22.7 513.5L25.6 512.7M25.6 512.7L28.2 512.8M28.2 512.8L30.7 512.9M30.7 512.9L30.7 510.7M30.7 512.9L33.2 511.9M33.2 511.9L35.8 511.7M35.8 511.7L38.9 513.2M38.9 513.2L41.9 513.1M41.9 513.1L44.5 512.2M44.5 512.2L47.6 512.7M47.6 512.7L50.0 511.7M50.0 511.7L50.0 508.5M50.0 511.7L52.4 513.0M52.4 513.0L55.4 513.2M26.7 506.0L28.3 511.0M37.2 507.3L37.8 511.0M43.7 505.6L43.6 511.0M57.4 506.0L59.4 511.0M43.7 515.5L44.8 511.0M46.5 516.3L47.2 511.0M17.5 519.6L20.1 520.5M20.1 520.5L22.9 520.5M22.9 520.5L25.3 520.0M25.3 520.0L28.2 519.9M28.2 519.9L28.2 516.8M28.2 519.9L31.1 520.5M31.1 520.5L33.8 521.1M33.8 521.1L36.4 520.5M36.4 520.5L38.8 519.6M38.8 519.6L41.8 519.6M41.8 519.6L44.5 519.6M44.5 519.6L44.5 517.2M44.5 519.6L47.4 519.7M47.4 519.7L50.2 521.1M50.2 521.1L50.2 518.3M50.2 521.1L53.2 520.7M53.2 520.7L55.7 519.9M55.7 519.9L58.7 519.5M58.7 519.5L61.6 521.3M61.6 521.3L64.0 520.0M64.0 520.0L66.6 520.8M18.7 522.9L21.1 522.7M21.1 522.7L23.5 522.7M23.5 522.7L26.5 524.1M26.5 524.1L29.6 523.6M29.6 523.6L32.7 523.7M32.7 523.7L35.7 523.1M35.7 523.1L38.4 522.7M38.4 522.7L40.9 523.3M40.9 523.3L43.5 524.4M43.5 524.4L46.1 523.1M46.1 523.1L49.1 524.0M49.1 524.0L52.2 523.1M52.2 523.1L54.7 522.9M54.7 522.9L57.6 522.6M57.6 522.6L60.0 522.7M60.0 522.7L60.0 519.9M60.0 522.7L63.0 522.9M63.0 522.9L65.9 524.0M59.3 526.6L60.5 522.0M34.0 516.7L35.3 522.0M42.5 527.4L41.8 522.0M41.1 526.7L41.2 522.0M34.5 517.0L35.5 522.0M27.8 527.3L27.9 522.0M57.7 517.5L59.2 522.0M48.9 516.7L47.2 522.0M18.7 531.8L21.3 533.3M21.3 533.3L21.3 530.2M21.3 533.3L24.0 532.6M24.0 532.6L27.0 532.0M27.0 532.0L29.4 531.5M29.4 531.5L31.9 532.6M31.9 532.6L31.9 530.5M31.9 532.6L34.8 532.7M34.8 532.7L34.8 535.0M34.8 532.7L37.4 533.2M37.4 533.2L40.0 533.1M40.0 533.1L42.4 532.9M42.4 532.9L45.0 533.0M45.0 533.0L45.0 535.8M45.0 533.0L47.7 533.1M47.7 533.1L50.8 533.2M50.8 533.2L53.4 532.9M53.4 532.9L56.5 531.6M56.5 531.6L59.5 532.6M59.5 532.6L62.4 531.8M62.4 531.8L62.4 534.2M62.4 531.8L64.9 531.5M64.9 531.5L64.9 529.0M64.9 531.5L67.5 531.5M67.5 531.5L70.1 532.5M18.1 535.9L18.1 532.8M18.1 535.9L20.6 535.4M20.6 535.4L23.1 534.9M23.1 534.9L25.6 536.3M25.6 536.3L28.4 536.1M28.4 536.1L31.3 534.9M31.3 534.9L31.3 537.6M31.3 534.9L33.9 535.5M33.9 535.5L36.7 536.5M36.7 536.5L39.7 534.8M39.7 534.8L42.5 536.0M42.5 536.0L45.0 535.9M45.0 535.9L47.7 535.4M47.7 535.4L50.0 535.9M50.0 535.9L52.4 535.0M52.4 535.0L55.1 536.2M55.1 536.2L58.1 536.0M58.1 536.0L60.8 536.6M60.8 536.6L60.8 533.8M60.8 536.6L63.5 535.4M63.5 535.4L65.8 535.1M65.8 535.1L68.1 536.3M47.5 539.3L47.7 534.0M20.9 528.6L22.4 534.0M50.6 528.9L52.3 534.0M70.9 539.2L69.1 534.0M52.8 529.3L50.9 534.0M56.0 538.3L56.1 534.0M62.3 530.3L62.0 534.0M29.6 537.5L31.4 534.0M46.3 528.7L44.4 534.0M21.3 411.6L20.6 414.3M30.8 412.8L28.7 414.7M20.2 402.5L22.9 403.5M12.0 410.9L10.1 413.0M22.1 400.7L21.3 403.4M26.7 414.8L28.5 417.0M19.9 416.3L19.4 419.0M17.5 415.6L20.0 416.9M24.2 416.3L27.0 416.0M22.1 408.8L19.4 408.2M21.8 408.7L19.7 406.8M15.1 403.8L14.4 401.1M22.1 417.1L19.4 416.3M17.3 407.0L20.0 406.2M17.9 403.2L20.4 401.8M26.7 413.0L24.6 411.3M21.7 409.1L22.7 411.7M20.1 407.5L18.0 409.4M29.4 413.8L29.0 411.0M12.6 409.7L9.9 410.5M30.6 404.4L28.0 403.2M15.5 409.1L18.2 408.3M16.2 413.7L17.3 411.1M20.1 402.7L22.2 404.6M18.3 400.6L20.0 398.5M31.2 404.8L28.4 404.4M24.4 407.9L26.9 409.1M18.8 413.5L16.1 412.7M30.9 407.9L28.5 409.3M27.7 407.7L26.6 405.1M30.0 412.8L32.6 411.6M11.6 411.4L14.1 410.2M29.2 410.0L28.2 407.4M27.6 403.2L29.8 401.5M17.2 403.0L15.4 405.1M67.7 401.6L64.9 401.8M73.4 398.4L75.8 397.0M71.4 403.5L71.4 400.7M74.3 400.0L73.1 397.5M80.4 421.0L80.2 418.2M68.3 414.2L70.3 412.3M77.2 417.3L79.1 419.3M78.0 423.8L80.5 425.1M75.7 413.0L76.2 415.8M71.5 405.0L73.1 407.4M81.8 407.2L84.3 408.5M79.6 413.9L78.0 416.2M65.1 410.3L65.0 413.1M78.8 420.5L78.8 417.7M67.6 416.9L69.8 415.1M81.8 417.4L79.0 417.5M73.6 415.8L72.3 418.3M74.6 411.5L72.2 410.1M76.0 399.2L77.9 401.2M76.5 422.5L73.9 423.4M75.9 402.2L74.4 399.8M71.4 420.5L71.7 423.3M69.3 418.9L71.4 417.1M68.2 420.4L66.9 422.8M76.9 406.4L74.6 404.8M78.7 418.4L80.4 420.6M74.9 408.4L74.0 405.7M67.1 410.7L67.2 413.5M78.5 411.1L75.9 410.2M67.8 411.4L66.8 414.0M65.4 411.7L68.2 411.6M69.7 417.4L68.7 420.0M72.4 424.0L74.7 425.6M73.1 410.7L72.6 407.9M74.7 416.3L73.5 413.8M77.4 423.8L76.5 421.1M78.9 451.8L76.7 453.5M74.9 446.3L77.7 446.3M74.6 465.7L76.7 467.4M72.5 464.4L70.1 463.0M78.8 450.7L81.4 451.8M81.7 456.4L82.6 453.7M74.2 446.8L73.1 444.2M81.2 468.3L78.7 469.7M75.1 464.0L72.4 463.2M76.3 451.4L74.3 453.4M74.7 448.2L76.1 445.7M80.8 467.7L82.9 465.9M79.6 458.8L82.2 459.8M80.7 461.2L82.9 463.0M77.7 476.3L78.9 478.8M72.5 464.7L73.4 462.1M81.8 467.0L79.6 468.7M74.8 472.9L73.3 475.2M78.2 468.8L77.2 466.2M74.5 464.0L75.9 466.4M73.8 477.1L76.4 476.1M68.5 453.3L67.0 450.9M80.4 453.1L82.1 455.3M75.2 475.5L76.7 477.8M75.5 453.2L78.3 452.8M71.5 459.3L70.6 462.0M73.8 473.7L73.7 470.9M71.2 457.0L73.9 457.6M68.5 464.4L70.6 466.3M80.1 473.3L78.3 471.2M82.1 461.0L84.5 459.5M80.4 451.4L82.8 450.1M72.5 465.6L74.7 467.3M6.3 456.5L6.1 453.7M9.4 477.1L11.9 478.4M16.2 453.7L18.1 455.7M14.5 481.7L17.3 481.4M19.4 471.3L21.4 469.3M3.5 468.8L5.8 470.4M13.9 476.7L16.2 478.3M16.6 457.0L19.3 456.4M5.2 462.5L7.9 463.2M17.5 483.9L15.3 482.1M12.7 468.3L12.3 471.1M7.8 470.7L8.6 468.0M15.7 478.2L18.0 479.8M14.2 468.7L16.9 469.4M4.3 477.7L7.1 477.9M14.4 467.3L16.5 465.4M18.1 472.9L19.2 475.4M16.8 481.9L18.2 484.3M7.3 452.4L10.1 452.6M6.5 479.5L6.2 476.7M18.4 454.6L21.0 453.7M13.7 466.0L11.8 468.1M19.9 482.1L18.0 480.0M2.5 474.9L5.2 474.3M9.0 455.5L11.8 454.8M6.1 482.7L5.3 485.4M6.6 466.5L5.5 463.9M5.9 457.7L6.9 460.3M17.6 468.7L15.3 467.2M20.1 477.6L17.5 478.6M7.1 466.7L9.4 468.2M8.5 462.6L5.8 462.1M9.2 476.5L9.2 473.7M18.9 468.5L18.1 465.8M11.9 462.0L11.5 459.2M17.3 466.1L14.8 464.8M5.2 479.6L7.9 479.1M10.4 478.9L10.0 481.7M16.1 457.1L18.2 459.0M5.5 476.7L3.4 478.6M5.2 454.3L7.4 452.6M8.3 457.7L6.8 460.1M35.2 504.1L33.9 506.5M36.1 502.4L35.2 505.0M23.3 499.7L23.1 502.5M32.6 505.3L30.3 503.8M31.5 496.4L33.8 494.9M31.9 497.9L31.2 500.6M30.9 504.0L33.5 505.2M35.8 504.9L33.4 503.5M25.9 501.0L23.9 503.0M34.6 495.8L36.3 493.6M33.0 505.9L31.8 503.4M38.6 502.9L39.5 505.6M38.1 496.6L35.5 497.7M32.7 499.6L35.3 498.6M31.6 497.3L29.4 495.6M30.4 494.9L31.7 497.4M30.0 504.7L27.7 503.1M19.9 498.6L17.4 497.5M31.1 497.5L32.5 499.9M32.8 497.5L31.8 500.2M33.4 504.0L30.7 503.3M24.0 502.5L24.8 505.2M28.6 497.4L26.0 498.4M25.1 500.0L22.3 500.2M40.4 502.1L42.4 500.2M22.3 498.5L19.5 498.2M30.3 505.1L29.7 507.8M23.5 495.9L25.3 493.8M9.7 511.3L12.3 510.2M2.9 522.6L2.1 519.9M12.4 517.1L11.0 519.5M16.0 517.4L15.9 514.6M3.7 504.7L6.2 505.9M8.0 505.1L10.8 505.2M8.1 514.6L6.6 516.9M5.5 502.4L3.8 500.1M9.7 503.9L7.0 504.4M11.6 505.7L10.7 503.1M3.2 521.1L4.3 518.6M13.8 506.9L11.2 507.9M15.4 511.2L16.7 508.8M10.4 525.5L10.6 522.7M14.9 519.7L14.9 516.9M9.9 520.8L7.5 519.3M3.7 520.0L6.4 519.4M8.6 514.0L5.9 514.8M7.4 518.2L7.2 515.4M4.9 511.5L6.7 509.5M7.4 516.1L5.1 517.5M17.2 508.5L17.0 505.7M12.6 512.5L13.9 510.1M3.8 508.1L6.4 509.1M8.6 525.7L11.3 524.7M9.9 503.2L7.2 502.3M12.4 503.9L10.4 502.0M12.8 523.2L13.8 520.5M8.2 515.8L10.9 516.7M64.5 525.2L67.2 524.8M69.4 520.8L70.5 523.3M68.7 522.2L67.0 519.9M66.8 522.9L64.0 522.7M69.5 540.5L68.3 543.0M64.1 528.8L66.5 527.3M67.5 523.7L70.3 523.7M74.0 539.6L76.5 538.4M68.2 529.5L68.9 532.2M78.2 532.3L79.3 529.7M63.8 529.7L61.3 528.5M74.0 521.6L76.2 523.3M62.3 524.8L65.1 525.2M77.7 525.7L80.5 525.6M67.8 539.0L66.6 536.5M65.5 536.0L64.4 538.6M64.0 531.4L66.2 533.1M74.1 531.0L75.8 528.8M71.5 534.8L73.6 533.0M74.8 535.8L75.4 538.5M63.0 530.4L64.1 527.8M71.2 522.4L70.1 519.8M71.3 525.9L70.2 523.3M67.4 528.8L66.7 531.5M76.7 532.8L76.7 535.6M68.7 528.7L68.3 526.0M66.7 533.8L68.2 536.1M66.0 534.3L67.0 536.9M70.8 534.1L69.3 536.5M72.4 527.6L70.1 525.9M64.3 530.1L65.7 532.5M43.4 469.3L40.8 470.2M47.5 467.4L45.0 468.5M53.5 464.6L51.0 465.6M46.4 472.8L43.6 472.3M51.6 469.5L52.9 472.0M49.0 471.8L51.4 470.4M49.1 475.5L51.4 477.1M45.4 468.7L45.0 465.9M46.9 472.9L45.0 470.9M43.5 469.2L42.4 466.6M51.7 474.8L53.3 477.1M52.7 441.8L50.0 441.1M63.9 441.6L64.4 444.3M51.1 436.9L49.9 439.4M54.0 446.9L53.5 444.2M62.8 440.8L65.5 441.6M52.7 437.7L55.5 437.4M60.6 440.5L59.0 438.2M57.6 438.9L57.6 441.7M54.7 438.1L52.2 436.7M60.4 447.1L62.4 445.1M57.7 439.6L56.1 441.9M59.2 438.0L56.5 438.5M60.1 433.2L59.5 430.5M55.2 445.3L52.7 446.5M30.4 509.4L28.7 511.7M39.4 524.1L37.7 526.3M29.3 530.8L29.1 528.0M30.6 524.7L33.1 526.0M39.7 523.7L37.7 521.7M20.2 515.3L17.5 514.7M37.9 528.7L35.8 526.9M54.8 517.0L52.3 515.8M47.4 520.8L47.7 518.0M36.1 526.6L33.4 525.8M48.9 512.5L46.3 513.5M35.5 512.6L32.7 512.8M37.1 516.8L38.4 514.4M58.4 522.1L60.4 520.1M35.1 517.4L32.5 516.4M49.4 509.2L47.4 511.2M23.9 519.4L23.6 516.6M32.6 515.0L35.4 514.5M38.9 524.9L39.6 522.2M45.8 531.4L43.0 531.2M60.7 519.7L63.4 519.1M44.1 525.4L42.5 523.0M60.6 514.8L60.0 517.5M54.1 510.5L51.4 509.5M51.2 524.0L48.7 525.3M44.6 420.9L43.5 418.3M55.7 426.7L57.2 429.0M57.5 420.9L54.7 420.8M55.0 423.9L54.1 421.3M36.9 429.0L36.7 426.2M32.6 422.6L34.4 424.8M37.6 431.7L35.4 433.3M54.5 421.6L57.3 422.1M61.2 421.6L58.5 421.2"/>
<path fill="none" stroke="#dcdcdc" stroke-width="1.80" stroke-linecap="round" d="M20.0 399.9h0M23.5 406.4h0M40.8 407.0h0M59.2 400.3h0M62.5 400.7h0M67.8 399.9h0M23.6 404.6h0M54.6 409.5h0M41.8 409.7h0M35.2 409.7h0M42.4 416.8h0M59.1 411.9h0M61.8 417.5h0M67.8 411.7h0M56.7 421.3h0M69.4 419.9h0M56.4 421.0h0M37.1 425.7h0M47.6 429.2h0M40.7 432.3h0M65.4 427.0h0M63.3 432.6h0M38.3 424.7h0M41.3 436.6h0M44.7 444.3h0M56.5 440.3h0M51.5 436.0h0M51.2 436.8h0M23.8 447.8h0M31.3 453.5h0M52.2 449.0h0M42.4 451.4h0M52.0 457.6h0M53.6 455.3h0M59.0 455.8h0M57.6 447.1h0M55.6 446.8h0M28.0 463.4h0M45.6 458.2h0M47.0 461.9h0M54.9 466.3h0M51.1 457.9h0M32.4 458.4h0M62.1 457.9h0M12.1 471.7h0M31.2 466.9h0M42.0 466.9h0M34.4 471.1h0M52.6 470.4h0M54.3 475.9h0M60.4 471.7h0M10.5 485.1h0M14.0 480.2h0M19.1 480.9h0M25.0 480.0h0M27.2 485.3h0M41.4 480.7h0M43.5 484.5h0M51.5 478.6h0M58.1 480.0h0M29.7 482.9h0M47.6 484.4h0M56.2 488.0h0M26.8 480.0h0M55.4 480.5h0M28.3 478.9h0M47.6 495.3h0M50.5 493.7h0M21.9 498.4h0M47.3 498.2h0M24.2 490.2h0M23.9 500.7h0M27.3 505.4h0M42.9 501.3h0M34.1 512.0h0M43.3 507.3h0M21.9 511.4h0M31.6 510.7h0M49.5 508.5h0M57.4 506.0h0M28.2 516.8h0M43.6 517.2h0M50.8 518.3h0M60.2 519.9h0M34.5 517.0h0M22.0 530.2h0M31.9 530.5h0M34.2 535.0h0M44.3 535.8h0M62.8 534.2h0M64.7 529.0h0M18.9 532.8h0M31.1 537.6h0M61.0 533.8h0M47.5 539.3h0M70.9 539.2h0M29.6 537.5h0M46.3 528.7h0M19.9 416.3h0M26.6 401.8h0M17.5 415.6h0M22.1 408.8h0M30.6 404.4h0M15.5 409.1h0M20.1 402.7h0M30.9 407.9h0M27.7 407.7h0M67.7 401.6h0M76.2 418.5h0M75.9 402.2h0M71.4 420.5h0M74.9 408.4h0M81.3 413.8h0M74.4 456.5h0M79.9 463.4h0M81.7 456.4h0M80.5 453.1h0M75.1 464.0h0M67.6 457.6h0M82.3 452.4h0M74.8 472.9h0M75.5 453.2h0M71.2 457.0h0M9.4 477.1h0M3.5 468.8h0M7.8 470.7h0M14.2 468.7h0M16.8 481.9h0M18.4 454.6h0M18.3 464.1h0M19.9 482.1h0M8.5 462.6h0M5.2 479.6h0M9.7 467.9h0M10.8 481.5h0M32.6 505.3h0M33.0 505.9h0M33.4 504.0h0M40.4 502.1h0M9.7 511.3h0M8.0 505.1h0M9.7 503.9h0M15.3 511.5h0M1.2 515.7h0M12.6 512.5h0M8.6 525.7h0M11.5 509.9h0M67.5 523.7h0M63.8 529.7h0M77.7 525.7h0M74.1 531.0h0M74.8 535.8h0M71.3 525.9h0M68.7 528.7h0M49.0 471.8h0M57.7 439.6h0M55.2 445.3h0M54.8 517.0h0M37.1 516.8h0M60.6 514.8h0M32.6 420.2h0M54.5 421.6h0M61.2 421.6h0"/>
<path fill="none" stroke="#a2a2a2" stroke-width="2.90" stroke-linecap="round" d="M17.9 403.7h0M27.9 402.8h0M30.6 402.8h0M38.4 404.2h0M41.0 404.2h0M46.4 402.8h0M54.5 402.4h0M59.4 402.7h0M64.7 403.2h0M70.0 402.7h0M20.2 406.5h0M25.6 407.5h0M31.0 406.6h0M39.3 405.9h0M52.2 406.0h0M62.4 407.1h0M42.3 400.0h0M56.0 399.8h0M42.6 409.8h0M39.9 409.8h0M48.9 410.0h0M31.5 410.0h0M49.7 400.1h0M32.4 409.8h0M35.7 413.4h0M43.4 414.2h0M48.9 414.9h0M59.8 414.3h0M64.5 415.4h0M67.5 414.2h0M39.5 417.2h0M45.1 417.2h0M47.9 416.6h0M56.0 418.1h0M60.9 417.0h0M72.1 416.7h0M58.5 420.8h0M74.9 421.4h0M37.9 420.3h0M47.0 412.1h0M64.2 411.2h0M64.4 419.9h0M43.0 426.8h0M45.8 427.3h0M48.2 426.8h0M53.8 427.9h0M59.1 427.1h0M67.2 426.5h0M69.6 426.4h0M72.2 428.4h0M43.8 430.0h0M46.7 430.9h0M49.4 431.6h0M52.0 430.5h0M57.3 431.3h0M65.6 429.6h0M66.9 423.9h0M54.6 424.4h0M51.9 433.2h0M74.4 425.0h0M47.5 439.5h0M50.5 440.1h0M63.3 439.2h0M65.8 439.8h0M45.4 442.2h0M53.0 441.9h0M55.7 442.5h0M63.6 441.7h0M66.3 441.6h0M64.0 445.7h0M63.9 436.1h0M60.9 444.6h0M29.3 450.1h0M34.8 450.1h0M42.8 451.2h0M48.5 449.6h0M57.7 450.2h0M60.1 451.4h0M23.6 452.7h0M26.5 454.3h0M29.1 453.6h0M32.0 454.1h0M35.1 453.1h0M37.9 453.4h0M40.8 454.2h0M45.6 454.3h0M48.4 453.0h0M56.5 453.8h0M59.2 453.3h0M61.9 454.4h0M64.3 453.3h0M43.0 456.8h0M59.4 456.2h0M31.1 456.9h0M21.1 446.7h0M14.5 461.3h0M17.2 460.5h0M28.6 460.9h0M33.9 460.6h0M41.8 461.1h0M47.3 459.7h0M55.1 460.0h0M59.9 461.0h0M63.0 460.1h0M17.0 462.8h0M20.0 463.0h0M26.0 463.8h0M39.2 462.7h0M44.1 464.5h0M51.9 463.7h0M54.2 463.4h0M59.8 463.5h0M15.1 456.8h0M54.1 457.5h0M56.5 457.5h0M44.0 458.2h0M42.0 466.3h0M31.8 469.6h0M42.8 469.9h0M45.9 470.9h0M48.9 470.2h0M54.4 471.1h0M56.7 469.5h0M59.2 471.0h0M14.0 472.7h0M16.5 473.0h0M28.5 473.6h0M31.6 473.4h0M34.3 474.1h0M36.7 473.9h0M39.0 473.2h0M52.5 472.9h0M57.3 473.2h0M53.5 467.8h0M28.3 467.9h0M30.0 467.4h0M31.5 468.4h0M13.1 467.0h0M16.7 468.3h0M29.7 477.1h0M55.4 467.9h0M8.5 481.4h0M13.8 483.0h0M16.7 481.5h0M35.7 482.1h0M38.6 481.7h0M43.8 481.5h0M46.5 482.7h0M52.1 481.6h0M57.9 482.9h0M16.2 485.1h0M19.1 486.3h0M21.6 486.2h0M27.7 485.8h0M33.2 485.3h0M38.6 486.3h0M44.5 485.5h0M35.6 488.7h0M25.5 479.6h0M52.5 480.0h0M28.7 478.5h0M40.1 488.2h0M20.2 492.0h0M22.7 492.3h0M28.6 492.6h0M36.9 492.3h0M41.9 492.3h0M47.2 492.8h0M49.7 491.6h0M16.9 495.5h0M22.4 496.0h0M25.4 495.0h0M28.0 496.6h0M33.0 494.9h0M38.8 495.5h0M44.5 496.3h0M35.3 489.2h0M33.7 497.9h0M27.1 498.5h0M49.8 498.6h0M39.5 499.4h0M21.4 504.2h0M31.8 503.9h0M34.6 502.8h0M42.3 503.7h0M47.0 503.5h0M52.1 503.6h0M23.5 506.9h0M25.9 505.8h0M28.7 507.4h0M34.6 506.2h0M37.2 506.0h0M47.5 506.5h0M50.1 506.6h0M52.5 506.1h0M44.8 510.2h0M47.8 508.8h0M31.7 499.7h0M45.0 508.9h0M54.8 509.4h0M24.0 510.3h0M29.2 509.0h0M46.0 510.3h0M54.4 509.7h0M22.7 513.5h0M28.2 512.8h0M30.7 512.9h0M35.8 511.7h0M38.9 513.2h0M41.9 513.1h0M44.5 512.2h0M26.7 506.0h0M37.2 507.3h0M43.7 505.6h0M43.7 515.5h0M46.5 516.3h0M20.1 520.5h0M33.8 521.1h0M53.2 520.7h0M66.6 520.8h0M18.7 522.9h0M21.1 522.7h0M26.5 524.1h0M29.6 523.6h0M38.4 522.7h0M40.9 523.3h0M43.5 524.4h0M49.1 524.0h0M52.2 523.1h0M54.7 522.9h0M60.0 522.7h0M59.3 526.6h0M34.0 516.7h0M42.5 527.4h0M41.1 526.7h0M27.8 527.3h0M57.7 517.5h0M48.9 516.7h0M27.0 532.0h0M31.9 532.6h0M37.4 533.2h0M42.4 532.9h0M45.0 533.0h0M47.7 533.1h0M50.8 533.2h0M53.4 532.9h0M70.1 532.5h0M31.3 534.9h0M33.9 535.5h0M36.7 536.5h0M42.5 536.0h0M45.0 535.9h0M47.7 535.4h0M52.4 535.0h0M58.1 536.0h0M60.8 536.6h0M68.1 536.3h0M20.9 528.6h0M50.6 528.9h0M52.8 529.3h0M56.0 538.3h0M62.3 530.3h0M30.9 411.5h0M21.3 411.6h0M30.8 412.8h0M28.8 413.0h0M20.2 402.5h0M12.0 410.9h0M20.6 401.0h0M26.7 414.8h0M24.2 416.3h0M21.8 408.7h0M15.1 403.8h0M23.1 415.2h0M22.1 417.1h0M23.2 400.1h0M17.3 407.0h0M28.7 413.2h0M16.2 414.7h0M26.7 413.0h0M21.7 409.1h0M20.1 407.5h0M29.4 413.8h0M12.6 409.7h0M18.3 400.6h0M13.3 405.4h0M11.6 411.4h0M29.2 410.0h0M17.2 403.0h0M18.5 412.6h0M71.4 403.5h0M74.3 400.0h0M80.4 421.0h0M68.3 414.2h0M77.2 417.3h0M75.7 413.0h0M80.3 422.6h0M79.6 413.9h0M67.6 416.9h0M76.0 399.2h0M76.5 422.5h0M70.9 407.0h0M67.1 419.6h0M67.8 402.8h0M76.9 406.4h0M77.4 424.8h0M79.2 420.0h0M70.6 399.5h0M67.8 411.4h0M65.4 411.7h0M77.8 411.9h0M69.7 417.4h0M72.4 424.0h0M74.7 416.3h0M69.6 415.7h0M77.4 423.8h0M78.9 451.8h0M74.9 446.3h0M72.5 464.4h0M74.2 446.8h0M81.2 468.3h0M82.4 452.0h0M83.2 457.3h0M76.3 451.4h0M74.7 448.2h0M80.8 467.7h0M79.6 458.8h0M80.7 461.2h0M77.7 476.3h0M72.5 464.7h0M78.2 468.8h0M74.5 464.0h0M68.5 453.3h0M80.4 453.1h0M75.2 475.5h0M69.6 452.1h0M71.5 459.3h0M68.9 453.8h0M80.1 473.3h0M82.1 461.0h0M16.2 453.7h0M14.5 481.7h0M13.8 463.2h0M19.4 471.3h0M13.9 476.7h0M16.6 457.0h0M5.2 462.5h0M17.5 483.9h0M3.5 470.9h0M20.6 469.0h0M15.7 478.2h0M4.3 477.7h0M6.5 479.5h0M9.0 478.5h0M2.5 474.9h0M9.0 455.5h0M6.1 482.7h0M10.8 460.8h0M6.6 466.5h0M20.0 455.0h0M20.1 477.6h0M7.1 466.7h0M18.9 468.5h0M11.9 462.0h0M17.3 466.1h0M10.4 478.9h0M5.5 476.7h0M8.3 457.7h0M35.2 504.1h0M36.1 502.4h0M23.3 499.7h0M31.5 496.4h0M31.9 497.9h0M35.8 504.9h0M34.6 495.8h0M36.5 501.4h0M38.6 502.9h0M38.1 496.6h0M33.6 500.6h0M31.1 497.5h0M32.8 497.5h0M24.0 502.5h0M31.3 501.6h0M25.1 500.0h0M3.3 518.6h0M16.0 517.4h0M3.7 504.7h0M8.1 514.6h0M5.5 502.4h0M11.6 505.7h0M13.8 506.9h0M15.4 511.2h0M10.4 525.5h0M7.8 525.3h0M9.9 520.8h0M3.7 520.0h0M7.4 518.2h0M15.6 507.9h0M4.9 511.5h0M7.4 516.1h0M17.2 508.5h0M3.9 513.1h0M0.7 511.9h0M9.9 503.2h0M12.8 523.2h0M74.9 528.2h0M64.5 525.2h0M69.4 520.8h0M68.7 522.2h0M66.8 522.9h0M69.5 540.5h0M74.0 539.6h0M68.2 529.5h0M68.6 528.4h0M64.4 527.1h0M65.0 537.3h0M78.2 532.3h0M72.6 538.8h0M74.0 521.6h0M62.3 524.8h0M67.8 539.0h0M64.0 531.4h0M71.5 534.8h0M71.2 522.4h0M66.1 532.0h0M74.8 528.4h0M70.8 534.1h0M64.3 530.1h0M43.4 469.3h0M47.5 467.4h0M51.6 469.5h0M49.1 475.5h0M45.4 468.7h0M53.6 472.6h0M51.1 436.9h0M62.0 443.1h0M62.8 440.8h0M52.7 437.7h0M60.6 440.5h0M60.4 447.1h0M60.1 433.2h0M56.0 437.5h0M54.0 440.6h0M30.4 509.4h0M27.0 524.5h0M39.4 524.1h0M29.3 530.8h0M39.7 523.7h0M37.9 528.7h0M47.4 520.8h0M50.4 521.4h0M36.1 526.6h0M35.5 512.6h0M35.1 517.4h0M49.4 509.2h0M23.9 519.4h0M28.7 517.4h0M32.6 515.0h0M49.4 529.5h0M45.8 531.4h0M60.7 519.7h0M44.1 525.4h0M54.1 510.5h0M51.2 524.0h0M44.6 420.9h0M55.7 426.7h0M43.1 430.0h0M46.2 433.0h0M55.0 423.9h0M36.9 429.0h0M32.6 422.6h0M37.6 431.7h0M51.6 426.6h0"/>
<path fill="none" stroke="#6464d6" stroke-width="2.90" stroke-linecap="round" d="M23.2 404.1h0M25.5 403.0h0M33.2 404.2h0M49.3 404.1h0M62.1 403.7h0M67.5 403.0h0M72.4 404.2h0M74.7 404.1h0M23.1 407.0h0M28.2 407.1h0M41.6 405.9h0M44.7 406.8h0M49.7 406.6h0M60.1 406.1h0M72.9 407.3h0M75.6 405.6h0M38.2 414.2h0M40.6 415.2h0M46.3 413.4h0M54.4 414.3h0M56.9 415.1h0M62.1 415.0h0M70.3 413.8h0M72.8 413.6h0M75.2 413.5h0M36.5 416.8h0M50.3 417.3h0M63.7 418.4h0M66.6 417.0h0M37.1 427.9h0M51.0 426.8h0M61.8 427.3h0M41.2 429.8h0M60.1 430.9h0M62.8 429.6h0M53.1 439.9h0M55.5 440.2h0M61.0 439.9h0M68.4 439.1h0M70.7 439.0h0M43.0 443.0h0M47.9 443.0h0M50.5 442.2h0M58.1 442.9h0M71.6 443.2h0M21.0 450.4h0M23.6 450.4h0M26.6 449.7h0M32.2 450.5h0M37.4 450.3h0M45.9 451.4h0M54.6 450.8h0M63.2 449.7h0M43.2 453.8h0M54.2 453.2h0M20.2 461.2h0M22.7 461.3h0M25.6 460.0h0M31.1 461.1h0M39.4 460.1h0M49.9 459.8h0M52.7 459.6h0M57.5 459.5h0M22.9 463.4h0M28.7 464.1h0M31.1 464.5h0M36.5 463.4h0M46.9 464.3h0M49.5 463.0h0M56.7 463.0h0M62.2 464.2h0M12.9 469.7h0M20.6 469.8h0M23.3 470.2h0M26.3 470.4h0M29.1 471.4h0M34.5 471.3h0M39.8 470.7h0M19.6 474.4h0M22.6 473.4h0M25.4 474.2h0M41.5 472.8h0M44.5 473.8h0M47.4 473.7h0M49.7 473.1h0M54.8 473.4h0M60.0 474.4h0M11.0 482.5h0M19.2 483.0h0M22.2 482.0h0M25.0 482.3h0M33.1 481.6h0M41.4 482.9h0M49.1 481.7h0M55.1 482.1h0M13.4 484.8h0M30.6 485.7h0M47.6 486.5h0M50.3 485.6h0M52.9 484.9h0M55.5 486.0h0M14.8 493.2h0M17.7 491.7h0M31.1 491.7h0M52.4 492.3h0M19.4 494.7h0M30.6 495.6h0M35.7 496.1h0M41.6 495.0h0M46.8 496.2h0M26.8 502.4h0M44.6 503.4h0M49.7 504.0h0M54.5 503.6h0M31.7 506.7h0M42.2 505.9h0M21.2 509.1h0M26.8 508.7h0M32.1 508.7h0M34.7 509.6h0M49.1 509.9h0M51.7 509.0h0M56.9 508.9h0M25.6 512.7h0M47.6 512.7h0M55.4 513.2h0M17.5 519.6h0M28.2 519.9h0M31.1 520.5h0M41.8 519.6h0M47.4 519.7h0M55.7 519.9h0M58.7 519.5h0M64.0 520.0h0M23.5 522.7h0M32.7 523.7h0M35.7 523.1h0M46.1 523.1h0M63.0 522.9h0M18.7 531.8h0M21.3 533.3h0M29.4 531.5h0M34.8 532.7h0M40.0 533.1h0M56.5 531.6h0M62.4 531.8h0M64.9 531.5h0M67.5 531.5h0M18.1 535.9h0M25.6 536.3h0M28.4 536.1h0M39.7 534.8h0M55.1 536.2h0M63.5 535.4h0"/>
<path fill="none" stroke="#e67a7a" stroke-width="3.30" stroke-linecap="round" d="M20.8 402.8h0M35.9 403.4h0M43.4 403.8h0M52.0 403.2h0M56.8 403.8h0M77.6 402.5h0M33.5 406.1h0M36.5 407.5h0M47.1 406.5h0M55.2 407.1h0M57.6 405.7h0M64.9 407.0h0M67.4 406.0h0M70.5 406.1h0M51.6 413.6h0M42.2 417.3h0M53.1 417.0h0M58.4 417.9h0M69.6 417.1h0M74.8 417.0h0M40.0 426.9h0M56.2 428.3h0M64.4 426.6h0M75.0 426.8h0M38.7 431.4h0M54.6 431.4h0M68.7 430.2h0M71.7 429.8h0M42.2 439.0h0M45.0 439.5h0M58.3 439.6h0M60.7 443.0h0M69.1 443.0h0M40.0 450.8h0M51.6 451.3h0M66.1 451.1h0M51.2 454.5h0M36.7 460.3h0M44.6 460.7h0M33.9 464.1h0M41.8 463.5h0M15.3 470.5h0M18.2 469.6h0M37.2 470.4h0M52.0 470.0h0M27.7 482.3h0M30.5 482.3h0M10.8 485.7h0M24.7 484.7h0M35.6 485.7h0M41.6 485.3h0M25.5 493.2h0M34.0 493.0h0M39.4 493.3h0M44.9 492.2h0M49.5 495.7h0M52.0 495.5h0M24.2 503.4h0M29.4 503.9h0M37.5 502.6h0M39.9 504.1h0M39.8 505.8h0M45.0 506.5h0M37.5 509.0h0M40.0 508.7h0M42.9 510.4h0M33.2 511.9h0M50.0 511.7h0M52.4 513.0h0M22.9 520.5h0M25.3 520.0h0M36.4 520.5h0M38.8 519.6h0M44.5 519.6h0M50.2 521.1h0M61.6 521.3h0M57.6 522.6h0M65.9 524.0h0M24.0 532.6h0M59.5 532.6h0M20.6 535.4h0M23.1 534.9h0M50.0 535.9h0M65.8 535.1h0M26.5 409.2h0M25.3 407.9h0M20.8 403.3h0M22.1 400.7h0M17.6 401.0h0M23.7 414.0h0M18.8 413.5h0M30.0 412.8h0M73.4 398.4h0M78.0 423.8h0M81.8 407.2h0M65.1 410.3h0M78.8 420.5h0M80.5 407.9h0M81.8 417.4h0M73.6 415.8h0M69.3 418.9h0M66.6 416.9h0M78.7 418.4h0M67.1 410.7h0M78.5 411.1h0M73.5 424.4h0M73.1 410.7h0M74.6 465.7h0M78.8 450.7h0M71.3 474.2h0M70.3 452.8h0M81.8 467.0h0M73.8 477.1h0M73.8 473.7h0M79.3 475.1h0M68.5 464.4h0M77.7 474.1h0M80.4 451.4h0M6.3 456.5h0M3.8 479.7h0M14.4 467.3h0M18.1 472.9h0M7.5 458.3h0M7.3 452.4h0M23.1 464.6h0M5.9 457.7h0M17.6 468.7h0M9.2 476.5h0M12.4 479.8h0M17.0 460.4h0M16.1 457.1h0M5.2 454.3h0M30.9 504.0h0M25.9 501.0h0M32.7 499.6h0M31.6 497.3h0M30.4 494.9h0M25.5 503.8h0M30.0 504.7h0M19.9 498.6h0M38.8 494.5h0M28.6 497.4h0M22.3 498.5h0M33.2 498.5h0M23.5 495.9h0M2.9 522.6h0M12.4 517.1h0M3.2 521.1h0M7.5 514.7h0M14.9 519.7h0M8.6 514.0h0M3.8 508.1h0M9.3 524.6h0M12.4 503.9h0M8.2 515.8h0M64.1 528.8h0M74.1 527.5h0M65.5 536.0h0M63.0 530.4h0M67.4 528.8h0M76.7 532.8h0M76.1 523.4h0M66.0 534.3h0M72.4 527.6h0M53.5 464.6h0M52.9 467.6h0M46.9 472.9h0M43.5 469.2h0M51.7 474.8h0M52.7 441.8h0M55.8 436.2h0M63.9 441.6h0M54.0 446.9h0M57.6 438.9h0M54.7 438.1h0M59.2 438.0h0M20.2 515.3h0M52.7 515.9h0M48.9 512.5h0M58.4 522.1h0M38.9 524.9h0M57.5 420.9h0M40.7 427.7h0M52.3 418.8h0M50.7 417.4h0"/>
<path fill="none" stroke="#e8aa6a" stroke-width="3.60" stroke-linecap="round" d="M17.9 403.2h0M16.2 413.7h0M31.2 404.8h0M24.4 407.9h0M27.6 403.2h0M71.5 405.0h0M74.6 411.5h0M68.2 420.4h0M72.5 465.6h0M12.7 468.3h0M13.7 466.0h0M14.2 450.4h0M3.8 456.3h0M0.5 469.1h0M8.3 465.6h0M30.3 505.1h0M10.8 513.0h0M66.7 533.8h0M46.9 475.2h0M46.4 472.8h0M30.6 524.7h0"/></g>
<defs><radialGradient id="gg" cx="0.38" cy="0.35" r="0.7"><stop offset="0" stop-color="#3a963a"/><stop offset="0.45" stop-color="#0b5a10"/><stop offset="1" stop-color="#021804"/></radialGradient><radialGradient id="rg" cx="0.38" cy="0.35" r="0.7"><stop offset="0" stop-color="#ff5a5a"/><stop offset="0.45" stop-color="#c41010"/><stop offset="1" stop-color="#3a0202"/></radialGradient></defs>
<ellipse cx="266.5" cy="272.9" rx="4.4" ry="3.0" fill="url(#rg)"/><ellipse cx="260.4" cy="277.6" rx="4.0" ry="2.7" fill="url(#gg)"/><ellipse cx="267.5" cy="276.6" rx="3.9" ry="2.6" fill="url(#rg)"/><ellipse cx="270.7" cy="278.3" rx="4.0" ry="2.7" fill="url(#rg)"/><ellipse cx="259.9" cy="282.2" rx="4.7" ry="3.2" fill="url(#rg)"/><ellipse cx="267.4" cy="281.3" rx="3.9" ry="2.7" fill="url(#rg)"/><ellipse cx="270.8" cy="282.0" rx="4.4" ry="3.0" fill="url(#gg)"/><ellipse cx="266.7" cy="285.1" rx="4.6" ry="3.1" fill="url(#gg)"/>
<ellipse cx="259.7" cy="292.2" rx="4.9" ry="3.3" fill="url(#rg)"/><ellipse cx="264.9" cy="290.4" rx="5.7" ry="3.9" fill="url(#gg)"/><ellipse cx="272.0" cy="291.3" rx="4.8" ry="3.3" fill="url(#rg)"/><ellipse cx="278.6" cy="291.0" rx="5.6" ry="3.8" fill="url(#gg)"/><ellipse cx="255.2" cy="297.5" rx="5.5" ry="3.7" fill="url(#gg)"/><ellipse cx="260.5" cy="297.2" rx="5.1" ry="3.4" fill="url(#rg)"/><ellipse cx="269.8" cy="296.3" rx="5.4" ry="3.7" fill="url(#rg)"/><ellipse cx="274.7" cy="295.6" rx="5.7" ry="3.9" fill="url(#gg)"/><ellipse cx="282.0" cy="296.0" rx="4.8" ry="3.3" fill="url(#gg)"/><ellipse cx="253.7" cy="302.1" rx="5.4" ry="3.7" fill="url(#rg)"/><ellipse cx="260.0" cy="301.6" rx="5.4" ry="3.6" fill="url(#gg)"/><ellipse cx="268.7" cy="301.8" rx="5.2" ry="3.5" fill="url(#rg)"/><ellipse cx="275.5" cy="302.4" rx="5.5" ry="3.7" fill="url(#gg)"/><ellipse cx="268.6" cy="307.3" rx="4.7" ry="3.2" fill="url(#gg)"/><ellipse cx="275.4" cy="306.6" rx="5.5" ry="3.7" fill="url(#gg)"/>
<ellipse cx="258.6" cy="307.9" rx="3.3" ry="2.3" fill="url(#rg)"/><ellipse cx="263.8" cy="310.1" rx="3.7" ry="2.5" fill="url(#gg)"/><ellipse cx="260.3" cy="312.6" rx="3.3" ry="2.2" fill="url(#gg)"/><ellipse cx="265.6" cy="312.1" rx="4.1" ry="2.8" fill="url(#rg)"/>
<ellipse cx="355.7" cy="320.2" rx="4.4" ry="3.0" fill="url(#rg)"/><ellipse cx="362.1" cy="321.2" rx="4.1" ry="2.8" fill="url(#rg)"/><ellipse cx="367.1" cy="320.6" rx="4.7" ry="3.2" fill="url(#rg)"/><ellipse cx="372.9" cy="321.2" rx="4.3" ry="2.9" fill="url(#gg)"/><ellipse cx="352.5" cy="326.1" rx="4.7" ry="3.2" fill="url(#rg)"/><ellipse cx="359.5" cy="326.4" rx="4.5" ry="3.1" fill="url(#rg)"/><ellipse cx="364.1" cy="326.3" rx="5.0" ry="3.4" fill="url(#rg)"/><ellipse cx="369.7" cy="326.1" rx="4.2" ry="2.8" fill="url(#rg)"/><ellipse cx="376.0" cy="325.1" rx="4.7" ry="3.2" fill="url(#gg)"/><ellipse cx="352.2" cy="330.3" rx="4.9" ry="3.3" fill="url(#rg)"/><ellipse cx="359.0" cy="328.9" rx="4.3" ry="2.9" fill="url(#rg)"/><ellipse cx="365.9" cy="329.1" rx="5.1" ry="3.5" fill="url(#rg)"/><ellipse cx="371.4" cy="329.1" rx="4.1" ry="2.8" fill="url(#gg)"/><ellipse cx="376.1" cy="328.9" rx="4.9" ry="3.4" fill="url(#rg)"/><ellipse cx="352.4" cy="334.4" rx="4.5" ry="3.0" fill="url(#gg)"/><ellipse cx="357.7" cy="334.7" rx="5.1" ry="3.5" fill="url(#rg)"/><ellipse cx="364.0" cy="334.5" rx="4.9" ry="3.4" fill="url(#gg)"/><ellipse cx="368.8" cy="334.1" rx="4.2" ry="2.9" fill="url(#rg)"/><ellipse cx="374.6" cy="334.8" rx="4.2" ry="2.8" fill="url(#rg)"/><ellipse cx="358.9" cy="338.1" rx="4.9" ry="3.3" fill="url(#rg)"/><ellipse cx="365.5" cy="339.3" rx="4.2" ry="2.8" fill="url(#gg)"/><ellipse cx="369.4" cy="338.5" rx="4.4" ry="3.0" fill="url(#gg)"/>
<ellipse cx="352.0" cy="344.3" rx="4.1" ry="2.8" fill="url(#gg)"/><ellipse cx="356.7" cy="344.6" rx="4.0" ry="2.7" fill="url(#gg)"/><ellipse cx="361.6" cy="346.2" rx="4.7" ry="3.2" fill="url(#rg)"/><ellipse cx="368.2" cy="346.2" rx="4.4" ry="3.0" fill="url(#rg)"/><ellipse cx="352.8" cy="348.2" rx="3.8" ry="2.6" fill="url(#gg)"/><ellipse cx="359.6" cy="348.9" rx="4.0" ry="2.7" fill="url(#rg)"/><ellipse cx="365.0" cy="348.7" rx="4.7" ry="3.2" fill="url(#rg)"/>
<ellipse cx="385.6" cy="318.9" rx="3.9" ry="2.6" fill="url(#rg)"/><ellipse cx="390.5" cy="317.7" rx="3.6" ry="2.4" fill="url(#gg)"/><ellipse cx="379.3" cy="321.8" rx="3.8" ry="2.6" fill="url(#rg)"/><ellipse cx="385.5" cy="321.9" rx="3.7" ry="2.5" fill="url(#gg)"/><ellipse cx="389.9" cy="321.9" rx="4.1" ry="2.8" fill="url(#rg)"/><ellipse cx="395.6" cy="321.6" rx="3.7" ry="2.5" fill="url(#rg)"/><ellipse cx="399.8" cy="322.4" rx="3.8" ry="2.6" fill="url(#gg)"/>
<ellipse cx="379.2" cy="333.1" rx="4.6" ry="3.1" fill="url(#rg)"/><ellipse cx="382.3" cy="331.9" rx="4.4" ry="3.0" fill="url(#gg)"/><ellipse cx="388.0" cy="332.8" rx="3.8" ry="2.6" fill="url(#rg)"/><ellipse cx="393.2" cy="333.7" rx="4.0" ry="2.7" fill="url(#gg)"/><ellipse cx="397.1" cy="331.5" rx="4.6" ry="3.1" fill="url(#rg)"/><ellipse cx="378.8" cy="336.7" rx="4.5" ry="3.1" fill="url(#gg)"/><ellipse cx="384.1" cy="336.7" rx="4.2" ry="2.9" fill="url(#rg)"/><ellipse cx="389.7" cy="337.9" rx="3.9" ry="2.6" fill="url(#rg)"/><ellipse cx="393.9" cy="338.0" rx="4.3" ry="2.9" fill="url(#rg)"/>
<ellipse cx="461.2" cy="327.0" rx="4.4" ry="3.0" fill="url(#gg)"/><ellipse cx="451.9" cy="331.2" rx="4.6" ry="3.1" fill="url(#gg)"/><ellipse cx="455.8" cy="330.6" rx="4.1" ry="2.8" fill="url(#rg)"/><ellipse cx="459.6" cy="330.1" rx="4.5" ry="3.0" fill="url(#gg)"/><ellipse cx="467.1" cy="331.4" rx="4.4" ry="3.0" fill="url(#rg)"/><ellipse cx="472.2" cy="330.6" rx="4.3" ry="2.9" fill="url(#gg)"/><ellipse cx="455.5" cy="334.0" rx="3.8" ry="2.6" fill="url(#gg)"/><ellipse cx="461.2" cy="335.5" rx="4.6" ry="3.1" fill="url(#gg)"/><ellipse cx="465.3" cy="334.6" rx="4.0" ry="2.7" fill="url(#gg)"/><ellipse cx="471.1" cy="333.3" rx="3.9" ry="2.7" fill="url(#gg)"/>
<ellipse cx="482.1" cy="318.6" rx="4.2" ry="2.9" fill="url(#gg)"/><ellipse cx="487.2" cy="318.6" rx="4.2" ry="2.9" fill="url(#rg)"/><ellipse cx="493.4" cy="318.9" rx="4.6" ry="3.1" fill="url(#gg)"/><ellipse cx="476.8" cy="322.6" rx="4.2" ry="2.9" fill="url(#rg)"/><ellipse cx="480.0" cy="322.9" rx="4.9" ry="3.4" fill="url(#gg)"/><ellipse cx="487.6" cy="323.2" rx="5.2" ry="3.5" fill="url(#gg)"/><ellipse cx="492.8" cy="321.7" rx="4.3" ry="2.9" fill="url(#gg)"/><ellipse cx="499.4" cy="323.2" rx="4.5" ry="3.1" fill="url(#rg)"/><ellipse cx="475.6" cy="327.4" rx="5.2" ry="3.5" fill="url(#rg)"/><ellipse cx="480.8" cy="327.5" rx="4.1" ry="2.8" fill="url(#rg)"/><ellipse cx="486.0" cy="328.0" rx="4.4" ry="3.0" fill="url(#gg)"/><ellipse cx="492.1" cy="327.1" rx="4.4" ry="3.0" fill="url(#rg)"/><ellipse cx="496.2" cy="326.8" rx="4.8" ry="3.3" fill="url(#rg)"/><ellipse cx="476.7" cy="331.4" rx="5.2" ry="3.5" fill="url(#gg)"/><ellipse cx="481.6" cy="330.1" rx="4.5" ry="3.0" fill="url(#rg)"/><ellipse cx="485.8" cy="331.0" rx="4.1" ry="2.8" fill="url(#gg)"/><ellipse cx="492.4" cy="331.2" rx="4.3" ry="3.0" fill="url(#rg)"/><ellipse cx="498.6" cy="330.2" rx="5.0" ry="3.4" fill="url(#rg)"/><ellipse cx="484.0" cy="336.5" rx="5.1" ry="3.5" fill="url(#gg)"/><ellipse cx="491.4" cy="336.5" rx="5.0" ry="3.4" fill="url(#rg)"/>
<ellipse cx="491.3" cy="308.5" rx="2.5" ry="1.7" fill="url(#rg)"/>
<ellipse cx="503.6" cy="345.1" rx="5.9" ry="4.0" fill="url(#rg)"/><ellipse cx="497.5" cy="349.1" rx="5.6" ry="3.8" fill="url(#rg)"/><ellipse cx="503.2" cy="349.0" rx="6.4" ry="4.3" fill="url(#gg)"/><ellipse cx="510.7" cy="350.2" rx="6.5" ry="4.4" fill="url(#rg)"/><ellipse cx="493.9" cy="354.8" rx="5.6" ry="3.8" fill="url(#gg)"/><ellipse cx="500.1" cy="355.0" rx="5.5" ry="3.8" fill="url(#gg)"/><ellipse cx="506.1" cy="354.1" rx="5.1" ry="3.5" fill="url(#rg)"/><ellipse cx="513.2" cy="353.7" rx="6.2" ry="4.2" fill="url(#gg)"/><ellipse cx="493.4" cy="359.7" rx="5.4" ry="3.7" fill="url(#rg)"/><ellipse cx="500.8" cy="358.6" rx="5.1" ry="3.5" fill="url(#rg)"/><ellipse cx="505.8" cy="358.3" rx="5.7" ry="3.9" fill="url(#rg)"/><ellipse cx="512.2" cy="358.4" rx="5.9" ry="4.0" fill="url(#rg)"/><ellipse cx="499.3" cy="364.8" rx="6.1" ry="4.1" fill="url(#rg)"/><ellipse cx="507.0" cy="363.6" rx="5.4" ry="3.7" fill="url(#gg)"/>
<ellipse cx="496.2" cy="346.6" rx="3.2" ry="2.2" fill="url(#gg)"/><ellipse cx="501.5" cy="345.7" rx="3.3" ry="2.3" fill="url(#rg)"/>
<ellipse cx="284.3" cy="445.9" rx="4.7" ry="3.2" fill="url(#rg)"/><ellipse cx="269.9" cy="449.1" rx="4.5" ry="3.1" fill="url(#gg)"/><ellipse cx="274.8" cy="449.7" rx="3.8" ry="2.6" fill="url(#gg)"/><ellipse cx="279.7" cy="449.9" rx="4.7" ry="3.2" fill="url(#rg)"/><ellipse cx="285.4" cy="448.9" rx="3.8" ry="2.6" fill="url(#gg)"/><ellipse cx="290.2" cy="449.3" rx="4.7" ry="3.2" fill="url(#gg)"/><ellipse cx="295.0" cy="450.9" rx="4.4" ry="3.0" fill="url(#rg)"/><ellipse cx="269.4" cy="452.9" rx="4.2" ry="2.9" fill="url(#rg)"/><ellipse cx="276.6" cy="454.0" rx="4.5" ry="3.1" fill="url(#gg)"/><ellipse cx="282.2" cy="454.3" rx="4.0" ry="2.7" fill="url(#rg)"/><ellipse cx="286.7" cy="455.2" rx="3.9" ry="2.7" fill="url(#rg)"/><ellipse cx="293.0" cy="454.9" rx="4.4" ry="3.0" fill="url(#gg)"/><ellipse cx="285.6" cy="457.3" rx="4.2" ry="2.8" fill="url(#gg)"/>
<ellipse cx="262.0" cy="455.0" rx="5.0" ry="3.4" fill="url(#rg)"/><ellipse cx="268.3" cy="455.7" rx="4.7" ry="3.2" fill="url(#rg)"/><ellipse cx="274.9" cy="456.6" rx="4.6" ry="3.1" fill="url(#gg)"/><ellipse cx="279.1" cy="455.0" rx="4.4" ry="3.0" fill="url(#gg)"/><ellipse cx="259.1" cy="461.6" rx="5.1" ry="3.5" fill="url(#rg)"/><ellipse cx="264.1" cy="461.7" rx="4.5" ry="3.1" fill="url(#rg)"/><ellipse cx="269.8" cy="460.5" rx="4.5" ry="3.1" fill="url(#gg)"/><ellipse cx="275.9" cy="461.3" rx="4.5" ry="3.0" fill="url(#rg)"/><ellipse cx="283.7" cy="460.1" rx="4.8" ry="3.3" fill="url(#rg)"/><ellipse cx="258.2" cy="466.3" rx="5.2" ry="3.5" fill="url(#rg)"/><ellipse cx="265.4" cy="465.2" rx="5.1" ry="3.4" fill="url(#rg)"/><ellipse cx="271.2" cy="464.7" rx="4.6" ry="3.1" fill="url(#rg)"/><ellipse cx="277.4" cy="465.5" rx="4.7" ry="3.2" fill="url(#rg)"/><ellipse cx="284.0" cy="464.6" rx="4.3" ry="2.9" fill="url(#gg)"/><ellipse cx="256.9" cy="471.2" rx="4.7" ry="3.2" fill="url(#gg)"/><ellipse cx="261.0" cy="468.9" rx="5.0" ry="3.4" fill="url(#gg)"/><ellipse cx="268.1" cy="469.9" rx="5.0" ry="3.4" fill="url(#gg)"/><ellipse cx="272.5" cy="469.9" rx="4.5" ry="3.1" fill="url(#rg)"/><ellipse cx="278.5" cy="470.1" rx="5.1" ry="3.5" fill="url(#gg)"/><ellipse cx="284.7" cy="469.8" rx="5.3" ry="3.6" fill="url(#rg)"/><ellipse cx="258.5" cy="473.7" rx="5.4" ry="3.7" fill="url(#gg)"/><ellipse cx="263.2" cy="474.6" rx="4.4" ry="3.0" fill="url(#gg)"/><ellipse cx="268.2" cy="475.1" rx="4.6" ry="3.1" fill="url(#rg)"/><ellipse cx="275.3" cy="474.2" rx="4.7" ry="3.2" fill="url(#gg)"/><ellipse cx="279.0" cy="474.0" rx="4.8" ry="3.3" fill="url(#gg)"/><ellipse cx="262.3" cy="479.4" rx="5.0" ry="3.4" fill="url(#gg)"/><ellipse cx="269.2" cy="479.1" rx="4.4" ry="3.0" fill="url(#rg)"/><ellipse cx="275.5" cy="479.0" rx="5.0" ry="3.4" fill="url(#gg)"/><ellipse cx="282.2" cy="478.2" rx="5.2" ry="3.5" fill="url(#rg)"/>
<ellipse cx="276.6" cy="483.3" rx="4.5" ry="3.1" fill="url(#rg)"/><ellipse cx="260.8" cy="486.5" rx="4.4" ry="3.0" fill="url(#gg)"/><ellipse cx="265.7" cy="486.2" rx="4.6" ry="3.1" fill="url(#rg)"/><ellipse cx="270.7" cy="486.9" rx="4.7" ry="3.2" fill="url(#rg)"/><ellipse cx="275.4" cy="487.0" rx="4.7" ry="3.2" fill="url(#rg)"/><ellipse cx="280.8" cy="486.8" rx="4.0" ry="2.7" fill="url(#gg)"/><ellipse cx="287.0" cy="486.6" rx="3.9" ry="2.6" fill="url(#gg)"/><ellipse cx="267.3" cy="491.8" rx="4.0" ry="2.7" fill="url(#gg)"/><ellipse cx="270.6" cy="490.3" rx="4.2" ry="2.9" fill="url(#rg)"/><ellipse cx="277.2" cy="491.9" rx="4.5" ry="3.0" fill="url(#gg)"/><ellipse cx="281.9" cy="491.2" rx="3.8" ry="2.6" fill="url(#gg)"/><ellipse cx="286.8" cy="490.0" rx="4.1" ry="2.8" fill="url(#rg)"/>
<ellipse cx="383.8" cy="402.0" rx="3.7" ry="2.5" fill="url(#gg)"/><ellipse cx="383.1" cy="405.7" rx="4.2" ry="2.8" fill="url(#gg)"/><ellipse cx="387.4" cy="404.3" rx="3.9" ry="2.7" fill="url(#gg)"/><ellipse cx="393.7" cy="405.0" rx="4.1" ry="2.8" fill="url(#rg)"/>
<ellipse cx="380.5" cy="411.3" rx="5.2" ry="3.5" fill="url(#rg)"/><ellipse cx="387.1" cy="413.2" rx="4.3" ry="2.9" fill="url(#gg)"/><ellipse cx="392.6" cy="412.6" rx="5.0" ry="3.4" fill="url(#rg)"/><ellipse cx="400.2" cy="412.6" rx="5.1" ry="3.5" fill="url(#rg)"/><ellipse cx="376.3" cy="416.1" rx="4.9" ry="3.3" fill="url(#gg)"/><ellipse cx="382.4" cy="417.8" rx="5.0" ry="3.4" fill="url(#gg)"/><ellipse cx="388.3" cy="417.9" rx="5.2" ry="3.6" fill="url(#gg)"/><ellipse cx="394.5" cy="417.6" rx="4.9" ry="3.3" fill="url(#gg)"/><ellipse cx="401.4" cy="417.5" rx="4.3" ry="2.9" fill="url(#gg)"/><ellipse cx="376.4" cy="422.1" rx="5.1" ry="3.5" fill="url(#rg)"/><ellipse cx="384.1" cy="422.5" rx="4.9" ry="3.3" fill="url(#rg)"/><ellipse cx="388.8" cy="422.5" rx="4.9" ry="3.3" fill="url(#rg)"/><ellipse cx="395.7" cy="420.9" rx="5.3" ry="3.6" fill="url(#gg)"/><ellipse cx="401.4" cy="422.4" rx="4.7" ry="3.2" fill="url(#rg)"/><ellipse cx="380.8" cy="425.5" rx="5.0" ry="3.4" fill="url(#gg)"/><ellipse cx="386.1" cy="425.5" rx="5.2" ry="3.6" fill="url(#rg)"/><ellipse cx="392.4" cy="426.2" rx="4.6" ry="3.2" fill="url(#gg)"/><ellipse cx="397.4" cy="425.9" rx="4.6" ry="3.1" fill="url(#gg)"/><ellipse cx="381.0" cy="429.7" rx="4.9" ry="3.3" fill="url(#rg)"/><ellipse cx="387.8" cy="430.6" rx="5.2" ry="3.6" fill="url(#gg)"/><ellipse cx="391.8" cy="430.1" rx="5.0" ry="3.4" fill="url(#rg)"/><ellipse cx="399.4" cy="430.8" rx="4.4" ry="3.0" fill="url(#gg)"/><ellipse cx="385.7" cy="434.3" rx="5.0" ry="3.4" fill="url(#rg)"/>
<ellipse cx="381.2" cy="436.4" rx="4.5" ry="3.1" fill="url(#rg)"/><ellipse cx="387.7" cy="435.4" rx="4.0" ry="2.8" fill="url(#gg)"/><ellipse cx="392.9" cy="436.2" rx="4.5" ry="3.0" fill="url(#gg)"/><ellipse cx="374.7" cy="439.1" rx="4.1" ry="2.8" fill="url(#gg)"/><ellipse cx="381.6" cy="440.0" rx="4.7" ry="3.2" fill="url(#rg)"/><ellipse cx="386.3" cy="439.0" rx="4.5" ry="3.1" fill="url(#gg)"/><ellipse cx="393.0" cy="439.5" rx="4.0" ry="2.7" fill="url(#gg)"/><ellipse cx="397.9" cy="440.8" rx="4.2" ry="2.8" fill="url(#rg)"/><ellipse cx="380.6" cy="444.4" rx="4.0" ry="2.8" fill="url(#rg)"/><ellipse cx="387.0" cy="444.0" rx="4.2" ry="2.9" fill="url(#gg)"/><ellipse cx="392.9" cy="445.1" rx="4.3" ry="3.0" fill="url(#gg)"/>
<ellipse cx="483.6" cy="448.5" rx="3.9" ry="2.7" fill="url(#rg)"/><ellipse cx="472.8" cy="452.6" rx="3.2" ry="2.2" fill="url(#gg)"/><ellipse cx="478.2" cy="453.3" rx="3.9" ry="2.6" fill="url(#rg)"/><ellipse cx="483.0" cy="452.1" rx="3.8" ry="2.6" fill="url(#rg)"/><ellipse cx="488.3" cy="452.3" rx="3.6" ry="2.5" fill="url(#gg)"/><ellipse cx="476.7" cy="455.5" rx="3.7" ry="2.5" fill="url(#gg)"/><ellipse cx="480.4" cy="456.9" rx="4.0" ry="2.7" fill="url(#rg)"/><ellipse cx="485.7" cy="456.4" rx="3.3" ry="2.3" fill="url(#gg)"/>
<ellipse cx="472.4" cy="457.9" rx="3.4" ry="2.3" fill="url(#gg)"/><ellipse cx="457.2" cy="461.8" rx="3.9" ry="2.7" fill="url(#rg)"/><ellipse cx="463.6" cy="462.3" rx="3.5" ry="2.4" fill="url(#gg)"/><ellipse cx="468.0" cy="461.9" rx="3.3" ry="2.2" fill="url(#rg)"/><ellipse cx="474.5" cy="460.7" rx="3.4" ry="2.3" fill="url(#rg)"/><ellipse cx="479.2" cy="462.0" rx="3.4" ry="2.3" fill="url(#rg)"/><ellipse cx="457.4" cy="466.2" rx="3.3" ry="2.2" fill="url(#gg)"/><ellipse cx="461.7" cy="463.9" rx="3.4" ry="2.3" fill="url(#rg)"/><ellipse cx="466.9" cy="465.5" rx="3.6" ry="2.5" fill="url(#gg)"/><ellipse cx="472.7" cy="465.4" rx="3.8" ry="2.6" fill="url(#rg)"/><ellipse cx="477.5" cy="465.9" rx="3.9" ry="2.7" fill="url(#gg)"/>
<ellipse cx="459.1" cy="475.4" rx="3.2" ry="2.2" fill="url(#gg)"/><ellipse cx="469.2" cy="474.6" rx="3.0" ry="2.0" fill="url(#gg)"/><ellipse cx="463.3" cy="478.6" rx="3.3" ry="2.2" fill="url(#gg)"/><ellipse cx="467.9" cy="478.1" rx="3.1" ry="2.1" fill="url(#rg)"/>
<ellipse cx="468.2" cy="482.8" rx="4.7" ry="3.2" fill="url(#gg)"/><ellipse cx="462.5" cy="487.3" rx="4.2" ry="2.9" fill="url(#gg)"/><ellipse cx="471.1" cy="486.8" rx="4.5" ry="3.1" fill="url(#gg)"/><ellipse cx="476.2" cy="486.3" rx="4.7" ry="3.2" fill="url(#rg)"/><ellipse cx="481.8" cy="486.3" rx="4.6" ry="3.1" fill="url(#gg)"/><ellipse cx="459.2" cy="491.8" rx="4.1" ry="2.8" fill="url(#rg)"/><ellipse cx="465.1" cy="491.5" rx="4.6" ry="3.1" fill="url(#gg)"/><ellipse cx="470.6" cy="490.8" rx="3.9" ry="2.7" fill="url(#rg)"/><ellipse cx="478.0" cy="491.9" rx="4.5" ry="3.1" fill="url(#rg)"/><ellipse cx="482.2" cy="491.7" rx="4.4" ry="3.0" fill="url(#gg)"/><ellipse cx="455.2" cy="496.3" rx="4.4" ry="3.0" fill="url(#gg)"/><ellipse cx="461.7" cy="495.8" rx="4.5" ry="3.1" fill="url(#rg)"/><ellipse cx="465.6" cy="497.2" rx="4.6" ry="3.2" fill="url(#rg)"/><ellipse cx="471.7" cy="495.5" rx="5.0" ry="3.4" fill="url(#gg)"/><ellipse cx="477.1" cy="495.8" rx="4.7" ry="3.2" fill="url(#rg)"/><ellipse cx="455.7" cy="501.1" rx="4.0" ry="2.7" fill="url(#gg)"/><ellipse cx="463.0" cy="499.6" rx="5.0" ry="3.4" fill="url(#gg)"/><ellipse cx="468.8" cy="500.9" rx="4.4" ry="3.0" fill="url(#gg)"/><ellipse cx="474.7" cy="501.1" rx="4.0" ry="2.7" fill="url(#rg)"/><ellipse cx="479.9" cy="500.5" rx="4.7" ry="3.2" fill="url(#gg)"/><ellipse cx="486.2" cy="500.6" rx="4.4" ry="3.0" fill="url(#gg)"/><ellipse cx="456.0" cy="505.5" rx="4.3" ry="2.9" fill="url(#rg)"/><ellipse cx="462.7" cy="505.4" rx="4.4" ry="3.0" fill="url(#rg)"/><ellipse cx="470.5" cy="506.0" rx="4.8" ry="3.2" fill="url(#gg)"/><ellipse cx="475.7" cy="505.3" rx="4.9" ry="3.3" fill="url(#rg)"/><ellipse cx="482.3" cy="504.7" rx="4.5" ry="3.1" fill="url(#gg)"/><ellipse cx="461.8" cy="509.1" rx="4.2" ry="2.9" fill="url(#gg)"/><ellipse cx="468.9" cy="509.4" rx="4.9" ry="3.3" fill="url(#rg)"/><ellipse cx="472.6" cy="509.6" rx="4.1" ry="2.8" fill="url(#rg)"/><ellipse cx="477.0" cy="509.8" rx="4.9" ry="3.3" fill="url(#gg)"/><ellipse cx="483.5" cy="510.2" rx="4.9" ry="3.3" fill="url(#gg)"/><ellipse cx="462.4" cy="512.9" rx="4.2" ry="2.9" fill="url(#gg)"/><ellipse cx="467.5" cy="513.1" rx="4.3" ry="2.9" fill="url(#rg)"/><ellipse cx="474.1" cy="514.1" rx="4.3" ry="2.9" fill="url(#rg)"/><ellipse cx="481.2" cy="513.1" rx="4.8" ry="3.2" fill="url(#gg)"/>
<ellipse cx="464.1" cy="522.6" rx="3.8" ry="2.6" fill="url(#gg)"/><ellipse cx="475.9" cy="522.0" rx="3.8" ry="2.6" fill="url(#rg)"/><ellipse cx="481.0" cy="520.8" rx="4.1" ry="2.8" fill="url(#gg)"/><ellipse cx="483.6" cy="521.8" rx="3.7" ry="2.5" fill="url(#rg)"/><ellipse cx="489.1" cy="522.1" rx="3.9" ry="2.6" fill="url(#gg)"/><ellipse cx="474.8" cy="526.0" rx="4.0" ry="2.7" fill="url(#gg)"/><ellipse cx="480.2" cy="525.8" rx="4.2" ry="2.8" fill="url(#rg)"/>
<ellipse cx="456.1" cy="535.1" rx="3.2" ry="2.2" fill="url(#gg)"/><ellipse cx="466.7" cy="533.6" rx="3.6" ry="2.4" fill="url(#rg)"/><ellipse cx="472.3" cy="534.7" rx="3.3" ry="2.2" fill="url(#rg)"/><ellipse cx="476.3" cy="533.7" rx="3.1" ry="2.1" fill="url(#rg)"/><ellipse cx="460.5" cy="537.5" rx="3.4" ry="2.3" fill="url(#rg)"/><ellipse cx="465.4" cy="537.3" rx="3.5" ry="2.4" fill="url(#rg)"/>
<g id="panelA">
<text x="5.2" y="20.6" font-family="'Liberation Sans', Arial, Helvetica, sans-serif" font-size="23.2" fill="#111">A</text>
<polyline fill="none" stroke="#ff0a0a" stroke-width="0.8" stroke-linejoin="round" points="61.4,197.0 61.5,192.4 61.5,187.0 61.6,184.2 61.7,177.1 61.8,172.5 61.8,173.1 61.9,164.6 62.0,156.7 62.1,155.1 62.1,152.7 62.2,152.5 62.3,142.6 62.3,143.1 62.4,130.8 62.5,120.9 62.6,129.8 62.6,101.9 62.7,116.2 62.8,122.0 62.8,101.0 62.9,107.0 63.0,99.8 63.1,90.1 63.1,79.3 63.2,105.6 63.3,93.8 63.4,109.7 63.4,91.7 63.5,105.2 63.6,94.0 63.6,90.9 63.7,94.2 63.8,107.4 63.9,104.2 63.9,105.9 64.0,110.8 64.1,85.1 64.1,76.9 64.2,109.9 64.3,93.5 64.4,107.3 64.4,104.9 64.5,103.9 64.6,108.0 64.7,78.8 64.7,99.9 64.8,98.3 64.9,103.1 64.9,118.0 65.0,118.4 65.1,99.8 65.2,136.4 65.2,109.6 65.3,66.6 65.4,106.6 65.4,117.7 65.5,106.5 65.6,113.1 65.7,120.5 65.7,108.3 65.8,104.0 65.9,101.6 66.0,90.6 66.0,91.6 66.1,104.3 66.2,101.2 66.2,102.3 66.3,101.0 66.4,108.8 66.5,110.5 66.5,107.7 66.6,91.8 66.7,112.1 66.7,108.0 66.8,101.9 66.9,126.5 67.0,92.7 67.0,92.1 67.1,102.2 67.2,104.0 67.3,95.7 67.3,114.4 67.4,104.5 67.5,101.1 67.5,93.7 67.6,110.0 67.7,117.6 67.8,108.7 67.8,101.1 67.9,108.7 68.0,90.0 68.1,114.4 68.1,133.9 68.2,112.3 68.3,99.0 68.3,94.2 68.4,126.3 68.5,108.8 68.6,116.2 68.6,81.8 68.7,104.3 68.8,82.8 68.8,99.5 68.9,108.8 69.0,98.1 69.1,108.7 69.1,110.6 69.2,105.0 69.3,126.2 69.4,104.8 69.4,105.1 69.5,113.4 69.6,107.4 69.6,121.7 69.7,124.7 69.8,106.5 69.9,104.4 69.9,105.9 70.0,115.8 70.1,106.9 70.1,91.1 70.2,87.7 70.3,97.2 70.4,103.7 70.4,128.1 70.5,107.7 70.6,90.2 70.7,89.6 70.7,110.8 70.8,99.0 70.9,102.2 70.9,107.2 71.0,117.0 71.1,117.3 71.2,89.5 71.2,110.8 71.3,108.8 71.4,108.9 71.4,116.7 71.5,114.4 71.6,97.6 71.7,104.0 71.7,124.4 71.8,105.1 71.9,113.3 72.0,102.8 72.0,106.7 72.1,98.6 72.2,106.1 72.2,93.9 72.3,112.2 72.4,104.6 72.5,101.8 72.5,92.9 72.6,99.4 72.7,103.3 72.8,118.0 72.8,110.7 72.9,105.0 73.0,82.0 73.0,122.4 73.1,116.1 73.2,120.6 73.3,107.3 73.3,103.3 73.4,114.7 73.5,108.5 73.5,114.7 73.6,77.2 73.7,121.2 73.8,102.4 73.8,89.5 73.9,90.9 74.0,82.3 74.1,106.4 74.1,105.1 74.2,98.0 74.3,97.0 74.3,102.6 74.4,106.0 74.5,98.2 74.6,98.1 74.6,107.6 74.7,102.9 74.8,102.8 74.8,91.1 74.9,94.5 75.0,93.5 75.1,100.3 75.1,108.4 75.2,100.3 75.3,108.9 75.4,103.4 75.4,107.1 75.5,116.1 75.6,111.9 75.6,114.5 75.7,118.5 75.8,118.3 75.9,101.1 75.9,113.1 76.0,114.2 76.1,109.8 76.1,105.9 76.2,97.8 76.3,108.7 76.4,118.8 76.4,99.4 76.5,94.0 76.6,105.4 76.7,120.1 76.7,104.6 76.8,97.7 76.9,97.3 76.9,113.4 77.0,90.5 77.1,100.8 77.2,115.1 77.2,103.9 77.3,102.6 77.4,118.1 77.4,94.5 77.5,96.1 77.6,117.7 77.7,99.6 77.7,97.3 77.8,111.1 77.9,99.4 78.0,102.4 78.0,118.6 78.1,109.1 78.2,114.6 78.2,108.1 78.3,109.4 78.4,101.0 78.5,103.7 78.5,108.2 78.6,92.2 78.7,98.2 78.8,108.2 78.8,83.7 78.9,106.1 79.0,128.5 79.0,119.8 79.1,124.3 79.2,109.6 79.3,123.5 79.3,103.3 79.4,106.3 79.5,95.4 79.5,106.1 79.6,95.4 79.7,101.7 79.8,121.8 79.8,101.4 79.9,89.4 80.0,98.9 80.1,90.0 80.1,111.2 80.2,84.6 80.3,95.2 80.3,104.9 80.4,111.3 80.5,107.9 80.6,106.2 80.6,104.1 80.7,120.0 80.8,99.7 80.8,84.3 80.9,129.5 81.0,106.7 81.1,104.7 81.1,108.5 81.2,109.3 81.3,100.7 81.4,112.1 81.4,89.7 81.5,112.0 81.6,107.0 81.6,94.4 81.7,95.6 81.8,89.2 81.9,99.8 81.9,125.3 82.0,95.8 82.1,113.5 82.1,107.5 82.2,112.3 82.3,109.0 82.4,97.9 82.4,91.5 82.5,111.0 82.6,82.9 82.7,103.3 82.7,112.9 82.8,123.4 82.9,98.0 82.9,104.4 83.0,101.5 83.1,125.4 83.2,93.7 83.2,98.1 83.3,121.5 83.4,105.7 83.5,110.7 83.5,108.4 83.6,111.3 83.7,114.4 83.7,107.3 83.8,107.8 83.9,112.4 84.0,113.8 84.0,93.5 84.1,86.7 84.2,106.0 84.2,90.3 84.3,111.9 84.4,123.1 84.5,109.3 84.5,85.5 84.6,115.4 84.7,108.8 84.8,79.6 84.8,114.0 84.9,116.6 85.0,108.4 85.0,105.7 85.1,109.6 85.2,93.9 85.3,109.1 85.3,86.2 85.4,104.8 85.5,122.7 85.5,105.0 85.6,115.8 85.7,117.1 85.8,110.3 85.8,105.5 85.9,117.7 86.0,116.6 86.1,105.6 86.1,108.4 86.2,119.8 86.3,98.8 86.3,98.3 86.4,125.3 86.5,114.5 86.6,121.3 86.6,113.3 86.7,108.3 86.8,95.8 86.8,119.1 86.9,92.6 87.0,103.0 87.1,107.7 87.1,106.9 87.2,117.5 87.3,115.3 87.4,88.5 87.4,93.0 87.5,109.8 87.6,115.2 87.6,123.2 87.7,128.9 87.8,102.8 87.9,112.7 87.9,91.3 88.0,95.8 88.1,110.5 88.1,112.8 88.2,109.6 88.3,102.0 88.4,102.3 88.4,79.6 88.5,89.6 88.6,93.7 88.7,131.7 88.7,101.9 88.8,110.7 88.9,111.0 88.9,121.1 89.0,107.6 89.1,110.8 89.2,113.5 89.2,96.7 89.3,124.7 89.4,107.0 89.5,107.5 89.5,120.5 89.6,99.9 89.7,107.5 89.7,81.6 89.8,114.6 89.9,117.8 90.0,104.5 90.0,116.1 90.1,109.9 90.2,100.6 90.2,125.4 90.3,103.4 90.4,68.9 90.5,106.5 90.5,98.5 90.6,105.2 90.7,99.0 90.8,104.2 90.8,106.7 90.9,98.6 91.0,95.0 91.0,99.4 91.1,108.2 91.2,109.3 91.3,125.6 91.3,113.7 91.4,114.4 91.5,96.9 91.5,108.0 91.6,95.0 91.7,96.6 91.8,112.0 91.8,99.5 91.9,104.4 92.0,96.3 92.1,114.2 92.1,86.4 92.2,121.9 92.3,104.4 92.3,94.5 92.4,122.4 92.5,98.3 92.6,88.7 92.6,95.0 92.7,92.5 92.8,126.0 92.8,96.6 92.9,99.1 93.0,96.4 93.1,100.5 93.1,114.4 93.2,105.9 93.3,107.8 93.4,126.6 93.4,84.1 93.5,98.6 93.6,99.2 93.6,99.4 93.7,104.5 93.8,100.9 93.9,102.8 93.9,117.9 94.0,103.8 94.1,99.2 94.2,105.0 94.2,95.5 94.3,88.4 94.4,90.9 94.4,103.6 94.5,96.5 94.6,120.5 94.7,101.2 94.7,124.6 94.8,108.4 94.9,106.9 94.9,107.1 95.0,91.1 95.1,105.7 95.2,93.9 95.2,110.3 95.3,128.9 95.4,88.7 95.5,121.3 95.5,109.7 95.6,113.9 95.7,99.8 95.7,107.7 95.8,100.6 95.9,102.3 96.0,91.9 96.0,100.9 96.1,88.5 96.2,103.0 96.2,115.0 96.3,89.4 96.4,90.9 96.5,116.9 96.5,119.1 96.6,110.4 96.7,111.9 96.8,103.9 96.8,105.9 96.9,98.4 97.0,122.3 97.0,111.6 97.1,88.5 97.2,95.3 97.3,107.7 97.3,87.9 97.4,95.0 97.5,133.1 97.5,116.8 97.6,97.5 97.7,107.6 97.8,95.4 97.8,106.7 97.9,97.3 98.0,96.1 98.1,95.6 98.1,100.8 98.2,103.7 98.3,102.9 98.3,101.9 98.4,116.0 98.5,111.2 98.6,97.5 98.6,102.1 98.7,101.4 98.8,112.7 98.8,103.4 98.9,102.5 99.0,119.2 99.1,121.0 99.1,103.3 99.2,94.2 99.3,104.5 99.4,93.3 99.4,118.9 99.5,111.0 99.6,110.8 99.6,89.5 99.7,116.5 99.8,97.5 99.9,91.3 99.9,104.4 100.0,110.8 100.1,110.9 100.2,85.2 100.2,105.5 100.3,109.9 100.4,126.2 100.4,95.4 100.5,92.3 100.6,109.4 100.7,116.3 100.7,104.4 100.8,116.8 100.9,112.8 100.9,90.1 101.0,104.0 101.1,99.8 101.2,106.4 101.2,104.2 101.3,133.9 101.4,107.3 101.5,103.3 101.5,123.3 101.6,115.6 101.7,95.3 101.7,85.1 101.8,108.6 101.9,83.4 102.0,110.7 102.0,86.5 102.1,117.2 102.2,110.0 102.2,102.8 102.3,124.9 102.4,94.7 102.5,125.6 102.5,104.6 102.6,115.1 102.7,117.5 102.8,96.6 102.8,90.6 102.9,99.2 103.0,102.6 103.0,108.8 103.1,72.5 103.2,112.9 103.3,100.5 103.3,95.6 103.4,101.3 103.5,91.8 103.5,109.0 103.6,85.8 103.7,99.3 103.8,119.5 103.8,101.4 103.9,97.1 104.0,120.6 104.1,103.7 104.1,95.9 104.2,124.0 104.3,107.6 104.3,100.9 104.4,120.9 104.5,126.9 104.6,114.0 104.6,103.9 104.7,123.0 104.8,106.6 104.9,119.1 104.9,101.5 105.0,112.1 105.1,92.4 105.1,91.6 105.2,93.5 105.3,113.9 105.4,131.5 105.4,105.9 105.5,116.2 105.6,95.7 105.6,93.9 105.7,105.7 105.8,102.2 105.9,88.6 105.9,103.8 106.0,102.1 106.1,109.6 106.2,83.2 106.2,98.0 106.3,108.7 106.4,89.6 106.4,110.7 106.5,103.9 106.6,107.4 106.7,99.6 106.7,99.1 106.8,93.9 106.9,119.5 106.9,104.4 107.0,88.7 107.1,96.8 107.2,96.5 107.2,95.7 107.3,106.9 107.4,100.1 107.5,94.1 107.5,121.7 107.6,84.3 107.7,120.3 107.7,111.9 107.8,115.2 107.9,106.8 108.0,105.4 108.0,89.0 108.1,114.5 108.2,110.5 108.2,114.3 108.3,122.3 108.4,96.9 108.5,115.0 108.5,107.6 108.6,125.3 108.7,116.4 108.8,108.5 108.8,115.7 108.9,97.7 109.0,99.1 109.0,102.7 109.1,121.1 109.2,99.0 109.3,114.0 109.3,99.5 109.4,91.0 109.5,102.9 109.5,126.0 109.6,114.7 109.7,94.8 109.8,108.7 109.8,97.0 109.9,106.6 110.0,113.1 110.1,102.6 110.1,113.0 110.2,119.2 110.3,98.1 110.3,116.1 110.4,116.4 110.5,103.5 110.6,111.4 110.6,108.8 110.7,112.2 110.8,86.2 110.9,110.7 110.9,99.7 111.0,109.6 111.1,117.7 111.1,116.0 111.2,115.3 111.3,114.9 111.4,105.0 111.4,95.8 111.5,106.1 111.6,95.0 111.6,89.6 111.7,114.8 111.8,110.5 111.9,118.4 111.9,110.6 112.0,95.7 112.1,130.9 112.2,110.9 112.2,108.4 112.3,110.2 112.4,95.2 112.4,106.9 112.5,97.6 112.6,102.9 112.7,123.8 112.7,106.2 112.8,94.2 112.9,105.6 112.9,97.6 113.0,105.3 113.1,108.6 113.2,93.3 113.2,109.6 113.3,132.0 113.4,104.9 113.5,115.2 113.5,99.5 113.6,104.6 113.7,106.4 113.7,118.8 113.8,113.9 113.9,105.5 114.0,107.9 114.0,93.4 114.1,112.8 114.2,106.8 114.2,103.4 114.3,100.2 114.4,103.6 114.5,91.2 114.5,107.2 114.6,99.3 114.7,91.9 114.8,123.8 114.8,113.6 114.9,91.2 115.0,89.9 115.0,103.8 115.1,116.3 115.2,101.7 115.3,118.9 115.3,106.0 115.4,93.3 115.5,86.1 115.6,109.6 115.6,93.0 115.7,100.2 115.8,115.9 115.8,101.1 115.9,70.9 116.0,92.7 116.1,96.5 116.1,107.7 116.2,117.9 116.3,100.2 116.3,89.6 116.4,105.8 116.5,109.4 116.6,107.4 116.6,114.6 116.7,118.4 116.8,119.2 116.9,98.9 116.9,102.3 117.0,115.4 117.1,102.3 117.1,101.6 117.2,111.1 117.3,110.9 117.4,113.3 117.4,107.5 117.5,108.3 117.6,120.8 117.6,106.7 117.7,90.5 117.8,107.9 117.9,100.5 117.9,94.6 118.0,110.5 118.1,104.3 118.2,111.2 118.2,98.1 118.3,125.8 118.4,103.6 118.4,86.2 118.5,83.3 118.6,99.7 118.7,105.0 118.7,115.6 118.8,98.8 118.9,131.6 118.9,121.9 119.0,122.0 119.1,112.8 119.2,105.9 119.2,90.3 119.3,117.0 119.4,95.5 119.5,105.7 119.5,88.9 119.6,104.7 119.7,106.2 119.7,120.3 119.8,113.6 119.9,103.2 120.0,102.7 120.0,88.9 120.1,115.0 120.2,97.2 120.2,126.2 120.3,113.1 120.4,107.0 120.5,111.8 120.5,105.6 120.6,112.4 120.7,110.6 120.8,106.8 120.8,101.7 120.9,108.0 121.0,98.9 121.0,98.9 121.1,99.1 121.2,110.7 121.3,110.0 121.3,105.4 121.4,108.6 121.5,107.9 121.6,114.2 121.6,118.3 121.7,103.8 121.8,113.8 121.8,101.4 121.9,103.0 122.0,112.9 122.1,118.1 122.1,98.6 122.2,99.3 122.3,100.1 122.3,88.5 122.4,103.2 122.5,104.7 122.6,84.1 122.6,98.9 122.7,86.5 122.8,101.5 122.9,102.3 122.9,100.5 123.0,102.3 123.1,103.0 123.1,107.7 123.2,120.0 123.3,129.9 123.4,115.0 123.4,88.4 123.5,106.4 123.6,103.7 123.6,91.0 123.7,86.5 123.8,107.4 123.9,122.6 123.9,114.3 124.0,119.0 124.1,118.2 124.2,106.0 124.2,91.3 124.3,92.9 124.4,105.8 124.4,114.8 124.5,119.8 124.6,112.6 124.7,106.0 124.7,85.8 124.8,91.0 124.9,114.2 124.9,91.6 125.0,90.9 125.1,87.3 125.2,97.1 125.2,96.6 125.3,94.1 125.4,101.9 125.5,89.7 125.5,87.6 125.6,104.2 125.7,117.5 125.7,105.7 125.8,109.2 125.9,96.3 126.0,124.9 126.0,96.6 126.1,84.3 126.2,95.2 126.3,107.8 126.3,96.7 126.4,107.5 126.5,81.5 126.5,108.7 126.6,102.1 126.7,89.4 126.8,94.2 126.8,108.2 126.9,96.3 127.0,103.5 127.0,99.5 127.1,102.4 127.2,115.3 127.3,117.6 127.3,99.6 127.4,102.8 127.5,125.8 127.6,103.0 127.6,118.1 127.7,85.4 127.8,118.7 127.8,102.0 127.9,125.3 128.0,107.4 128.1,105.9 128.1,85.2 128.2,104.0 128.3,103.0 128.3,107.4 128.4,107.3 128.5,110.9 128.6,99.5 128.6,93.5 128.7,93.1 128.8,103.4 128.9,100.4 128.9,82.7 129.0,95.7 129.1,118.9 129.1,103.0 129.2,96.2 129.3,93.8 129.4,96.6 129.4,90.4 129.5,104.6 129.6,91.2 129.6,110.2 129.7,105.1 129.8,114.1 129.9,96.3 129.9,115.8 130.0,115.5 130.1,119.9 130.2,103.0 130.2,102.7 130.3,94.1 130.4,116.5 130.4,104.6 130.5,107.8 130.6,108.8 130.7,103.2 130.7,116.0 130.8,127.7 130.9,109.3 130.9,103.5 131.0,99.9 131.1,115.2 131.2,102.6 131.2,99.1 131.3,108.6 131.4,107.3 131.5,109.5 131.5,104.1 131.6,92.0 131.7,112.8 131.7,113.9 131.8,94.6 131.9,136.3 132.0,97.2 132.0,120.6 132.1,95.9 132.2,110.0 132.3,125.4 132.3,121.5 132.4,116.3 132.5,118.6 132.5,97.8 132.6,86.6 132.7,111.5 132.8,109.8 132.8,128.4 132.9,93.8 133.0,110.8 133.0,104.7 133.1,104.9 133.2,105.6 133.3,111.7 133.3,124.2 133.4,100.7 133.5,89.7 133.6,110.4 133.6,106.3 133.7,102.5 133.8,89.6 133.8,139.3 133.9,103.3 134.0,118.3 134.1,115.6 134.1,106.3 134.2,102.6 134.3,105.5 134.3,116.3 134.4,118.9 134.5,109.4 134.6,129.9 134.6,119.3 134.7,104.0 134.8,112.3 134.9,103.0 134.9,133.4 135.0,94.6 135.1,114.8 135.1,104.6 135.2,66.6 135.3,104.0 135.4,101.7 135.4,117.0 135.5,97.5 135.6,105.3 135.6,106.1 135.7,122.0 135.8,112.8 135.9,108.6 135.9,101.8 136.0,104.8 136.1,103.1 136.2,104.2 136.2,105.8 136.3,86.8 136.4,117.8 136.4,92.0 136.5,109.4 136.6,96.5 136.7,111.8 136.7,100.6 136.8,115.2 136.9,121.6 137.0,103.0 137.0,116.4 137.1,98.8 137.2,108.8 137.2,118.8 137.3,119.4 137.4,107.2 137.5,98.1 137.5,113.2 137.6,120.2 137.7,113.4 137.7,92.3 137.8,126.6 137.9,99.9 138.0,129.0 138.0,88.4 138.1,111.7 138.2,97.1 138.3,81.8 138.3,119.4 138.4,98.5 138.5,124.5 138.5,101.7 138.6,103.0 138.7,106.6 138.8,118.8 138.8,108.7 138.9,101.9 139.0,77.8 139.0,118.5 139.1,112.5 139.2,108.7 139.3,97.6 139.3,116.2 139.4,109.7 139.5,102.0 139.6,93.8 139.6,107.4 139.7,87.5 139.8,103.9 139.8,106.5 139.9,117.3 140.0,97.9 140.1,102.6 140.1,100.9 140.2,108.7 140.3,105.6 140.3,87.9 140.4,88.2 140.5,107.1 140.6,96.9 140.6,111.8 140.7,97.0 140.8,120.3 140.9,100.4 140.9,99.7 141.0,87.3 141.1,101.0 141.1,102.9 141.2,113.0 141.3,94.4 141.4,92.7 141.4,96.9 141.5,100.9 141.6,128.3 141.6,94.4 141.7,111.1 141.8,93.8 141.9,84.5 141.9,118.7 142.0,75.6 142.1,107.8 142.2,96.7 142.2,82.7 142.3,103.7 142.4,93.4 142.4,119.4 142.5,87.7 142.6,98.8 142.7,97.7 142.7,109.5 142.8,112.9 142.9,96.8 143.0,93.2 143.0,101.5 143.1,110.9 143.2,104.9 143.2,116.9 143.3,90.6 143.4,123.0 143.5,119.5 143.5,107.7 143.6,131.0 143.7,118.6 143.7,106.3 143.8,87.7 143.9,107.4 144.0,104.6 144.0,106.5 144.1,126.4 144.2,101.6 144.3,109.3 144.3,106.2 144.4,101.8 144.5,107.7 144.5,84.0 144.6,96.9 144.7,100.9 144.8,114.7 144.8,98.0 144.9,116.6 145.0,106.1 145.0,101.5 145.1,107.7 145.2,87.4 145.3,100.4 145.3,107.4 145.4,121.8 145.5,92.4 145.6,86.1 145.6,105.9 145.7,109.9 145.8,119.9 145.8,105.2 145.9,127.3 146.0,96.6 146.1,121.1 146.1,115.5 146.2,87.0 146.3,111.6 146.3,100.7 146.4,119.3 146.5,101.9 146.6,95.1 146.6,123.4 146.7,99.1 146.8,115.7 146.9,98.6 146.9,96.4 147.0,113.7 147.1,105.8 147.1,100.8 147.2,117.1 147.3,101.0 147.4,123.1 147.4,115.9 147.5,97.7 147.6,101.8 147.7,102.6 147.7,106.5 147.8,99.2 147.9,94.4 147.9,103.6 148.0,101.0 148.1,107.6 148.2,103.9 148.2,98.7 148.3,118.1 148.4,114.2 148.4,100.8 148.5,127.8 148.6,91.0 148.7,105.4 148.7,102.9 148.8,99.9 148.9,95.4 149.0,108.2 149.0,119.2 149.1,105.3 149.2,90.9 149.2,79.8 149.3,118.4 149.4,104.2 149.5,111.4 149.5,96.2 149.6,104.7 149.7,89.8 149.7,85.6 149.8,94.9 149.9,80.8 150.0,111.0 150.0,100.3 150.1,102.4 150.2,97.4 150.3,118.2 150.3,90.4 150.4,98.3 150.5,82.7 150.5,116.8 150.6,97.8 150.7,95.1 150.8,117.9 150.8,94.4 150.9,111.2 151.0,96.3 151.0,94.1 151.1,108.3 151.2,93.8 151.3,113.9 151.3,100.4 151.4,107.0 151.5,89.6 151.6,99.0 151.6,123.5 151.7,92.9 151.8,81.3 151.8,114.1 151.9,83.0 152.0,105.9 152.1,84.6 152.1,97.6 152.2,89.3 152.3,97.9 152.3,94.5 152.4,113.2 152.5,89.3 152.6,98.8 152.6,115.9 152.7,108.8 152.8,105.3 152.9,92.3 152.9,98.7 153.0,117.3 153.1,112.4 153.1,99.6 153.2,102.0 153.3,98.6 153.4,91.7 153.4,116.6 153.5,95.8 153.6,103.8 153.7,96.2 153.7,90.0 153.8,109.5 153.9,99.4 153.9,108.6 154.0,99.7 154.1,89.9 154.2,104.5 154.2,102.4 154.3,89.1 154.4,94.8 154.4,96.7 154.5,84.2 154.6,106.4 154.7,81.9 154.7,109.3 154.8,78.0 154.9,84.2 155.0,96.8 155.0,94.1 155.1,85.3 155.2,81.2 155.2,123.0 155.3,103.8 155.4,89.6 155.5,83.9 155.5,108.8 155.6,90.8 155.7,102.8 155.7,104.7 155.8,103.5 155.9,92.9 156.0,88.1 156.0,99.2 156.1,97.2 156.2,91.6 156.3,102.0 156.3,109.8 156.4,107.2 156.5,108.3 156.5,116.6 156.6,108.3 156.7,95.6 156.8,109.7 156.8,104.3 156.9,113.2 157.0,101.3 157.0,115.0 157.1,117.0 157.2,108.2 157.3,95.2 157.3,92.4 157.4,93.5 157.5,85.3 157.6,109.6 157.6,103.5 157.7,101.5 157.8,98.4 157.8,94.7 157.9,106.4 158.0,100.9 158.1,108.6 158.1,108.3 158.2,105.8 158.3,103.2 158.4,93.0 158.4,108.7 158.5,101.5 158.6,76.8 158.6,97.9 158.7,99.1 158.8,110.9 158.9,101.3 158.9,107.4 159.0,112.5 159.1,105.1 159.1,115.5 159.2,94.0 159.3,103.3 159.4,101.2 159.4,106.5 159.5,116.2 159.6,94.5 159.7,89.0 159.7,92.3 159.8,84.2 159.9,97.1 159.9,110.3 160.0,112.8 160.1,75.3 160.2,105.4 160.2,110.4 160.3,98.2 160.4,87.4 160.4,92.1 160.5,112.1 160.6,123.1 160.7,79.1 160.7,95.7 160.8,107.7 160.9,97.6 161.0,100.6 161.0,102.7 161.1,112.6 161.2,107.1 161.2,106.8 161.3,106.2 161.4,95.5 161.5,112.2 161.5,98.5 161.6,99.0 161.7,82.9 161.7,112.2 161.8,99.1 161.9,102.0 162.0,104.2 162.0,108.1 162.1,102.2 162.2,112.5 162.3,118.1 162.3,101.5 162.4,107.5 162.5,115.5 162.5,95.9 162.6,125.6 162.7,120.6 162.8,100.6 162.8,91.4 162.9,112.2 163.0,91.0 163.0,97.8 163.1,100.0 163.2,124.4 163.3,107.7 163.3,113.0 163.4,99.8 163.5,105.1 163.6,101.6 163.6,121.7 163.7,104.2 163.8,102.4 163.8,122.9 163.9,90.3 164.0,98.1 164.1,85.2 164.1,102.8 164.2,114.9 164.3,112.4 164.4,110.6 164.4,110.8 164.5,109.2 164.6,105.2 164.6,121.3 164.7,95.6 164.8,91.7 164.9,99.8 164.9,110.3 165.0,115.3 165.1,86.3 165.1,113.5 165.2,113.0 165.3,98.8 165.4,98.9 165.4,104.6 165.5,94.9 165.6,110.1 165.7,125.2 165.7,96.5 165.8,100.1 165.9,105.1 165.9,101.2 166.0,110.9 166.1,92.7 166.2,109.3 166.2,82.9 166.3,94.0 166.4,107.8 166.4,118.0 166.5,112.1 166.6,98.5 166.7,99.2 166.7,109.4 166.8,93.1 166.9,97.0 167.0,117.6 167.0,104.2 167.1,88.8 167.2,101.5 167.2,95.4 167.3,105.6 167.4,112.7 167.5,114.5 167.5,102.6 167.6,117.2 167.7,117.6 167.7,105.0 167.8,98.8 167.9,112.1 168.0,109.8 168.0,112.4 168.1,93.7 168.2,105.6 168.3,103.5 168.3,95.9 168.4,116.7 168.5,107.9 168.5,108.2 168.6,93.1 168.7,114.8 168.8,98.1 168.8,113.2 168.9,102.3 169.0,122.5 169.1,118.5 169.1,83.0 169.2,106.5 169.3,99.4 169.3,101.7 169.4,80.5 169.5,99.8 169.6,103.0 169.6,103.0 169.7,126.5 169.8,112.8 169.8,121.3 169.9,89.3 170.0,104.3 170.1,114.7 170.1,123.2 170.2,82.8 170.3,98.4 170.4,104.7 170.4,117.5 170.5,126.7 170.6,107.2 170.6,121.2 170.7,107.2 170.8,102.4 170.9,120.4 170.9,119.8 171.0,104.3 171.1,109.5 171.1,112.4 171.2,103.8 171.3,94.2 171.4,103.7 171.4,125.9 171.5,103.3 171.6,88.6 171.7,104.7 171.7,103.2 171.8,106.8 171.9,107.3 171.9,96.2 172.0,114.0 172.1,111.3 172.2,93.2 172.2,117.9 172.3,107.0 172.4,85.0 172.4,101.4 172.5,91.1 172.6,108.1 172.7,104.5 172.7,104.8 172.8,94.5 172.9,107.1 173.0,108.1 173.0,87.7 173.1,104.3 173.2,113.6 173.2,95.6 173.3,119.0 173.4,97.7 173.5,101.7 173.5,97.1 173.6,90.2 173.7,111.9 173.7,100.0 173.8,94.9 173.9,99.6 174.0,109.8 174.0,103.6 174.1,101.5 174.2,105.7 174.3,83.1 174.3,113.3 174.4,84.2 174.5,107.7 174.5,98.7 174.6,97.7 174.7,108.0 174.8,110.5 174.8,123.2 174.9,109.5 175.0,112.5 175.1,106.9 175.1,102.7 175.2,93.2 175.3,82.4 175.3,102.6 175.4,99.5 175.5,101.5 175.6,79.8 175.6,103.1 175.7,120.7 175.8,112.6 175.8,100.9 175.9,91.5 176.0,116.7 176.1,119.7 176.1,110.4 176.2,108.0 176.3,97.9 176.4,89.6 176.4,104.0 176.5,95.3 176.6,94.2 176.6,96.1 176.7,111.8 176.8,104.7 176.9,117.0 176.9,103.1 177.0,84.4 177.1,91.4 177.1,116.2 177.2,104.9 177.3,89.5 177.4,94.8 177.4,141.7 177.5,115.0 177.6,115.0 177.7,96.2 177.7,95.8 177.8,128.3 177.9,106.8 177.9,110.8 178.0,117.0 178.1,95.0 178.2,103.1 178.2,106.1 178.3,100.6 178.4,107.8 178.4,117.6 178.5,100.5 178.6,97.5 178.7,125.6 178.7,108.2 178.8,91.3 178.9,121.2 179.0,94.3 179.0,109.1 179.1,105.4 179.2,100.5 179.2,99.6 179.3,91.5 179.4,106.3 179.5,101.9 179.5,109.6 179.6,89.4 179.7,98.9 179.8,114.4 179.8,103.1 179.9,93.2 180.0,103.9 180.0,100.5 180.1,104.1 180.2,88.3 180.3,109.0 180.3,94.5 180.4,130.4 180.5,103.4 180.5,104.1 180.6,109.4 180.7,78.8 180.8,101.7 180.8,104.4 180.9,82.4 181.0,112.5 181.1,108.1 181.1,104.5 181.2,105.8 181.3,79.0 181.3,125.2 181.4,106.6 181.5,106.6 181.6,112.6 181.6,108.1 181.7,100.3 181.8,101.9 181.8,101.9 181.9,114.5 182.0,94.2 182.1,94.1 182.1,86.8 182.2,108.0 182.3,105.8 182.4,107.5 182.4,106.1 182.5,116.6 182.6,86.8 182.6,105.1 182.7,113.8 182.8,114.3 182.9,94.2 182.9,94.2 183.0,98.2 183.1,108.2 183.1,92.4 183.2,104.4 183.3,105.1 183.4,96.8 183.4,88.4 183.5,97.6 183.6,81.2 183.7,98.8 183.7,115.5 183.8,103.4 183.9,100.2 183.9,94.5 184.0,79.3 184.1,109.0 184.2,112.9 184.2,98.0 184.3,114.2 184.4,109.2 184.4,90.5 184.5,101.6 184.6,115.3 184.7,117.0 184.7,85.2 184.8,115.1 184.9,98.9 185.0,115.0 185.0,104.3 185.1,98.2 185.2,100.8 185.2,90.5 185.3,118.4 185.4,102.8 185.5,98.9 185.5,113.4 185.6,112.3 185.7,98.3 185.8,102.6 185.8,105.7 185.9,111.5 186.0,102.2 186.0,100.7 186.1,102.7 186.2,86.6 186.3,106.4 186.3,105.3 186.4,125.0 186.5,111.1 186.5,111.6 186.6,120.8 186.7,97.4 186.8,104.6 186.8,114.7 186.9,109.5 187.0,131.2 187.1,106.7 187.1,101.6 187.2,87.7 187.3,128.7 187.3,92.8 187.4,133.7 187.5,106.5 187.6,105.8 187.6,111.2 187.7,121.8 187.8,117.3 187.8,91.1 187.9,84.3 188.0,133.2 188.1,114.8 188.1,99.4 188.2,110.1 188.3,95.5 188.4,126.7 188.4,110.8 188.5,112.4 188.6,100.9 188.6,105.1 188.7,95.5 188.8,108.1 188.9,89.2 188.9,97.5 189.0,99.5 189.1,96.0 189.1,111.9 189.2,78.7 189.3,120.6 189.4,90.8 189.4,106.2 189.5,115.9 189.6,107.6 189.7,109.9 189.7,77.4 189.8,95.9 189.9,117.2 189.9,100.8 190.0,100.7 190.1,105.6 190.2,115.6 190.2,104.5 190.3,106.7 190.4,91.6 190.5,130.9 190.5,116.9 190.6,111.8 190.7,109.3 190.7,117.5 190.8,104.5 190.9,117.5 191.0,103.4 191.0,109.8 191.1,103.2 191.2,117.1 191.2,114.5 191.3,97.2 191.4,116.9 191.5,111.4 191.5,117.8 191.6,115.6 191.7,117.3 191.8,107.6 191.8,114.2 191.9,128.2 192.0,107.7 192.0,99.6 192.1,94.2 192.2,118.6 192.3,100.8 192.3,91.1 192.4,109.7 192.5,101.9 192.5,102.0 192.6,110.4 192.7,119.7 192.8,126.3 192.8,113.7 192.9,104.1 193.0,110.4 193.1,103.8 193.1,94.7 193.2,104.6 193.3,104.7 193.3,111.1 193.4,103.8 193.5,111.7 193.6,106.7 193.6,106.0 193.7,98.9 193.8,97.6 193.8,97.1 193.9,116.0 194.0,74.2 194.1,98.6 194.1,88.8 194.2,114.5 194.3,106.5 194.4,128.4 194.4,101.1 194.5,91.7 194.6,111.6 194.6,127.1 194.7,121.8 194.8,125.7 194.9,119.5 194.9,82.6 195.0,108.2 195.1,99.9 195.1,123.1 195.2,101.2 195.3,103.1 195.4,109.1 195.4,108.3 195.5,104.5 195.6,87.7 195.7,107.7 195.7,124.7 195.8,112.1 195.9,113.7 195.9,88.3 196.0,120.9 196.1,123.0 196.2,101.8 196.2,130.3 196.3,138.4 196.4,107.3 196.5,113.0 196.5,118.9 196.6,121.1 196.7,121.6 196.7,83.2 196.8,104.2 196.9,114.4 197.0,108.1 197.0,118.0 197.1,100.8 197.2,112.8 197.2,99.8 197.3,103.8 197.4,114.2 197.5,103.0 197.5,94.8 197.6,112.3 197.7,120.2 197.8,117.4 197.8,97.5 197.9,116.1 198.0,118.7 198.0,127.0 198.1,95.5 198.2,114.2 198.3,113.0 198.3,110.3 198.4,125.7 198.5,115.6 198.5,112.9 198.6,116.0 198.7,131.7 198.8,111.8 198.8,111.0 198.9,108.4 199.0,110.4 199.1,95.1 199.1,111.6 199.2,114.9 199.3,113.7 199.3,117.1 199.4,95.7 199.5,98.2 199.6,93.5 199.6,111.4 199.7,111.3 199.8,118.4 199.8,102.9 199.9,119.1 200.0,101.8 200.1,118.2 200.1,95.5 200.2,106.6 200.3,104.8 200.4,97.1 200.4,116.5 200.5,117.2 200.6,96.8 200.6,108.0 200.7,97.7 200.8,96.6 200.9,98.9 200.9,120.3 201.0,123.3 201.1,108.7 201.2,124.3 201.2,111.6 201.3,116.1 201.4,119.7 201.4,108.0 201.5,114.5 201.6,109.8 201.7,100.8 201.7,112.4 201.8,99.2 201.9,124.6 201.9,113.6 202.0,110.7 202.1,96.6 202.2,105.8 202.2,113.4 202.3,105.8 202.4,103.1 202.5,116.4 202.5,100.3 202.6,121.6 202.7,112.7 202.7,93.4 202.8,103.9 202.9,111.2 203.0,105.9 203.0,91.1 203.1,109.5 203.2,100.9 203.2,108.3 203.3,100.5 203.4,102.1 203.5,95.5 203.5,95.0 203.6,120.2 203.7,87.4 203.8,120.5 203.8,104.5 203.9,111.6 204.0,114.0 204.0,114.3 204.1,111.8 204.2,124.8 204.3,110.3 204.3,104.8 204.4,97.4 204.5,89.8 204.5,97.1 204.6,107.6 204.7,113.5 204.8,119.0 204.8,120.7 204.9,102.6 205.0,100.7 205.1,108.4 205.1,93.7 205.2,118.8 205.3,105.6 205.3,99.3 205.4,114.3 205.5,112.8 205.6,103.2 205.6,109.9 205.7,106.9 205.8,127.5 205.8,110.7 205.9,112.5 206.0,119.1 206.1,111.4 206.1,108.8 206.2,87.9 206.3,112.0 206.4,91.5 206.4,88.5 206.5,103.6 206.6,97.4 206.6,100.5 206.7,101.5 206.8,98.6 206.9,120.8 206.9,98.7 207.0,108.6 207.1,112.3 207.2,100.4 207.2,120.3 207.3,95.2 207.4,107.2 207.4,109.4 207.5,108.1 207.6,103.4 207.7,108.5 207.7,122.9 207.8,116.9 207.9,106.3 207.9,98.4 208.0,96.8 208.1,112.9 208.2,109.1 208.2,109.2 208.3,118.4 208.4,105.3 208.5,96.1 208.5,70.7 208.6,117.4 208.7,124.4 208.7,110.9 208.8,103.0 208.9,120.2 209.0,95.8 209.0,93.3 209.1,101.0 209.2,105.8 209.2,116.0 209.3,109.0 209.4,94.1 209.5,119.8 209.5,74.5 209.6,113.1 209.7,123.1 209.8,105.1 209.8,110.8 209.9,84.2 210.0,97.6 210.0,108.3 210.1,76.3 210.2,98.7 210.3,99.6 210.3,98.8 210.4,115.4 210.5,128.3 210.5,97.9 210.6,104.8 210.7,104.9 210.8,99.6 210.8,107.2 210.9,104.1 211.0,106.1 211.1,107.1 211.1,96.0 211.2,110.9 211.3,109.5 211.3,119.9 211.4,107.6 211.5,103.6 211.6,103.5 211.6,104.9 211.7,103.4 211.8,97.8 211.9,103.5 211.9,109.1 212.0,103.7 212.1,85.7 212.1,107.9 212.2,127.3 212.3,118.4 212.4,96.0 212.4,112.5 212.5,91.0 212.6,98.7 212.6,79.6 212.7,83.0 212.8,120.7 212.9,117.2 212.9,103.1 213.0,81.3 213.1,93.5 213.2,90.2 213.2,96.6 213.3,114.1 213.4,91.3 213.4,106.9 213.5,86.4 213.6,100.1 213.7,76.4 213.7,103.2 213.8,100.2 213.9,108.3 213.9,101.2 214.0,97.6 214.1,106.4 214.2,101.7 214.2,98.4 214.3,104.6 214.4,101.9 214.5,100.3 214.5,108.3 214.6,93.3 214.7,99.7 214.7,99.2 214.8,108.0 214.9,104.3 215.0,92.0 215.0,81.7 215.1,116.2 215.2,95.2 215.2,105.1 215.3,96.9 215.4,114.8 215.5,101.3 215.5,94.2 215.6,119.2 215.7,85.8 215.8,106.9 215.8,100.5 215.9,95.6 216.0,115.9 216.0,98.0 216.1,116.9 216.2,105.7 216.3,120.2 216.3,82.0 216.4,118.1 216.5,98.6 216.5,110.7 216.6,108.7 216.7,104.6 216.8,113.8 216.8,121.1 216.9,105.0 217.0,122.3 217.1,99.6 217.1,113.6 217.2,98.6 217.3,93.6 217.3,97.1 217.4,106.9 217.5,101.5 217.6,106.8 217.6,115.2 217.7,118.4 217.8,105.3 217.9,103.4 217.9,99.9 218.0,120.3 218.1,109.5 218.1,98.8 218.2,99.8 218.3,93.1 218.4,95.7 218.4,106.5 218.5,113.7 218.6,107.6 218.6,113.2 218.7,106.9 218.8,108.7 218.9,104.2 218.9,102.4 219.0,94.6 219.1,92.9 219.2,93.9 219.2,113.2 219.3,91.4 219.4,107.6 219.4,104.1 219.5,118.2 219.6,117.1 219.7,94.9 219.7,98.5 219.8,94.9 219.9,119.6 219.9,109.7 220.0,108.8 220.1,106.8 220.2,122.4 220.2,114.5 220.3,100.9 220.4,98.1 220.5,96.6 220.5,103.2 220.6,108.0 220.7,88.8 220.7,97.2 220.8,113.8 220.9,111.6 221.0,105.6 221.0,111.1 221.1,88.9 221.2,93.9 221.2,84.3 221.3,114.6 221.4,110.6 221.5,112.5 221.5,110.0 221.6,87.3 221.7,110.7 221.8,105.8 221.8,104.7 221.9,106.1 222.0,105.7 222.0,100.4 222.1,99.4 222.2,85.5 222.3,107.8 222.3,96.1 222.4,99.2 222.5,97.8 222.6,103.4 222.6,98.4 222.7,97.2 222.8,127.1 222.8,122.1 222.9,119.9 223.0,116.2 223.1,98.9 223.1,111.6 223.2,97.7 223.3,101.0 223.3,107.5 223.4,66.6 223.5,98.5 223.6,116.4 223.6,120.4 223.7,125.0 223.8,125.0 223.9,86.7 223.9,123.6 224.0,118.6 224.1,114.5 224.1,107.4 224.2,110.5 224.3,122.9 224.4,96.8 224.4,111.8 224.5,92.1 224.6,88.4 224.6,110.6 224.7,103.5 224.8,121.6 224.9,86.7 224.9,110.9 225.0,101.7 225.1,102.5 225.2,105.9 225.2,113.9 225.3,127.2 225.4,119.3 225.4,92.2 225.5,105.4 225.6,92.0 225.7,101.9 225.7,120.1 225.8,113.1 225.9,109.9 225.9,118.2 226.0,114.9 226.1,103.8 226.2,108.6 226.2,122.9 226.3,108.9 226.4,115.1 226.5,94.8 226.5,104.3 226.6,103.6 226.7,95.2 226.7,96.2 226.8,92.5 226.9,96.2 227.0,112.4 227.0,117.1 227.1,106.1 227.2,104.6 227.2,109.6 227.3,101.6 227.4,116.3 227.5,108.6 227.5,99.1 227.6,101.1 227.7,103.6 227.8,104.5 227.8,94.0 227.9,88.6 228.0,90.6 228.0,93.0 228.1,104.5 228.2,93.7 228.3,96.1 228.3,105.9 228.4,90.0 228.5,80.4 228.6,99.2 228.6,87.4 228.7,99.5 228.8,96.4 228.8,93.9 228.9,116.8 229.0,105.5 229.1,115.1 229.1,109.1 229.2,109.6 229.3,85.6 229.3,84.9 229.4,90.5 229.5,116.6 229.6,106.0 229.6,101.5 229.7,104.0 229.8,104.2 229.9,102.9 229.9,109.8 230.0,112.1 230.1,103.2 230.1,78.9 230.2,96.1 230.3,103.5 230.4,88.2 230.4,117.1 230.5,102.4 230.6,107.6 230.6,92.4 230.7,95.0 230.8,79.9 230.9,99.3 230.9,80.8 231.0,89.8 231.1,98.4 231.2,96.6 231.2,99.1 231.3,92.6 231.4,109.7 231.4,88.6 231.5,101.5 231.6,91.1 231.7,100.3 231.7,84.8 231.8,106.0 231.9,96.7 231.9,92.4 232.0,82.5 232.1,101.6 232.2,116.7 232.2,89.4 232.3,97.9 232.4,89.8 232.5,100.5 232.5,93.8 232.6,94.8 232.7,85.3 232.7,102.7 232.8,99.4 232.9,91.5 233.0,108.9 233.0,113.0 233.1,104.5 233.2,103.4 233.3,89.1 233.3,99.3 233.4,93.4 233.5,95.1 233.5,88.2 233.6,82.9 233.7,99.5 233.8,104.0 233.8,102.0 233.9,110.3 234.0,105.6 234.0,118.4 234.1,99.7 234.2,100.6 234.3,96.5 234.3,94.5 234.4,91.1 234.5,88.6 234.6,81.7 234.6,100.0 234.7,107.5 234.8,82.6 234.8,108.8 234.9,89.1 235.0,118.3 235.1,107.7 235.1,115.3 235.2,101.0 235.3,98.7 235.3,94.4 235.4,87.9 235.5,76.7 235.6,111.4 235.6,102.7 235.7,116.8 235.8,97.0 235.9,94.3 235.9,96.1 236.0,103.6 236.1,113.5 236.1,106.1 236.2,101.4 236.3,108.6 236.4,112.4 236.4,83.1 236.5,94.8 236.6,121.5 236.6,100.3 236.7,99.1 236.8,98.3 236.9,115.7 236.9,98.0 237.0,75.3 237.1,102.7 237.2,98.8 237.2,93.1 237.3,131.4 237.4,84.4 237.4,88.6 237.5,103.5 237.6,102.3 237.7,106.3 237.7,94.7 237.8,99.9 237.9,95.0 237.9,99.9 238.0,110.5 238.1,103.5 238.2,103.4 238.2,101.7 238.3,93.0 238.4,103.6 238.5,110.3 238.5,119.1 238.6,90.7 238.7,100.2 238.7,94.3 238.8,103.3 238.9,91.9 239.0,98.4 239.0,111.6 239.1,95.3 239.2,92.0 239.3,103.7 239.3,104.1 239.4,94.0 239.5,101.1 239.5,102.0 239.6,91.1 239.7,97.4 239.8,87.3 239.8,109.4 239.9,82.1 240.0,95.6 240.0,95.8 240.1,102.7 240.2,109.7 240.3,101.6 240.3,88.7 240.4,88.8 240.5,77.2 240.6,108.3 240.6,111.9 240.7,103.8 240.8,122.0 240.8,120.4 240.9,88.7 241.0,107.6 241.1,110.4 241.1,124.4 241.2,115.8 241.3,103.0 241.3,107.6 241.4,109.4 241.5,137.3 241.6,120.0 241.6,96.6 241.7,98.2 241.8,97.0 241.9,99.3 241.9,99.3 242.0,101.9 242.1,96.9 242.1,102.7 242.2,107.0 242.3,97.4 242.4,94.1 242.4,111.7 242.5,91.0 242.6,113.3 242.6,107.8 242.7,70.5 242.8,97.1 242.9,89.7 242.9,90.5 243.0,102.9 243.1,124.6 243.2,106.8 243.2,98.1 243.3,130.1 243.4,107.7 243.4,86.1 243.5,97.2 243.6,101.9 243.7,101.3 243.7,97.3 243.8,94.5 243.9,109.0 244.0,123.0 244.0,99.4 244.1,118.2 244.2,79.7 244.2,89.7 244.3,81.6 244.4,101.0 244.5,103.0 244.5,85.8 244.6,91.6 244.7,109.2 244.7,97.8 244.8,101.7 244.9,99.9 245.0,116.1 245.0,109.1 245.1,109.1 245.2,87.5 245.3,99.2 245.3,110.7 245.4,91.6 245.5,108.0 245.5,115.9 245.6,107.4 245.7,94.2 245.8,93.6 245.8,106.9 245.9,126.3 246.0,93.5 246.0,98.8 246.1,80.4 246.2,101.3 246.3,108.9 246.3,94.3 246.4,103.7 246.5,119.8 246.6,100.2 246.6,111.1 246.7,109.2 246.8,105.2 246.8,104.8 246.9,98.3 247.0,107.7 247.1,91.7 247.1,121.3 247.2,90.6 247.3,123.7 247.3,102.1 247.4,120.4 247.5,95.1 247.6,117.8 247.6,109.4 247.7,81.4 247.8,104.1 247.9,101.1 247.9,111.6 248.0,101.2 248.1,96.8 248.1,122.2 248.2,101.6 248.3,109.3 248.4,106.8 248.4,116.9 248.5,126.8 248.6,113.8 248.6,106.3 248.7,95.4 248.8,114.2 248.9,87.6 248.9,110.1 249.0,99.2 249.1,67.6 249.2,104.0 249.2,91.1 249.3,99.6"/>
<polyline fill="none" stroke="#0c0cf0" stroke-width="0.9" stroke-linejoin="round" points="61.4,178.6 61.5,177.6 61.6,176.3 61.6,175.8 61.7,174.0 61.8,173.0 61.9,170.4 61.9,169.5 62.0,170.1 62.1,168.9 62.2,167.4 62.3,166.2 62.3,161.7 62.4,164.0 62.5,161.5 62.6,160.4 62.7,159.6 62.7,155.3 62.8,155.3 62.9,152.4 63.0,162.8 63.0,157.6 63.1,155.6 63.2,156.0 63.3,157.5 63.4,153.4 63.4,153.1 63.5,155.7 63.6,154.1 63.7,156.0 63.7,155.7 63.8,154.4 63.9,162.0 64.0,153.2 64.1,154.3 64.1,157.1 64.2,152.0 64.3,154.9 64.4,160.3 64.5,156.1 64.5,151.7 64.6,153.2 64.7,155.7 64.8,157.8 64.8,154.8 64.9,155.6 65.0,155.3 65.1,151.7 65.2,152.7 65.2,158.5 65.3,153.2 65.4,155.6 65.5,151.1 65.6,156.2 65.6,152.9 65.7,158.8 65.8,153.7 65.9,157.8 65.9,158.3 66.0,156.5 66.1,152.2 66.2,155.4 66.3,157.2 66.3,157.6 66.4,158.8 66.5,156.8 66.6,155.3 66.6,161.3 66.7,156.4 66.8,155.2 66.9,156.0 67.0,154.7 67.0,148.7 67.1,155.8 67.2,153.9 67.3,155.7 67.4,157.0 67.4,157.3 67.5,159.0 67.6,153.9 67.7,157.3 67.7,149.7 67.8,154.1 67.9,153.4 68.0,154.3 68.1,150.5 68.1,156.8 68.2,149.8 68.3,154.9 68.4,155.8 68.4,153.8 68.5,152.3 68.6,155.5 68.7,157.0 68.8,154.3 68.8,152.8 68.9,158.0 69.0,153.2 69.1,156.1 69.2,156.3 69.2,160.8 69.3,153.6 69.4,158.8 69.5,158.0 69.5,158.7 69.6,156.8 69.7,156.8 69.8,156.4 69.9,157.8 69.9,160.2 70.0,155.5 70.1,154.8 70.2,156.6 70.3,159.2 70.3,155.1 70.4,155.5 70.5,156.6 70.6,156.2 70.6,150.7 70.7,156.8 70.8,155.9 70.9,154.9 71.0,157.3 71.0,153.9 71.1,157.2 71.2,155.3 71.3,153.3 71.3,157.0 71.4,152.9 71.5,158.2 71.6,153.6 71.7,152.5 71.7,153.8 71.8,153.3 71.9,156.9 72.0,155.7 72.1,154.7 72.1,156.6 72.2,155.6 72.3,152.7 72.4,153.0 72.4,153.3 72.5,157.6 72.6,153.5 72.7,156.9 72.8,154.4 72.8,154.8 72.9,154.9 73.0,155.1 73.1,155.0 73.1,155.0 73.2,153.4 73.3,154.5 73.4,154.8 73.5,155.0 73.5,157.0 73.6,155.2 73.7,157.7 73.8,157.5 73.9,155.9 73.9,153.1 74.0,154.3 74.1,159.8 74.2,153.3 74.2,158.4 74.3,156.5 74.4,156.2 74.5,156.6 74.6,155.9 74.6,156.4 74.7,156.0 74.8,156.0 74.9,155.5 75.0,156.8 75.0,155.2 75.1,155.8 75.2,157.9 75.3,156.1 75.3,156.5 75.4,159.2 75.5,154.7 75.6,155.9 75.7,154.8 75.7,155.7 75.8,155.8 75.9,157.5 76.0,157.4 76.0,154.9 76.1,156.1 76.2,158.7 76.3,159.9 76.4,159.9 76.4,160.4 76.5,159.0 76.6,156.5 76.7,158.6 76.8,161.7 76.8,156.6 76.9,160.7 77.0,154.5 77.1,156.5 77.1,159.7 77.2,157.0 77.3,155.4 77.4,155.7 77.5,156.5 77.5,162.0 77.6,157.4 77.7,158.8 77.8,156.9 77.8,156.5 77.9,155.4 78.0,157.9 78.1,155.2 78.2,157.3 78.2,158.4 78.3,160.6 78.4,156.0 78.5,157.6 78.6,154.0 78.6,159.7 78.7,156.7 78.8,154.9 78.9,156.4 78.9,156.4 79.0,157.1 79.1,159.7 79.2,158.6 79.3,159.1 79.3,156.3 79.4,158.7 79.5,152.5 79.6,157.8 79.6,161.8 79.7,161.0 79.8,158.3 79.9,158.2 80.0,158.4 80.0,156.6 80.1,159.9 80.2,156.6 80.3,158.5 80.4,158.3 80.4,154.4 80.5,154.7 80.6,156.5 80.7,160.9 80.7,156.1 80.8,158.2 80.9,160.8 81.0,157.1 81.1,158.2 81.1,159.3 81.2,158.3 81.3,161.9 81.4,159.7 81.5,154.0 81.5,157.1 81.6,156.5 81.7,158.0 81.8,161.2 81.8,162.0 81.9,161.5 82.0,157.1 82.1,156.0 82.2,158.5 82.2,158.3 82.3,159.0 82.4,158.0 82.5,156.4 82.5,157.0 82.6,155.3 82.7,157.0 82.8,161.7 82.9,156.4 82.9,158.3 83.0,155.1 83.1,157.3 83.2,158.3 83.3,158.3 83.3,158.2 83.4,157.7 83.5,157.5 83.6,157.5 83.6,157.3 83.7,153.0 83.8,158.2 83.9,160.4 84.0,159.7 84.0,157.8 84.1,155.9 84.2,159.1 84.3,162.4 84.3,160.1 84.4,157.9 84.5,155.5 84.6,158.8 84.7,157.7 84.7,160.3 84.8,157.0 84.9,158.2 85.0,161.4 85.1,155.1 85.1,159.2 85.2,155.0 85.3,158.0 85.4,158.8 85.4,156.9 85.5,154.6 85.6,158.5 85.7,157.0 85.8,159.8 85.8,160.2 85.9,157.9 86.0,157.5 86.1,157.1 86.2,156.2 86.2,159.8 86.3,156.6 86.4,156.6 86.5,158.2 86.5,155.3 86.6,156.3 86.7,158.4 86.8,157.4 86.9,153.2 86.9,153.9 87.0,153.6 87.1,155.8 87.2,153.4 87.2,158.5 87.3,156.4 87.4,157.4 87.5,157.4 87.6,158.3 87.6,159.7 87.7,158.1 87.8,158.6 87.9,157.2 88.0,158.7 88.0,158.8 88.1,154.8 88.2,160.4 88.3,157.7 88.3,152.9 88.4,156.8 88.5,156.7 88.6,156.9 88.7,160.1 88.7,158.5 88.8,158.0 88.9,159.3 89.0,162.1 89.0,157.0 89.1,159.0 89.2,162.3 89.3,160.0 89.4,161.3 89.4,156.2 89.5,160.6 89.6,157.1 89.7,156.6 89.8,158.5 89.8,153.2 89.9,159.2 90.0,156.4 90.1,158.5 90.1,158.5 90.2,157.9 90.3,156.3 90.4,158.0 90.5,155.2 90.5,157.3 90.6,158.8 90.7,158.6 90.8,158.0 90.8,158.5 90.9,158.8 91.0,154.1 91.1,157.0 91.2,156.6 91.2,158.6 91.3,156.6 91.4,156.8 91.5,154.8 91.6,158.5 91.6,156.4 91.7,159.4 91.8,159.4 91.9,158.3 91.9,158.2 92.0,154.7 92.1,160.8 92.2,157.5 92.3,159.9 92.3,160.0 92.4,159.8 92.5,159.9 92.6,157.4 92.7,164.3 92.7,158.1 92.8,152.0 92.9,153.5 93.0,155.5 93.0,157.2 93.1,159.4 93.2,157.1 93.3,155.9 93.4,157.0 93.4,154.1 93.5,157.9 93.6,156.5 93.7,160.1 93.7,157.1 93.8,160.6 93.9,161.9 94.0,157.0 94.1,156.8 94.1,156.3 94.2,157.3 94.3,154.2 94.4,152.8 94.5,158.7 94.5,156.3 94.6,156.7 94.7,160.0 94.8,160.8 94.8,155.9 94.9,159.6 95.0,155.5 95.1,160.7 95.2,158.5 95.2,155.8 95.3,155.0 95.4,155.5 95.5,157.0 95.5,158.7 95.6,156.0 95.7,155.8 95.8,156.5 95.9,158.3 95.9,154.9 96.0,158.2 96.1,157.5 96.2,153.7 96.3,154.7 96.3,152.9 96.4,153.8 96.5,156.9 96.6,159.3 96.6,157.0 96.7,155.4 96.8,155.2 96.9,155.7 97.0,157.2 97.0,152.5 97.1,155.5 97.2,156.5 97.3,154.0 97.4,157.4 97.4,155.2 97.5,157.0 97.6,159.1 97.7,159.4 97.7,156.5 97.8,158.2 97.9,158.8 98.0,155.3 98.1,154.9 98.1,156.7 98.2,151.9 98.3,156.8 98.4,159.6 98.4,159.6 98.5,154.9 98.6,157.8 98.7,154.6 98.8,157.9 98.8,157.1 98.9,159.4 99.0,155.1 99.1,156.1 99.2,156.1 99.2,156.7 99.3,158.6 99.4,158.6 99.5,159.2 99.5,158.3 99.6,156.6 99.7,157.4 99.8,157.4 99.9,157.0 99.9,151.3 100.0,156.2 100.1,156.9 100.2,159.8 100.2,155.1 100.3,153.5 100.4,156.3 100.5,159.0 100.6,157.6 100.6,157.6 100.7,153.9 100.8,155.4 100.9,156.7 101.0,158.9 101.0,155.0 101.1,159.0 101.2,155.8 101.3,155.8 101.3,154.6 101.4,157.0 101.5,151.5 101.6,158.0 101.7,156.2 101.7,157.3 101.8,156.1 101.9,158.6 102.0,157.5 102.1,158.1 102.1,155.6 102.2,159.1 102.3,156.5 102.4,152.1 102.4,157.3 102.5,156.0 102.6,157.7 102.7,162.1 102.8,155.6 102.8,156.8 102.9,157.3 103.0,159.8 103.1,162.6 103.1,156.6 103.2,154.5 103.3,159.4 103.4,158.8 103.5,158.8 103.5,157.8 103.6,154.9 103.7,160.9 103.8,158.1 103.9,157.2 103.9,157.3 104.0,159.3 104.1,158.0 104.2,159.4 104.2,160.9 104.3,155.3 104.4,159.3 104.5,158.2 104.6,159.9 104.6,157.5 104.7,157.8 104.8,153.7 104.9,153.0 104.9,153.9 105.0,160.0 105.1,157.5 105.2,157.7 105.3,156.2 105.3,158.3 105.4,154.7 105.5,155.7 105.6,154.4 105.7,156.2 105.7,158.8 105.8,156.0 105.9,157.0 106.0,160.5 106.0,156.9 106.1,159.3 106.2,156.8 106.3,155.4 106.4,156.1 106.4,156.4 106.5,154.5 106.6,149.5 106.7,157.3 106.7,157.3 106.8,156.7 106.9,156.5 107.0,154.9 107.1,152.7 107.1,156.2 107.2,157.5 107.3,155.2 107.4,157.0 107.5,158.8 107.5,155.6 107.6,154.2 107.7,157.6 107.8,152.2 107.8,155.8 107.9,156.4 108.0,160.2 108.1,155.2 108.2,158.8 108.2,154.3 108.3,153.3 108.4,153.7 108.5,158.1 108.6,155.0 108.6,152.5 108.7,157.4 108.8,155.3 108.9,155.6 108.9,156.4 109.0,152.3 109.1,151.9 109.2,155.0 109.3,157.2 109.3,153.1 109.4,155.7 109.5,156.6 109.6,157.0 109.6,158.9 109.7,154.7 109.8,157.5 109.9,155.7 110.0,154.1 110.0,157.5 110.1,155.7 110.2,157.1 110.3,158.0 110.4,157.4 110.4,157.7 110.5,150.9 110.6,155.7 110.7,155.4 110.7,157.8 110.8,159.4 110.9,156.7 111.0,154.3 111.1,153.0 111.1,159.3 111.2,157.2 111.3,158.7 111.4,159.8 111.4,155.9 111.5,153.6 111.6,156.5 111.7,159.3 111.8,153.2 111.8,157.5 111.9,157.7 112.0,158.5 112.1,158.6 112.2,160.4 112.2,155.3 112.3,159.2 112.4,155.4 112.5,159.2 112.5,156.6 112.6,158.0 112.7,158.3 112.8,160.0 112.9,155.7 112.9,158.2 113.0,156.3 113.1,157.6 113.2,155.6 113.3,153.2 113.3,159.0 113.4,159.0 113.5,161.0 113.6,156.4 113.6,157.5 113.7,155.1 113.8,158.9 113.9,159.1 114.0,159.4 114.0,158.8 114.1,163.0 114.2,159.4 114.3,159.6 114.3,160.9 114.4,155.7 114.5,157.4 114.6,157.8 114.7,159.7 114.7,159.2 114.8,156.2 114.9,155.9 115.0,158.6 115.1,156.5 115.1,154.8 115.2,159.1 115.3,156.4 115.4,154.9 115.4,156.1 115.5,156.1 115.6,157.9 115.7,153.6 115.8,158.2 115.8,157.1 115.9,158.4 116.0,154.9 116.1,157.9 116.1,157.2 116.2,158.0 116.3,158.8 116.4,163.1 116.5,157.8 116.5,159.4 116.6,160.7 116.7,158.1 116.8,157.8 116.9,160.4 116.9,156.9 117.0,155.0 117.1,155.1 117.2,160.2 117.2,161.0 117.3,156.7 117.4,158.7 117.5,158.2 117.6,159.5 117.6,155.7 117.7,155.7 117.8,156.1 117.9,156.2 118.0,161.6 118.0,159.3 118.1,158.7 118.2,158.3 118.3,160.8 118.3,155.2 118.4,155.9 118.5,161.5 118.6,159.1 118.7,156.9 118.7,155.8 118.8,158.3 118.9,150.1 119.0,155.5 119.0,154.6 119.1,154.8 119.2,157.9 119.3,158.8 119.4,159.0 119.4,157.8 119.5,156.1 119.6,160.6 119.7,161.1 119.8,156.9 119.8,162.3 119.9,155.4 120.0,157.1 120.1,160.7 120.1,157.4 120.2,155.5 120.3,158.6 120.4,159.2 120.5,157.7 120.5,155.9 120.6,159.7 120.7,153.6 120.8,153.8 120.8,152.8 120.9,162.9 121.0,158.3 121.1,159.0 121.2,154.7 121.2,155.7 121.3,160.0 121.4,156.7 121.5,154.7 121.6,157.1 121.6,159.1 121.7,157.8 121.8,157.2 121.9,159.1 121.9,158.5 122.0,159.7 122.1,156.4 122.2,161.3 122.3,156.2 122.3,157.4 122.4,156.4 122.5,157.7 122.6,160.3 122.6,158.2 122.7,156.4 122.8,156.9 122.9,158.1 123.0,154.6 123.0,154.9 123.1,155.7 123.2,155.4 123.3,153.8 123.4,157.4 123.4,156.9 123.5,159.4 123.6,157.9 123.7,153.8 123.7,164.5 123.8,160.2 123.9,156.1 124.0,158.0 124.1,157.9 124.1,157.1 124.2,157.8 124.3,161.4 124.4,155.7 124.5,153.0 124.5,161.5 124.6,157.5 124.7,159.7 124.8,155.0 124.8,160.3 124.9,157.5 125.0,157.1 125.1,160.0 125.2,159.6 125.2,154.1 125.3,154.3 125.4,154.9 125.5,160.3 125.5,155.7 125.6,159.1 125.7,155.4 125.8,157.0 125.9,156.8 125.9,155.8 126.0,157.5 126.1,156.9 126.2,157.5 126.3,157.2 126.3,158.4 126.4,157.8 126.5,152.9 126.6,161.6 126.6,155.0 126.7,157.0 126.8,159.8 126.9,157.6 127.0,156.1 127.0,157.5 127.1,158.0 127.2,156.7 127.3,156.2 127.3,159.8 127.4,155.4 127.5,157.6 127.6,156.2 127.7,161.6 127.7,158.0 127.8,154.7 127.9,156.5 128.0,156.1 128.1,158.1 128.1,158.2 128.2,161.4 128.3,157.1 128.4,156.9 128.4,161.4 128.5,159.3 128.6,158.7 128.7,157.2 128.8,159.7 128.8,159.6 128.9,157.2 129.0,158.0 129.1,157.4 129.2,156.3 129.2,160.2 129.3,156.0 129.4,157.5 129.5,160.6 129.5,161.5 129.6,158.6 129.7,157.7 129.8,156.9 129.9,161.4 129.9,160.0 130.0,156.4 130.1,157.5 130.2,157.7 130.2,164.5 130.3,156.7 130.4,157.8 130.5,157.5 130.6,157.5 130.6,155.7 130.7,161.0 130.8,156.7 130.9,158.6 131.0,157.0 131.0,156.4 131.1,160.0 131.2,159.6 131.3,160.7 131.3,154.5 131.4,157.6 131.5,160.9 131.6,158.7 131.7,156.6 131.7,155.8 131.8,157.4 131.9,156.4 132.0,157.4 132.0,158.7 132.1,155.0 132.2,159.5 132.3,158.4 132.4,153.5 132.4,160.2 132.5,157.7 132.6,158.7 132.7,155.6 132.8,158.4 132.8,156.4 132.9,155.6 133.0,154.8 133.1,155.8 133.1,162.4 133.2,155.8 133.3,161.7 133.4,160.6 133.5,155.3 133.5,158.8 133.6,157.9 133.7,159.9 133.8,158.7 133.8,158.1 133.9,157.4 134.0,155.1 134.1,161.3 134.2,159.1 134.2,158.2 134.3,157.6 134.4,161.4 134.5,157.5 134.6,160.8 134.6,159.5 134.7,154.1 134.8,154.7 134.9,153.7 134.9,159.5 135.0,157.6 135.1,156.6 135.2,152.9 135.3,159.5 135.3,156.9 135.4,156.3 135.5,158.6 135.6,156.0 135.7,157.9 135.7,155.9 135.8,158.3 135.9,160.0 136.0,156.6 136.0,155.5 136.1,153.2 136.2,157.9 136.3,156.7 136.4,159.9 136.4,156.3 136.5,158.2 136.6,158.3 136.7,160.1 136.7,160.6 136.8,154.0 136.9,159.6 137.0,157.6 137.1,157.2 137.1,157.1 137.2,155.6 137.3,157.2 137.4,157.7 137.5,155.4 137.5,157.4 137.6,158.5 137.7,157.1 137.8,158.7 137.8,158.9 137.9,154.0 138.0,156.9 138.1,156.0 138.2,157.8 138.2,159.8 138.3,159.2 138.4,152.9 138.5,153.5 138.5,157.4 138.6,154.0 138.7,153.9 138.8,155.1 138.9,156.1 138.9,156.4 139.0,157.0 139.1,154.2 139.2,157.7 139.3,157.6 139.3,156.9 139.4,156.5 139.5,152.5 139.6,154.8 139.6,156.9 139.7,156.9 139.8,155.0 139.9,152.1 140.0,161.6 140.0,156.3 140.1,159.8 140.2,155.9 140.3,154.2 140.4,153.9 140.4,155.4 140.5,158.8 140.6,156.7 140.7,159.1 140.7,153.2 140.8,156.7 140.9,153.5 141.0,155.7 141.1,155.4 141.1,164.9 141.2,158.0 141.3,153.3 141.4,150.9 141.4,152.6 141.5,157.1 141.6,154.0 141.7,155.6 141.8,156.9 141.8,157.3 141.9,156.2 142.0,151.9 142.1,153.9 142.2,159.0 142.2,152.3 142.3,155.7 142.4,151.6 142.5,153.5 142.5,155.9 142.6,156.4 142.7,152.2 142.8,157.5 142.9,155.9 142.9,154.4 143.0,155.8 143.1,155.6 143.2,156.8 143.2,155.7 143.3,156.4 143.4,155.3 143.5,154.6 143.6,157.4 143.6,152.9 143.7,155.1 143.8,155.0 143.9,152.9 144.0,155.8 144.0,150.4 144.1,156.3 144.2,158.0 144.3,154.3 144.3,156.3 144.4,157.3 144.5,157.1 144.6,160.1 144.7,152.2 144.7,155.1 144.8,155.6 144.9,154.3 145.0,154.5 145.1,154.9 145.1,157.0 145.2,158.4 145.3,153.5 145.4,156.6 145.4,154.0 145.5,156.6 145.6,156.9 145.7,157.9 145.8,151.5 145.8,157.6 145.9,154.9 146.0,160.0 146.1,160.2 146.1,156.2 146.2,158.7 146.3,155.3 146.4,157.2 146.5,154.6 146.5,154.1 146.6,156.6 146.7,156.5 146.8,153.2 146.9,153.3 146.9,157.9 147.0,149.4 147.1,156.1 147.2,156.2 147.2,155.6 147.3,155.1 147.4,159.1 147.5,153.9 147.6,155.7 147.6,156.4 147.7,155.0 147.8,153.1 147.9,156.0 147.9,158.6 148.0,156.1 148.1,156.6 148.2,156.5 148.3,157.9 148.3,157.5 148.4,155.1 148.5,154.9 148.6,155.3 148.7,155.3 148.7,157.8 148.8,153.7 148.9,153.8 149.0,157.9 149.0,156.1 149.1,158.3 149.2,156.4 149.3,155.1 149.4,156.0 149.4,154.1 149.5,153.0 149.6,155.1 149.7,156.6 149.7,152.2 149.8,156.3 149.9,157.3 150.0,156.9 150.1,154.2 150.1,159.9 150.2,156.9 150.3,157.2 150.4,160.9 150.5,158.4 150.5,155.5 150.6,162.0 150.7,154.1 150.8,156.4 150.8,155.3 150.9,156.9 151.0,159.7 151.1,159.8 151.2,157.7 151.2,153.5 151.3,159.1 151.4,156.2 151.5,153.7 151.6,161.7 151.6,152.7 151.7,157.3 151.8,153.9 151.9,159.5 151.9,158.0 152.0,157.5 152.1,156.8 152.2,156.2 152.3,155.8 152.3,158.5 152.4,157.8 152.5,162.1 152.6,155.4 152.6,161.7 152.7,155.0 152.8,154.9 152.9,158.5 153.0,159.1 153.0,161.1 153.1,155.7 153.2,155.4 153.3,156.4 153.4,155.6 153.4,161.0 153.5,157.9 153.6,161.5 153.7,158.2 153.7,156.7 153.8,161.3 153.9,157.8 154.0,162.6 154.1,158.3 154.1,159.6 154.2,153.1 154.3,157.8 154.4,157.9 154.4,157.1 154.5,159.0 154.6,150.1 154.7,159.3 154.8,158.5 154.8,158.7 154.9,159.9 155.0,156.4 155.1,155.0 155.2,156.9 155.2,156.3 155.3,154.0 155.4,156.6 155.5,161.6 155.5,156.9 155.6,158.2 155.7,154.8 155.8,155.8 155.9,161.0 155.9,158.6 156.0,158.8 156.1,157.6 156.2,157.5 156.3,156.4 156.3,158.0 156.4,155.0 156.5,155.1 156.6,154.0 156.6,156.9 156.7,154.0 156.8,154.4 156.9,156.0 157.0,157.0 157.0,156.5 157.1,154.8 157.2,155.9 157.3,156.7 157.3,157.0 157.4,159.7 157.5,158.3 157.6,158.4 157.7,155.6 157.7,154.9 157.8,156.9 157.9,158.0 158.0,156.3 158.1,156.1 158.1,154.7 158.2,157.6 158.3,152.8 158.4,155.5 158.4,158.4 158.5,157.1 158.6,152.5 158.7,159.5 158.8,153.7 158.8,157.5 158.9,154.5 159.0,158.2 159.1,153.8 159.1,157.0 159.2,153.3 159.3,155.8 159.4,156.6 159.5,158.2 159.5,160.2 159.6,157.9 159.7,153.5 159.8,157.8 159.9,156.7 159.9,154.2 160.0,161.0 160.1,154.2 160.2,160.5 160.2,160.0 160.3,158.6 160.4,157.4 160.5,157.0 160.6,157.7 160.6,158.0 160.7,159.3 160.8,158.1 160.9,157.2 161.0,153.9 161.0,157.2 161.1,155.7 161.2,157.5 161.3,158.1 161.3,154.9 161.4,159.2 161.5,156.6 161.6,157.0 161.7,156.6 161.7,156.6 161.8,161.8 161.9,157.6 162.0,154.9 162.0,159.2 162.1,155.8 162.2,156.1 162.3,154.1 162.4,156.2 162.4,158.8 162.5,154.1 162.6,159.1 162.7,152.5 162.8,162.7 162.8,161.0 162.9,157.8 163.0,157.0 163.1,159.5 163.1,157.5 163.2,160.6 163.3,153.7 163.4,158.4 163.5,160.1 163.5,154.3 163.6,155.5 163.7,156.7 163.8,157.3 163.8,157.2 163.9,156.2 164.0,159.6 164.1,160.4 164.2,156.7 164.2,154.4 164.3,159.8 164.4,159.8 164.5,155.8 164.6,154.5 164.6,152.4 164.7,158.4 164.8,153.5 164.9,155.5 164.9,156.2 165.0,154.9 165.1,157.1 165.2,163.7 165.3,154.4 165.3,154.8 165.4,156.7 165.5,156.4 165.6,158.5 165.6,158.2 165.7,159.8 165.8,159.7 165.9,155.6 166.0,158.1 166.0,157.0 166.1,158.2 166.2,157.4 166.3,153.2 166.4,156.8 166.4,156.9 166.5,156.4 166.6,155.5 166.7,158.5 166.7,155.6 166.8,158.4 166.9,157.0 167.0,155.4 167.1,154.6 167.1,156.5 167.2,157.2 167.3,156.7 167.4,151.2 167.5,157.4 167.5,160.4 167.6,158.1 167.7,157.1 167.8,160.0 167.8,156.2 167.9,157.2 168.0,156.2 168.1,159.0 168.2,156.8 168.2,159.6 168.3,159.7 168.4,157.2 168.5,154.5 168.5,156.9 168.6,158.2 168.7,156.9 168.8,160.0 168.9,154.4 168.9,152.1 169.0,161.2 169.1,159.0 169.2,156.3 169.3,157.3 169.3,159.3 169.4,156.5 169.5,155.9 169.6,159.4 169.6,153.4 169.7,157.8 169.8,157.6 169.9,158.6 170.0,157.0 170.0,156.0 170.1,158.3 170.2,162.0 170.3,161.2 170.3,155.7 170.4,157.1 170.5,156.5 170.6,154.0 170.7,154.1 170.7,154.9 170.8,155.3 170.9,159.0 171.0,155.9 171.1,156.8 171.1,157.5 171.2,154.2 171.3,156.6 171.4,157.8 171.4,155.8 171.5,150.6 171.6,150.1 171.7,158.2 171.8,155.6 171.8,151.1 171.9,152.0 172.0,158.7 172.1,151.9 172.2,159.5 172.2,156.2 172.3,154.1 172.4,155.7 172.5,151.3 172.5,153.5 172.6,160.1 172.7,157.0 172.8,158.3 172.9,156.7 172.9,154.3 173.0,155.2 173.1,157.0 173.2,155.4 173.2,158.1 173.3,154.6 173.4,153.3 173.5,159.2 173.6,159.4 173.6,156.9 173.7,153.3 173.8,156.2 173.9,157.8 174.0,158.8 174.0,156.1 174.1,158.8 174.2,156.7 174.3,154.2 174.3,154.7 174.4,157.9 174.5,163.6 174.6,154.7 174.7,154.1 174.7,157.8 174.8,159.1 174.9,157.2 175.0,160.6 175.0,159.1 175.1,155.0 175.2,161.8 175.3,155.7 175.4,156.1 175.4,156.1 175.5,157.5 175.6,154.0 175.7,154.3 175.8,158.8 175.8,155.5 175.9,156.7 176.0,157.4 176.1,158.0 176.1,157.0 176.2,159.5 176.3,158.0 176.4,160.8 176.5,155.0 176.5,160.8 176.6,159.7 176.7,159.7 176.8,156.0 176.9,157.7 176.9,155.5 177.0,157.2 177.1,158.2 177.2,155.5 177.2,156.6 177.3,155.0 177.4,156.0 177.5,157.8 177.6,155.3 177.6,157.2 177.7,156.4 177.8,156.4 177.9,159.3 177.9,160.3 178.0,157.2 178.1,159.4 178.2,157.1 178.3,160.8 178.3,148.8 178.4,159.1 178.5,158.8 178.6,151.9 178.7,158.4 178.7,160.2 178.8,155.2 178.9,155.4 179.0,161.0 179.0,156.3 179.1,154.9 179.2,159.1 179.3,160.8 179.4,158.3 179.4,155.8 179.5,155.7 179.6,156.6 179.7,162.2 179.7,160.6 179.8,163.3 179.9,164.9 180.0,158.9 180.1,156.8 180.1,156.8 180.2,157.9 180.3,160.2 180.4,158.4 180.5,163.2 180.5,160.1 180.6,162.0 180.7,151.9 180.8,159.3 180.8,155.2 180.9,157.7 181.0,153.6 181.1,160.1 181.2,157.1 181.2,159.5 181.3,155.5 181.4,154.6 181.5,158.7 181.5,156.5 181.6,155.9 181.7,156.2 181.8,156.5 181.9,155.1 181.9,156.1 182.0,162.3 182.1,156.9 182.2,159.8 182.3,157.7 182.3,157.0 182.4,155.6 182.5,160.1 182.6,154.2 182.6,155.3 182.7,157.8 182.8,157.4 182.9,157.8 183.0,157.1 183.0,155.9 183.1,158.6 183.2,155.8 183.3,158.1 183.4,159.9 183.4,156.3 183.5,154.9 183.6,155.9 183.7,158.3 183.7,154.0 183.8,156.7 183.9,158.5 184.0,157.5 184.1,154.6 184.1,154.9 184.2,154.8 184.3,156.2 184.4,157.3 184.4,154.7 184.5,154.5 184.6,156.8 184.7,157.9 184.8,156.0 184.8,154.7 184.9,156.4 185.0,161.4 185.1,155.8 185.2,156.4 185.2,157.1 185.3,159.1 185.4,159.5 185.5,155.3 185.5,159.1 185.6,156.4 185.7,156.3 185.8,155.0 185.9,153.1 185.9,156.4 186.0,159.0 186.1,160.3 186.2,157.2 186.2,157.9 186.3,159.3 186.4,156.5 186.5,159.1 186.6,159.3 186.6,156.4 186.7,157.2 186.8,158.1 186.9,154.3 187.0,160.2 187.0,156.8 187.1,156.3 187.2,157.8 187.3,156.6 187.3,156.9 187.4,158.7 187.5,159.9 187.6,159.5 187.7,154.7 187.7,155.9 187.8,159.5 187.9,157.4 188.0,160.6 188.1,156.5 188.1,157.1 188.2,156.0 188.3,153.7 188.4,153.5 188.4,153.5 188.5,156.4 188.6,156.2 188.7,154.2 188.8,157.5 188.8,159.1 188.9,157.2 189.0,155.5 189.1,155.9 189.1,159.1 189.2,155.5 189.3,154.7 189.4,154.8 189.5,157.0 189.5,153.1 189.6,155.6 189.7,157.2 189.8,155.9 189.9,158.5 189.9,158.2 190.0,159.1 190.1,156.8 190.2,157.8 190.2,157.9 190.3,162.1 190.4,155.7 190.5,158.8 190.6,155.1 190.6,156.3 190.7,158.7 190.8,155.2 190.9,155.5 190.9,155.9 191.0,156.0 191.1,154.8 191.2,161.2 191.3,155.9 191.3,158.2 191.4,155.9 191.5,156.5 191.6,156.7 191.7,159.9 191.7,152.5 191.8,158.5 191.9,163.5 192.0,157.5 192.0,153.3 192.1,157.4 192.2,159.6 192.3,155.0 192.4,156.9 192.4,157.6 192.5,158.2 192.6,155.2 192.7,153.1 192.7,154.5 192.8,155.8 192.9,159.4 193.0,157.4 193.1,154.2 193.1,155.0 193.2,160.0 193.3,155.1 193.4,156.6 193.5,157.7 193.5,153.1 193.6,154.2 193.7,158.5 193.8,158.3 193.8,160.8 193.9,160.2 194.0,155.9 194.1,160.2 194.2,159.3 194.2,159.7 194.3,156.8 194.4,158.1 194.5,159.8 194.6,156.3 194.6,156.1 194.7,159.4 194.8,155.6 194.9,157.1 194.9,157.2 195.0,152.4 195.1,154.6 195.2,154.2 195.3,155.4 195.3,157.1 195.4,153.1 195.5,158.2 195.6,157.6 195.6,159.4 195.7,156.7 195.8,160.0 195.9,159.3 196.0,157.0 196.0,153.9 196.1,153.0 196.2,154.1 196.3,156.5 196.4,152.9 196.4,158.3 196.5,157.9 196.6,157.0 196.7,156.1 196.7,155.4 196.8,153.3 196.9,155.4 197.0,158.7 197.1,155.5 197.1,154.4 197.2,155.6 197.3,154.2 197.4,154.6 197.4,156.5 197.5,156.1 197.6,155.1 197.7,159.3 197.8,155.5 197.8,159.6 197.9,160.5 198.0,156.9 198.1,155.6 198.2,154.6 198.2,157.4 198.3,156.2 198.4,156.9 198.5,157.1 198.5,152.2 198.6,154.7 198.7,160.0 198.8,158.0 198.9,154.7 198.9,153.4 199.0,157.6 199.1,154.0 199.2,161.2 199.3,153.3 199.3,161.4 199.4,164.4 199.5,158.6 199.6,156.6 199.6,162.2 199.7,158.3 199.8,159.3 199.9,156.8 200.0,159.6 200.0,156.5 200.1,156.2 200.2,157.9 200.3,157.3 200.3,157.6 200.4,159.8 200.5,155.3 200.6,155.6 200.7,155.7 200.7,158.3 200.8,156.1 200.9,157.6 201.0,156.3 201.1,152.9 201.1,159.2 201.2,157.9 201.3,156.1 201.4,156.7 201.4,155.8 201.5,158.8 201.6,152.6 201.7,160.9 201.8,157.9 201.8,155.4 201.9,164.5 202.0,155.3 202.1,156.2 202.1,153.9 202.2,156.7 202.3,153.7 202.4,157.1 202.5,158.3 202.5,154.9 202.6,160.0 202.7,153.1 202.8,157.9 202.9,155.4 202.9,157.8 203.0,157.9 203.1,155.2 203.2,158.8 203.2,162.8 203.3,148.6 203.4,153.4 203.5,154.9 203.6,157.1 203.6,152.6 203.7,157.7 203.8,156.5 203.9,153.8 204.0,154.3 204.0,153.4 204.1,159.0 204.2,157.1 204.3,158.9 204.3,154.3 204.4,157.4 204.5,158.1 204.6,158.2 204.7,155.8 204.7,154.9 204.8,155.8 204.9,157.7 205.0,156.1 205.0,161.9 205.1,158.7 205.2,153.9 205.3,153.9 205.4,156.3 205.4,154.4 205.5,154.7 205.6,156.1 205.7,156.5 205.8,158.5 205.8,160.6 205.9,153.9 206.0,155.8 206.1,156.5 206.1,154.2 206.2,159.3 206.3,157.8 206.4,159.6 206.5,158.5 206.5,157.4 206.6,159.1 206.7,156.3 206.8,158.3 206.8,155.0 206.9,155.4 207.0,160.8 207.1,154.9 207.2,157.0 207.2,159.8 207.3,156.4 207.4,157.5 207.5,155.4 207.6,158.0 207.6,160.7 207.7,159.8 207.8,157.0 207.9,159.2 207.9,158.1 208.0,155.4 208.1,155.7 208.2,158.9 208.3,157.4 208.3,159.0 208.4,157.2 208.5,154.1 208.6,157.8 208.6,157.0 208.7,157.5 208.8,159.1 208.9,157.7 209.0,155.4 209.0,157.1 209.1,158.1 209.2,156.9 209.3,153.5 209.4,151.9 209.4,153.1 209.5,152.4 209.6,154.3 209.7,159.9 209.7,158.0 209.8,156.1 209.9,158.5 210.0,154.0 210.1,156.2 210.1,155.7 210.2,158.6 210.3,157.5 210.4,158.1 210.5,159.2 210.5,155.4 210.6,154.9 210.7,152.3 210.8,154.0 210.8,156.8 210.9,156.6 211.0,159.2 211.1,152.8 211.2,154.7 211.2,158.4 211.3,154.6 211.4,158.0 211.5,156.5 211.5,157.3 211.6,159.2 211.7,160.3 211.8,158.4 211.9,157.9 211.9,155.9 212.0,153.3 212.1,156.0 212.2,158.3 212.3,155.7 212.3,156.1 212.4,157.7 212.5,158.2 212.6,155.7 212.6,160.4 212.7,156.9 212.8,156.0 212.9,159.7 213.0,155.3 213.0,156.2 213.1,154.8 213.2,156.3 213.3,157.8 213.3,157.9 213.4,157.8 213.5,161.0 213.6,157.5 213.7,157.8 213.7,152.1 213.8,155.7 213.9,160.5 214.0,155.6 214.1,158.8 214.1,156.7 214.2,156.9 214.3,156.4 214.4,155.3 214.4,160.4 214.5,161.5 214.6,154.8 214.7,156.9 214.8,157.5 214.8,153.1 214.9,156.0 215.0,158.4 215.1,159.2 215.2,156.5 215.2,158.7 215.3,156.6 215.4,154.1 215.5,156.4 215.5,156.8 215.6,159.4 215.7,157.0 215.8,154.9 215.9,158.9 215.9,155.6 216.0,157.1 216.1,153.8 216.2,155.8 216.2,157.5 216.3,155.8 216.4,157.1 216.5,156.1 216.6,156.6 216.6,158.1 216.7,158.9 216.8,160.3 216.9,157.7 217.0,158.2 217.0,157.2 217.1,157.3 217.2,155.3 217.3,157.6 217.3,159.1 217.4,156.3 217.5,152.6 217.6,161.9 217.7,156.1 217.7,156.7 217.8,155.8 217.9,155.1 218.0,154.5 218.0,158.6 218.1,155.2 218.2,156.2 218.3,155.8 218.4,157.8 218.4,156.9 218.5,157.6 218.6,156.8 218.7,156.5 218.8,160.7 218.8,160.7 218.9,152.9 219.0,154.1 219.1,154.4 219.1,157.6 219.2,154.9 219.3,152.9 219.4,156.2 219.5,156.1 219.5,157.2 219.6,152.5 219.7,157.7 219.8,153.1 219.9,156.5 219.9,152.8 220.0,155.3 220.1,157.0 220.2,157.4 220.2,156.6 220.3,149.9 220.4,155.6 220.5,157.4 220.6,154.4 220.6,157.9 220.7,155.0 220.8,156.6 220.9,156.3 220.9,158.2 221.0,159.0 221.1,155.8 221.2,155.0 221.3,156.7 221.3,154.7 221.4,152.9 221.5,156.1 221.6,156.9 221.7,152.7 221.7,153.7 221.8,156.7 221.9,155.0 222.0,153.3 222.0,153.6 222.1,149.7 222.2,155.4 222.3,156.0 222.4,154.9 222.4,157.1 222.5,158.1 222.6,158.7 222.7,155.2 222.7,155.1 222.8,157.8 222.9,156.1 223.0,151.1 223.1,153.4 223.1,150.2 223.2,158.1 223.3,153.1 223.4,154.1 223.5,155.8 223.5,157.9 223.6,158.5 223.7,154.9 223.8,154.3 223.8,155.1 223.9,154.3 224.0,155.2 224.1,156.8 224.2,151.1 224.2,158.0 224.3,155.4 224.4,154.6 224.5,155.5 224.5,154.2 224.6,157.7 224.7,158.3 224.8,156.5 224.9,153.4 224.9,155.2 225.0,159.6 225.1,156.1 225.2,154.0 225.3,153.1 225.3,157.0 225.4,154.4 225.5,152.3 225.6,157.4 225.6,157.0 225.7,154.7 225.8,158.0 225.9,157.7 226.0,155.2 226.0,156.2 226.1,154.1 226.2,155.6 226.3,153.9 226.4,152.5 226.4,154.2 226.5,154.0 226.6,155.7 226.7,158.5 226.7,153.8 226.8,155.0 226.9,154.5 227.0,154.3 227.1,158.4 227.1,157.7 227.2,156.1 227.3,155.9 227.4,161.2 227.4,161.8 227.5,161.5 227.6,156.5 227.7,155.5 227.8,156.1 227.8,157.6 227.9,156.0 228.0,157.9 228.1,158.3 228.2,158.7 228.2,156.0 228.3,158.0 228.4,155.9 228.5,160.8 228.5,156.2 228.6,157.0 228.7,155.6 228.8,158.5 228.9,157.4 228.9,157.5 229.0,153.9 229.1,158.0 229.2,155.0 229.2,161.9 229.3,154.3 229.4,156.5 229.5,157.4 229.6,157.5 229.6,156.5 229.7,156.9 229.8,153.9 229.9,155.6 230.0,155.9 230.0,154.3 230.1,156.9 230.2,156.5 230.3,156.2 230.3,157.6 230.4,158.9 230.5,156.5 230.6,158.7 230.7,156.7 230.7,156.8 230.8,160.3 230.9,156.9 231.0,158.0 231.1,159.4 231.1,156.1 231.2,157.3 231.3,153.6 231.4,156.9 231.4,160.6 231.5,158.5 231.6,157.0 231.7,153.9 231.8,158.9 231.8,159.4 231.9,159.4 232.0,157.6 232.1,158.3 232.1,153.9 232.2,156.9 232.3,157.2 232.4,155.3 232.5,155.7 232.5,158.4 232.6,156.0 232.7,155.5 232.8,153.7 232.9,154.2 232.9,155.9 233.0,160.1 233.1,157.9 233.2,157.8 233.2,156.1 233.3,158.0 233.4,159.4 233.5,157.1 233.6,157.1 233.6,155.3 233.7,156.4 233.8,159.4 233.9,158.0 233.9,156.3 234.0,157.0 234.1,155.8 234.2,159.2 234.3,161.6 234.3,155.1 234.4,159.2 234.5,157.2 234.6,155.5 234.7,158.6 234.7,158.2 234.8,156.4 234.9,155.6 235.0,155.7 235.0,156.2 235.1,156.4 235.2,158.4 235.3,157.3 235.4,158.8 235.4,154.2 235.5,156.5 235.6,155.2 235.7,154.7 235.7,153.2 235.8,158.8 235.9,156.4 236.0,153.1 236.1,155.3 236.1,157.2 236.2,155.2 236.3,157.6 236.4,155.3 236.5,156.0 236.5,153.2 236.6,162.2 236.7,158.4 236.8,157.2 236.8,153.9 236.9,156.9 237.0,155.0 237.1,157.2 237.2,158.4 237.2,154.5 237.3,156.8 237.4,158.0 237.5,156.4 237.6,155.1 237.6,159.6 237.7,158.2 237.8,157.7 237.9,153.5 237.9,156.1 238.0,156.4 238.1,155.4 238.2,152.6 238.3,154.6 238.3,157.6 238.4,155.7 238.5,158.8 238.6,156.9 238.6,154.6 238.7,153.9 238.8,157.4 238.9,155.8 239.0,154.6 239.0,155.5 239.1,157.3 239.2,155.2 239.3,156.1 239.4,154.3 239.4,154.6 239.5,156.6 239.6,156.4 239.7,152.2 239.7,157.4 239.8,155.8 239.9,155.7 240.0,152.0 240.1,152.9 240.1,152.5 240.2,157.4 240.3,154.9 240.4,154.9 240.4,156.2 240.5,154.3 240.6,155.1 240.7,155.1 240.8,155.0 240.8,156.2 240.9,152.0 241.0,151.0 241.1,154.6 241.2,153.8 241.2,156.1 241.3,157.3 241.4,155.9 241.5,155.2 241.5,152.8 241.6,156.7 241.7,154.0 241.8,154.9 241.9,153.0 241.9,155.0 242.0,151.9 242.1,152.3 242.2,155.4 242.3,152.4 242.3,152.5 242.4,156.3 242.5,157.9 242.6,157.9 242.6,156.2 242.7,152.3 242.8,154.7 242.9,156.0 243.0,156.3 243.0,155.8 243.1,155.5 243.2,159.2 243.3,158.3 243.3,153.9 243.4,158.3 243.5,156.5 243.6,151.4 243.7,155.0 243.7,155.2 243.8,153.8 243.9,152.2 244.0,156.0 244.1,155.5 244.1,153.2 244.2,153.7 244.3,154.6 244.4,154.4 244.4,150.8 244.5,154.5 244.6,156.1 244.7,156.5 244.8,157.4 244.8,155.0 244.9,153.0 245.0,155.8 245.1,158.0 245.1,153.2 245.2,154.6 245.3,153.9 245.4,155.3 245.5,155.5 245.5,155.5 245.6,154.1 245.7,157.9 245.8,156.7 245.9,154.7 245.9,157.6 246.0,152.5 246.1,157.8 246.2,158.2 246.2,155.8 246.3,155.1 246.4,157.1 246.5,153.0 246.6,155.7 246.6,154.2 246.7,157.5 246.8,155.9 246.9,154.9 247.0,153.2 247.0,150.7 247.1,155.8 247.2,158.5 247.3,155.6 247.3,160.3 247.4,158.1 247.5,157.4 247.6,155.5 247.7,156.5 247.7,155.3 247.8,157.4 247.9,158.6 248.0,161.7 248.0,160.7 248.1,155.3 248.2,153.3 248.3,155.6 248.4,158.6 248.4,159.7 248.5,158.6 248.6,156.4 248.7,157.3 248.8,152.6 248.8,156.8 248.9,159.6 249.0,157.6 249.1,154.7 249.1,155.5 249.2,157.5 249.3,159.7"/>
<rect x="61.4" y="13.4" width="187.9" height="183.6" fill="none" stroke="#5a5a5a" stroke-width="0.9"/>
<line x1="58.4" y1="197.0" x2="61.4" y2="197.0" stroke="#555" stroke-width="0.9"/>
<text transform="translate(56.2,203.4) scale(1,1.14)" text-anchor="end" font-family="'DejaVu Sans', sans-serif" font-size="13.1" fill="#111">0</text>
<line x1="58.4" y1="160.3" x2="61.4" y2="160.3" stroke="#555" stroke-width="0.9"/>
<text transform="translate(56.2,166.7) scale(1,1.14)" text-anchor="end" font-family="'DejaVu Sans', sans-serif" font-size="13.1" fill="#111">2</text>
<line x1="58.4" y1="123.6" x2="61.4" y2="123.6" stroke="#555" stroke-width="0.9"/>
<text transform="translate(56.2,130.0) scale(1,1.14)" text-anchor="end" font-family="'DejaVu Sans', sans-serif" font-size="13.1" fill="#111">4</text>
<line x1="58.4" y1="86.8" x2="61.4" y2="86.8" stroke="#555" stroke-width="0.9"/>
<text transform="translate(56.2,93.2) scale(1,1.14)" text-anchor="end" font-family="'DejaVu Sans', sans-serif" font-size="13.1" fill="#111">6</text>
<line x1="58.4" y1="50.1" x2="61.4" y2="50.1" stroke="#555" stroke-width="0.9"/>
<text transform="translate(56.2,56.5) scale(1,1.14)" text-anchor="end" font-family="'DejaVu Sans', sans-serif" font-size="13.1" fill="#111">8</text>
<line x1="58.4" y1="13.4" x2="61.4" y2="13.4" stroke="#555" stroke-width="0.9"/>
<text transform="translate(56.2,19.8) scale(1,1.14)" text-anchor="end" font-family="'DejaVu Sans', sans-serif" font-size="13.1" fill="#111">10</text>
<line x1="61.4" y1="197.0" x2="61.4" y2="200.0" stroke="#555" stroke-width="0.9"/>
<text transform="translate(61.7,212.4) scale(1,1.1)" text-anchor="middle" font-family="'DejaVu Sans', sans-serif" font-size="13.4" fill="#111">0</text>
<line x1="108.4" y1="197.0" x2="108.4" y2="200.0" stroke="#555" stroke-width="0.9"/>
<text transform="translate(108.7,212.4) scale(1,1.1)" text-anchor="middle" font-family="'DejaVu Sans', sans-serif" font-size="13.4" fill="#111">25</text>
<line x1="155.3" y1="197.0" x2="155.3" y2="200.0" stroke="#555" stroke-width="0.9"/>
<text transform="translate(155.7,212.4) scale(1,1.1)" text-anchor="middle" font-family="'DejaVu Sans', sans-serif" font-size="13.4" fill="#111">50</text>
<line x1="202.3" y1="197.0" x2="202.3" y2="200.0" stroke="#555" stroke-width="0.9"/>
<text transform="translate(202.6,212.4) scale(1,1.1)" text-anchor="middle" font-family="'DejaVu Sans', sans-serif" font-size="13.4" fill="#111">75</text>
<line x1="249.3" y1="197.0" x2="249.3" y2="200.0" stroke="#555" stroke-width="0.9"/>
<text transform="translate(249.6,212.4) scale(1,1.1)" text-anchor="middle" font-family="'DejaVu Sans', sans-serif" font-size="13.4" fill="#111">100</text>
<text transform="translate(155.4,227.3) scale(1,1.06)" text-anchor="middle" font-family="'DejaVu Sans', sans-serif" font-size="13.4" fill="#111">Time (ns)</text>
<text transform="translate(34.5,105) rotate(-90)" text-anchor="middle" font-family="'DejaVu Sans', sans-serif" font-size="13" fill="#111">RMSD (<tspan font-style="italic">Å</tspan>)</text>
<text transform="translate(245.3,30.2) scale(1,1.12)" text-anchor="end" font-family="'Liberation Sans', Arial, Helvetica, sans-serif" font-size="15.5" fill="#1c1cc8">(CG<tspan font-size="10.5" dy="3.5">3</tspan><tspan dy="-3.5">)</tspan><tspan font-size="10.5" dy="3.5">3</tspan><tspan dy="-3.5">-G-quad</tspan></text>
<text transform="translate(240,49.1) scale(1,1.03)" text-anchor="end" font-family="'Liberation Sans', Arial, Helvetica, sans-serif" font-size="15.5" fill="#e61818">ds(CG<tspan font-size="10.5" dy="3.5">3</tspan><tspan dy="-3.5">)</tspan><tspan font-size="10.5" dy="3.5">3</tspan></text>
</g>
<text x="5.1" y="252.3" font-family="'Liberation Sans', Arial, Helvetica, sans-serif" font-size="22.5" fill="#111">C</text>
<text x="101" y="265" text-anchor="middle" font-family="'Liberation Sans', Arial, Helvetica, sans-serif" font-size="11.8" fill="#111">G-quad</text>
<text x="148" y="265" text-anchor="middle" font-family="'Liberation Sans', Arial, Helvetica, sans-serif" font-size="11.8" fill="#111">dsDNA</text>
<line x1="89.3" x2="122.1" y1="273.8" y2="273.8" stroke="#e84848" stroke-width="1.3"/>
<line x1="89.3" x2="122.1" y1="275.4" y2="275.4" stroke="#e84848" stroke-width="1.3"/>
<line x1="89.3" x2="122.1" y1="277.6" y2="277.6" stroke="#e84848" stroke-width="1.3"/>
<line x1="89.3" x2="122.1" y1="293.6" y2="293.6" stroke="#e84a4a" stroke-width="1.3"/>
<line x1="89.3" x2="122.1" y1="300.0" y2="300.0" stroke="#e85a5a" stroke-width="1.3"/>
<line x1="89.3" x2="122.1" y1="318.7" y2="318.7" stroke="#ec7a62" stroke-width="1.3"/>
<line x1="89.3" x2="122.1" y1="332.7" y2="332.7" stroke="#f08a5e" stroke-width="1.3"/>
<line x1="89.3" x2="122.1" y1="334.9" y2="334.9" stroke="#f08a5e" stroke-width="1.3"/>
<line x1="89.3" x2="122.1" y1="347.8" y2="347.8" stroke="#f49a6a" stroke-width="1.3"/>
<line x1="89.3" x2="122.1" y1="353.3" y2="353.3" stroke="#f4a070" stroke-width="1.3"/>
<line x1="89.3" x2="122.1" y1="438.5" y2="438.5" stroke="#28cce0" stroke-width="1.3"/>
<line x1="89.3" x2="122.1" y1="451.0" y2="451.0" stroke="#30b8d8" stroke-width="1.4"/>
<line x1="89.3" x2="122.1" y1="455.3" y2="455.3" stroke="#18b8e0" stroke-width="1.3"/>
<line x1="89.3" x2="122.1" y1="457.8" y2="457.8" stroke="#18b8e0" stroke-width="1.3"/>
<line x1="89.3" x2="122.1" y1="461.6" y2="461.6" stroke="#10b4e4" stroke-width="1.6"/>
<line x1="89.3" x2="122.1" y1="463.5" y2="463.5" stroke="#10b4e4" stroke-width="1.6"/>
<line x1="89.3" x2="122.1" y1="466.7" y2="466.7" stroke="#20bce4" stroke-width="1.3"/>
<line x1="89.3" x2="122.1" y1="470.3" y2="470.3" stroke="#0898e8" stroke-width="1.6"/>
<line x1="89.3" x2="122.1" y1="472.5" y2="472.5" stroke="#0898e8" stroke-width="1.6"/>
<line x1="89.3" x2="122.1" y1="475.6" y2="475.6" stroke="#2098e0" stroke-width="1.3"/>
<line x1="89.3" x2="122.1" y1="478.9" y2="478.9" stroke="#3090e0" stroke-width="1.3"/>
<line x1="89.3" x2="122.1" y1="484.2" y2="484.2" stroke="#3098e0" stroke-width="1.3"/>
<line x1="89.3" x2="122.1" y1="492.6" y2="492.6" stroke="#7060e0" stroke-width="1.3"/>
<line x1="89.3" x2="122.1" y1="496.6" y2="496.6" stroke="#7060e0" stroke-width="1.3"/>
<line x1="89.3" x2="122.1" y1="508.9" y2="508.9" stroke="#7a58e0" stroke-width="1.3"/>
<line x1="127.0" x2="159.8" y1="335.8" y2="335.8" stroke="#f08a58" stroke-width="1.3"/>
<line x1="127.0" x2="159.8" y1="338.2" y2="338.2" stroke="#f08a58" stroke-width="1.3"/>
<line x1="127.0" x2="159.8" y1="341.0" y2="341.0" stroke="#f09060" stroke-width="1.3"/>
<line x1="127.0" x2="159.8" y1="344.2" y2="344.2" stroke="#f09060" stroke-width="1.3"/>
<line x1="127.0" x2="159.8" y1="349.0" y2="349.0" stroke="#f08a58" stroke-width="1.6"/>
<line x1="127.0" x2="159.8" y1="350.8" y2="350.8" stroke="#f08a58" stroke-width="1.6"/>
<line x1="127.0" x2="159.8" y1="352.5" y2="352.5" stroke="#f08a58" stroke-width="1.6"/>
<line x1="127.0" x2="159.8" y1="353.8" y2="353.8" stroke="#f08a58" stroke-width="1.6"/>
<line x1="127.0" x2="159.8" y1="376.4" y2="376.4" stroke="#f4b070" stroke-width="1.2"/>
<line x1="127.0" x2="159.8" y1="430.3" y2="430.3" stroke="#30d0e0" stroke-width="1.3"/>
<line x1="127.0" x2="159.8" y1="433.2" y2="433.2" stroke="#30d0e0" stroke-width="1.3"/>
<line x1="127.0" x2="159.8" y1="444.8" y2="444.8" stroke="#30d0e0" stroke-width="1.3"/>
<line x1="127.0" x2="159.8" y1="447.8" y2="447.8" stroke="#28cce0" stroke-width="1.6"/>
<line x1="127.0" x2="159.8" y1="449.8" y2="449.8" stroke="#28cce0" stroke-width="1.6"/>
<line x1="127.0" x2="159.8" y1="452.9" y2="452.9" stroke="#20c4e0" stroke-width="1.3"/>
<line x1="127.0" x2="159.8" y1="461.5" y2="461.5" stroke="#28c8e0" stroke-width="1.4"/>
<line x1="127.0" x2="159.8" y1="464.3" y2="464.3" stroke="#28c8e0" stroke-width="1.4"/>
<line x1="127.0" x2="159.8" y1="465.6" y2="465.6" stroke="#28c8e0" stroke-width="1.2"/>
<line x1="127.0" x2="159.8" y1="469.0" y2="469.0" stroke="#30c8e0" stroke-width="1.3"/>
<line x1="127.0" x2="159.8" y1="507.6" y2="507.6" stroke="#8048e0" stroke-width="1.3"/>
<line x1="127.0" x2="159.8" y1="511.6" y2="511.6" stroke="#9838d0" stroke-width="1.3"/>
<line x1="127.0" x2="159.8" y1="513.5" y2="513.5" stroke="#9838d0" stroke-width="1.3"/>
<line x1="127.0" x2="159.8" y1="515.5" y2="515.5" stroke="#9030d8" stroke-width="1.3"/>
<line x1="127.0" x2="159.8" y1="517.5" y2="517.5" stroke="#9030d8" stroke-width="1.3"/>
<line x1="127.0" x2="159.8" y1="519.5" y2="519.5" stroke="#8a28e0" stroke-width="1.3"/>
<line x1="127.0" x2="159.8" y1="522.7" y2="522.7" stroke="#9040d8" stroke-width="1.3"/>
<line x1="82.5" y1="272.3" x2="167.1" y2="272.3" stroke="#333" stroke-width="1.1"/>
<line x1="82.5" y1="532.6" x2="167.1" y2="532.6" stroke="#333" stroke-width="1.1"/>
<line x1="83.0" y1="272.3" x2="83.0" y2="396.5" stroke="#333" stroke-width="1.1"/>
<line x1="83.0" y1="403.5" x2="83.0" y2="532.6" stroke="#333" stroke-width="1.1"/>
<line x1="166.6" y1="272.3" x2="166.6" y2="395.7" stroke="#333" stroke-width="1.1"/>
<line x1="166.6" y1="404.4" x2="166.6" y2="532.6" stroke="#333" stroke-width="1.1"/>
<line x1="78.7" y1="400.0" x2="87.5" y2="393.8" stroke="#222" stroke-width="1.1"/>
<line x1="79.8" y1="405.8" x2="88.4" y2="399.6" stroke="#222" stroke-width="1.1"/>
<line x1="161.3" y1="400.4" x2="169.8" y2="394.4" stroke="#222" stroke-width="1.1"/>
<line x1="162.2" y1="406.4" x2="170.7" y2="400.4" stroke="#222" stroke-width="1.1"/>
<line x1="79.0" y1="272.3" x2="83.0" y2="272.3" stroke="#333" stroke-width="1"/>
<text transform="translate(73.4,278.4) scale(1,1.05)" text-anchor="end" font-family="'DejaVu Sans', sans-serif" font-size="13.2" fill="#111">0.0</text>
<line x1="79.0" y1="327.8" x2="83.0" y2="327.8" stroke="#333" stroke-width="1"/>
<text transform="translate(73.4,333.9) scale(1,1.05)" text-anchor="end" font-family="'DejaVu Sans', sans-serif" font-size="13.2" fill="#111">−0.5</text>
<line x1="79.0" y1="383.3" x2="83.0" y2="383.3" stroke="#333" stroke-width="1"/>
<text transform="translate(73.4,389.4) scale(1,1.05)" text-anchor="end" font-family="'DejaVu Sans', sans-serif" font-size="13.2" fill="#111">−1.0</text>
<line x1="79.0" y1="408.4" x2="83.0" y2="408.4" stroke="#333" stroke-width="1"/>
<text transform="translate(73.4,414.5) scale(1,1.05)" text-anchor="end" font-family="'DejaVu Sans', sans-serif" font-size="13.2" fill="#111">−4.5</text>
<line x1="79.0" y1="449.8" x2="83.0" y2="449.8" stroke="#333" stroke-width="1"/>
<text transform="translate(73.4,455.9) scale(1,1.05)" text-anchor="end" font-family="'DejaVu Sans', sans-serif" font-size="13.2" fill="#111">−5.0</text>
<line x1="79.0" y1="491.2" x2="83.0" y2="491.2" stroke="#333" stroke-width="1"/>
<text transform="translate(73.4,497.3) scale(1,1.05)" text-anchor="end" font-family="'DejaVu Sans', sans-serif" font-size="13.2" fill="#111">−5.5</text>
<line x1="79.0" y1="532.6" x2="83.0" y2="532.6" stroke="#333" stroke-width="1"/>
<text transform="translate(73.4,538.7) scale(1,1.05)" text-anchor="end" font-family="'DejaVu Sans', sans-serif" font-size="13.2" fill="#111">−6.0</text>
<text transform="translate(33.9,399.6) rotate(-90)" text-anchor="middle" font-family="'Liberation Sans', Arial, Helvetica, sans-serif" font-size="12.3" fill="#111">Energy (eV)</text>
<line x1="108.2" y1="365.0" x2="108.2" y2="427.8" stroke="#111" stroke-width="1.3"/><path d="M108.2 361.0 L105.6 367.0 L110.8 367.0 Z" fill="#111"/><path d="M108.2 431.8 L105.6 425.8 L110.8 425.8 Z" fill="#111"/>
<line x1="147.8" y1="386.4" x2="147.8" y2="421.5" stroke="#111" stroke-width="1.3"/><path d="M147.8 382.4 L145.2 388.4 L150.4 388.4 Z" fill="#111"/><path d="M147.8 425.5 L145.2 419.5 L150.4 419.5 Z" fill="#111"/>
<text transform="translate(104.3,397.2) rotate(-90)" text-anchor="middle" font-family="'Liberation Sans', Arial, Helvetica, sans-serif" font-size="13" fill="#111">4.139 eV</text>
<text transform="translate(142.3,402.7) rotate(-90)" text-anchor="middle" font-family="'Liberation Sans', Arial, Helvetica, sans-serif" font-size="13" fill="#111">3.837 eV</text>
</svg>
</body></html>
